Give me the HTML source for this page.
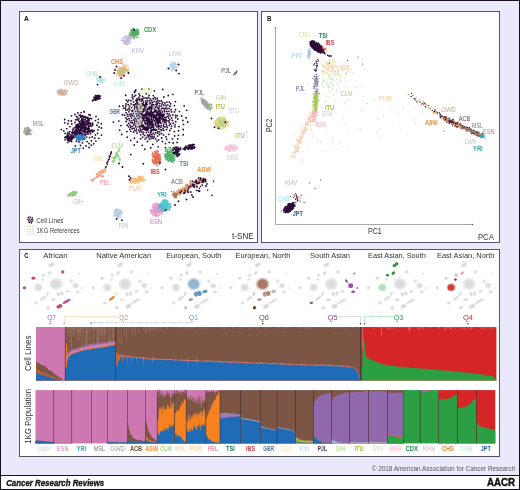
<!DOCTYPE html>
<html lang="en"><head><meta charset="utf-8"><title>Figure</title>
<style>html,body{margin:0;padding:0;background:#fff}body{width:520px;height:490px;overflow:hidden}svg{display:block;font-family:'Liberation Sans', sans-serif}</style></head><body>
<svg width="520" height="490" viewBox="0 0 520 490">
<rect x="0" y="0" width="520" height="490" fill="#17101f"/>
<rect x="1" y="1" width="518" height="474" fill="#e9e9fb"/>
<rect x="1" y="476" width="518" height="13" fill="#fff"/>
<rect x="19.5" y="11.5" width="238" height="231" fill="#fff" stroke="#55555e" stroke-width="1"/>
<rect x="261.5" y="11.5" width="238" height="231" fill="#fff" stroke="#55555e" stroke-width="1"/>
<rect x="19.5" y="249.5" width="480" height="207" fill="#fff" stroke="#55555e" stroke-width="1"/>
<g id="panelA" fill="none" stroke-linecap="round">
<path d="M134.7 32.2h0M135.5 33.3h0M133.9 32h0M132.2 31.2h0M133.4 32.6h0M131.9 30.6h0M134.9 29.9h0M138.5 33.3h0M133.3 35.8h0M133 29.3h0M136.1 33.4h0M135.7 31.7h0M135 30.8h0M132.1 35.7h0M134.6 32h0M136.7 37.4h0M130.9 31.3h0M133.4 34.4h0M129.4 32.8h0M131.1 31.4h0M129.5 35h0M134 33h0M131.1 35h0M135.5 33.3h0M135.1 30.5h0M134.2 33.1h0M133.2 36h0M134.6 31h0M135 33.3h0M133.4 35.1h0M132 30.5h0M132.4 28.6h0M137.7 33.2h0M132.4 36.4h0M134.6 29.3h0M137.2 30.5h0M133.1 31.4h0M134.4 30.4h0M135 34.4h0M134.9 31.2h0M131.3 31.5h0M134.9 35h0M138.5 31.4h0M130.4 34.6h0M137.1 30.8h0M135 30.1h0M132.9 28.5h0M136.8 32.5h0M131.3 34.1h0M134.9 33.3h0M136.3 33.8h0M134.2 33.5h0M134.5 30.6h0M136.6 29.2h0M138.7 30.7h0M132.8 29.8h0M135.3 35.4h0M133.4 35.6h0M135.1 30.8h0M131.4 29.7h0M133.1 32.4h0M134.1 37.1h0M137.9 34.8h0M131 30.5h0M132.5 36.2h0M136.5 30.5h0M133.4 29.4h0M134.4 30.8h0M138.2 37.1h0M136.6 35.6h0M133.8 32.3h0M133.7 31.1h0M134 28.3h0M139 32.3h0M133.5 33.3h0M133.8 33.2h0M135.7 33.1h0M134.4 30.4h0M134.1 33.2h0M131.6 33.3h0M134.7 36.9h0M133.5 38.4h0M138 33h0M136.5 31.3h0M134.6 33.2h0M136.6 31.8h0M133.7 31.4h0M137.7 33.2h0M134.7 30.6h0M136.3 35h0M131.1 33.1h0M135.7 34.1h0M130 32.9h0M133.8 30.9h0M132.2 32.8h0M135.2 31.9h0M132.4 33.4h0M132.9 29.7h0M135.3 33.6h0M136.1 29.8h0M134.2 31.7h0M134.1 32.6h0M136.2 33.6h0M131.8 33.8h0M134.5 33h0M134.8 32.3h0M131.7 32.4h0M135.4 30.8h0M132.3 32.7h0M137.4 31.9h0M135.2 33.6h0M135 30.2h0M133 34h0M134.4 33.8h0M131.5 32.2h0M135.7 34.9h0M137.1 34.6h0M129.8 34.1h0M136.8 34.2h0M132.3 34.4h0M136.9 31.6h0M135.1 32.7h0M130.4 35.1h0M138.2 34.6h0M138.7 34h0M134.5 29.3h0M133.9 34.8h0M134.3 36.5h0M132 36.1h0M137.8 34h0M133.2 29.2h0M134.6 35.9h0M132.5 33h0M131.1 34.4h0M138.2 29.4h0M134.3 29.9h0M137.4 31.7h0M134.7 36.8h0M132.8 32.4h0M133.8 34.1h0M133.1 38.1h0M134.7 37.7h0M133.6 33.1h0" stroke="#2f9e44" stroke-width="1.35" stroke-opacity="0.85"/>
<path d="M129.2 41h0M126.2 38.6h0M128.8 37.8h0M125.2 40.7h0M126.4 43.1h0M127.5 39h0M130 37.4h0M121.7 39.1h0M125.8 37.2h0M126.6 40.8h0M126.9 41.2h0M130.3 38.5h0M127.5 42.1h0M128.9 39h0M123.5 37.9h0M129 40.6h0M128.8 38.7h0M127.3 41h0M127 40h0M124 38.5h0M126.3 43.6h0M127.9 40.1h0M128.7 39.9h0M125.4 42h0M127.5 42.4h0M125.8 43.3h0M126.9 41h0M126.2 38.7h0M123.4 38.9h0M126.5 41.4h0M129.1 41.6h0M123.9 43.6h0M125.9 41.2h0M128.5 42.8h0M123.6 43.9h0M127.1 40.6h0M123.6 36.6h0M129.8 37.3h0M126 38.1h0M128.7 43.2h0M126.9 41.6h0M126.9 44.4h0M130.9 42.6h0M122.9 40h0M129.6 39.7h0M126.5 40.4h0M130.6 40.6h0M127.1 38.9h0M124.7 40.1h0M127.4 44.1h0M128.7 36h0M126.7 40.8h0M128 38h0M125.1 40.7h0M129.1 40.1h0M128.6 42.1h0M127 36.3h0M126.8 42.9h0M129.5 38.7h0M125.3 41.7h0M124.6 40.6h0M129.9 38.4h0M122.7 40.7h0M129.9 44h0M124.8 40.9h0M123.5 40.8h0M130.1 36.8h0M126.3 43.7h0M125.6 40.3h0M129.2 39.7h0M125.4 42.4h0M128.6 41.9h0M124.8 43.3h0M127.6 41.5h0M126.5 37.8h0M125.1 43.5h0M125.2 37.2h0M126.8 39.7h0M126.7 40.9h0M125 42.4h0M125.4 41.2h0M129.7 41.1h0M127.2 38.3h0M129.1 37.1h0M130 40.4h0M128.3 38.5h0M124.3 37.1h0M128.9 39h0M125.7 35.7h0M121.1 40.6h0M123.9 41.2h0M128.8 36.5h0M128.7 38.5h0M126.4 42.4h0M127.9 39.7h0M128.4 39.4h0M126.4 44.4h0M129.5 39.4h0M128.4 37h0M123.7 41h0M129.3 40.9h0M126 36.9h0M124.1 37.8h0M127.6 41.5h0M124 41.6h0M124 38.6h0M122.2 41.7h0M126.5 41.6h0M128 35.8h0M129.5 39.4h0M126.2 41.2h0M129.5 38.8h0M126.3 39.5h0M128.2 42h0M129.6 44.1h0M126.1 37.4h0M126.8 42.5h0M124.1 43.2h0M129.5 42.6h0M125.5 40.6h0M127.9 37.4h0M124.3 41.7h0M127.6 38.5h0M127.6 44.6h0M131.6 38h0M129.3 43.8h0M124.7 44.1h0M125.5 44h0M127.8 40.1h0M126.8 37.3h0" stroke="#c3add6" stroke-width="1.35" stroke-opacity="0.85"/>
<path d="M129.7 36.6h0M130.8 36.7h0M128.9 37.6h0M129.2 35.1h0M129.7 35.6h0M133.8 37.4h0M129.9 37.2h0M129.7 36.4h0M129.7 36.1h0M130.3 35.7h0M131.5 36.9h0M130.8 38.8h0M133.6 35.4h0M130.8 39.3h0M132.7 38.3h0M130.9 36.3h0M131.4 38.2h0M128.3 34.8h0M130.3 34.4h0M130.4 35.1h0M130.1 36.4h0M127.3 36.5h0M131.8 36.2h0M129.9 37.1h0M129.8 33.8h0" stroke="#9fb59f" stroke-width="0.9" stroke-opacity="0.7"/>
<path d="M123.9 69.9h0M117.7 74h0M118.5 70.6h0M121.8 72.8h0M118.6 73.4h0M120.3 76.5h0M119.5 73.5h0M121.7 70.4h0M124.2 69.8h0M123.6 69.2h0M118.3 72.2h0M119.4 72.2h0M121.1 74.8h0M124.7 71.2h0M120.2 71.4h0M119.4 72.2h0M123.6 70.5h0M124.4 67.5h0M122.3 69.1h0M126.7 69.9h0M123 71h0M123.7 65.6h0M128.2 70.5h0M123.8 73.2h0M125.3 66.2h0M124.3 72.2h0M121.2 69.3h0M121.7 75.6h0M121.1 71.3h0M123 67.4h0M117.9 73.6h0M122.8 67.8h0M123.6 70.5h0M123.4 70.6h0M121 70.2h0M120.3 73.1h0M119.1 67h0M126.2 71.6h0M120.9 73.2h0M124 68h0M116.8 75.3h0M124 69h0M120.6 70.5h0M123.5 67.8h0M118 71.5h0M122.7 74.9h0M121.7 75h0M119.9 72.3h0M121.7 71.8h0M119.1 73.2h0M126.5 68.9h0M128.6 68.3h0M120.8 73.3h0M116.2 74h0M124.2 66.5h0M128.4 71.5h0M124.1 68.4h0M125 67.5h0M122.5 76.1h0M123.8 73.6h0M119.4 75.6h0M117.6 73.8h0M121.1 73.5h0M122.2 70.5h0M118 69.8h0M122.1 66.3h0M128.1 67.3h0M124.4 70.6h0M118.4 73.6h0M121.2 67.7h0M123.6 64.6h0M120.3 71.6h0M117.5 70.1h0M126.8 70.2h0M124.8 72.9h0M122.8 73.7h0M119.1 71.7h0M121.6 68.5h0M124.5 66.9h0M124 68.9h0M119.6 76.9h0M124.5 71.2h0M125.9 69.9h0M124 70.3h0M126.4 69.7h0M123.4 75.3h0M117.7 71.3h0M124.1 67.7h0M116.8 70.9h0M127.5 71h0M121.6 74.3h0M119.3 69.4h0M118.7 74.9h0M118.2 73.9h0M119.2 74.1h0M120.9 71.5h0M124.3 71.1h0M125.9 70.8h0M119.4 74.5h0M118.8 73.1h0M124 69.1h0M121.3 70.3h0M119.4 76.5h0M127 65.8h0M120.4 73.8h0M122.3 69.6h0M120.2 67.5h0M127.9 69.2h0M119.1 70h0M126.4 69.8h0M121 73.7h0M118.5 71h0M120.4 70.9h0M121.1 67.8h0M123.9 72.2h0M124 70.9h0M119.2 72.2h0M124.9 69.7h0M117.6 72.5h0M125.4 68.1h0M126.7 69.1h0M120.8 72.5h0M119.7 71.7h0M120.8 68.4h0M122.6 71.3h0M120.2 74.2h0M123.4 69h0M122.1 73.2h0M121 71.1h0M123.8 70.9h0M119.5 74.9h0M122 71.7h0M119.2 71.2h0M120.9 77.2h0M118.5 73.5h0M121.9 68.5h0M119.2 73h0M122.8 71.2h0M124.3 67.2h0M125.1 68.3h0M121.1 71.3h0M120.6 75.3h0M124.4 71.6h0M125.9 68.7h0M124.5 73.3h0M127.5 70h0M127.7 72.2h0M126.3 71.3h0M123.5 69.5h0M123.9 70.5h0M123.3 70.8h0M123.5 71h0M125.4 68.9h0M119.5 70.7h0M120.8 69.9h0M122.2 71.4h0M121.6 71.6h0M122.7 73.2h0M120.3 76h0M120.5 73h0M124.4 75.1h0M120.7 68.1h0M126.8 70.7h0M120.3 74.4h0M124 70.9h0M125.9 71.2h0M126.1 65h0M119.3 71.6h0M122.5 67.8h0M121.8 68.7h0M119.3 73.4h0M119.6 68.2h0M119.7 69.6h0M123.9 69.3h0M124.5 70.4h0M117.7 68.3h0M117.1 72.8h0M125.5 66.1h0M123.1 70.4h0M124.1 67.3h0M127.9 69.3h0M120.7 72.2h0M124.6 69h0M121.6 71.6h0M123.4 72.6h0M121.2 70.3h0M124.3 73.2h0M126.3 69.1h0M122.9 71h0M121.9 71.5h0M122.5 72.7h0M125.1 72.2h0M121.5 75.2h0M121.6 73h0M123.7 72.9h0" stroke="#f2a36b" stroke-width="1.35" stroke-opacity="0.85"/>
<path d="M122.3 72h0M121.1 71.6h0M119.6 70.2h0M122.7 71.5h0M119.5 73.7h0M120.1 72.7h0M124.3 70.8h0M122.4 70.5h0M119.1 72.3h0M118.4 72.1h0M120.6 71.7h0M121.8 71.4h0M122.3 70.7h0M121.6 70.8h0M119.3 71.7h0M121 68.8h0M122.1 72.1h0M121.3 73.5h0M121.8 72.7h0M120.2 70.8h0M122.9 72.9h0M121.4 70.4h0M119.4 71.5h0M119.5 72.5h0M122.7 70.7h0M119.2 75.6h0M121.1 73.7h0M124.2 69.5h0M120.4 73.2h0M123.7 72h0M122.6 68h0M124 69.1h0M123 70.4h0M120.6 71.8h0M121.7 70.9h0M121.4 75.1h0M120.4 74.8h0M123.3 70.4h0M119.5 73.8h0M121.6 73.4h0" stroke="#9fcf7a" stroke-width="1.2" stroke-opacity="0.9"/>
<path d="M100.5 78.7h0M99.4 78.1h0M101.9 80.4h0M100.4 81h0M102.5 83.1h0M101.9 80.1h0M101.7 79.8h0M102.7 82h0M102.9 80.1h0M100.1 78.9h0M96.8 78h0M103.5 79.8h0M101.9 81.6h0M100.4 78h0M99.1 79.8h0M100.3 80.7h0M99.4 78.4h0M98.5 79.9h0M100.8 80.1h0M98.7 77.8h0M97 80.7h0M98.4 80.2h0M102 80.8h0M102.1 82.1h0M99.7 81.9h0M100.3 80.7h0M99.5 80.6h0M97.5 78h0M103.4 79.8h0M101.1 80.4h0M98.4 80.2h0M99.9 78.5h0M102.4 82.8h0M96.8 79.3h0M97.9 80.7h0M100.4 79.6h0M101 82.3h0M100 80.8h0M102.6 80.1h0M102.6 79.6h0M101 80.2h0M100.3 78.2h0M99.6 81.2h0M101.5 78.7h0M102.4 81h0M100.3 80.2h0M101.3 82h0M99.4 80h0M96.8 81.9h0M97.8 78.3h0M102.1 81.1h0M101.3 79.6h0M104.1 80.4h0M100.3 80.1h0M102.3 81.7h0M102.6 80.6h0M98.7 77.3h0M99.7 82.2h0M100.5 76.4h0M97.8 78.2h0M101.4 76.9h0M102.7 83h0M99 77.6h0M105 80.2h0M99.5 79h0M99.7 76.7h0M99.6 79.4h0M98.5 81.2h0M101.2 79.7h0M100.2 81.7h0M104.3 79.3h0M101.7 80h0M101.5 79.3h0M99.7 80.6h0M100 80.7h0M98.1 80.4h0M102.5 78.9h0M100.1 78.6h0" stroke="#a6dfe3" stroke-width="1.35" stroke-opacity="0.85"/>
<path d="M171.8 65.2h0M173.8 65.9h0M174.7 64h0M174.6 67.6h0M173.1 70.9h0M172.7 66.6h0M173.4 69.4h0M174.6 65.3h0M174.1 65.2h0M174.2 64.7h0M173.4 66.1h0M171.4 70.9h0M172.5 63.6h0M171 70.4h0M175.3 63.9h0M172.6 68.4h0M172.3 67.1h0M173.1 67.3h0M175.9 63.9h0M174.4 65.9h0M173.3 66.9h0M172.3 63.6h0M173.3 63.2h0M171.9 68.8h0M172 65.8h0M173.9 67.8h0M174 64.7h0M174.8 65.2h0M173.4 69.5h0M170 64h0M174.3 62h0M172.4 67.4h0M172.5 63.6h0M169.8 65.3h0M171.8 68.6h0M171.5 64.4h0M173 68.5h0M169.9 64.7h0M173.2 70h0M173.4 69.6h0M170.6 65.2h0M171.7 65.9h0M171.2 64.4h0M175.1 66.9h0M172.3 62.9h0M169.5 68.6h0M172.2 63.2h0M175 64.3h0M171.7 62h0M171.2 66.5h0M177.4 67h0M175.1 64.8h0M175.6 69h0M170.7 66.5h0M172.7 65.5h0M172.5 66.4h0M173.8 68h0M170.3 64.4h0M174.8 66.5h0M173.1 68.7h0M174.2 66.9h0M171.6 67.3h0M174.2 65.5h0M171.6 67.2h0M175.2 66.5h0M175.6 70h0M175.1 68.2h0M174.2 65.8h0M174.9 68.2h0M172.5 64.2h0M172.5 63.6h0M170 68.7h0M171.9 63.8h0M174.5 65.3h0M176.2 66.9h0M171.7 69.4h0M171.1 66.4h0M176.3 66.2h0M171.2 65.1h0M173.2 69h0M171.2 66.2h0M175.3 63h0M176.8 64.5h0M169.9 67.8h0M176.5 64.6h0M172.5 68.6h0M176.4 67.3h0M172.3 67.1h0M169.6 68h0M174.2 67.6h0M175.1 64.3h0M174.6 63.5h0M172.6 65.2h0M172 69h0M172.5 66h0M171.3 64.4h0M172.5 63.2h0M173.5 68.9h0M173 69.8h0M174.8 68.9h0M172 63.9h0M174.3 66.8h0M170.4 64.7h0M171.8 66.8h0" stroke="#a9cdea" stroke-width="1.35" stroke-opacity="0.85"/>
<path d="M235.1 73.9h0M235.3 72.8h0M235.6 73h0M236.5 70.8h0M234.5 74.2h0M234.2 73.1h0M233.6 74.8h0M235.7 72.2h0M235.1 73.7h0M235.9 72.5h0M234.2 74.2h0M235.3 73.7h0M236.5 71.8h0M235.4 73.4h0M236.3 72.5h0M235.9 72.3h0M234.9 73.3h0M233.9 75h0M236.2 71.7h0M235.7 72.9h0M236.8 72.1h0M233.6 74.9h0M234.5 74h0M236.4 71.7h0M236.4 72.6h0M235.2 72.9h0M235.4 72.8h0M236.4 72.3h0M234.9 73.2h0M235.7 72.5h0M236.2 73.4h0M235.2 73.7h0M236.9 71.4h0" stroke="#5d5468" stroke-width="1.35" stroke-opacity="0.85"/>
<path d="M209.4 104.6h0M206.4 107.7h0M202.7 99.4h0M203.7 105h0M202.3 100.7h0M204.6 105.4h0M203.4 102.4h0M207.8 108.9h0M206.9 105.4h0M204.6 100.6h0M204.9 104.4h0M201.8 100.9h0M206.6 104.4h0M206.3 101.6h0M207.2 105.1h0M206.9 108.7h0M203.5 99.1h0M205.3 106.8h0M202.7 103h0M205.3 105.1h0M206.3 105.4h0M207.1 106.1h0M205.3 101.2h0M206.8 103.8h0M201.9 101h0M202 99.7h0M204.9 107.3h0M205.9 103.3h0M203.9 100.9h0M205.4 104.1h0M209.1 108.8h0M208.2 107h0M208.7 105.4h0M206.2 102.9h0M206.1 105.9h0M207 104.7h0M208.1 103.9h0M203.4 104.5h0M210.4 107.4h0M204.9 103.9h0M203.6 100.5h0M204.4 102.1h0M209.2 106.9h0M203.6 100.8h0M206.6 104.5h0M206.1 101.7h0M207.8 104.6h0M205.7 105.4h0M209.9 110.2h0M207.2 105.6h0M206.5 103.1h0M207.7 107.8h0M207 101.3h0M205.2 102.4h0M204.6 100.5h0M204.3 102.5h0M206.6 103.3h0M204 99.9h0M207.5 107.7h0M202.3 102.6h0M204.3 102.2h0M203.6 103.6h0M202.3 101.6h0M201.6 101.8h0M207.2 106.3h0M207.6 106h0M207.2 102.4h0M202.7 100.3h0M206.9 106.7h0M205.8 102.6h0M204.4 105h0M203.9 104.8h0M204.7 101.7h0M205.1 107.3h0M201.6 100.1h0M203.8 99.3h0M203.2 104.4h0M204.1 101.5h0M206.8 104.2h0M208.1 107h0M206.9 104h0M204.9 105.5h0M204.8 104.7h0M206.4 107.6h0M200.3 98.9h0M207.5 104.1h0M203.5 100.9h0M201.5 101h0M206.1 103.4h0M207.4 105.3h0M209.1 106.5h0M204.6 104.3h0M210.6 109.7h0M208.1 106.2h0M208.8 108.6h0M204.9 104.9h0M201.2 100.3h0M203.2 100.2h0M206.9 106.4h0M207.1 107.5h0M202.9 102.4h0M207.3 103.7h0M202.2 97.8h0M205 102.6h0M209.5 108.8h0M204.7 104.1h0M210.4 109.2h0M204.3 102.3h0M201.6 103.1h0M207.7 107h0M202.9 104.2h0M205.7 104.8h0M201.6 98h0M209.6 108.2h0M203.5 103.8h0M204.7 103.8h0M206.9 107.5h0M207.6 107.2h0M204 102.1h0M205.5 104.4h0M206.3 105.3h0M208.5 106.4h0M206.5 103.7h0M210 109h0M206.2 102.2h0M205.6 100.8h0M203 103.7h0M203.7 101.4h0M208.3 106.7h0M206.3 104.6h0" stroke="#8a8e96" stroke-width="1.35" stroke-opacity="0.85"/>
<path d="M209.8 104.5h0M208.3 106.6h0M212.6 107.4h0M211.8 104.2h0M211.5 108.3h0M210.6 107.9h0M211.3 105.5h0M211.6 105.4h0M211.3 105.9h0M211.2 107.3h0M209.4 105.5h0M210.7 104.6h0M209.8 106.5h0M209.1 103.3h0" stroke="#7db55a" stroke-width="1.2"/>
<path d="M222.1 123.9h0M226.5 131.2h0M222.8 120.5h0M224.9 124.9h0M223.6 125.9h0M224.6 119.2h0M222.1 123.8h0M217.9 123.7h0M220.5 121.1h0M221.2 125.3h0M226.9 127.1h0M228.5 127.5h0M223.3 122.2h0M218.3 123.8h0M218.4 132.4h0M220.7 118.6h0M227.5 123.9h0M222.9 126.6h0M221.3 123.6h0M218.2 125.6h0M225.3 123.7h0M222.7 126h0M221.3 128.1h0M221.9 122.1h0M228.8 123.8h0M220.8 122.8h0M228.8 121.4h0M226.8 122.9h0M221.7 118.5h0M225.3 126h0M221 129.8h0M217.9 129.8h0M220.3 128.1h0M217.6 119.1h0M223.7 129.1h0M221.6 120.1h0M223.9 122.8h0M225.1 130.4h0M208.1 118.7h0M222.8 126.4h0M213.8 124.1h0M222.2 122.4h0M217.7 119.5h0M221.9 124.7h0M227.4 121.1h0M214.2 127.2h0M222.3 127.9h0M221.2 117.5h0M213.4 121h0M224.3 121.7h0M221.6 118.3h0M219.3 118.5h0M218.4 123.4h0M235.3 122.2h0M219.8 116.4h0M213.8 120.8h0M217.5 125.1h0M219.9 118.2h0M219.8 119.3h0M221.2 129.4h0M217 128.3h0M223.8 116.5h0M219.4 117.6h0M215.6 124.5h0M218 118.2h0M219.8 122h0M225.1 121.2h0M223.6 125.2h0M220 112.9h0M221.6 114.2h0" stroke="#ececa8" stroke-width="1.2" stroke-opacity="0.8"/>
<path d="M217 126.1h0M225.2 121.8h0M220.9 117h0M215.2 122.1h0M223.3 119.3h0M224.1 125.4h0M220.6 120.5h0M220.3 129.1h0M223.1 123.7h0M225.9 120.6h0M222.1 121.6h0M223.5 119.7h0M221.3 124.5h0M220.1 128.2h0M218.1 122.5h0M222.4 126.3h0M220.4 120.1h0M220.6 124.3h0M223.3 118.6h0M224.7 127.3h0M223.5 117.1h0M219.3 118.5h0M218.5 120h0M218.4 126.4h0M225.9 121.8h0M224.5 122.7h0M218.9 125.6h0M217.3 123.6h0M221.6 124h0M219.8 122.2h0M216.2 120.7h0M220.6 122.1h0M221.5 120.6h0M222 125.4h0M224.3 124.7h0M220.2 124h0M219.5 118.8h0M215.1 120.5h0M222.4 125.8h0M224.6 120.4h0M220.5 124.4h0M225.8 122h0M227 122.9h0M222.7 119.4h0M217.6 119.6h0M219.2 120.3h0M215.9 123.7h0M215.1 123.2h0M222.5 126.4h0M224.7 123.8h0M228.7 123.7h0M221.3 124.3h0M220.6 122.8h0M217.4 124.2h0M225.1 125.8h0M222.9 125.8h0M219.3 121.4h0M224 117.4h0M223.6 120.6h0M214.7 124.1h0M222 121.6h0M220.1 124.7h0M220 121.4h0M217.3 122.4h0M219.1 127.6h0M224.8 127.5h0M217.1 119.5h0M228.3 122.3h0M225.4 119.6h0M223.2 123.4h0M222.3 118.9h0M220 123.2h0M220 126.8h0M223.8 123.9h0M218.9 122.3h0M219.7 120.2h0M218.3 126.4h0M226.3 122.2h0M221 123.9h0M223.5 123.3h0M220 123.6h0M223.5 120.6h0M216.6 121.3h0M225.5 124.6h0M215.8 122.8h0M222.6 120.8h0M223.1 120.9h0M221.9 123h0M217.1 123.7h0M224.8 123.4h0M216.1 121h0M219.8 123.2h0M218.6 118.6h0M224.6 123h0M219.2 117.7h0M223.6 120h0M224 119.2h0M215.2 125.2h0M217.2 119.1h0M220.1 124h0M219.3 121.5h0M222.6 119h0M224.1 124.6h0M224.2 124.4h0M220.9 125.6h0M221.5 124h0M219.5 124h0M223.6 122.7h0M221.2 123.4h0M224.2 121.9h0M219.9 120.1h0M217.8 123.9h0M223.3 124.5h0M216 123.5h0M224.2 119.9h0M217 122.4h0M221.8 121.5h0M218.2 119.5h0M219.9 122.9h0M222.1 121.7h0M221.1 121.2h0M220.1 125.3h0M221.5 124.5h0M217.9 121h0M224.9 124.4h0M224.5 123.2h0M226 123.8h0M218.1 120.4h0M225.4 120.2h0M225.7 123.6h0M221.5 125.5h0M222.4 126.5h0M219.4 123.3h0M219.5 120.1h0M222.6 120.8h0M223.6 117.9h0M215 124.7h0M221.7 120.3h0M224.6 117.4h0M221.4 123.5h0M228.4 121.9h0M226.3 125.2h0M223.5 120.5h0M221 117.9h0M222.9 118.6h0M220.4 122.5h0M221.3 120.4h0M220.7 117.7h0M218 120.5h0M222.4 123.7h0M220.3 124.8h0M220.4 126.2h0M221.2 124h0M222.4 121.3h0M217.1 123.5h0M221 125.7h0M223.2 121.9h0M219.8 121.9h0M225.7 121.4h0M224.3 120.8h0M217.9 119.2h0M222.7 121.1h0M227.2 124.1h0M221.3 117.6h0M219 128.5h0M216.2 126.5h0M223.5 122.2h0M222.4 120.9h0M223.4 126.9h0M221.4 123.5h0M222.7 124.7h0M219.6 120.5h0M223.2 126.4h0M224.5 120.2h0M221.3 123.2h0M224.5 117.2h0M215 120.7h0M218.6 124.5h0M226.8 121.4h0M227.9 121.4h0M222.4 125.4h0M221.1 122.6h0M216.9 126.9h0M224.3 124.7h0M216.1 124.5h0M223.5 117.8h0M223.3 118.6h0M223.1 125.7h0M217.4 119.3h0M223.5 120.7h0M216 124.8h0M226.9 121.7h0M222 124.4h0M217.2 120h0M226.4 123.8h0M225.7 126.4h0M219.1 123.9h0M217.8 125h0M222.6 123h0M225.8 119.9h0M221.3 129h0M221.4 120.7h0M217.6 128h0M222.7 122.7h0M217.4 118.5h0M218 123.1h0M219.9 123.9h0M217 124.6h0M227.3 126.3h0M216.6 119.9h0M218.7 124.4h0M220.3 125.2h0M221.5 121.9h0M224.4 119.8h0M224.5 119.7h0M220.4 125.3h0M220.1 125.4h0M221.6 120.1h0M224.5 118.4h0M224.1 126.9h0M219.6 117.7h0M222.5 123.2h0M222.7 122.2h0M219.6 127.5h0M220.3 122.2h0M220.7 126.2h0M219.2 126.2h0M216.2 121.1h0M220.4 120h0M223.6 128.1h0M219.7 121.6h0M221.6 122.7h0M220.7 122.4h0M221.1 120.8h0M217 125.3h0M223 121.6h0M218.5 118.3h0M223.3 123h0M220 117.9h0M223.8 120.7h0M220.3 126.8h0M221.2 124h0M220.3 119.3h0M223.9 125.4h0M220.1 120.5h0M224.6 127.8h0M225.8 125.3h0" stroke="#c9cf68" stroke-width="1.35" stroke-opacity="0.85"/>
<path d="M224.9 119.6h0M222.7 128.2h0M223.2 125.4h0M220.7 123.7h0M221 120.6h0M223.1 121.6h0M220.7 123.5h0M219.2 120.7h0M221.9 126.6h0M224.2 123.2h0M219.4 123.8h0M224.5 120.6h0M223.7 120.9h0M219.8 121.1h0M221.9 123.5h0M221.8 122.3h0M223.5 122.3h0M223.6 123.6h0M218.7 123.4h0M218.6 126.3h0M224.5 122.5h0M222.2 120.6h0M222.9 122.9h0M222.7 126.2h0M225.7 121.7h0M218.9 123h0M224.6 122.1h0M219.9 123.8h0M223.7 123.5h0M225.2 121.1h0M218.5 122.4h0M222.9 125.1h0M221.2 125.4h0M221.2 125h0M222 124.9h0M219.3 122.2h0M219.5 122.1h0M223.5 125h0M224 120.3h0M220.5 122.8h0" stroke="#b6c7a0" stroke-width="1.1" stroke-opacity="0.8"/>
<path d="M224.2 148.9h0M229.5 147.8h0M228.3 148.6h0M226.5 148.4h0M233 150.5h0M228.2 148.2h0M229.6 145h0M230 147.3h0M228.2 150.3h0M236 148.9h0M229.1 147h0M231.6 149h0M226.2 148h0M229.2 149h0M229.7 144.8h0M229.8 146.1h0M228.8 149.1h0M231.4 147.4h0M236.5 148.5h0M230.4 151.5h0M230.4 147.2h0M229.5 148.3h0M236.7 146.6h0M232.9 147.7h0M233.4 145h0M230.3 150.4h0M231.6 147.6h0M231.3 149.9h0M227.8 148h0M228.1 148.1h0M232.7 149.1h0M232 149.2h0M231.2 150.1h0M235.5 146h0M228.6 148.2h0M225.7 148h0M233.9 151h0M226.9 147.1h0M226.4 149h0M229.7 147.9h0M228.7 146.2h0M226.4 146.1h0M232.5 148.4h0M231.7 144.8h0M236.8 146.2h0M226.3 149h0M225.2 146.6h0M229.8 146.1h0M232.2 145.7h0M232.2 148.1h0M234.8 147.1h0M225.5 148.1h0M227.9 147.4h0M230.4 151.3h0M233.9 147h0M229.4 148h0M227.2 147.8h0M234.1 148.1h0M234.3 144.8h0M230.3 147.7h0M236.7 147.7h0M228.9 148.7h0M228.5 147.7h0M229.2 150.4h0M227.7 147h0M228.9 145.5h0M230.7 148.1h0M229.3 146.1h0M233.3 148.6h0M230.6 145.7h0M230.9 147.6h0M236.2 147.4h0M232 147.7h0M231.4 146.8h0M230.8 146.3h0M231.1 147.7h0M232.9 146.7h0M228 148.1h0M235 147.3h0M235 147.7h0M229.1 150.4h0M225.2 148.4h0M229.3 148.9h0M231.4 148.7h0M233.9 146.9h0M230.2 145.3h0M229.8 149.3h0M236.3 149.8h0M228.5 148.9h0M234.7 148.6h0M234.1 148.6h0M226.1 147.8h0M231.9 148.3h0M228.9 147.8h0M227.5 148.4h0M225.3 146.6h0M232.4 148.9h0M229.5 147.2h0M227.1 148h0M229.9 151.4h0M225.4 149.2h0M224.9 149.1h0M232.5 146.6h0M231.4 145.7h0M227.5 147.4h0M230.5 147.9h0M233.3 146.4h0M237.5 148.1h0M227.7 149.1h0M233.1 148.9h0M236.2 147.8h0M236.1 148.7h0M230.9 150.9h0M233.7 148.4h0M234.7 149.9h0M235.2 150.9h0M235.2 147.9h0M230.8 148.3h0M228.2 149.4h0M229.2 147.8h0M230.8 146.9h0M232.3 146.4h0M229.2 147.8h0M231.1 146.7h0M234 149.3h0M232.1 147.2h0M226.8 145.5h0M228.9 149.9h0M226.2 147.1h0M226.7 150.4h0" stroke="#f3b6d0" stroke-width="1.35" stroke-opacity="0.85"/>
<path d="M62.2 95.6h0M63 90.8h0M61.2 92.1h0M62 91.3h0M64.3 91.9h0M62.3 93.8h0M65.8 93.5h0M60.3 91h0M62.8 92.1h0M58.5 92.5h0M62 91.6h0M60.5 92.3h0M65.9 91h0M64.3 91h0M63.6 92.4h0M67.2 90.4h0M66.1 93.2h0M64.2 92h0M60.5 90.6h0M58.5 91.2h0M62.2 91.5h0M61.4 92.1h0M60.6 92.6h0M61.5 92h0M57.9 90.7h0M59.3 94.1h0M60.5 92.6h0M63.8 94.2h0M58 93h0M64.7 91.9h0M64.8 92.5h0M59.4 94.2h0M61 94.3h0M57.4 91.6h0M66 93.5h0M60.4 93.2h0M59.9 94.4h0M63.8 94.7h0M66.3 93.6h0M58.9 95.3h0M60.8 92.8h0M57.6 93.3h0M64.1 91.2h0M62 92.6h0M61.1 95h0M60.4 91.4h0M64.6 92.3h0M58 90.9h0M64.3 92.4h0M63 91.6h0M61 93.4h0M59.9 92.1h0M65.1 91.2h0M67.2 91.8h0M61.1 92.1h0M63.7 91.4h0M66.9 94.1h0M60.7 93.6h0M61.6 92.6h0M59.1 90.1h0M61.9 93.3h0M62.1 89.9h0M61.2 92.7h0M60.3 92.4h0M58.1 91.2h0M58.7 90.8h0M59.7 91h0M60.9 91.9h0M60 92h0M64 94.2h0M63.8 93.1h0M60.3 94.3h0M60.6 90h0M64.1 90.3h0M60.1 92.3h0M62.9 91.8h0M62.2 92.7h0M65.3 94.2h0M60 90.1h0M64.7 92.9h0M63.5 92.3h0M59.6 93.6h0M65.1 92.7h0M64.7 91.4h0M58.8 90.7h0M59.2 94.2h0M59.8 89.6h0M61.4 91.6h0M64.4 95.5h0M63.9 91.6h0M62 93.5h0M66 92h0M63.4 93.7h0M66 92.4h0M62.8 94.9h0M61.1 89.8h0M59.4 91.7h0M62.5 93.4h0M62.6 90.3h0M59 93.8h0M59.2 93.8h0M61.8 91.1h0M64.9 89.2h0M62.4 91.6h0M62.3 92.5h0M63.1 93.1h0M59.5 92.2h0M62.2 92.2h0M65.1 91.2h0M65.2 91.5h0M63.6 92.9h0M61.5 93.4h0M60.1 93.6h0M65.9 94.2h0M63.7 94.6h0M61.2 89h0M59.9 92h0M57.1 91.1h0M65.7 94.3h0M62.8 93.8h0M60.3 92.1h0M61.5 92.6h0M65.6 91.7h0M58.6 91.8h0M61.9 94h0M58.9 93.2h0M62.8 93h0M66.6 91.3h0M62.4 90.6h0M61.3 92.3h0" stroke="#c9a28f" stroke-width="1.35" stroke-opacity="0.85"/>
<path d="M25.7 131.3h0M29.6 131.2h0M30.4 131.8h0M29.7 130.5h0M29.9 131.4h0M28.4 133.7h0M24.7 133.2h0M26.4 132.1h0M27.1 131.9h0M25 129.3h0M28.2 127.6h0M27.6 129.9h0M23.7 131.3h0M29.6 132.3h0M29.7 133.8h0M24.9 130.1h0M28.3 129.6h0M29.6 133.1h0M27.3 134h0M29.9 130.4h0M28.4 132.2h0M30.4 134.4h0M28.4 132.1h0M27.6 131.3h0M29.7 134.3h0M28.5 132.8h0M27 131.7h0M26.2 130.4h0M27.1 128.7h0M26.7 131.2h0M28.4 131.2h0M28.4 133.8h0M27.8 128.7h0M28 134.6h0M28.4 131.5h0M31.5 134h0M30.7 129.3h0M26.7 132.2h0M28.9 134.1h0M27.2 131.7h0M27.8 128.2h0M27.4 130.7h0M26.6 132.6h0M24.9 128.3h0M28.4 131.9h0M30.6 129.3h0M25.9 132.9h0M29.1 128.8h0M27.1 127.4h0M28.6 129.7h0M26.2 134.7h0M27.4 129.5h0M27.7 131.4h0M28.4 129.3h0M27.7 133.8h0M29.4 132.4h0M27.9 127.7h0M28.4 127.6h0M27 131h0M25.5 130.9h0M27 133h0M27 134.7h0M32.1 130.8h0M26.9 132.4h0M27 134.8h0M28.7 129.6h0M29.2 132.8h0M26.4 130.9h0M25.7 130.7h0M30.3 129.7h0M24.5 129.1h0M24 132.9h0M26.1 131.4h0M28.4 130.8h0M29.2 131.1h0M27.2 132.5h0M24.3 130.6h0M28.4 133.1h0M29.3 132.3h0M27.9 134.7h0M26.8 134.2h0M29.2 133.3h0M27.8 131h0M25.4 131.7h0M28.1 130.1h0M30.1 130.9h0M29 132.6h0M25.7 134.4h0M28.4 128.4h0M30.7 129.6h0M27.6 129.2h0M24.4 130.3h0M27.6 134.3h0M24.7 133h0M27.8 131.5h0M26.7 133h0M28.2 132.4h0M28.8 129.1h0M28.9 131.9h0M30.5 131h0M29.5 130.3h0M29.6 129.3h0M25.7 129.9h0M27.6 129.4h0M29.8 132.1h0M29.6 131h0M30.2 130.5h0M27.1 134.1h0M27.7 132.2h0M28.8 131h0M26.4 128.4h0M27.7 131.2h0M27.1 127.8h0M28.3 133.3h0M26.2 133.9h0M25.2 128h0M27 132h0" stroke="#8a8a86" stroke-width="1.35" stroke-opacity="0.85"/>
<path d="M246.8 132.2h0" stroke="#8a9a5a" stroke-width="1.0"/>
<path d="M113.2 162.5h0M114.2 158.1h0M113.5 158.1h0M116.9 155.4h0M116.4 153.9h0M112.5 161.3h0M116.6 154.9h0M118.8 150.3h0M114.5 159.7h0M118.5 151.5h0M116.7 153.9h0M114.9 156.9h0M113.6 160.1h0M119 148.4h0M114.8 157.6h0M119.1 150.7h0M114.4 157h0M114.7 156.7h0M116.2 155.9h0M115.7 154h0M115.5 156h0M112.7 161.9h0M116.1 153h0M117.4 155.7h0M119.2 150.9h0M116.4 153.8h0M119.2 149.3h0M113.6 161.5h0M116.3 153h0M112.7 161.5h0M119.2 150.7h0M115.2 157.9h0M114.9 156.7h0M114 157.3h0M114.9 160.1h0M118.8 149.5h0M114.5 158.9h0M120.1 149.3h0M117.5 152.8h0M114.3 160.7h0M115.8 156.6h0M112.2 161.1h0M113.2 160.4h0M116.1 154.2h0M117.2 152.3h0M117.9 151.3h0M118.7 148.9h0M115 158.8h0M114 159.9h0M118.7 149h0M116.4 155.6h0M113.9 160.2h0M114.4 157.2h0M115.8 154h0M113.1 161.9h0M116.9 154.6h0M117 152.7h0M115.9 155.4h0M117.4 153.5h0M116.5 153.8h0" stroke="#86c973" stroke-width="1.3" stroke-opacity="0.9"/>
<path d="M119.7 161.3h0M119 156h0M119.6 158.4h0M119.1 158.7h0M118.3 155.3h0M119.4 158.4h0M120.5 159.1h0M120.1 160h0M120 160.5h0M117.3 154.3h0M119.9 159.7h0M118.4 156.5h0M119.6 159.8h0M118.2 155h0M118.9 156.7h0M118 157.3h0M119.9 159.1h0M118.9 158.8h0M119.9 160.1h0M117 154.3h0M118.6 156h0M119.5 159.6h0" stroke="#86c973" stroke-width="1.3" stroke-opacity="0.9"/>
<path d="M114.9 157.7h0M114.1 157.1h0M115.2 157.1h0M114.4 157.2h0M115 157.6h0M114.2 157.7h0M115.1 156.9h0M116.1 157.6h0M111.9 158.2h0M112.6 158.1h0M112.6 158.3h0M114.8 157.3h0" stroke="#86c973" stroke-width="1.3" stroke-opacity="0.9"/>
<path d="M96.6 177.2h0M95.6 178.3h0M100.1 174.9h0M102 173h0M105.8 170.3h0M96 177.3h0M97 177.3h0M92.6 179.9h0M104.1 172.5h0M98.7 175.5h0M95 178.6h0M98.6 175.2h0M98.4 175.6h0M103.4 172.1h0M94.9 178.5h0M98.7 175.2h0M97.6 175.7h0M93 179.9h0M93.6 179.6h0M95.2 178.6h0M98.2 176.7h0M99.5 174.8h0M101.7 172h0M104.7 171h0M92.3 179.3h0M105.2 169.8h0M97.8 176.9h0M103 172.7h0M96.1 177.1h0M101.9 172.7h0M101.4 173.4h0M91.3 180.1h0M104.3 171.6h0M92 180.4h0M99.2 176.3h0M94.3 178.2h0M100.4 174.9h0M94 178.7h0M100.7 174.7h0M102.4 172.2h0M100.3 174.8h0M103.5 171.6h0M96.8 176.5h0M101.2 173.6h0M98.1 176.3h0M104.9 171.1h0M93.4 180.6h0M104.4 171.8h0M90.9 179.8h0M103.8 171.5h0M92.2 179.3h0M101.5 173.2h0M93.2 180.2h0M102.4 171.9h0M94.4 178.1h0M92.6 180.3h0M104 171.3h0M100.4 175.3h0M103.9 171.8h0M103.2 172.5h0M93.4 180.7h0M92.8 179.8h0M101.9 173.2h0M103.5 171.3h0M94.2 179.1h0M104.7 171.7h0M92.3 181.3h0M102.7 172.6h0M100.4 173.8h0M96.9 176.5h0" stroke="#f0907e" stroke-width="1.3" stroke-opacity="0.9"/>
<path d="M97.6 173.5h0M96.5 173.6h0M104.6 169.1h0M97.4 173.6h0M102.4 170.3h0M102.7 171.4h0M101.9 169.8h0M98.3 173.2h0M97.9 174h0M101.5 171.5h0M105 169.3h0M98.9 172.2h0M97.3 173.4h0M100.4 172.1h0M97.2 173.7h0M99.1 173.4h0M102.4 170.5h0M97.8 173.6h0M99.8 172.4h0M101.4 170.9h0M97 174.1h0M96.7 173.9h0M104.5 169h0M103.5 169.5h0M103.8 169.6h0M100.5 171h0M99.9 171.4h0M96.6 174.5h0M97.8 173.6h0M96.4 174h0M100.4 171.7h0M99.3 172h0M97.6 174.6h0M96.1 173.9h0M101.2 172h0M96.6 173.9h0" stroke="#f3a45f" stroke-width="1.3" stroke-opacity="0.9"/>
<path d="M103.6 176.1h0M102.2 176.6h0M101.6 175.9h0M101.9 176.2h0M100.8 176.1h0M103.5 176.5h0M101.9 176.9h0M103.3 176.1h0M102.5 176.4h0M102.4 176.7h0M102.3 176.1h0M102.9 175.8h0" stroke="#f0907e" stroke-width="1.3" stroke-opacity="0.9"/>
<path d="M141.3 176.8h0M139.4 179.7h0M136.5 182h0M143.8 181.2h0M138.4 181.2h0M129.7 182.8h0M138.6 178.9h0M136.8 179.3h0M137.3 181.1h0M136.1 178.8h0M139.2 180.9h0M138.5 181.6h0M131.3 182.4h0M137.8 180.3h0M135.6 179.4h0M143.4 180.1h0M132.4 181.2h0M132.8 179.5h0M133.6 181.4h0M134 178.3h0M134.3 181h0M137.4 179.6h0M142.2 181.3h0M131.6 181.2h0M130.8 183.1h0M142 179.1h0M142.8 177.8h0M130.7 182h0M130.1 181h0M137.8 180.4h0M141.8 178.4h0M141.8 180.6h0M138.1 180.2h0M138.6 179.5h0M134.9 181.2h0M137.1 179.1h0M132.2 179.4h0M135.5 182.6h0M130.3 180h0M137.3 180.4h0M142.1 180.4h0M131.9 182.3h0M142.1 179.5h0M139.1 181.9h0M132.1 180.1h0M133.4 179.7h0M131.9 182.6h0M131.5 178.9h0M136 179.4h0M136.4 179.8h0M139.7 178.4h0M142 181h0M141.2 180.1h0M134.3 179.8h0M144.8 179.5h0M135.9 181.6h0M141.8 178.9h0M133.2 179.7h0M135.4 181.8h0M145.4 179.5h0M141.2 177.1h0M136.4 179.1h0M138.6 183.4h0M137.8 178.2h0M133.9 180.9h0M136.2 179.1h0M134.7 182.9h0M135.3 180.3h0M139.1 179.1h0M132.7 178.6h0M140.3 179.3h0M137.9 181.7h0M140.7 181h0M140.7 177.1h0M139.9 179.3h0M140 177.8h0M136.5 180.5h0M139.5 178.7h0M133.1 179.6h0M136 179.1h0M140.5 179.5h0M136.9 179.3h0M138.7 176.7h0M132.8 181.8h0M143 178.4h0M135 182.8h0M139.1 180.9h0M137.3 181.3h0M141.3 179.9h0M135.9 182.8h0M132.8 180.2h0M136 181h0M139.4 179.1h0M143.6 179.7h0M131.9 183.3h0M138.7 181.3h0M142.6 179.6h0M138.4 179.2h0M138.9 182h0M139.2 178.6h0M139.6 179h0M144.6 180.6h0M140 180.9h0M135.1 180h0M137.6 176.5h0M133.8 181.9h0M136.4 182.7h0M134.9 180.2h0M134.6 183.5h0M135.3 179.1h0M132.3 179.9h0M133.8 178.3h0M137.5 181.1h0M138.5 181.1h0M139.2 178.4h0M138.4 176.9h0M133.1 178.2h0M132.5 180.5h0M145.1 179.8h0M130.5 182.3h0M134.5 180.5h0M142.1 178.2h0M140.1 179.7h0M129.9 182.3h0M136.6 179.7h0M135 180.6h0M136.3 179.7h0M140.4 178.7h0M134.7 180.6h0M135.5 178.3h0M143.9 181.2h0M135.7 181.2h0M138.9 177.3h0M132.1 183.7h0M134.7 182.2h0M131.2 179.4h0M137.8 179.2h0M134.2 178.4h0M140.6 179.6h0M141.8 180.3h0M135.2 177.8h0M138.7 182.3h0M137.3 179h0" stroke="#f8b25f" stroke-width="1.35" stroke-opacity="0.85"/>
<path d="M143.5 177.1h0M139.6 177.2h0M140.2 176.2h0M139.9 177.8h0M141.5 177.4h0M141.1 176.4h0M141.3 177.8h0M139.9 178.6h0M141.6 178.1h0M141.4 179h0M142.6 177.8h0M141 177.5h0M143.2 176.9h0M142 177.9h0M138.6 178h0M141.7 178.7h0M139.8 179.2h0M142.8 176.8h0M143.3 176.2h0M142.8 180.4h0" stroke="#f8b25f" stroke-width="1.3" stroke-opacity="0.85"/>
<path d="M157.8 154.5h0M160.2 155.2h0M159.1 161.3h0M156 152.4h0M158.3 160.3h0M154.4 160.2h0M157.7 156h0M152.9 159.8h0M156.9 154.8h0M157.4 156.2h0M152.1 154.4h0M154.4 164h0M158.4 154.9h0M155.8 163.1h0M154.3 154.6h0M160.2 155h0M158.6 160.9h0M156.8 158.4h0M156.1 160.4h0M157.7 157.6h0M156.1 158.8h0M153.6 161.8h0M156.4 163.5h0M158 159.4h0M154.3 151.3h0M157 157h0M156.5 161.7h0M153.5 155h0M154.5 160.6h0M154.3 156.3h0M155.7 158.5h0M156.2 161.2h0M158.6 154.7h0M158.2 159.2h0M154.9 155.1h0M156.1 158.3h0M156.9 151.5h0M158.8 158.9h0M156.6 157.6h0M154.5 157h0M155.2 157.9h0M160.4 160h0M155.3 160.6h0M158.9 156.3h0M155.7 156h0M158.8 157.1h0M156.2 162.1h0M158.9 160h0M156.6 161.7h0M155.3 155.3h0M156.2 156.8h0M156.1 153.2h0M154.7 155.9h0M152.9 156.8h0M160.1 155.5h0M155.9 161h0M152.3 160.3h0M155.6 162.6h0M159.6 158h0M153.1 162.5h0M155.9 160.2h0M152.5 161.6h0M158.9 157.3h0M156.5 152.8h0M156.3 151.9h0M160.5 159h0M159.1 159.5h0M154.9 157.5h0M153 156.5h0M160.6 157.1h0M155.9 157.8h0M156 153.3h0M156.1 152.7h0M154.9 156.8h0M158.9 155.6h0M157.6 161.2h0M155.4 153.2h0M152.1 160.3h0M159.4 163.7h0M155.2 161.9h0M154.7 153.5h0M157.1 161.4h0M159.3 159.7h0M154.5 155.8h0M157.5 163.2h0M156.8 156.2h0M156.5 158.4h0M157.4 153.5h0M156 159.4h0M159 155.8h0M154.4 156.2h0M153.6 162.9h0M156.4 158.9h0M158.3 151.5h0M155.6 161h0M155.4 161.6h0M155.1 154.7h0M156.6 156.3h0M156 158.3h0M157 156.9h0M152.4 159.1h0M160.3 160.2h0M157.5 155.8h0M159.2 154.6h0M157.2 155.6h0M160.3 157.6h0M156.4 157.2h0M158.8 162.4h0M155.8 158.8h0M153.5 154.8h0M156.1 159.7h0M158.2 160.6h0M156.4 162.8h0M160 159.3h0M156.5 157.8h0M155.2 160.5h0M154.9 163.3h0M156.7 161.5h0M159.5 162h0M155.2 159.1h0M154.4 161.5h0M159.3 162.7h0M156.4 157.3h0M155.6 152.7h0M153.9 160.8h0M156.6 156.1h0M152.3 159.5h0M155.5 157.1h0M156.8 150.8h0M159 156.9h0M152.6 152.6h0M158.5 158.5h0M158.2 157.3h0M156.8 162.7h0M156.6 159.5h0M154.1 157.1h0M157.2 156.3h0M160.7 161.5h0M158.8 158.4h0M155.1 155.7h0M158 158.6h0M157.4 156.1h0M155.1 159.2h0M154 163.4h0M154.9 152.2h0M152.3 156h0M157 165.4h0M156.9 154.5h0M156 163h0M154 157.3h0M159.6 160.6h0M155.9 157.6h0M156 151.4h0M158.4 156h0M154.1 157.8h0M155.8 156.7h0M153.9 157.8h0M156 159.4h0M155.3 160.1h0M155.4 158.1h0M156.2 157.3h0M156 155.3h0M156.9 152.4h0M153.2 161.2h0M156.2 163.9h0M159.8 161.1h0M156.9 156.7h0M152.4 153.7h0M157.7 157.9h0M154 158.4h0M157.7 162.5h0M158.9 154.5h0M156.2 157.8h0M157.9 156.6h0M156.7 155.3h0M157.3 150.7h0M155.1 155.4h0M157 157h0M158.1 161.9h0M159.3 164.8h0M159.2 159.3h0M157.6 165.7h0M155.8 157.6h0M155.3 156h0M158.6 153.2h0M159.7 155.8h0M155.1 157.1h0M155 164.3h0M154.2 155.8h0M159.2 160.9h0M156.7 156.3h0M156.4 152.9h0M157.7 158.8h0M157.4 158.6h0M155.4 153.3h0M153.4 154.8h0M154.5 155h0M157.2 161.9h0M157.6 159.8h0M155.7 159.1h0M155.7 160.2h0M159.3 155.6h0M155.6 160.1h0M156.6 155.4h0M154.9 152.6h0M154 155.4h0M152.9 159.4h0M155.2 158.6h0" stroke="#e2502f" stroke-width="1.35" stroke-opacity="0.85"/>
<path d="M172 160.5h0M169.2 154h0M166.7 154.3h0M174.8 154.3h0M170.8 155.9h0M173.5 159.3h0M173.1 153h0M168.2 150.1h0M172.7 160.4h0M168.9 155.1h0M171 151.6h0M168.6 152.5h0M168.4 152.9h0M169.9 148.6h0M172.2 159.9h0M169.3 157h0M173.3 158.7h0M169.4 153.9h0M169.1 156.9h0M170 155.9h0M168.9 160.5h0M173.9 157.9h0M171.9 156.3h0M172 152h0M165.1 151h0M169.9 151.8h0M167.2 153.1h0M169.6 152.9h0M172.3 149.4h0M172 161.9h0M169.6 156.4h0M171.7 150.1h0M165 157.3h0M171.7 159.4h0M167.9 151.4h0M168 158.3h0M170 154h0M167.7 160.6h0M167.7 157h0M169.8 158.3h0M175 154.1h0M167.6 154.1h0M165.7 151.1h0M168.9 155.1h0M168.9 153.8h0M170.2 154.8h0M165.8 155.3h0M166.9 151.4h0M171.3 159.8h0M165.4 155.2h0M172.1 149.8h0M170.1 149.4h0M171 155.5h0M171.5 158.2h0M166.5 153.1h0M173.4 157.2h0M167.8 159.7h0M170.4 154.6h0M164.8 156.1h0M170.8 147.9h0M175.3 154.2h0M169.4 156.5h0M174 160.4h0M168.2 150.1h0M167.4 152.1h0M174.1 158.2h0M170 150.6h0M168 158.5h0M171.8 149.1h0M168.8 155.2h0M169.5 158.9h0M166.9 158.2h0M170.3 154.2h0M171.3 151.5h0M169.4 158.9h0M169.4 155.3h0M167.2 159.3h0M174.1 156h0M167.8 153.7h0M170.7 161.2h0M174.1 152.2h0M169.7 157.1h0M165.1 153.5h0M167.2 154.8h0M168.7 154.4h0M174.2 151.5h0M170.7 156.1h0M170.4 160.7h0M174.7 160.3h0M167.7 155h0M172.6 156.4h0M172.7 162.3h0M171.7 161.2h0M173.2 152h0M170.2 160.1h0M170.9 158.9h0M166.9 154.7h0M169.9 147.2h0M169.9 151.1h0M172 153.7h0M169.3 155.4h0M167.3 150.6h0M169.7 152.1h0M166.3 155.1h0M167.9 156.6h0M169.8 151.7h0M166.8 149.4h0M168.9 156.7h0M169.1 154h0M171.4 158.7h0M171.6 152.6h0M172.6 157.4h0M172 151h0M170.7 156.2h0M168.5 155.9h0M165.9 158h0M168.2 151.6h0M167.6 155.2h0M174.4 153.6h0M165.4 158.8h0M171.5 155h0M169.9 158.3h0M171 159.8h0M168.2 157.6h0M168 157.1h0M168.3 161.4h0M166.7 148.6h0M170.3 156.4h0M170.9 155.3h0M170.2 151.5h0M167.3 152.6h0M169.7 155.8h0M170.3 147.5h0M173.9 157.6h0M168.8 158.8h0M167.6 157.2h0M166.8 154.5h0M173 154.6h0M172 152.8h0M165.4 154.6h0M172.3 160.9h0M170.1 152.8h0M175.3 153.4h0M171.3 150.5h0M170.7 157.3h0M173.2 154.3h0M168 158.3h0M170 155h0M172.9 156.2h0M166.2 159.9h0M172.4 154.5h0M171.9 152.5h0M168.9 157h0M170.9 157.2h0M169.9 158.6h0M170.9 158.6h0M171.6 152h0M168.1 157.5h0M173.9 159.6h0M172 152.8h0M172.8 156.2h0M164.9 157h0M173.4 161.9h0M168.5 156.3h0M167.2 151.7h0M168.1 157.1h0M166.4 156.9h0M170.1 160h0M166.7 150.1h0M167.3 151.9h0M171.2 154.6h0M165.3 149.6h0M174.1 159.2h0M171 152.2h0M173.2 158h0M170.5 157.7h0M172.8 158.6h0M170.2 157.8h0M171.2 156.3h0M168 153.5h0M164.9 154.7h0M167.8 153.4h0M171.3 157.1h0M170.1 151.8h0M172 157.3h0M172.4 159.7h0M170 155h0M168.1 151.2h0M169.9 157.2h0M170.1 155.2h0M174.2 153.4h0M174.5 155.6h0M171 151.8h0M169.5 158.7h0M171.5 155.3h0M169.3 158.5h0M172.7 150.3h0M168.5 147.9h0M172.2 152.3h0M174.6 153.3h0M171.7 159.3h0M169.8 158.9h0M169.2 155.9h0M170 154.4h0M168.7 151.8h0M168.4 152.3h0M174.2 160.4h0M173.5 155.7h0M169.3 155.5h0M171.6 152.5h0M165.7 156h0M166.8 155.7h0M169.8 158.1h0M170.7 159h0M169 156.4h0M173.1 160.4h0M167.8 151.4h0M169.3 154.3h0M167.6 156.5h0M174.8 158.9h0M175.5 156.6h0" stroke="#2fa34f" stroke-width="1.35" stroke-opacity="0.85"/>
<path d="M175.7 193.1h0M174.7 197.7h0M173.2 195h0M174.9 196.7h0M176.2 194.5h0M183.7 191.8h0M175.5 194.6h0M190.6 180.9h0M182.3 189.4h0M178.8 190.1h0M180.6 193.2h0M176.1 195.1h0M183.1 190.1h0M175.9 195.1h0M177.5 193.7h0M181.9 189.9h0M187.9 190.6h0M177.6 193.7h0M189.7 186h0M177.1 191.2h0M198.2 180.3h0M174.4 195.2h0M184.3 189.1h0M177.7 192.5h0M180.6 191.5h0M173.3 194h0M177.7 193.3h0M173.8 193h0M187.4 186.2h0M191.6 184h0M193.2 185.7h0M198.8 181.8h0M178.8 192.8h0M185.8 186.6h0M200.4 179.4h0M182.5 191.8h0M183.5 192h0M186.2 185.9h0M173.2 195.2h0M195.5 183.1h0M179.8 192.6h0M191.3 185.4h0M174.7 196.1h0M180.7 189.2h0M185.3 191.4h0M191.2 183.5h0M185.2 189h0M186.4 189.1h0M199.9 182.3h0M176.9 195.2h0M181.1 192.8h0M197.9 183.6h0M180.6 191.4h0M185.5 190h0M183.2 192.6h0M201.1 178.4h0M187.2 185.5h0M191.3 183.7h0M174.6 197.5h0M179.9 194.1h0M190.7 185.1h0M174.8 195.4h0M192.7 185.4h0M199.7 182.2h0M190.2 182.9h0M189.5 185.5h0M176.2 193.8h0M174.4 195.8h0M199.9 180.5h0M179.5 191.7h0M198.2 181.9h0M185.9 184.3h0M201.7 184.4h0M174.1 196.8h0M193.8 185.4h0M190.1 185h0M184.3 190.2h0M176.1 197.7h0M176.5 197h0M199.4 180.8h0M178 191.1h0M191.3 185.7h0M201.5 178.9h0M176.2 195.6h0M172.8 194.1h0M173.4 195.5h0M180.2 192.3h0M194 183h0M194 185.6h0M184.1 187.7h0M172.6 194.2h0M175.6 194h0M175 196.2h0M174.3 194.8h0M173.8 194.6h0M174.1 196.7h0M182.2 191h0M177.4 192.6h0M178.1 193.3h0M176.2 193.8h0M193.3 185.3h0M176.8 194.1h0M174 194.2h0M176.2 193.4h0M175.6 193.9h0M178.1 193.7h0M178.9 193.2h0M174.9 193.5h0M186.1 188.1h0M174.7 195.6h0M199.1 182.6h0M197.3 182.3h0M183.2 193.4h0M190.3 186h0M175.9 195.6h0M176.5 193.5h0M197.6 180.1h0M181.3 191.4h0M191 186.4h0M194 184.3h0M189.2 186.9h0M180.3 191.2h0M178 191.8h0M173.5 195.3h0M196.5 183.1h0M189.4 188.1h0M171.3 191.6h0M195.2 184.1h0M177.3 195.3h0M196.5 184.5h0M174.7 195.7h0M174 196.6h0M195.6 182.2h0M197.3 181.7h0M182.1 191.6h0M197.7 179.8h0M173.3 194.6h0M174.6 195.5h0M200.5 177.8h0M199.9 180.5h0M187.7 185h0M177.7 193.6h0M189.6 186.4h0M173.1 195.1h0M177.4 191.9h0M195.2 182.3h0M173.9 191.8h0M173.9 194.9h0M181.8 191.1h0M188.9 188.8h0" stroke="#a5683e" stroke-width="1.6" stroke-opacity="0.9"/>
<path d="M182.5 188.6h0M177.6 192.2h0M189.4 184.5h0M179.3 191.8h0M182.4 190.8h0M178.7 191h0M192.1 185.7h0M195.6 185.1h0M202.8 180.4h0M185.5 192.2h0M199.7 182.3h0M192.7 184.7h0M179.5 195.3h0M187.6 188.9h0M203.8 181.1h0M196.1 182.4h0M193.3 181.1h0M194.7 181.7h0M202.1 179.4h0M191.8 186.1h0M181.3 191.2h0M179.9 193.9h0M191.4 183.7h0M181.9 190h0M202.1 180.7h0M202.4 179h0M192.2 185.2h0M194.2 186h0M182 192.8h0M197.7 180.5h0M188.8 187.4h0M195.7 180.3h0M188.7 187.1h0M198.3 182h0M179.8 189.7h0M203.4 180.8h0M196.5 185.6h0M187 188.9h0M188.9 188.4h0M184.4 192h0M190.6 185.7h0M201.1 181.4h0M190.2 186.8h0M185.2 186.8h0M188.9 185.6h0M188 186.6h0M189.3 188.4h0M191 185.9h0M196.7 183.9h0M195.6 182.3h0M177.8 191.6h0M202.9 181.9h0M188.7 191.4h0M189.3 187.4h0M190.8 185.6h0M201.5 181.4h0M178.3 191.6h0M198.9 180.7h0M194 181.7h0M191.7 186.1h0M188.3 187.8h0M191.1 185.1h0M195.1 182.3h0M188.2 185h0M200.6 178.7h0M193.1 186.5h0M189.2 186.3h0M201.6 181.4h0M178.1 192.1h0M200.5 180h0M189.9 185.7h0M181.3 191.1h0M195.9 184h0M182.9 187.4h0M190.5 187.2h0M191.9 186.3h0M202.2 179.1h0M195.1 183.4h0M189.2 186.5h0M194.7 184.6h0M194.4 183.8h0M181.1 190.3h0M187.7 188h0M183.1 192h0M181.2 192.2h0M186.4 188.6h0M179.1 193.2h0M182.3 190.2h0M182.3 190.2h0M190.3 183.2h0M188.5 186.9h0M181.4 193h0M202.6 178.2h0M196.2 181.3h0M195.7 184.3h0M194.3 184.1h0M196.3 182.8h0M183.2 191.1h0M196.7 183.4h0M187.2 188h0" stroke="#f2a15c" stroke-width="1.6" stroke-opacity="0.9"/>
<path d="M154 207.2h0M162.7 213.6h0M157 213.1h0M154.2 208.9h0M157.4 208.1h0M160.9 209h0M152 209.7h0M161.3 209.7h0M156.3 204.2h0M163.6 208.3h0M159.1 203.3h0M156.5 209.9h0M161.1 212.2h0M161.1 206.1h0M155.6 210.4h0M157.6 207.7h0M155.1 207.4h0M152.1 212.9h0M156.2 211.5h0M158.8 211.2h0M153.2 211.4h0M157.7 206.7h0M155.6 209.6h0M155.3 208.5h0M153.5 204.9h0M155.2 215.7h0M150.9 212.6h0M157.9 207.1h0M159.5 204.7h0M159.4 207.3h0M156.7 206.9h0M160.9 207.7h0M158.4 204.6h0M160 206.9h0M158.1 210h0M156.9 211.2h0M159 206.4h0M156.4 206.2h0M163.5 208.7h0M159.7 212.2h0M153.6 212.2h0M156.8 208.8h0M153.8 207.6h0M158 216h0M156.7 216.3h0M159.8 211.2h0M157.3 209.3h0M158.4 213.3h0M161.1 214.8h0M158.6 208h0M156.4 216.1h0M161 209.3h0M156.4 213.6h0M158.2 208h0M155.7 210h0M154.6 208.2h0M159.2 213.4h0M152.9 206.7h0M159.3 208.8h0M162.9 211.7h0M152.4 208.2h0M156.5 204.7h0M152.8 207.5h0M156.9 213.2h0M157.4 215.4h0M161.6 211.7h0M157.9 208.6h0M155.6 210h0M156.5 213.2h0M156.6 213.7h0M157.2 215h0M158.4 206.5h0M159.2 213.3h0M154.9 203.7h0M156.5 210.3h0M158.3 213h0M157.8 209.7h0M156.1 213.3h0M160.3 204.3h0M155.1 205.5h0M157.3 209.5h0M155.3 207.5h0M154.7 210.1h0M157 207.6h0M156.9 208.6h0M154.9 205.8h0M156.6 214.3h0M157.1 208.7h0M155.3 205.7h0M154.7 212.2h0M156.4 211.5h0M159.2 210.6h0M160.6 210.6h0M157.5 208.4h0M155.9 209.3h0M159.9 205.5h0M153.7 210.8h0M156.7 214.1h0M155.1 209.2h0M155.6 208.9h0M151.2 213.8h0M157 208.5h0M152.3 212.1h0M154.9 211.3h0M162 205.1h0M160.2 210.9h0M153.9 210.5h0M153.4 205.8h0M153.8 206.2h0M153.6 214.6h0M153.3 212.3h0M159.4 215.3h0M156.7 205.1h0M155.1 214.8h0M159.2 215.5h0M157.1 206.5h0M161.3 209.4h0M154.5 213.6h0M158 207.5h0M155.4 209.9h0M152 207.8h0M163.3 211.5h0M161.9 209.5h0M152.6 213.7h0M158.5 212.7h0M151.3 211.3h0M160.5 209.7h0M156.7 208.7h0M155.9 209.8h0M161.1 212.5h0M156.9 210.3h0M156 210.8h0M159.9 209.7h0M155.8 209.5h0M159.8 207.5h0M156.9 203.2h0M159.7 211.8h0M159 211.8h0M159.5 206.4h0M156.3 213.3h0M162.8 210.7h0M154.8 210.9h0M155.9 213.8h0M156 213.1h0M160.8 209.9h0M155.4 206.1h0M158.3 205.5h0M151.6 210.5h0M155.2 215.4h0M157.6 212.9h0M156.5 209.7h0M150.5 211h0M158.6 212.2h0M153.6 215.9h0M156.2 212.4h0M159.1 207.1h0M158.4 206.2h0M155.2 214.3h0M156.5 211h0M158.4 209.1h0M150.2 210.2h0M160.3 213.3h0M152.9 210.1h0M156 215.5h0M158.4 207h0M159.4 209.4h0M157.8 206.5h0M158 208.6h0M155.6 214.1h0M157.4 215.8h0M161 212h0M155.4 210.5h0M158.6 206.6h0M159.3 206.3h0M156.1 211.1h0M157.7 210.4h0M157.6 207.8h0M155.2 208.2h0M155.4 213.3h0M162.7 210h0M160.5 210.6h0M157.7 211.1h0M160.4 210.7h0M159.7 204.3h0M153.8 203.9h0M157.8 203.1h0M153.3 209.8h0M156 211h0M157.5 206.7h0M162.4 211.4h0M158.1 211.4h0M160.5 209.5h0M152.8 204.6h0M152.9 214.9h0M155.2 214.7h0M162.9 207.8h0M151.4 210h0M156.6 207h0M160.9 208.4h0M156 208.6h0M161.8 213.8h0M159.2 210.9h0M157.8 204.9h0M156.7 211.8h0M156 203.7h0M157.3 210.4h0M154.6 211.5h0M153.8 210.1h0M153 205.8h0M156.9 209.4h0M154.1 209.2h0M159.9 210h0M158.8 215.8h0M158.7 215.4h0M161 207.6h0M156 207.2h0M151.7 209.9h0M153.7 211.4h0M155.8 207.6h0M155.4 216.1h0M154.8 205.4h0" stroke="#e085c2" stroke-width="1.35" stroke-opacity="0.85"/>
<path d="M165.5 207.6h0M163.7 204.2h0M163.5 201.6h0M163.6 204.5h0M159.3 207.6h0M170.3 207.5h0M168.5 209.2h0M169.5 203.4h0M163.9 204.6h0M164.8 205.9h0M166.3 207.7h0M167.2 205.2h0M165.6 200.5h0M161 209.5h0M164.2 209.2h0M162.1 203.4h0M166.2 205.4h0M164.3 207.1h0M169.1 209.8h0M164.2 204.1h0M161.9 203.1h0M163.8 199.9h0M163.2 206.7h0M164.6 207.1h0M167.2 208.5h0M164 207.6h0M164.2 206h0M167.8 209.4h0M165.4 202.3h0M167.6 206.9h0M164.9 207.3h0M160 205.3h0M158.8 207.1h0M168.3 210.1h0M165.8 208.6h0M162.8 205.1h0M165.6 209.3h0M163.9 205.7h0M165.5 205.3h0M161.5 202.2h0M160.6 205.2h0M169.7 204.9h0M161.2 206.3h0M164.3 204.3h0M168.9 207.5h0M158.2 205.4h0M166.8 200.4h0M164.6 204h0M163.9 202.7h0M165.3 201.4h0M160.4 204.8h0M167.4 205.1h0M165.4 203.7h0M165.9 206.6h0M166.8 204.3h0M169.7 208.5h0M166.1 210.4h0M168.7 205.1h0M163.4 209.6h0M163 202.1h0M164.7 206.4h0M165.8 201.5h0M166.2 206.3h0M167.2 206.5h0M164.6 202h0M171.1 206.4h0M165.5 206h0M165.6 203.8h0M166.1 203h0M163.3 201.7h0M160.7 204.4h0M164.9 207h0M163.4 205.2h0M161.5 206.2h0M164.8 209.9h0M163.7 204.6h0M162.4 206.6h0M158.4 208.4h0M163.8 207.4h0M170.3 207h0M167.4 205.9h0M164.3 205.4h0M168 204.4h0M162.1 207.6h0M162.9 211.1h0M166.2 210.4h0M159.6 205.8h0M164.6 208.4h0M165.4 207.3h0M170.1 205.9h0M162 207.8h0M165.8 207.7h0M162.2 206.1h0M162.6 211.4h0M161.2 210.3h0M164.9 206.6h0M166.2 200.4h0M160.2 205.5h0M164.2 200.5h0M161.4 208.5h0M165.8 207.7h0M161.7 205.5h0M164.7 206.8h0M164.8 208.9h0M163.1 209.4h0M170.2 206.4h0M165.8 203.4h0M164.6 200.4h0M164.9 204.6h0M166.3 205.3h0M167.9 203.7h0M162.9 205h0M163 208.6h0M160.9 202.7h0M163.8 205h0M162.1 207.2h0M167.7 205.6h0M166.6 208.5h0M164 210.8h0M162.6 204.5h0M165.4 204.5h0M166.6 207.9h0M165 199.4h0M160.9 210.1h0M163.7 204h0M162.8 202.3h0M166.4 204.1h0M158.1 204.8h0M162.5 202.3h0M167.6 201.1h0M165.1 203.9h0M161.6 208.8h0M165.9 207h0M165.4 210.1h0M161.4 203.6h0M166.7 204.5h0M166.7 204.6h0M164 206.1h0M167.6 207.2h0M167 208h0M163.8 206.2h0M161.3 210.1h0M162.4 203.1h0M168.4 201.3h0M162.5 207.9h0M163.2 206.2h0M162.2 206h0M161.7 208.7h0M167.7 204.5h0M168.9 206.9h0M166.1 207.8h0M167 208.9h0M163.3 206h0M162.7 206.5h0M169.3 209.7h0M163.3 200.5h0M162 205.5h0M165.1 204.6h0M162.6 200.4h0M164.5 211h0M165 203.8h0M168.9 205.1h0M160.2 205.1h0M165.4 208.1h0M162.1 208.2h0M163 205.2h0M169.9 209.3h0M166.5 202.7h0M163.1 207.9h0M166.1 203.6h0M164.4 207.9h0M168.2 203.4h0M162.8 204.2h0M166.1 210.5h0M163.7 201.9h0M164.5 201.8h0M163.9 207.5h0M162.3 204.7h0M164.8 204.2h0M167.7 205.2h0M163.1 202.2h0M165.7 204.7h0M161.9 206.2h0M167.4 202.5h0M166.8 205.5h0M162.2 202.6h0M160.8 209.3h0M167.2 201.8h0M167.6 205.1h0M160.4 206.7h0M164.2 199.8h0M163.2 206.5h0M167.7 203.6h0M166.4 209.2h0M168.1 206.3h0M167.6 200.9h0M164.2 206.9h0M163 202.7h0M161.9 205.9h0M167.2 200.7h0M167.4 208h0M163.3 205.1h0M163.1 209.9h0M165.3 207.3h0M168.7 204.5h0M165.6 204.8h0M165.2 204.2h0M165.9 205.4h0M166.3 205.6h0M161.2 203.2h0M170.4 204h0M161.3 207.6h0M167.6 203.6h0M163.8 202.9h0M165 203.8h0M161.8 204.4h0M162.5 206.2h0M166.8 204h0M163.8 205h0M163.3 203.1h0M167.4 209.7h0" stroke="#2fb9c4" stroke-width="1.35" stroke-opacity="0.85"/>
<path d="M71.3 193.9h0M74.8 194.5h0M70.5 193.2h0M69.5 195.5h0M74.6 195.2h0M73.2 192.8h0M74.4 193.1h0M72.8 194.8h0M75.6 194h0M74 194.1h0M67.6 195.1h0M72.4 191.7h0M74.6 193.4h0M72.1 192.2h0M76.5 193.1h0M74.9 195.5h0M72.7 194.6h0M70.7 193.2h0M69.7 194.3h0M69.3 196.2h0M73.4 194.8h0M73.4 192.7h0M71.2 196.1h0M69.4 195.9h0M70.3 195.4h0M74.4 192.9h0M69.2 194.9h0M75.3 192.2h0M68 195.5h0M73 192.9h0M74.7 195.1h0M75.8 193.2h0M71.4 194.6h0M70.6 195h0M68.8 195.5h0M74.4 191.3h0M72.6 195.9h0M71.3 194.5h0M71.2 193.5h0M72.8 192.4h0M72.3 193h0M75.5 192.3h0M74.5 192.2h0M71.1 194.5h0M72.4 194.2h0M71.4 193.2h0M74.5 193.3h0M73.2 194.3h0M68.6 195.2h0M72.3 193.8h0M72.5 195h0M74 195.6h0M72.6 193.8h0M72 192.8h0M75.5 194h0M70.9 194.1h0M69.8 195.2h0M74.1 191.3h0M75.3 192.6h0M75.5 191.6h0M76.3 192.1h0M74 194.4h0M72.6 193.6h0M73.3 192.8h0M73 195.6h0M71.1 194.3h0M72.7 194.5h0M72.1 194.7h0M71.3 194.6h0M68.1 195.5h0M70.3 193.1h0M71.1 194.1h0M72 192.3h0M69.5 193.5h0M74 192.2h0M77.1 192.2h0M71.8 192.9h0M75.2 194.8h0" stroke="#72c25f" stroke-width="1.35" stroke-opacity="0.85"/>
<path d="M121.6 213.5h0M118 209.9h0M117.4 214.9h0M117.7 217.7h0M116.1 214.7h0M118.2 214.4h0M117.6 212.9h0M114.1 215.4h0M116.6 211.1h0M117.6 210.6h0M119.3 212.5h0M115.6 210.3h0M118 217.1h0M119.8 213.3h0M114.2 210.7h0M116.1 210.7h0M116.9 216.8h0M117.2 215.7h0M116.6 216h0M118.4 213.8h0M120.1 216.2h0M118.6 217.3h0M120.1 215.6h0M120.2 209.8h0M116.5 208.8h0M118.4 210.1h0M117 214.6h0M119.3 210.1h0M117 211.1h0M117.4 214h0M121.7 211.6h0M117.4 210.6h0M114.3 216.4h0M118.1 215.1h0M118.5 215.9h0M116.7 216.2h0M118 217.6h0M120.1 213.8h0M116.6 213.4h0M117.4 209.3h0M116.2 213.2h0M118.6 212.3h0M117.5 216.5h0M115.7 215.6h0M117.5 217.6h0M114.7 215.2h0M118.6 214.2h0M114.7 212.8h0M122.3 213.8h0M114.4 211.4h0M114.9 214.8h0M116.7 213.6h0M119.1 211.9h0M118.5 212.6h0M120.8 213h0M118.5 212.2h0M121.1 210.5h0M115.4 214.8h0M118.6 216.4h0M120.6 218h0M120.7 211.2h0M117.5 213.1h0M122 212.7h0M119 217.7h0M120.3 215.6h0M115.4 213.9h0M116.1 215.7h0M116.1 212.9h0M121.8 213.3h0M113.7 212.5h0M119.6 213.1h0M118.2 214.7h0M116.9 217.6h0M117.1 216h0M120.6 213.6h0M116.6 210h0M120.2 212.5h0M119.6 212.8h0M115.8 210.4h0M117.2 212.8h0M114.5 214.1h0M120.9 212.1h0M116.9 213.4h0M120.7 213.5h0M119.6 211.9h0M115.8 211.5h0M117.5 213.4h0M119.3 214.4h0M118.8 211.1h0M120.4 211.3h0M118.6 215h0M119.4 209.6h0M116.2 216.1h0M116.5 212.2h0M119.2 214.1h0M118.6 211.7h0M115.4 215.2h0M117.7 213.9h0M116.1 214.7h0M116.6 208.7h0M120.8 215.6h0M115.7 209.4h0M116.4 212.9h0M119.1 215h0" stroke="#a9c1d9" stroke-width="1.35" stroke-opacity="0.85"/>
<path d="M151.6 105.2h0M153.7 127.1h0M144.4 128.2h0M143.5 125.6h0M154 101.5h0M153.5 117.9h0M164.3 110.5h0M148.2 115h0M143.2 105.1h0M151.7 130h0M146.7 111.8h0M143.8 119.1h0M158.8 123h0M162.6 121.6h0M152.2 120.1h0M145.4 114.1h0M151.4 118.6h0M149.4 115.3h0M140.5 99.9h0M155.3 124.5h0M152 112.3h0M158.1 113.1h0M146.1 113.9h0M149.6 106.6h0M149 107.9h0M138.3 103.5h0M166.5 120.5h0M135.8 125.8h0M142.1 117.5h0M147.4 108.4h0M139.3 126.8h0M152.6 114.6h0M146.7 105h0M150.3 102.9h0M151.3 118.3h0M150.3 127.8h0M150.4 114.1h0M148.8 112.2h0M152.7 114.9h0M155.2 110.6h0M148.1 112.9h0M146.8 118.9h0M147.1 111.5h0M151.9 124h0M147.4 109.6h0M147.3 122.3h0M139.8 119.6h0M162.7 114.1h0M141.6 114.7h0M161.1 114.5h0M155.2 129.5h0M156.7 110.9h0M151.6 125.9h0M153.2 124.5h0M151.8 114.4h0M153.9 129.1h0M155.5 99.1h0M160.1 118.8h0M143.3 117.9h0M153.2 117.1h0M160.8 123.2h0M159.3 114h0M143.1 115.6h0M152 125.6h0M151.8 116.1h0M151.6 109.2h0M134.8 121.2h0M155.8 116.3h0M139.2 112.7h0M164.7 121.1h0M154.4 111.2h0M149.3 109.6h0M154.3 115h0M151 115.5h0M146.4 117.3h0M149.4 107.9h0M152.4 129.8h0M144.6 122h0M154.9 118h0M157.6 118.7h0M157.3 98.2h0M158 123.9h0M158.8 109.3h0M154.8 120.7h0M158.9 108h0M150.5 124.3h0M152.9 112.9h0M159.7 115.4h0M163.2 128.4h0M147.7 124.4h0M140.3 106.6h0M164.6 111.7h0M157.9 118.4h0M162.5 115.2h0M156.2 123h0M151.8 111.8h0M145.8 102.9h0M143.6 110.1h0M160 115.6h0M156.8 121.1h0M152.3 122.5h0M142.6 126.3h0M146.6 118.7h0M145.9 115.4h0M148.1 122.4h0M130.6 116.2h0M151.7 113.4h0M160.8 113.4h0M146.4 123.9h0M150.3 128.1h0M152 126.8h0M143.4 105h0M153.1 125.1h0M144.6 108.5h0M147.2 114.4h0M151.9 121.3h0M149.8 106.9h0M150.8 107.7h0M143.9 111.3h0M155.1 129.6h0M142.8 125h0M155.9 110.2h0M146.9 118h0M142.1 118h0M149.5 119.3h0M142.9 111.6h0M146.5 127.8h0M149.1 114.1h0M155.5 123.1h0M155.6 104.3h0M153.4 119.9h0M148.2 118h0M139.8 127.1h0M148.6 97.5h0M148 121.1h0M149.3 123.1h0M146.5 115h0M146.6 126.8h0M155.6 132.7h0M141 123.6h0M150.2 123h0M158.7 127.1h0M144.9 120.3h0M143.4 126.2h0M148.6 121.5h0M147.8 111.8h0M151.9 109.1h0M159.4 125.8h0M149.3 121.5h0M154 111.9h0M146.2 117.2h0M146.8 128h0M152.1 104.1h0M145.6 110.2h0M158.3 122.2h0M147.4 123.2h0M149 108.2h0M143 109.5h0M147.2 118.2h0M143.3 127.5h0M146.8 117.1h0M138 99.5h0M150.1 124.7h0M162.1 116.8h0M137.3 113.5h0M162 108.3h0M149.3 125.9h0M156.2 119h0M143.2 120h0M164 119.6h0M142.7 120.2h0M149.6 123.3h0M160.8 129.8h0M141.4 109h0M134.1 116.4h0M149.6 113.6h0M144.8 129.6h0M143.4 114.8h0M143.8 104.9h0M140 116.8h0M159.7 111.5h0M158.5 111.4h0M140.7 113.6h0M149.4 107.2h0M146.9 102.5h0M157.7 131.6h0M144.3 116h0M161.3 109.9h0M150.1 121.6h0M144.7 127h0M149.5 103.8h0M146.1 113.6h0M165.7 119.1h0M151.1 110.6h0M146.8 120.3h0M150.7 107.7h0M160.3 112h0M143.4 116.1h0M138.4 120.2h0M159.2 117.3h0M154.3 111.8h0M147 114.2h0M149.5 101.1h0M157.7 133h0M131.2 113.9h0M158.9 114.7h0M148.8 118.9h0M154.8 121.2h0M149.7 119.5h0M171.5 111.9h0M145.8 104.5h0M157.7 115.6h0M132 111h0M150.3 112.8h0M155.5 116.9h0M139.3 118.8h0M135.9 126.7h0M150.7 115.8h0M157.1 104h0M158.3 121.3h0M145.3 123.9h0M152.5 104.6h0M140.2 121.5h0M162.2 118.3h0M146.1 112.9h0M158.9 118.2h0M148.2 119.9h0M147.7 121.4h0M161.3 125.6h0M144 116.8h0M159.1 116.9h0M147.5 135.1h0M143.9 108.9h0M144.2 114.9h0M157.9 114.3h0M149.5 122.7h0M147.6 125.3h0M139.5 107h0M158.2 126.2h0M157.3 108h0M152.3 136.5h0M155.5 111.9h0M127.3 125.2h0M146.3 114.9h0M151.1 122.3h0M150.7 111.3h0M146 117.9h0M151.7 117.1h0M144.9 117.6h0M145.4 122.9h0M141.3 113.6h0M151 114.5h0M145 107.1h0M146.5 115.9h0M159.7 113.3h0M149.7 123.6h0M149.8 122h0M139.3 111.5h0M146.3 120.3h0M156.9 126.8h0M153.9 115.4h0M150.4 108.1h0M148.8 135.4h0M150.5 121.1h0M152.8 122.2h0M147.7 135.8h0M132.6 111h0M163.8 119.2h0M158 102.7h0M148.9 120.7h0M159.9 119.9h0M140.9 111.1h0M159 110.6h0M151.3 115.6h0M156.2 115.2h0M147.6 128.8h0M151.1 115.1h0M154.1 115.8h0M157.3 115.6h0M153.6 104.9h0M153.1 113.3h0M145.9 106.8h0M162 117.9h0M151.5 100.5h0M148.4 108.5h0M147.7 118.9h0M141.6 101.2h0M144.8 105.2h0M139.3 124.4h0M151.4 106.9h0M149.4 116.9h0M151.5 119.2h0M141.2 109h0M147 104.3h0M145.5 128.4h0M156.9 112.7h0M139.6 120.8h0M139.4 111.2h0M159 119.7h0M152.5 107.1h0M134.6 107h0M135.6 103.9h0M137 105.6h0M137 98.8h0M137.9 99.1h0M140.4 104.9h0M137.3 103.7h0M142 99.7h0M136.8 101.6h0M141.1 107.3h0M143.2 102.9h0M144.5 106.5h0M132.6 110.4h0M144.5 105.7h0M133.3 104.9h0M143.5 102.3h0M138.9 108.9h0M140.1 99.3h0M135.9 100.5h0M142 104.4h0M141.2 99.2h0M137.2 108h0M137 102.2h0M141.7 106.4h0M142.3 103.4h0M141.4 103.6h0M137.8 104.5h0M139 97.4h0M142 100.6h0M141.7 102.8h0M142.6 112.5h0M139.4 107.4h0M136.7 107.1h0M139.9 100.7h0M140.4 107.7h0M137.3 109h0M140.4 107.2h0M136.3 113.9h0M139.8 99.6h0M137 100.6h0M145.8 103.5h0M142.8 101h0M139.8 104.7h0M134.8 106.3h0M135 104.4h0M161.4 117h0M162.6 116.6h0M164.1 120.2h0M158.3 119.9h0M158.3 124.6h0M159.6 121.8h0M157.6 126.5h0M162.1 119h0M159.6 121.4h0M161.4 117.6h0M160.7 118h0M163.5 126h0M164.6 122h0M157.6 121.9h0M156.1 116.3h0M167.3 127.6h0M158.2 119.1h0M154.8 117h0M153.4 119.8h0M160.8 123h0M158.4 123.3h0M153.6 126.5h0M157.2 115.2h0M156.7 118h0M164.9 126.9h0M161.9 130.1h0M160.9 117.1h0M155.9 119.5h0M160.2 113h0M163.6 116.2h0M161.6 116h0M165.2 119.5h0M161.3 114.6h0M163.7 124.1h0M162.8 119.7h0M158.7 118.8h0M166.3 124.1h0M162.4 118.7h0M164.2 114.4h0M156.7 120.1h0M156.6 129.7h0M160.2 120.4h0M157.7 122.3h0M163.4 119.1h0M162.6 119h0M165.8 122.2h0M163.3 108.1h0M156.4 114.4h0M164.7 117.3h0M144.6 127.2h0M153.2 127.7h0M158.2 126.3h0M149.1 125h0M147.9 129.7h0M149.3 125.6h0M153.5 130h0M141 126.9h0M143.5 132.3h0M146.7 120.8h0M147.4 130.3h0M136.5 129.1h0M148.1 128.9h0M138 126.9h0M149.8 134.5h0M150.2 127.6h0M134.7 130.3h0M148.4 128.1h0M146.9 127.8h0M142.9 129.2h0M150.7 131.1h0M155.9 125.4h0M148.4 127.4h0M140.5 124.4h0M138.7 130.2h0M140.1 126.2h0M140.9 126.6h0M151.5 131h0M147.4 128.9h0M145.8 130.2h0M150.3 128.5h0M146 130.2h0M146.1 129.2h0M141.7 125.4h0M142.8 129.6h0M146.1 127.8h0M140.1 128.2h0M154.2 129.8h0M146.5 127.2h0M143.2 125.6h0M150.8 132.7h0M140.6 134.8h0M151.2 127.8h0M146.3 132.6h0M155.3 130.2h0M129.5 120.3h0M132.5 123h0M169.1 114.2h0M135.5 111.5h0M134.5 108.9h0M133.8 125h0M171.6 118h0M135.2 118.3h0M170.6 124h0M122.4 114.7h0M136.9 116h0M143.4 98.4h0M136.8 121.7h0M136.2 123.8h0M160.9 127.4h0M146.9 98.2h0M161.2 106.1h0M127.3 114.4h0M127 131.6h0M174.5 111.9h0M127.7 101.8h0M138.8 115.2h0M153.3 95.6h0M155.6 138.9h0M131.5 118.1h0M166.4 129.6h0M133.4 113.5h0M129 108.1h0M132.2 126.4h0M155.3 107h0M159.8 103.6h0M146.3 137.6h0M168.7 111.4h0M133.7 119.7h0M132.2 128.7h0M133.5 101.9h0M128.9 118.6h0M132.8 99h0M173.3 123.2h0M127.9 116.3h0M169.8 119.8h0M131.5 107.6h0M142 122h0M132.4 94.9h0M168.8 118.1h0M126.2 121.5h0M167.1 113.7h0M142.6 96.5h0M163.7 105.2h0M129.8 109.8h0M154.4 134.6h0M129.6 106.1h0M148.6 137.5h0M125.9 117.9h0M125.8 110h0M172.7 114.9h0M158.9 128.9h0M162.6 102.4h0M149.5 139.4h0M168.1 116.2h0M162.4 111.9h0M159.6 131.8h0M130.7 122.4h0M126.1 112.6h0M149.1 95.3h0M154.3 136.9h0M128.9 111.8h0M156.8 105.9h0M169.3 122.5h0M166.8 111.4h0M175.1 124.8h0M142.6 137.1h0M172.4 120.5h0M156.2 101.9h0M171.1 128.3h0M161.4 133.5h0M159.4 134.5h0M137.5 110.8h0M144.5 135.5h0M166.3 107.1h0M148.5 132.1h0M125.4 108h0M169.3 102.1h0M130.8 100.7h0M145.7 100.8h0M128.2 104.6h0M153.2 138.3h0M123.6 108.3h0M154.4 108.9h0M169.1 108.4h0M175.5 109.7h0M165.7 105.1h0M150.5 136.4h0M130.1 125.4h0M167.1 108.8h0M157.5 100.5h0M128.5 126.8h0M171.6 126.1h0M134.1 96.6h0M141.7 131.9h0M153.2 133.1h0M159.3 106h0M177.2 115.7h0M164.9 103h0M128.8 123.5h0M136.3 131.1h0M139.8 131.7h0M129.8 129.3h0M170.1 106.2h0M162 104.1h0M166.5 117.1h0M136.5 119.6h0M163.5 134.9h0M124.6 115.2h0M140.6 138.7h0M147.6 100.6h0M169.2 125.3h0M138.9 93.9h0M175.7 117.6h0M170.6 103.7h0M126.1 103.9h0M167 102.1h0M134.4 92.3h0M143.1 134.1h0M141 130h0M137.1 133.2h0M163.9 130.3h0M169.8 130.5h0M125.7 95.2h0M127.8 109.7h0M157.6 136.1h0M135.6 95.4h0M129.4 114.6h0M145.1 139.1h0M177.8 119h0M131.1 103.9h0M150.2 98.9h0M161.3 101h0M128.6 100.1h0M157 141.1h0M137.7 117.9h0M132.2 97.1h0M152.3 102.3h0M151.4 138.3h0M138 123.1h0M166 136.9h0M130.7 131.3h0M170.3 115.8h0M146.3 93.8h0M158.6 139.8h0M153.2 98.7h0M134.1 128.2h0M127.1 119.4h0M133.6 132h0M147.4 141.5h0M125.8 105.9h0M166.7 125.9h0M154.7 97.3h0M131.8 120.8h0M167.8 105.1h0M175.4 115.5h0M171.1 109.7h0M119.4 106.2h0M151.9 134.6h0M132.4 115.5h0M166.7 139.3h0M175.7 121.7h0M168.3 120.9h0M139.9 95.6h0M130.6 127.3h0M145.1 97.8h0M126.4 100.2h0M165.1 108.7h0M174.9 126.8h0M159.3 100.9h0M134.5 123.1h0M123 106h0M154.4 90.8h0M163.8 97h0M137.3 142h0M183.5 124.4h0M121 125.6h0M127.3 137.2h0M175.4 101.6h0M152.8 144.4h0M186.1 117.7h0M168.3 95.5h0M179.4 111.6h0M172.8 94.3h0M158.3 146.8h0M177.6 138.8h0M184.2 105.9h0M178.5 130.7h0M183.2 129.5h0M186.7 110.3h0M134.4 138.2h0M162.7 89.4h0M144.7 149.2h0M183.2 134.7h0M174.4 105.6h0M179 126.6h0M174.4 131.6h0M118.8 121.1h0M174.6 135.9h0M173.2 143h0M113.4 122.1h0M187.7 122h0M142.2 145.3h0M130.7 140.4h0M181.6 116h0M119.7 130.1h0M148.8 89.1h0M141.8 89h0M121.7 134.5h0M165.4 147.6h0M182.8 120.5h0M162.5 141.5h0M134.3 145h0M177.1 142.4h0M168.7 134.3h0M150.7 147.7h0M172.4 138.9h0M169.3 142.4h0M165.5 143.6h0M161.6 138h0M178.4 135.3h0" stroke="#2b0c38" stroke-width="1.85"/>
<path d="M80.6 126.3h0M88.7 123h0M87.9 118.8h0M83.7 128.3h0M80.4 123.1h0M82.3 127.1h0M88.4 127.6h0M77.8 128.5h0M90.4 124.6h0M77 116.7h0M90 132h0M88.9 129.7h0M84.1 134.4h0M91.5 118.6h0M81.6 133.9h0M88 128.2h0M94 130.7h0M87.8 121.6h0M83.9 132.1h0M88.7 127h0M84.6 127.7h0M78.9 118.8h0M81.5 126.4h0M80.5 115.1h0M87.1 121.7h0M84.5 128.6h0M84.5 116.7h0M84.2 112.1h0M92.6 132h0M78.4 123.8h0M81.9 121.8h0M82.3 133.4h0M83.8 124.2h0M81.1 128.9h0M83.7 123h0M89.1 119.8h0M86.4 127.8h0M90.5 133.7h0M78.2 128.3h0M86.1 124.4h0M92.6 123.1h0M83.5 131.6h0M85.1 126.9h0M83.7 127.7h0M83.1 120.5h0M77.3 126.6h0M76.8 129.3h0M87 131.9h0M81.6 127.1h0M76.3 127.3h0M88 134h0M88.9 131.9h0M89.1 122.7h0M75 133.6h0M87.4 133h0M86.4 124.6h0M82.8 125.2h0M83.2 119.3h0M82.3 127.4h0M86.8 124.9h0M84.5 127.5h0M83.6 126h0M88.2 123.1h0M92.3 125.5h0M84.6 138.7h0M82.5 127.6h0M80.5 131h0M86.9 123.6h0M88.6 121.8h0M79.1 134.5h0M82.7 125.8h0M83.2 123.1h0M83.9 130.2h0M86.1 129.4h0M77.7 132.2h0M79.7 121.7h0M84.2 125.7h0M79.8 123.2h0M81.7 121.3h0M89.8 131.8h0M88.6 127.3h0M86.3 123.7h0M82.9 125.1h0M88.5 130.3h0M82 122.3h0M82.8 121h0M77.5 124.7h0M84.7 127.3h0M85.5 128.7h0M77.6 125h0M82.3 124h0M86.7 117.9h0M85.2 131.3h0M84.9 132.1h0M82.3 123.8h0M83.4 117.3h0M85.5 132.2h0M80.8 115.6h0M81.2 120.4h0M85.1 129h0M80.6 128.8h0M87.9 130.6h0M88.9 114.6h0M78.6 118.4h0M87.2 120.5h0M84.7 127.8h0M82.8 131.1h0M83.9 124h0M85.5 121.2h0M83.8 125.3h0M77.3 119.4h0M87.7 123.4h0M82 135.4h0M85.1 128h0M91 126.1h0M82 120.3h0M90.6 123.3h0M80.5 116.9h0M81.9 123h0M85.4 116.8h0M85.7 132h0M88.6 118.3h0M89.6 126.3h0M84.9 126.3h0M85 135.2h0M80.7 125.7h0M83.3 121.6h0M79.5 134.4h0M85.9 117.4h0M80.7 127.5h0M91 131h0M81.8 127.8h0M89.7 123.6h0M88.3 125h0M76.6 116.7h0M83.8 123.5h0M84.5 128.5h0M80.2 125.3h0M87.8 117.4h0M81.7 118.9h0M83.3 126.5h0M83.4 120.2h0M83.4 123.4h0M85.9 134.4h0M81.9 129.2h0M84.3 130.2h0M79.2 125.9h0M77.2 126.6h0M76.7 133.4h0M83.2 125.5h0M93.6 131.1h0M89.3 120.2h0M84 111.4h0M81.9 118.5h0M87.2 141.6h0M85.2 124.3h0M78.6 125.3h0M82 128.6h0M81 129.9h0M79.3 115.1h0M80.3 123.8h0M88.2 123.2h0M89.6 122.9h0M75.7 132.7h0M80 129.2h0M86.1 128.8h0M85.2 129.7h0M81.4 116.3h0M88.4 122.7h0M85.1 119.2h0M82.3 126h0M88.9 130.2h0M78.4 120.9h0M82.5 126.4h0M81.1 123.1h0M92.2 129.9h0M80.6 127.5h0M83.9 116.7h0M81 133h0M82.2 122.4h0M87 118.1h0M83.5 139.3h0M84.1 116.4h0M84.9 127.5h0M83.5 125.8h0M81.4 124.6h0M88.6 130.8h0M84.7 127.9h0M87.6 128.9h0M82.4 135.4h0M84.8 122.9h0M82 133.8h0M82.5 131h0M84 122.4h0M80.5 125.6h0M88.3 129.6h0M90.1 115.2h0M81.4 124.7h0M84 123.1h0M84.1 128.6h0M92.5 123.8h0M81.5 130.1h0M82.1 128.1h0M84.8 134.5h0M81.2 123.9h0M86.8 128.3h0M86.6 137.1h0M89.2 128.6h0M92.7 124.7h0M88.8 119.7h0M81.2 129.7h0M90.4 130.4h0M86.8 129.1h0M82.5 116h0M78.9 132.4h0M82.5 121.9h0M84.8 121.7h0M84 124.7h0M83.1 126.4h0M78.3 127.9h0M80.2 123.5h0M84.8 128.8h0M90.4 118.3h0M85.2 129.4h0M80.9 135.8h0M79.8 132.4h0M85.5 127.1h0M78.5 125.9h0M84.4 127.4h0M85.1 130.5h0M77.5 128.1h0M88.1 133.7h0M75.7 119.8h0M81.4 128.2h0M89 122.8h0M80.5 126.4h0M84.8 126.2h0M86.4 124.7h0M82.1 128.8h0M82.5 124.8h0M88.5 126.7h0M83.8 127.6h0M85.2 128.3h0M82.7 137.9h0M84.2 124.3h0M79.8 127h0M80.5 117.1h0M85.9 126.8h0M76.2 126.4h0M84.6 124.9h0M71.7 135.3h0M68.5 138.4h0M69.1 139.9h0M73.2 136.7h0M71.1 137.4h0M71 140.9h0M72.5 136.5h0M73.5 136h0M67.3 134.9h0M67.5 138.7h0M72.2 136.2h0M65.1 133.4h0M69.3 141h0M70.6 137.2h0M72.6 137.1h0M66.1 136.7h0M67.5 136.6h0M70.2 137.3h0M76.6 137.8h0M73.8 137.4h0M70.8 139.8h0M69 137.9h0M68.4 136.7h0M70.9 134.7h0M65.1 139.8h0M67.9 136.2h0M71.6 132.6h0M67.8 138.1h0M67.8 136.4h0M71.6 137.9h0M75.6 136.3h0M70.1 137.9h0M64.9 137.5h0M66.9 138.3h0M72.3 138.8h0M66.6 137.3h0M67.5 139.9h0M72.5 138.7h0M70.8 136.8h0M70.9 137.9h0M67.7 142.3h0M69.1 133.8h0M69 136.6h0M69.5 131.7h0M68.5 140.4h0M69.4 139.1h0M71.7 141.6h0M71.2 137.8h0M68.9 135.7h0M71.3 140h0M67.7 133h0M66.8 138.1h0M76.4 136.3h0M74.2 137.4h0M67.3 135h0M71.4 137.8h0M71 137.4h0M69.4 139.7h0M70.6 138.9h0M66.2 137.1h0M80.8 129.5h0M80.9 123.8h0M76.7 132.2h0M79.1 134.2h0M72.9 133.7h0M76.1 131.8h0M78.3 127.9h0M76.2 124.8h0M77.3 126.9h0M78.3 127.2h0M73.2 132.4h0M74.3 132.5h0M80.4 133h0M79.8 139.6h0M75 130.9h0M75.3 127.1h0M79 127.4h0M76.4 126h0M77.1 129.1h0M75.3 133.2h0M78 137.2h0M73 129.5h0M76.5 135.2h0M73.5 128.2h0M79.1 130h0M78.7 130.9h0M75.5 129.1h0M72.7 131.1h0M76 133.8h0M74.7 134.6h0M77 130.4h0M76.3 133h0M77 125h0M75.8 130.6h0M77.6 133.7h0M76.1 134.2h0M79.6 131.6h0M78.2 127.2h0M71.7 137.8h0M73.1 132.2h0M97.6 133.3h0M95.4 120.6h0M75 114.5h0M75 122.5h0M76.4 141.2h0M98.3 119.3h0M81.2 112.6h0M70 126.6h0M89.1 147.5h0M78.9 142h0M71.8 124h0M89.6 137.6h0M92.2 136.9h0M98.1 122.5h0M64.7 122.7h0M93.7 143.7h0M97.9 129.8h0M68.5 120.7h0M96.9 125.2h0M77.9 112.9h0M83.2 148.1h0M82.4 142.8h0M94.8 138.2h0M71.5 115.8h0M66.8 128.6h0M91.3 145.2h0M61.3 129.6h0M101.5 128h0M95.9 141.1h0M101.2 123.7h0M95.4 134.9h0M89 143.5h0M98.9 138.3h0M63.8 131.1h0M75.3 145.9h0M91.4 140.9h0M85.9 145.9h0M67.9 123.7h0M64.7 119.5h0M80.5 145.5h0M101.5 135.1h0M96 116.4h0M99.1 127h0M71.4 121h0" stroke="#2b0c38" stroke-width="1.85"/>
<path d="M81.4 139.5h0M79 135.4h0M81.2 139.4h0M78.3 140.5h0M82 136.8h0M82.9 137.2h0M79.2 135.5h0M80.8 139.7h0M76.1 137.2h0M84 136.4h0M80.6 138.4h0M77.5 137.4h0M81.8 136.1h0M79.1 138.6h0M81.4 136.9h0M80.4 137.9h0M78.6 136.9h0M84.1 138.6h0M76.8 138.4h0M82.9 137.5h0M78.6 134.3h0M82.4 137.6h0M80.2 139.2h0M82.8 138.4h0M77 138.7h0M78.5 141.3h0M76.5 139h0M79 138.2h0M77 135.4h0M79 140.9h0M84.3 137.3h0M82.4 140.9h0M80.5 137.9h0M79.9 135.7h0M84.3 138.8h0M75.9 136.3h0M80.1 136.9h0M81 137.9h0M78.9 136.1h0M84.4 137.4h0M80.9 136.1h0M77 139.1h0M77.6 137.4h0M77.6 138.6h0M81.8 137.5h0M79.6 138.8h0M79 138.4h0M80.6 136.7h0M76.9 135.1h0M77 136.6h0M78 137.1h0M82.1 136h0M82.8 136.6h0M82.5 138.3h0M79.6 135.8h0M80.1 141.1h0M79.2 138h0M81.6 136.2h0M80.6 137.7h0M79.6 138.1h0M78.1 136.8h0M79.6 137.6h0M79.5 136.5h0M78.7 139.8h0M80.1 135.7h0M80.5 138.4h0M83.5 139.2h0M78.7 138.8h0M78 135.6h0M77.4 137.9h0M83.2 139.6h0M79.6 141h0M75.6 136.9h0M81 138.7h0M76.5 139.4h0M80.9 137.2h0M80.3 135h0M78.2 137.9h0M81 134.7h0M77.4 137.8h0M83.1 139.4h0M79.8 137.1h0M80.4 139.4h0M81.9 138.3h0M80.7 136.3h0M77.4 137.6h0M78.5 139.2h0M77.2 137.2h0M79.6 137.8h0M80.7 137.1h0M79.7 139h0M82.3 137.2h0M79.6 137h0M78.7 138.8h0M80.6 136.9h0M80.7 136.2h0M77.2 137.8h0M81.1 137.7h0M80.6 137.3h0M79.7 137.7h0M80.7 136.1h0M79.3 137.9h0M78.2 137.2h0M77.1 139h0M79.1 137.8h0M83.3 136.3h0M82.2 135.5h0M78.1 139.5h0M79.2 136.8h0M81.9 138.3h0M81.1 138.3h0M77.6 139.2h0M78.7 138.8h0M76.8 136.4h0M77 139.5h0M77.3 136.9h0M82.4 137h0M78.2 139.6h0M83.1 138.5h0M77.2 139h0M82.3 137.7h0M80.3 137.2h0M78 139h0M78.5 137.3h0M81.3 137h0M84.1 136.3h0M82.1 138.5h0M84.9 137.1h0M77.7 136h0M80.9 138.7h0" stroke="#2f7fc2" stroke-width="1.4" stroke-opacity="0.95"/>
<path d="M97.7 96.1h0M96.7 97.2h0M95.9 99.3h0M98.5 98.2h0M99.4 96.9h0M97 95.9h0M96.9 98.8h0M97.6 96.9h0M95.9 98.7h0M97.1 98.8h0M95.5 100.2h0M97.1 96.1h0M94.4 98.1h0M96.8 98.1h0M96.6 96.7h0M97.5 96.1h0M96.3 98.1h0M100.5 96h0M96.8 99.1h0M98.8 97.3h0M94 97.3h0M99 95.5h0M96.6 99.9h0M96.4 96.8h0M95.8 98.5h0M95.4 97.7h0M94.5 97.5h0M97.4 98.2h0M97.9 96.8h0M96.1 98.2h0M98.7 95.3h0M95.8 99.5h0M98.2 96.2h0M96.7 99h0M96.5 99.3h0M98.7 95.2h0M98.6 99.2h0M95.7 97.1h0M98.7 98h0M97.2 99.1h0M97.6 97.3h0M95.8 95.4h0M95.3 100.1h0M98 97.2h0M95 98h0M98.4 97.9h0M98.9 95.9h0M99.2 96.2h0M99.4 98.7h0M97.8 97h0M99.9 96.4h0M95.2 96.1h0M93.9 97.8h0M97.8 96.1h0M96.2 97.2h0M98.5 98.6h0M100.2 98.4h0M97.7 96.6h0M97.6 97.4h0M98.2 98h0" stroke="#2b0c38" stroke-width="1.65"/>
<path d="M95 99.7h0M93.7 99.7h0M94.9 99.7h0M95.3 98.9h0M93.6 99.9h0M95.7 99h0M94.7 99.5h0M92.8 100.2h0M92.4 100.9h0M92.9 100.8h0" stroke="#2b0c38" stroke-width="1.6"/>
<path d="M194 148.5h0M190.3 146.2h0M191.9 146.2h0M191.1 147.7h0M190.6 146.6h0M190 148.3h0M190.6 146.1h0M192.8 145.6h0M192.6 144.5h0M185.9 147.1h0M190.7 147.5h0M191.9 149.1h0M191 148.7h0M188.9 146h0M187.9 148.6h0M189.8 146.3h0M188 145.5h0M191.8 148.1h0M191.6 146.3h0M187.2 148h0M190.4 146h0M190.6 145h0M191.3 147.7h0M190 148h0M192.4 148.8h0M187.9 148.6h0M192.7 148.2h0M186.4 147.8h0M191.7 147.1h0M189 147.4h0M192.6 147.4h0M190.8 149h0M192.4 146h0M187.4 148.1h0M188.6 145.3h0M190.1 147.6h0M189.8 145.8h0M188.2 145.7h0M186.4 147h0M192.7 144.4h0M191 146.5h0M191.4 145.1h0M190.1 146.6h0M189.4 147.8h0M192.8 146.4h0M194.3 146.9h0M190.2 146.2h0M192.7 146.7h0M190.7 146.8h0M189.8 147.4h0M194.8 147.6h0M191 145.1h0M191.1 146.2h0M188.7 149.4h0M192.6 145.7h0M190.8 146.2h0M192.5 146.9h0M192.4 146.4h0M190.6 148.4h0M193.2 144.9h0M189.7 147.1h0M190 144.9h0M190.5 147.6h0M191.7 147.2h0M188.1 148.9h0M191.4 148.5h0M190.1 148.5h0M188.6 146.5h0M191.1 147h0M194.9 147.3h0M187.4 147.7h0M191.2 147.1h0M194.3 144.6h0M193 145.1h0M192.8 148.2h0" stroke="#2b0c38" stroke-width="1.65"/>
<path d="M180.6 149.6h0M187.2 147.3h0M184.8 147.4h0M178.5 150.7h0M178.8 151.2h0M184.8 149.7h0M183.2 148.6h0M178.4 149.3h0M187.7 148.9h0M187.9 148h0M178 151.2h0M188 148.6h0M184.7 148.4h0M185.4 148.3h0M180.9 149.5h0M179.7 149.3h0M185.3 149.8h0M185.9 147.7h0M180.5 147.6h0M186.8 147.7h0M183.9 149.2h0M179.9 148.5h0M185.9 146h0M184.9 147.6h0" stroke="#2b0c38" stroke-width="1.65"/>
<path d="M173.2 152.5h0M177.7 156.2h0M173.4 153.4h0M175.7 150.1h0M174.5 149.1h0M174.9 153.7h0M177.5 155.9h0M175.6 151.4h0M178.4 154.8h0M178 152.7h0M177.8 153.4h0M177.9 154h0M173.1 150.2h0M179.2 149.7h0M175.1 149.5h0M177.9 147.2h0M175.9 152.1h0M174.6 147.8h0M178.2 150.9h0M178.1 149.3h0M176.9 148.6h0M176.6 151.9h0M176.1 152.8h0M174.4 152.6h0M176.4 148h0M178.2 147.7h0M175.6 147.7h0M178.1 150.4h0M176.4 152.5h0M176.3 147h0M176 152.7h0M176 147.8h0M177.8 156.6h0M177.4 152.6h0M175.6 147.4h0M177.9 152.9h0M177.9 152.2h0M179.3 155h0M176.3 148.1h0M178.4 149.3h0M175.6 153.9h0M176.9 150.9h0M173.1 147.8h0M175.5 152.9h0M176.6 155.8h0M177.2 153.7h0M176.8 149.9h0M173.2 149.6h0M175.8 149.8h0M176.9 154.4h0M179.7 153.9h0M176.3 151h0M177.2 149.9h0M175.6 151.3h0M174.3 152.8h0" stroke="#2b0c38" stroke-width="1.65"/>
<path d="M108.8 159.4h0M107.9 161.3h0M111 152.2h0M106.9 163.3h0M110.5 154h0M108.4 160h0M106 166.5h0M109.4 159.1h0M110.8 153.7h0M107.3 164.5h0M110.6 154.5h0M110.8 153.6h0M111.4 151.7h0M109.3 156h0M107.7 162.1h0M109.4 157.3h0M107.2 162.5h0M110.2 156.3h0M111.4 152.4h0M110.7 154.5h0M106.1 167h0M105.6 167.8h0" stroke="#2b0c38" stroke-width="1.6"/>
<path d="M135.6 91.2h0M135.9 90.3h0M135.3 91.1h0M134.7 92h0M135.5 90h0M135.3 91h0M135.9 89.9h0M135.1 90.9h0" stroke="#2b0c38" stroke-width="1.6"/>
<path d="M203.8 178.7h0M193.3 184.6h0M203.7 179.1h0M194.3 185.1h0M205.3 180.4h0M202.3 182.2h0M202.3 181.4h0M205.6 179.3h0M187.5 191.7h0M191.8 194.9h0M180.1 192.7h0M194.4 187.3h0M193.1 185.6h0M204.2 180.1h0M187.5 190.9h0M185.1 190.8h0M202.4 180.5h0M193.2 186.3h0M192.7 184.2h0M203.4 182h0M192.5 181.4h0M205.6 179.7h0M200.8 178.5h0M181.2 191.1h0M196.1 180.3h0M203.9 180.3h0M198.3 183.2h0M188.1 192.3h0M198.6 183.4h0M190.6 186.5h0M205.9 181.6h0M202.6 181.3h0M190.8 192h0M204.8 180.1h0M205 180h0M193.5 185.7h0M195.1 182h0M200.1 179.8h0M184.8 192.8h0M196.7 186.3h0M199.5 182.7h0M198.8 178h0M199.1 182.7h0M194.3 187h0M188.9 187.1h0M204.3 180.6h0M184.1 193.2h0M203.2 181.4h0M197.1 187h0M192.4 184.9h0M196.7 183.2h0M207 183.9h0M188.2 188.9h0M196.3 181.7h0M203.6 182.1h0" stroke="#2b0c38" stroke-width="1.8"/>
<path d="M199.2 191.4h0M196.6 190.4h0M202.4 185.2h0M198.2 190.8h0M207.6 190.2h0M199.5 188.3h0M200.6 186.5h0M213.5 181.2h0M211.9 195.3h0M202.5 180.7h0" stroke="#2b0c38" stroke-width="1.65"/>
<path d="M116.5 66.5h0M115 70h0M114.2 73h0M121.2 78.3h0M124 75.7h0M128.5 73h0M97.5 84.6h0M100.2 77h0M179 73.6h0M176.2 70.5h0M168.4 68.5h0M178.6 64.5h0M129 176.3h0M130.5 178h0M129.5 180h0M116.6 219h0M122 220.3h0M165.6 210.2h0M218.5 128.3h0M214.5 127.3h0M225.4 122.2h0M211.5 118.5h0M134 30h0M122.5 167h0M119 163.5h0M130.8 154.6h0M143.3 163.8h0M165.5 169.5h0M160 163h0M186.5 199.5h0M178.5 201.3h0M175 205h0M193 197h0M199.5 191h0M206 186h0" stroke="#2b0c38" stroke-width="1.9"/>
<path d="M140.7 109.4h0M140.5 104.9h0M141.7 109.3h0M141.3 104.4h0M139 108.7h0M140.9 107.1h0M139 107.6h0M142 107.4h0M139 108h0M139.2 107.9h0M140.8 101.1h0M140.6 103.9h0M137.8 109.7h0M141.2 102.9h0M140.7 120.1h0M137.9 105.4h0M141.6 102.5h0M142.3 102.3h0M140.2 109.1h0M139.5 103.4h0M141 105.3h0M140 111.9h0M139.7 109.5h0M139.6 107.1h0M138.4 106.3h0M141.8 108.9h0M139.6 110.5h0M139.2 106h0M142.3 107.1h0M138.5 108.1h0M139 102h0M140.3 110.8h0M142.4 102h0M140.6 109.2h0M140.5 104.7h0M140.2 110.9h0M139.9 109.3h0M141.5 105.5h0M139.8 104.9h0M141.1 103.5h0M138.4 101.6h0M140.5 104.9h0M141.7 108.3h0M142.5 108.2h0M141.5 110.3h0M138.6 108.3h0M140.7 100.1h0M138.5 107.7h0M139.7 102.5h0M139.1 101.4h0M138.2 103.8h0M140.8 110.6h0M140.7 110.5h0M140.6 110.3h0M141 106.4h0M141 104.2h0M141.1 105.8h0M141.5 105.2h0M142.1 110h0M138 107.5h0" stroke="#cfd8b0" stroke-width="1.3" stroke-opacity="0.9"/>
<path d="M139.8 120.4h0M140 124.8h0M137.4 125.7h0M139.4 121.8h0M140.9 121.6h0M138 126.8h0M138.8 119.3h0M138.7 120.1h0M139.5 120h0M139.2 119.3h0M137 122.3h0M136.5 125.7h0M138.1 120.7h0M141.3 120.5h0M138 123.8h0M139.4 119.4h0M138.1 127.1h0M137.4 124.4h0M138.7 125.4h0M138.2 127.7h0M137.5 119.4h0M138 121.8h0M137.4 125.1h0M141 121.1h0M137.6 120.8h0M137.7 119.7h0M140.8 122.1h0M140.4 127.3h0M139.6 124h0M139.1 119.8h0M136.1 123.9h0M136.9 122.9h0M140.5 123.5h0M138.9 120.5h0M136.7 124.1h0M136.9 124.2h0M139.8 119.5h0M138.1 121.6h0M140.7 124.5h0M139.5 120.6h0" stroke="#cfd8b0" stroke-width="1.3" stroke-opacity="0.9"/>
<path d="M137 113.8h0M136.7 113.9h0M135.9 115.4h0M137.8 113.2h0M135.6 114.7h0M138.1 113.9h0M132.9 112.1h0M137.3 114.6h0M137.3 117.6h0M137.2 117.3h0M136.2 116.7h0M136.9 119.7h0M134.6 116.9h0M135.7 111h0" stroke="#9fb4c8" stroke-width="1.0" stroke-opacity="0.9"/>
</g>
<g id="labelsA">
<text x="24" y="21.1" font-size="7.4" fill="#111" font-weight="700" textLength="4.8" lengthAdjust="spacingAndGlyphs">A</text>
<text x="143.9" y="31.5" font-size="6.5" fill="#3a9a40" font-weight="700" textLength="12.3" lengthAdjust="spacingAndGlyphs">CDX</text>
<text x="131.5" y="53" font-size="6.5" fill="#b9b0d0" textLength="12.5" lengthAdjust="spacingAndGlyphs">KHV</text>
<text x="111" y="64" font-size="6.5" fill="#e58a3a" font-weight="700" textLength="12" lengthAdjust="spacingAndGlyphs">CHS</text>
<text x="86" y="76.3" font-size="6.5" fill="#a6dfe3" textLength="11.6" lengthAdjust="spacingAndGlyphs">CHB</text>
<text x="113.5" y="85.7" font-size="6.5" fill="#b5e5e8" textLength="11.5" lengthAdjust="spacingAndGlyphs">CHB</text>
<text x="168.5" y="55.6" font-size="6.5" fill="#c5ccdc" textLength="13.2" lengthAdjust="spacingAndGlyphs">LWK</text>
<text x="221.3" y="72.6" font-size="6.5" fill="#4a4058" textLength="9.5" lengthAdjust="spacingAndGlyphs">PJL</text>
<text x="194.5" y="94.7" font-size="6.5" fill="#4a4058" textLength="9.5" lengthAdjust="spacingAndGlyphs">PJL</text>
<text x="215.7" y="99.8" font-size="6.5" fill="#a9d48a" textLength="10.3" lengthAdjust="spacingAndGlyphs">GIH</text>
<text x="215.7" y="109.2" font-size="6.5" fill="#b5b838" font-weight="700" textLength="9.3" lengthAdjust="spacingAndGlyphs">ITU</text>
<text x="228.3" y="113.3" font-size="6.5" fill="#c4ccc0" textLength="10.9" lengthAdjust="spacingAndGlyphs">STU</text>
<text x="235.2" y="138.3" font-size="6.5" fill="#c3c56a" font-weight="700" textLength="9.8" lengthAdjust="spacingAndGlyphs">ITU</text>
<text x="227" y="160" font-size="6.5" fill="#f3bdd6" textLength="11" lengthAdjust="spacingAndGlyphs">BEB</text>
<text x="63.8" y="85" font-size="6.5" fill="#c9a593" textLength="14.7" lengthAdjust="spacingAndGlyphs">GWD</text>
<text x="32.6" y="125.8" font-size="6.5" fill="#8a8a8a" textLength="11.7" lengthAdjust="spacingAndGlyphs">MSL</text>
<text x="109.6" y="113.6" font-size="6.5" fill="#4f7fa8" font-weight="700" textLength="10.4" lengthAdjust="spacingAndGlyphs">GBR</text>
<text x="140" y="93.3" font-size="6.5" fill="#dfe09a" textLength="12" lengthAdjust="spacingAndGlyphs">CEU</text>
<text x="70.8" y="153" font-size="6.5" fill="#2f78b3" font-weight="700" textLength="10" lengthAdjust="spacingAndGlyphs">JPT</text>
<text x="111.5" y="147.7" font-size="6.5" fill="#a3d48f" textLength="11.5" lengthAdjust="spacingAndGlyphs">CLM</text>
<text x="93.5" y="160.8" font-size="6.5" fill="#f2d2a0" textLength="10.3" lengthAdjust="spacingAndGlyphs">MXL</text>
<text x="100" y="185.2" font-size="6.5" fill="#ea8c9c" textLength="10.4" lengthAdjust="spacingAndGlyphs">PEL</text>
<text x="129" y="191.2" font-size="6.5" fill="#f8c48a" textLength="12" lengthAdjust="spacingAndGlyphs">PUR</text>
<text x="150.4" y="173.8" font-size="6.5" fill="#d2484a" font-weight="700" textLength="9.2" lengthAdjust="spacingAndGlyphs">IBS</text>
<text x="179.6" y="165.8" font-size="6.5" fill="#2a9a50" font-weight="700" textLength="8.4" lengthAdjust="spacingAndGlyphs">TSI</text>
<text x="197.3" y="172.2" font-size="6.5" fill="#f0913a" font-weight="700" textLength="13.7" lengthAdjust="spacingAndGlyphs">ASW</text>
<text x="171" y="183.8" font-size="6.5" fill="#75635a" textLength="12" lengthAdjust="spacingAndGlyphs">ACB</text>
<text x="157.3" y="197.1" font-size="6.5" fill="#2fb0b8" font-weight="700" textLength="9.2" lengthAdjust="spacingAndGlyphs">YRI</text>
<text x="150" y="223.8" font-size="6.5" fill="#cc7ab3" textLength="12" lengthAdjust="spacingAndGlyphs">ESN</text>
<text x="73" y="203.5" font-size="6.5" fill="#a3d4a3" textLength="9.8" lengthAdjust="spacingAndGlyphs">GIH</text>
<text x="118.4" y="228" font-size="6.5" fill="#a9c9e2" textLength="9.6" lengthAdjust="spacingAndGlyphs">FIN</text>
<text x="36.2" y="223.4" font-size="6.8" fill="#3c3c46" textLength="27.3" lengthAdjust="spacingAndGlyphs">Cell Lines</text>
<text x="36.6" y="233.2" font-size="6.8" fill="#3c3c46" textLength="43.1" lengthAdjust="spacingAndGlyphs">1KG References</text>
<text x="232" y="239.2" font-size="8.8" fill="#333" textLength="21.7" lengthAdjust="spacingAndGlyphs">t-SNE</text>
</g>
<g fill="none" stroke-linecap="round">
<path d="M28.4 217.4h0M30.2 217.1h0M32.3 217.9h0M27.9 219.2h0M29.6 219h0M31.4 219.6h0M32.9 219.9h0M28.6 220.9h0M30.3 221h0M32 221.6h0M29.3 222.5h0M31.2 222.9h0" stroke="#2b0c38" stroke-width="1.6"/>
<path d="M28 226.6h0" stroke="#dccf98" stroke-width="1.5"/>
<path d="M30.4 226.6h0" stroke="#c0dba5" stroke-width="1.5"/>
<path d="M32.8 226.6h0" stroke="#efc0cb" stroke-width="1.5"/>
<path d="M28 229.2h0" stroke="#c8d1e0" stroke-width="1.5"/>
<path d="M30.4 229.2h0" stroke="#e2d8a5" stroke-width="1.5"/>
<path d="M32.8 229.2h0" stroke="#cfe0b5" stroke-width="1.5"/>
<path d="M28 231.8h0" stroke="#dccf98" stroke-width="1.5"/>
<path d="M30.4 231.8h0" stroke="#c0dba5" stroke-width="1.5"/>
<path d="M32.8 231.8h0" stroke="#efc0cb" stroke-width="1.5"/>
<path d="M28 234.2h0" stroke="#c8d1e0" stroke-width="1.5"/>
<path d="M30.4 234.2h0" stroke="#e2d8a5" stroke-width="1.5"/>
<path d="M32.8 234.2h0" stroke="#cfe0b5" stroke-width="1.5"/>
</g>
<g id="panelB" fill="none" stroke-linecap="round">
<path d="M275.5 28V224.5H472.5" stroke="#a9a9ad" stroke-width="1" stroke-linecap="butt"/>
<path d="M275.5 28h0M472.5 224.5h0" stroke="#55555a" stroke-width="1.6"/>
<path d="M317.9 115.9h0M338.2 71.3h0M399.8 123.4h0M337.6 99.8h0M348.2 146.6h0M331.5 150.1h0M364 96.3h0M338.7 73.6h0M342.6 93h0M327 130.9h0M301.4 161.3h0M310.4 127.8h0M402.9 109.6h0M325.7 151.4h0M361.4 86.5h0M350.4 101.4h0M400.3 129.1h0M396.6 98.7h0M306.6 130.6h0M339 123.4h0M312.7 121.7h0M361.1 108.7h0M359.2 128.9h0M317.1 121.3h0M362.6 102.1h0M343.5 146.5h0M349.4 108.9h0M380.5 136.3h0M339.2 149.1h0M319.4 78.3h0" stroke="#f3dcc0" stroke-width="1.5" stroke-opacity="0.9"/>
<path d="M374 100h0M336.7 79.4h0M329.3 96.7h0M412.8 119.1h0M347.7 99.7h0M414.9 108.4h0M347.7 133.7h0M398.2 112.3h0M319 77.8h0M301.4 159.3h0M409.9 111.7h0M324.8 101.9h0M340.5 142.9h0M389.3 110.1h0M312.6 136h0M308 146.4h0M345.9 74.6h0M378 119.2h0M360.8 128.5h0M328.9 114.7h0M358.1 86.4h0M332.4 138.1h0M403.5 106.9h0M333.4 67.1h0M380.2 128.9h0" stroke="#dcdce0" stroke-width="1.5" stroke-opacity="0.9"/>
<path d="M346.2 92.4h0M383.5 116.2h0M302.3 151.6h0M367.3 103.5h0M346.5 123.3h0M320.9 142h0M376.6 132.3h0M317.5 140.3h0M421.3 113.2h0M317 92h0M362.4 110.8h0M302.2 161.3h0M316.7 71.9h0M311.7 129.4h0M332.7 141.3h0M415 123.5h0M345 103.1h0M343.5 117.8h0M323.7 80.4h0M321.5 107.5h0" stroke="#e5cdb0" stroke-width="1.5" stroke-opacity="0.9"/>
<path d="M329.9 67.1h0M329.2 65h0M331.1 70.5h0M331 79.6h0M326.3 63.8h0M327.7 68.8h0M332.5 65.5h0M331.3 79.2h0M338.9 72.1h0M335.4 73.6h0M322.4 58.4h0M335.5 71.7h0M329.9 65.8h0M324.3 54.4h0M327.5 66.6h0M325.1 68.1h0M325.8 73.1h0M322.8 70.4h0M332.3 67.7h0M318.2 75.2h0M319.8 61.5h0M333.7 59.4h0M328.5 75.7h0M325.1 72.3h0M333.8 62.4h0M332.6 64.1h0M315.4 71h0M332.1 69.5h0M328.1 75.5h0M331.5 66.9h0M325.2 71.4h0M324.6 60.1h0M329.3 59.8h0M345.4 63.9h0M337 66.5h0M335.4 66.4h0M322.7 64.6h0M331.2 70.1h0M324.1 62.9h0M331.3 74.2h0M328.3 68.2h0M324.2 71.6h0M318.1 71.1h0M326.3 67.8h0M331.4 67.8h0M326.8 65.1h0M327.2 72.7h0M326.8 69.5h0M332.1 61.9h0M334.6 61.6h0M324 67.7h0M332.5 61h0M328.5 70.4h0M330.3 63h0M327.1 73.2h0M330 61.3h0M328.4 70.1h0M333.2 66.9h0M328.9 69.1h0M328 67.8h0M334.8 62.2h0M324.2 66.7h0M339.9 68.9h0M335.1 65.8h0M332.9 69.4h0M328.5 69.3h0M329.4 62.5h0M322.8 66.1h0M334.4 67.2h0M330.3 64.4h0M328.1 64.8h0M326.2 64.1h0M331.1 71.7h0M327.4 62.5h0M329.2 67h0M332.7 73.4h0M339.1 70.1h0M323.1 65.5h0M317.1 66.1h0M328.2 64.9h0M338.3 73.9h0M322.4 74.3h0M334.3 71.3h0M327.5 72.9h0M322.4 71.9h0M328.4 74.7h0M327.4 63.8h0M323.1 70.9h0M329.2 60.4h0M339.7 76.5h0M325.5 67.4h0M324.1 66h0M337.7 67.4h0M327.1 70.5h0M336.5 66.1h0" stroke="#f8cf90" stroke-width="1.4" stroke-opacity="0.8"/>
<path d="M336.9 75.2h0M348.3 71.3h0M342 67.9h0M327.3 63.7h0M340.9 76.6h0M337.4 72.8h0M337.3 70.8h0M345.8 74.8h0M344.6 78.5h0M338 66.4h0M339.2 77.1h0M337.7 68.9h0M332.6 69.7h0M342.1 69.8h0M346.2 81.9h0M342.7 70.9h0M333.4 77h0M341 74.9h0M332.8 64.4h0M351.7 68.9h0M338.9 62.6h0M347.8 72.5h0M352.4 73h0M345.4 74.5h0M337.3 69h0M334.8 60.1h0M337.3 73.9h0M338 71.2h0M329.6 60.9h0M345.6 72.7h0M330.2 66.3h0M321.5 61.8h0M341.8 69.3h0M328.5 66h0M333.5 69.4h0" stroke="#f3cf9f" stroke-width="1.4" stroke-opacity="0.8"/>
<path d="M329.3 86.4h0M333.6 84.4h0M337.3 82.2h0M324.3 79.3h0M317.5 75.7h0M355.4 87.2h0M333.2 85.9h0M345.9 87.3h0M337.7 84.2h0M326.6 83.4h0M330.1 78.5h0M338.5 86.2h0M333.3 71h0M333.3 79.9h0M327.2 85h0M323.5 74.3h0M335.3 100.6h0M323.8 86.9h0M341.5 82.7h0M322.3 83.8h0M339.9 74h0M334.7 75.2h0M331.2 91.3h0M328.9 85.2h0M331.6 83.3h0M323.4 87.5h0M322.5 71.8h0M335 72.9h0M328.4 78.3h0M329.2 75.6h0M331.6 78.4h0M326.3 96.6h0M334.2 81.1h0M340.3 81.1h0M314 88.3h0M324.3 80.3h0M314.7 86.9h0M333.6 95.2h0M327.2 81.3h0M330.3 82.3h0M323 94.7h0M331.2 71.8h0M323 81.7h0M330.3 76.1h0M328.9 62.1h0M336.2 92.3h0M332.5 88.2h0M308 84h0M323.7 81.4h0M328.3 87.7h0M329 90h0M332.8 79h0M346.7 73.9h0M338.5 78.6h0M328.6 62.2h0M328.3 87h0M336.8 79.1h0M336.1 66.1h0M336.6 89.9h0M326 100.9h0" stroke="#b9deaa" stroke-width="1.4" stroke-opacity="0.8"/>
<path d="M300.1 143.6h0M297 140.7h0M297.5 148.4h0M305.8 125.6h0M301.2 140.5h0M302 136h0M308.3 118.6h0M295.4 150.6h0M298.3 151.5h0M309.3 116.2h0M299.7 142.1h0M293.6 145.7h0M302.8 137.4h0M303.1 134.8h0M314.1 112.7h0M315.3 113.1h0M295.8 146.9h0M297.6 144.1h0M297.9 139.9h0M297.4 150h0M294.2 152.3h0M293.4 156.8h0M305.8 127.5h0M299 146.8h0M308.6 121.3h0M301 137.6h0M295.8 152.3h0M301.9 131.1h0M297.3 147.9h0M304.3 129.7h0M311 121.7h0M306.7 129h0M305.7 124.6h0M299.8 141h0M299.8 143.9h0M310.6 120.8h0M301.6 138.1h0M299.3 136.5h0M308.9 117.3h0M295.6 152.7h0M292.9 155.7h0M302.5 138h0M295.7 153.2h0M292.8 153.4h0M301.3 133.2h0M312.5 116.7h0M314.3 111.4h0M309.8 116.3h0M300.9 142.5h0M290.8 156h0M298.7 146.2h0M298.3 141.6h0M313.5 115h0M307.3 121.2h0M309.9 121.7h0M313.1 111.8h0M310.4 120.3h0M304.7 130h0M313.8 114.2h0M308.5 125h0M307.8 118.8h0M302.1 130.9h0M304.9 126.9h0M305.4 128.7h0M300.4 142.8h0M305.4 124.4h0M309.4 122.2h0M293.4 152.1h0M307.5 124.7h0M301.2 142.6h0M312.5 111.8h0M312.3 110.6h0M298.7 148.2h0M298.9 141.7h0M298.3 147.5h0M295.1 146.2h0M305.8 123.5h0M305.7 128.9h0M306.9 124.5h0M310.5 117.2h0M311.5 115.4h0M295.5 157.4h0M298.4 140.5h0M305.2 131.3h0M305.5 130h0M314.9 113h0M310.4 117.9h0M300.7 137.4h0M301.3 136.3h0M295.3 147.7h0M309.6 120h0M310.9 119.8h0M307.8 123.6h0M311.3 117.3h0M302 129h0M310.8 113.6h0M296.8 151h0M315.8 112.9h0M302 131.5h0M307.5 122.9h0M303.3 131.4h0M310.9 113.6h0M296.2 149.7h0M294.5 155.3h0M313.8 113.8h0M296 146.8h0M311.2 116.4h0M294.3 155.9h0M301.5 135.9h0M309.5 118.6h0M312.4 115.3h0M307.6 123.8h0M295.2 151.6h0M297.6 142.5h0M305.4 129.9h0M297.5 144.5h0M302.7 133.9h0M304 132.1h0M302.7 131.4h0M306.5 123.2h0M304.9 130.6h0M302.8 133.1h0M298.3 142.1h0M309.5 121h0M296.2 149h0M313.9 112.6h0M307.5 121.4h0M300.3 139.8h0M293.3 156.6h0M304.6 133.3h0M310.3 111.9h0M305.6 129.3h0M300.7 138.4h0M297 151.4h0M300.6 140.4h0M296.1 145.5h0M303.9 127.8h0M292.2 157.7h0M297.5 151.3h0M308.5 119h0" stroke="#f8bd9c" stroke-width="1.4" stroke-opacity="0.85"/>
<path d="M302.5 125h0M304.9 114.7h0M294.1 133.3h0M301.3 131h0M306.7 124.7h0M308.2 115.9h0M300.8 133.2h0M306.9 140.2h0M303.9 127.1h0M300.8 127.3h0M309.5 112.9h0M309.4 124.4h0M297.7 131.9h0M311.4 124.3h0M301 137.9h0M297.2 138.1h0M313.7 111.1h0M308.8 125.8h0M298.4 125.8h0M307 123.8h0M312.5 112.1h0M295.5 127.1h0M309 129.5h0M301.6 130.7h0M309.2 120.8h0M306 127.3h0M317.1 112.8h0M310.7 108h0M313.5 125h0M305.3 122.2h0M306.6 122.2h0M305.9 120.2h0M298.3 138.7h0M301.2 124.9h0M308.4 125.4h0M308.7 120.5h0M309.2 115.9h0M305.1 115h0M307.9 118.9h0M295.2 134.5h0" stroke="#f6d9c4" stroke-width="1.3" stroke-opacity="0.8"/>
<path d="M317.5 83.4h0M318 79.5h0M315.2 86.3h0M315.5 81.3h0M315.1 81.2h0M316.7 78.6h0M315.5 83.6h0M317 79.8h0M315.6 79.7h0M317.1 83.6h0M316.4 82.3h0M314.8 80.9h0M316.4 78.7h0M314.9 91.7h0M315.6 84.3h0M312.8 78.4h0M316.2 89.6h0M315.7 91.2h0M314.3 83.5h0M316.2 91.1h0M317.7 89.8h0M315.6 82.8h0M316 92.9h0M318.5 93.5h0M316.5 84.1h0M318 90.7h0M316.6 91.5h0M315.2 84.7h0M316.9 89.3h0M317 84.4h0M314.9 85.8h0M315.7 93h0M315.4 81.3h0M315.3 78.2h0M315.9 79.6h0M313.7 87.9h0M317.1 86.3h0M316.1 82.8h0M315.8 94h0M316.5 89.5h0M314.8 80.1h0M316.4 81.3h0M313.7 87h0M314.5 80.2h0M317.1 89h0M316.9 82.5h0M315.2 92.1h0M315 88.2h0M316.2 82.1h0M317.1 78.7h0M314.6 86.5h0M314.7 83h0M316 80h0M316.4 80h0M317.7 84.8h0M316.1 91.1h0M317.3 92.7h0M316.7 79.4h0M318.3 81.7h0M315.1 81.8h0M316.8 78.7h0M313.9 85.6h0M319.4 93.5h0M314 88.5h0M316.2 86.4h0M317.5 83.8h0M314.5 80.1h0M317.3 92h0M313.1 93.9h0M317 84.1h0M314.4 79h0M317.2 81h0M317.2 80.9h0M317.9 82.3h0M317 79.9h0M315.2 78h0M317.1 85.2h0M316.1 91.4h0M316.3 81.8h0M316.1 93.9h0" stroke="#8a7a9a" stroke-width="1.4" stroke-opacity="0.85"/>
<path d="M315.8 110.8h0M313.2 109.9h0M316.4 104.5h0M315.6 99.2h0M315.5 96.7h0M317.9 100.4h0M315 97.4h0M317.4 102.4h0M313.4 97.9h0M314 104.5h0M316.9 110.8h0M314.8 97.1h0M316.5 95.7h0M315.2 106.3h0M316.8 99.5h0M316.1 111.9h0M314.6 100h0M315.5 109.5h0M315.6 99.1h0M315.2 110.8h0M314.3 105.2h0M315.7 105.5h0M315.1 101h0M317.3 105.5h0M316.7 96.2h0M316.6 97.7h0M315.2 94.5h0M316 109.1h0M315.8 96.3h0M314.4 106.9h0M316.8 97.9h0M315 108.1h0M315.1 103.3h0M316.6 94.1h0M315.3 106.7h0M314.7 102.8h0M314.4 109.5h0M315.5 95.4h0M316.5 111.4h0M315.8 108.4h0M315.9 107.7h0M315.3 96.9h0M315.1 100.7h0M313.9 98.8h0M314.9 105.2h0M315.9 111h0M317.2 103.2h0M316.2 111.8h0M317.4 94.1h0M316.1 108.9h0M314.9 105.9h0M316.9 98.6h0M316.7 100.5h0M316.4 109.3h0M317.5 96.9h0M318.9 99.9h0M315.2 106.9h0M317.2 100.2h0M316.1 103.8h0M315.9 108.6h0M314.6 102.3h0M316.6 105.5h0M317 105.8h0M315.7 107h0M315.5 106h0M314.6 99.7h0M316.4 100.4h0M317.3 99h0M315.9 109.6h0M317 104.2h0M315.4 111.9h0M316 110.9h0M315 101.7h0M317.5 101.3h0M313.5 97.3h0M316.1 102.3h0M316.8 108.6h0M316.6 105.6h0M316.5 110h0M316.6 104.7h0M316.1 94h0M315.9 105.8h0M316 101.7h0M317 106h0M316.8 94.8h0M315.2 108.8h0M315.3 102.6h0M315 106.8h0M314.8 103.7h0M316.7 105.6h0M314.9 103.2h0M315.5 98.6h0M317.9 94.1h0M312.6 106.6h0M316.5 96.5h0M316 100.6h0M315.6 104.7h0M316.5 102.4h0M314.2 97.3h0M315.1 96.7h0M316.3 108.6h0M316.6 94.6h0M313.8 101.5h0M316.7 101.1h0M316.8 108.7h0M316 98h0M314.9 101.5h0M314.5 102.8h0M312.8 101.4h0M316.7 100.8h0M316.4 94.1h0M315 109.9h0M315.2 103.2h0M313.1 104h0M316.9 95.4h0M315.3 110.2h0M315.8 108.1h0M317.1 101.2h0M316 104.9h0M315.1 96.2h0M317.1 108.6h0M314.6 102.5h0M316.5 103.6h0M317.9 96.2h0M314.2 99h0M314.6 100.7h0M315.7 103h0M316.2 105.3h0M315.3 107.6h0M317.2 97.5h0M315.2 104.4h0M316.6 104.3h0M317.9 101.3h0M315.3 110h0M314.6 98.5h0M316.1 94.2h0M316.6 107.6h0M316.1 105.8h0M314.5 103.1h0M315.7 98.6h0M314.2 96.1h0M314.2 111.6h0M315.4 104h0M316.1 98h0M315.1 100.6h0M316.2 108.3h0M316.2 103.3h0M316.5 97.4h0M314.8 98.8h0M316.9 107.5h0M314.2 108.1h0M315.5 104.8h0M315.8 98.6h0M314 105.7h0M314.5 94.3h0M316.4 94.5h0M314.5 94.5h0M315 109.8h0M316 94.2h0M316.7 101.7h0M314.4 102.3h0M315.9 107.1h0M317.6 95.5h0M315.8 101.5h0M315.8 98.1h0M315 95.6h0M314.9 108.3h0M313.1 104.8h0M314.3 100.5h0M316.3 108.5h0" stroke="#9bc53d" stroke-width="1.4" stroke-opacity="0.9"/>
<path d="M314.3 115.6h0M312.6 120.3h0M314.4 112.5h0M316.5 117.9h0M314.6 112.6h0M317.5 112.5h0M312.2 121.1h0M313.4 112.4h0M315.1 113h0M314.6 111.4h0M315.4 112.1h0M312.4 118.9h0M315.6 118.8h0M313.8 116.7h0M312.2 113h0M311 114.3h0M316 115.2h0M312.4 119.1h0M314.5 119.8h0M315.3 114.5h0M312.7 121.1h0M315 112.4h0M313.4 115.7h0M314.5 116.5h0M313.7 116.3h0M313.1 113.6h0M314.5 113.8h0M315.6 111.4h0M312.6 114.6h0M311.8 120.9h0M314.8 116.7h0M315.8 113.1h0M315.2 118.8h0M312.4 118.7h0M313.5 120.9h0M314.2 119.2h0M313 112.4h0M313.5 112.7h0M313.7 115.8h0M315.3 112.2h0M314.3 117.7h0M312.4 116.5h0M315.5 114h0M314.9 114h0M315 116.1h0M314.9 112.8h0M314.1 121.6h0M315.2 117.1h0M313.2 119.2h0M317.8 114.9h0M314.4 119.5h0M314.4 113.4h0M314.2 116.1h0M312.3 116h0M315.1 121.3h0M314.2 113.8h0M314.6 113.7h0M315.2 115.1h0M313.9 116.5h0M313.2 117.3h0M314.8 120h0M316.6 111.5h0M314.1 111.7h0M315.6 116.9h0M317 113h0M312.9 115.8h0M314.6 113.9h0M315.7 111.3h0M313.3 119.4h0M314.1 116.6h0" stroke="#f2b5b5" stroke-width="1.4" stroke-opacity="0.9"/>
<path d="M309.1 55h0M308.8 56.2h0M309.5 50.7h0M309.4 51.4h0M309.9 54h0M308.6 52.8h0M309.6 51h0M310.1 52.7h0M309.9 57.4h0M310.4 52.5h0M310 54.5h0M308.7 52.4h0M308.3 54.5h0M309.4 49.6h0M307.4 55.9h0M309.3 51.4h0M308.4 53.2h0M308.7 49.9h0M307.8 52.3h0M308.5 51.2h0M308.8 55.8h0M309.5 53.2h0M308.3 55.6h0M309.2 52.8h0M308.9 58.5h0M309.3 51.9h0M310.2 52.3h0M309 54.6h0M309.2 55.6h0M308.9 53.3h0M310 53.1h0M309.6 54h0M308.3 58h0M308.5 54.7h0M308 54.5h0M309.9 53.3h0M308.5 51.8h0M309.3 51.4h0M309.2 55.9h0M309.3 48.3h0M310.1 51.1h0M308.9 51.4h0M309.1 53.6h0M309.5 52.3h0M309.1 53.9h0M309.2 53.8h0M309.7 52.2h0M308.6 58.1h0M309.3 54.3h0M308.9 54.5h0M310.4 50.9h0M308.7 51.7h0M308.9 52.5h0M309.7 54.9h0M307.9 57.2h0M308.6 54.4h0M308.3 51.7h0M310.8 53.6h0M308.3 54.7h0M310.6 51.4h0" stroke="#a3bbe3" stroke-width="1.4" stroke-opacity="0.9"/>
<path d="M433.8 113h0M437.3 112.7h0M423.5 103.7h0M411.5 96.5h0M442.1 118.8h0M422 103.4h0M408.3 94.5h0M436.8 111.9h0M419.1 101.3h0M422.8 103.6h0M423.2 101.5h0M415.3 100.1h0M439.8 115h0M421.2 104.7h0M425.8 104h0M433.7 111.6h0M428.8 107.6h0M435.9 111.9h0M420.6 102.4h0M423.7 104.7h0M412.9 95.4h0M413.1 95.3h0M415.7 100h0M434.6 110.8h0M430.2 108.5h0M440.1 113.3h0" stroke="#a5683e" stroke-width="1.4" stroke-opacity="0.9"/>
<path d="M437.1 114.2h0M439.8 116.1h0M424.3 103.9h0M430.1 109.4h0M444.5 118.3h0M431.6 106.5h0M426 106.7h0M433.5 108.6h0M419.5 99.8h0M416.9 101.1h0M425.8 105.6h0M435.3 112.2h0M426 104.8h0M441.6 116.1h0M416.1 97.2h0M432.9 112.1h0M434.7 112.5h0M436.1 112.8h0" stroke="#eaa858" stroke-width="1.4" stroke-opacity="0.9"/>
<path d="M411.5 93.6h0M414.1 98.6h0M444.8 117.7h0M411.1 96.6h0M435.1 110h0M440.4 114.6h0M439.5 113h0M424.6 103.2h0M444.4 120h0M428.2 105.4h0M437.4 113h0M434.5 111.4h0M425.7 106.9h0M417 101.9h0M415 98.9h0M432.2 110.4h0" stroke="#2b0c38" stroke-width="1.3"/>
<path d="M478 133.3h0M443.9 117.8h0M472.1 131h0M447.1 118.8h0M454.8 123.5h0M471.4 129.5h0M453.2 122.9h0M458.1 124.8h0M448.2 120.8h0M458.3 121.9h0M457.6 126.4h0M478.8 131.9h0M452.2 120.4h0M473.8 131.1h0M449 117.9h0M454.1 121.3h0M445.6 118.4h0M461 125.3h0M483.4 134h0M480.2 135.1h0M462.1 125.6h0M472.6 132.8h0M453.7 121.4h0M471 132.1h0M478.5 135.6h0M444.7 119.7h0M478.4 136.4h0M481.1 137.6h0M445.4 118.4h0M467 131.4h0M457.4 124.4h0M479.4 133h0M470.2 131.4h0M482.3 136.2h0M482.5 135.3h0M458.5 126.4h0M470.4 131.3h0M459.8 123.5h0M475 133.2h0M474 133.7h0M467.1 128.8h0M453 123.5h0M475.6 132.3h0M482.2 135.7h0M473.9 133.5h0M451.8 122.5h0M470.2 130.1h0M481.7 136.6h0M475.3 132.6h0M475.9 133.6h0M477.9 133.6h0M478.4 134.6h0M469.3 130.3h0M444.7 119.1h0M476.3 132.9h0M476.7 131.5h0M466.1 128.8h0M481.8 136h0M481.2 137h0M454.2 123.1h0M452.7 123.8h0M471 132.3h0M452.3 119.7h0M447.7 118.8h0M468 129.3h0M475.7 132.9h0M456.3 126.4h0M482.7 135.6h0M453.9 123.2h0M474.5 130.7h0M483 134.6h0M464.7 128.3h0M447.7 121h0M466.4 130.5h0M479.5 133.1h0M462.6 126.8h0M481.4 135.2h0M469.7 129h0M482.2 136.3h0M473.2 131.8h0M449.2 121.7h0M472.4 132.1h0M450.6 121.3h0M470.7 131.7h0M481 135.7h0M480.3 134.7h0M480.1 134.8h0M464.5 126.7h0M483.1 134.5h0M472.6 131.7h0M452.4 122.1h0M482.4 135.5h0M483 134.8h0M482 137.1h0M468.1 129.8h0M446 118.9h0M472.9 132.1h0M482.7 135h0M482.1 136.6h0M446.4 120.1h0M470.4 130.4h0M476.8 135.2h0M479.9 135.6h0M467.4 128.9h0M474.2 130.2h0M460.2 127h0M446.8 122.1h0M471.7 131.7h0M472.3 130.8h0M482.2 135.3h0M449.5 118.9h0M458 125.2h0M449.5 120.6h0M474.1 132.7h0M465.4 129.3h0M479.6 134.5h0M479.2 134.8h0M451.7 122.4h0M475.6 133.6h0M474.6 132.8h0M475.7 131.8h0M464.2 128.6h0M473.4 130.1h0M480.7 135.9h0M458.2 125.4h0M479.1 133.8h0M473.1 131.8h0M461.8 127.7h0M470.7 131.9h0M447.4 120.7h0M466.3 127.2h0M473.2 132.8h0M443.6 118.9h0M482.1 135.9h0M476.3 132.3h0M476.1 133h0M482.3 136.4h0M482.8 134.8h0M482 136.6h0M482.8 133h0M472.4 132.4h0M479.7 134.9h0M468.6 128.9h0M468.3 130.5h0M482.1 135h0M451.5 122.1h0M445.6 118.9h0M478.4 133.2h0M461.3 127h0M470.6 129.9h0M479.6 135.4h0M463.5 126.8h0M478.2 132.4h0M477.6 135.9h0M452.4 122.7h0M479.1 133.4h0M477.8 134.2h0M445.6 120.4h0M460.4 124h0M482.7 134.8h0M482.6 135.3h0M482 134.2h0M480.8 137.1h0M451.9 124h0M480.4 134.7h0M478.2 134.8h0M451.7 121.4h0M445.1 118.2h0M462.5 127.3h0M462.6 128.7h0M483 134.9h0M482.4 134.9h0M482.4 136.2h0M477.8 133h0M444.5 117.1h0M443.6 117.3h0M478.4 132.9h0M482.7 134.2h0M471 130.6h0M482.8 134.7h0M478.2 133.3h0M445.6 118.9h0M453.4 124h0M470 129.8h0M478.3 136.1h0M482.9 135.1h0M482.4 136.1h0M478.7 134h0M481.7 137.1h0M462.5 127.7h0M443.9 118.1h0M463.3 126h0M469.9 130.9h0M452.1 123.1h0M461.4 124.6h0M476.6 133.6h0M450.8 120.6h0M459.9 126.9h0M481.8 135.7h0M478.9 134.1h0M480.8 135.1h0M473.6 133.4h0M454.4 122h0M481.3 135.5h0M456.2 127.1h0M477.5 135.1h0M476 132.4h0M482.7 135.5h0M476.2 133.1h0M445.4 120.5h0M453.9 123.5h0M464.3 126.6h0M477.4 132.7h0M449.4 121h0M481.9 137.2h0M472.7 133.1h0M478 134.8h0M465.3 128.1h0M467 129.5h0M448 121.4h0M480.7 134.9h0M481.6 137.4h0M479.3 135.2h0M445.8 118.3h0M480 135.9h0M479.5 135.3h0M473 132.2h0M482.7 135.4h0M481.8 135.6h0M480.3 134.4h0M460 125.5h0M463.1 127.5h0M470.7 128.6h0M476.6 132.7h0M447.2 119.5h0M461 128.6h0M450.7 122.1h0M481.9 137h0M480.7 135h0M469.1 130.6h0M446.1 119.9h0M482.6 135.7h0M462.2 127.5h0M483.3 133.9h0M477.7 133.3h0M474.1 134.8h0M447.3 119.6h0M456 123.4h0M461.2 125.8h0M467.4 129.5h0M481.5 136.5h0M481.4 137.5h0M458.5 125.3h0M450.7 122.1h0M475 134.4h0M465.7 127.3h0M474.4 132h0M457.5 123.2h0M479.7 136.6h0M476.7 131.6h0" stroke="#9a5a3c" stroke-width="1.4" stroke-opacity="0.95"/>
<path d="M445.4 120.5h0M444.3 116.7h0M455.4 122.6h0M449.7 120.1h0M453.1 121.1h0M458.1 125.3h0M456.1 122.3h0M459.1 126.7h0M464 128.1h0M461 126.6h0M463 125.7h0M455.4 123.5h0M450.9 119.5h0M451 123.6h0M451.6 119.5h0M461.7 125.1h0M445.7 118.7h0M447.2 119.9h0M444.7 119h0M444.5 118.2h0M451.3 121.5h0M457.6 122.1h0M452.4 124h0M464.4 129h0M445.5 118.9h0M454.2 122.1h0M462.8 126.7h0M469.3 130.1h0M454.9 122h0M454.1 122.4h0M446.6 120h0M460.8 129.4h0M451.2 121.5h0M454.5 126.3h0M464.8 128.5h0M445.6 117.9h0M468.4 127.7h0M458.6 123.3h0M451.3 124h0M456.3 123h0M458.5 125.1h0M464 127.2h0M447.7 120h0M446 117.8h0M446.2 119h0" stroke="#eaa858" stroke-width="1.4" stroke-opacity="0.9"/>
<path d="M469.4 129.4h0M446.7 122.1h0M469.3 129.5h0M455.7 125.3h0M444.3 116.3h0M452 122.3h0M440.6 117.5h0M475.3 132.1h0M468.4 129.3h0M467.4 127.9h0M449 119.1h0M451.3 120.8h0M451.2 122.5h0M467.7 129.1h0M449.2 120.8h0M477.2 132.1h0M449 122.6h0M457.2 127h0M445.1 119.8h0M466.7 128.8h0M457.4 127h0M466.5 130.6h0M457.3 122.6h0M456.8 123.2h0M440.1 117.1h0M449.3 118.8h0M466.7 127.1h0M446.2 116.8h0M476.9 132.7h0M472.3 131.8h0M454.8 126.1h0M449.2 120.7h0M441.9 116.1h0M471.4 133.7h0M452.2 121.5h0M476.3 133.2h0M470.1 130.1h0M453.7 122.5h0M456.2 124.5h0M455.3 123.7h0M474.9 132.2h0M445.6 119.5h0M449.4 123.7h0M442.7 116.8h0M455.3 123.2h0M455.7 123.6h0M473.7 130.6h0M471.7 129.8h0M462.3 126h0M463.9 127.9h0M445.8 116.8h0M459.9 124.2h0M449.8 121.1h0M445.1 118h0M449.8 122.1h0M469 128.9h0M440.1 116.8h0M441.3 115.6h0M464.2 126.5h0M453 120h0M467.8 127.5h0M440.9 115.9h0M453 119.5h0M446.3 117.4h0M473 133.4h0M469.5 127.3h0M452.5 125.2h0M450.6 121.2h0M453.2 119.7h0M476.9 135.4h0" stroke="#2b0c38" stroke-width="1.3"/>
<path d="M475.9 132.5h0M466.9 127.9h0M471.4 131.2h0M469.3 130.8h0M478.3 134.2h0M473.9 132.2h0M476.1 133.4h0M476 134.4h0M477.8 134.7h0M468.2 129.8h0M468.6 130.9h0M472.4 130.7h0M469.7 129.6h0M478.9 133.8h0M474.4 131.4h0M481.2 133.7h0M478.9 134.6h0M480.8 135.3h0M470.9 129.4h0M473.3 131.5h0M469.1 130.2h0M466.1 130.3h0M474.8 132.3h0M473.1 131.8h0M466.1 128.4h0M476 133.1h0M467.9 129h0M470.5 130h0M470.4 130.3h0M472.8 131.2h0M467.3 129.2h0M467.7 128.5h0M468.4 128.7h0M472.4 131.7h0M476.1 132.9h0M467.9 130.4h0M480.7 135.6h0M466.7 130.2h0M480.5 134.8h0M472.5 130.9h0M477.1 134.5h0M474.3 131.2h0M480.2 134.3h0M477.2 134.2h0M470.2 130.6h0" stroke="#8e8e90" stroke-width="1.4" stroke-opacity="0.9"/>
<path d="M484 136.4h0M483.4 135.7h0M480.5 136.4h0M482 136.3h0M481.7 135.7h0M482.3 135.9h0M484.1 136.3h0M483.3 134.5h0M482.2 135.9h0M483.1 135.3h0M481 136.9h0M481 135.4h0M484.3 136.3h0M480.3 134.9h0M482.4 137.4h0M483.5 135.4h0M485.1 135.9h0M482 136.7h0M484.4 137.9h0M481.3 135.9h0M483 136.6h0M482.3 136.9h0" stroke="#2fb0b4" stroke-width="1.2"/>
<path d="M314.3 43.6h0M313.9 46.1h0M312.9 45.7h0M312.2 43.7h0M318.2 49.3h0M314.1 46.2h0M320.4 46.9h0M317 45.5h0M319.7 50.3h0M315.6 44h0M313.9 45.2h0M317.5 47h0M310.1 44h0M321.8 49.2h0M311.9 43.7h0M314.1 43.3h0M318.2 44.3h0M312.9 47.1h0M310.8 41.8h0M320.8 48.1h0M314.2 48.5h0M315 44.3h0M318.2 51.7h0M312.3 47.6h0M317.3 44.8h0M320.7 47.5h0M313.8 43.5h0M311.7 41.8h0M319.1 47.3h0M320.1 50.4h0M318.8 48.7h0M315.1 46.9h0M321.4 52.4h0M320.2 49.2h0M321.5 47.3h0M317.4 50.1h0M319.2 50.2h0M321.8 48.4h0M316.2 43.2h0M317.2 48h0M313.6 44h0M315.9 47.5h0M316.7 49.2h0M320 49h0M320.4 51.6h0M319.4 48.4h0M316.4 46.4h0M319 51.9h0M314.3 47.7h0M318.6 45.5h0M316.1 46.8h0M315.5 46.1h0M316 45.6h0M320.5 49.1h0M319.6 48.1h0M318 47.2h0M317.6 46.8h0M319.9 47h0M314.2 49.9h0M316 46.9h0M318.5 46.7h0M310.4 43.2h0M321 52.6h0M316.7 47.2h0M313.3 42.6h0M313.7 47h0M315.2 45.4h0M318.3 47.5h0M317.5 46.4h0M318 50.1h0M317.8 50.6h0M320.7 50.9h0M319.6 47.9h0M316.4 47.9h0M319.2 46.3h0M312.6 43.4h0M316.4 47.1h0M322.2 49h0M317.8 47.2h0M318 48.1h0M320.8 51.1h0M317.2 48.9h0M315.6 45.6h0M313.7 48.8h0M317.4 47.3h0M318.9 49.5h0M313.7 44.4h0M314.3 47.8h0M321.5 49.2h0M315.7 45.3h0M314 44.2h0M317.3 50.7h0M321 50.2h0M311.5 46h0M314.8 41.3h0M317.2 50.8h0M315.4 46.2h0M319.9 45.8h0M317.2 47.4h0M316.6 46.9h0M312.4 42.7h0M315.3 45.2h0M316.8 49.5h0M314.3 49h0M319.3 51.8h0M314.1 43.2h0M318.2 44.9h0M321.1 48.1h0M316.2 48.7h0M317.2 45.4h0M316.5 48.4h0M316.8 48h0M319.7 46.4h0M310.4 42.6h0M316.3 45.1h0M320.2 51.9h0M318.6 48.6h0M320.2 47.7h0M318.3 49.7h0M321.7 48h0M314.7 42.5h0M318.5 48.8h0M313.2 44.8h0M315.5 47.2h0M313.2 45h0M311.4 43.3h0M319.3 48.4h0M320.9 45.8h0M316.3 44.4h0M316.4 47.4h0M319.3 48.9h0M314 44.7h0M318.4 52.3h0M314.2 45.9h0M312.4 46.1h0M319.7 51h0M312.7 45.5h0M317.9 48.5h0M314.5 46.9h0M317 49h0M316.9 46.9h0M320.7 52.9h0M315 45.5h0M319.3 48.6h0M315.3 48.2h0M311.7 41.7h0M314.4 46.9h0M319.8 48.5h0M320.8 48.1h0M318.2 47.5h0M321.4 48.6h0M317.1 43.8h0M314.1 46.8h0M312.8 45.9h0M323.6 50h0M320.8 51.5h0M318.7 47h0M311.7 43h0M319.2 47.5h0M321.8 50.7h0M320.9 52.5h0M320.1 47.5h0M322.3 48.3h0M315.4 50.2h0M315.5 48.9h0M313.1 45.2h0M319.5 48.4h0M320.5 49.8h0M315.1 46.1h0M316.4 45.8h0M317.9 44.3h0M313.9 42.6h0M319.4 45.9h0M313.3 45h0M314.7 49.5h0M319.2 46.2h0M315.2 44.5h0M313 48h0M310 43.7h0M315.5 47.1h0M320.3 48.3h0M321.4 51.4h0M318.2 43.3h0M315.7 47.9h0M317.9 48.7h0M317.5 47.7h0M316.2 45h0M314.2 45h0M319.3 49.3h0M319.6 44.5h0M321.3 50.7h0M322.5 47.3h0M317.5 49.5h0M320.5 49h0M314.1 43.8h0M318.4 48.7h0M323.3 49.6h0M314 49.4h0M314.4 47.4h0M318.9 50.5h0M314.4 48h0M320.3 48.9h0M315.1 47.5h0M322.1 47.8h0M317.3 48.2h0M315.2 48h0M314.8 44h0M312.8 45.3h0M321.6 46.6h0M322.5 49h0M318.4 51.7h0M318.5 47.1h0M314 43h0M312.4 44.5h0M312.7 43.2h0M317.5 48.7h0M320.5 50.2h0M321 47.7h0M323.1 49.3h0M320.3 46.2h0M320.1 48.4h0M317.4 46h0M319.2 48.6h0M322.9 49.3h0M313 41.6h0M318.7 49.3h0M314.7 48.7h0M314.4 49.1h0M314.2 46.6h0M313.8 46.3h0M312 44.1h0M322.3 49.3h0M316.7 48.7h0M314.9 42.7h0M322.2 49.2h0M318.7 50h0M320.6 49.4h0M317.2 44.6h0M315 47.6h0M315.6 44.6h0M316.6 42.8h0M313 45.1h0M317.7 48.4h0M316.3 48.9h0M314.1 48h0M320.6 48.5h0M320.2 52.7h0M315.3 47h0M315.2 46.2h0M319.5 49.6h0M315.7 48.2h0M320.8 49.4h0M316.3 45.3h0M315.6 46.6h0M319.5 48.7h0M316.3 47.1h0M318.3 47.5h0M317.4 47.5h0M316.3 49.9h0M320.3 50.7h0M314.2 45.9h0M315.1 46.7h0M316.4 47.6h0M322.4 51.1h0M321.5 51.5h0M316.9 47.5h0M315.9 49h0M312.5 46.8h0M311.1 46.4h0M311.4 44.1h0M319.7 46.8h0M317.6 44.7h0M315.4 47.5h0M317.3 50h0M314.9 45.9h0M320.8 46.9h0M317.2 46.5h0M314.1 42.3h0M318.8 47.6h0M319.9 49.6h0M322.2 52.5h0M317 45.6h0M316 46.3h0M323.8 51.2h0M322 50.4h0M315.6 44.5h0M310.7 41.7h0M315.2 48.2h0M318.7 45h0M313 40.7h0M316 50.2h0M314.8 43h0M323.8 51.6h0M314.2 47h0M314.8 45.8h0M316.7 47.8h0M316.9 45.5h0M318.6 48.2h0M315.2 48.8h0M316.7 44.6h0M317 47.5h0M317.2 46.8h0M314.4 49.1h0M313.5 44.5h0M315.5 49h0M318 47.1h0M319.4 49.8h0M314.9 43.4h0M321.4 49.6h0M317.7 48.1h0M316.8 48.8h0M313.4 48.1h0M316.1 43.6h0M320.7 51.9h0M312.9 46.4h0M317.2 46.9h0M316.8 46.6h0M310.4 45.3h0M312.1 47.9h0M318.5 45.8h0M318.2 43h0M317.5 49.9h0M316.5 47.2h0M317.1 49.8h0M317.9 48.1h0M314.3 43.2h0M315.7 46.8h0M323.7 49.4h0M317.2 51.4h0M319.9 47.8h0M319.8 47.4h0M318.5 50.7h0M314.4 48.1h0M317.6 47.9h0M319.4 50.1h0M316.6 47.2h0M316.9 49.3h0M315.1 44.7h0M311.9 40.8h0M310.7 43.9h0M316.2 44.9h0M318.9 43.8h0M323 50h0M320.5 47.6h0M314.6 45h0M316.3 46.5h0M315.1 43.6h0M317.9 49.6h0M313.2 43.5h0M310.4 44.6h0M315 44.5h0M316.8 46.7h0M316.3 47.5h0M317.5 47.8h0M317.4 49.6h0M316.9 49.2h0M318.1 51.9h0M311.6 44.7h0M312 44.7h0M323.8 52.1h0M317.6 44.9h0M319.2 47.7h0M318.2 48.3h0M315.2 42.9h0M320.9 48.9h0M320.9 45.5h0M317.1 49.8h0M318 48.9h0M312.6 43.9h0M314.3 46.5h0M319.3 48.2h0M311.4 44.7h0M314.5 44.6h0M321 49.3h0M314.6 45.3h0M316.9 47.2h0M319.5 47.4h0M315 44.4h0M315.9 44.2h0M319.6 47h0M314.9 45.7h0M315.7 46.7h0M310.9 42.6h0M318.6 51.4h0M316.4 44h0M315.5 46.8h0M318.1 45.9h0M310 42.1h0M315.4 46h0M323.2 49.2h0M320.1 49.9h0M311.1 44.5h0M316.1 46.4h0M317.9 47.1h0M314 43.5h0M319.7 48.4h0M321.7 48.6h0M312.9 45.4h0M316.2 49.3h0M315.9 43.4h0M320.7 50.7h0M316.9 46.1h0M320.1 48.3h0M318.3 49.2h0M316.4 48.7h0M311.9 46.9h0M319.1 48.5h0M317.5 44.7h0M315 45.3h0M315.5 47.4h0M312 43.5h0M313.3 43h0M316.3 48.6h0M313.6 41.3h0M320.2 51.4h0M317.5 48.6h0M312.3 47.8h0M319.2 44.9h0M322.1 47.4h0M319.6 45.7h0" stroke="#2b0c38" stroke-width="1.5"/>
<path d="M325.4 49.7h0M322.3 47.4h0M325 49.7h0M323 48.6h0M325.2 48.6h0M322.5 48.1h0M325.3 48.6h0M324.2 49.5h0M322.3 46.7h0M326.1 47.9h0M323.7 47.8h0M322.2 47.9h0M326.8 50.5h0M322.6 47.3h0M324.5 48.9h0M324.1 49.3h0" stroke="#e0503a" stroke-width="1.0"/>
<path d="M323.4 52.6h0M324.5 53.7h0M329.8 56h0M323.4 52.8h0M329 56.3h0M322.4 52.7h0M328.8 55.8h0M324.8 53.5h0M324.4 52.5h0M331.4 56.1h0M325.1 53.9h0M330.6 56h0M324.7 52.8h0M327.6 55.2h0M327.4 55.3h0M330.5 55.7h0M329.8 55.9h0M327.9 55.4h0" stroke="#2b0c38" stroke-width="1.3"/>
<path d="M316.5 67.8h0M317 66.5h0M315.7 69.1h0M315.8 71h0M316.6 70.1h0M314 64.6h0M316 61.1h0M316.6 63.1h0M313.8 65.1h0M316.2 65.6h0M317.1 65.5h0M316.9 77h0M316.2 74.7h0M316.8 61.5h0M314.9 70.3h0M317.1 64h0M314.7 63.3h0M316.8 77h0M314.6 70h0M318.3 60.9h0M317.7 59.4h0M314.4 76.4h0" stroke="#2b0c38" stroke-width="1.3"/>
<path d="M285.6 208h0M290.4 206.7h0M293.7 205.4h0M288.4 210.9h0M289.3 207.4h0M290.5 208.8h0M289.6 206.1h0M289.5 207.3h0M285.9 209.8h0M288.4 209.1h0M287.8 208.1h0M292.3 205.6h0M293.4 205.3h0M289.4 205.7h0M293.1 207.6h0M290.8 209.9h0M289.3 206.4h0M288.2 209.1h0M288.7 206.4h0M285.7 212.1h0M288.7 209.3h0M294.8 206.2h0M286.1 211.3h0M285.3 210h0M288.4 205.3h0M287.9 208.4h0M287.4 209.5h0M288.1 208.1h0M290.9 208.3h0M288.7 206.9h0M290.3 203.9h0M289.1 206.4h0M291.1 208.5h0M283.5 210.3h0M287.4 206.9h0M286.1 209.4h0M291.7 208.6h0M291.3 208.3h0M287.6 208h0M287 207.9h0M289.2 206.8h0M291.2 210h0M290.7 209.6h0M290.4 206.4h0M289.1 207.2h0M290.7 204.3h0M289.8 207.6h0M289.5 207.5h0M291.7 205.3h0M286 206.7h0M291.2 205.9h0M290.6 206.9h0M287.1 208.5h0M293.8 205.9h0M291.4 209h0M288.3 206.5h0M289.3 207.3h0M293.2 207.3h0M289.1 209h0M288.3 212.3h0M290.9 205.6h0M291.4 206.5h0M285.5 212.2h0M286.2 208.2h0M286.9 210.6h0M290.7 206.7h0M287.6 208.6h0M289 203.7h0M291.4 206.4h0M290.7 207.9h0M293.8 206.6h0M287.4 209.3h0M289.6 207.9h0M283.9 209.3h0M292.1 204.8h0M287.8 209.2h0M287.5 206.9h0M288.7 208.3h0M290.7 204.6h0M292 204.5h0M293.2 205.2h0M289.1 204.1h0M285.5 212.7h0M291.1 205.8h0M290.6 205.4h0M289.1 207.3h0M290.8 206.6h0M291.5 203.8h0M293.7 208.1h0M285.2 211.1h0M292.7 203.6h0M292.4 203.1h0M288.4 210.7h0M291.6 205.8h0M290 208.7h0M288.5 208.9h0M288.2 203.7h0M289 205.2h0M288.5 206.3h0M289.3 206h0M288.2 210.1h0M285.1 211h0M295 204.9h0M289.1 207.2h0M287.6 211h0M289.4 205.8h0M294.1 203.1h0M293.2 204.2h0M288.6 205.2h0M288.4 205.4h0M285 208.9h0M284.7 210.4h0M291.5 208.2h0M292.2 203.4h0M287.6 208.3h0M289.9 206.8h0M290.1 203.6h0M285.4 208.1h0M285.7 209.8h0M289.8 209.4h0M291.4 206.8h0M288.6 210.2h0M293.6 205.7h0M288.2 203.9h0M285.3 207.2h0M288.6 210.3h0M290.9 206.8h0M287.5 207.5h0M289 207.5h0M292.3 207.1h0M287.1 208.5h0M291.5 206.5h0M290.1 207.2h0M289.2 206.6h0M288.3 208h0M287 209.1h0M286.2 208h0M288 209.1h0M292.6 204.7h0M287.7 204.9h0M290.6 206.5h0M285.2 207.1h0M289.9 204.7h0M284.7 207.5h0M288.2 210.3h0M289.3 208.8h0M287.2 209.2h0M293.1 204.9h0M288.2 207.3h0M290.1 204.6h0M288.3 209.3h0M284 210.7h0M284.3 208.4h0M294.2 205h0M287 212.3h0M293.8 202.8h0M288.7 210.8h0M284.9 207.2h0M291.3 207h0M292.6 209.4h0M285.9 210.8h0M291.6 207h0M293 206.6h0M286.5 208.8h0M284 212.2h0M293.6 202.7h0M289.9 205.4h0M288.6 209.1h0M286.5 210.1h0M294.5 206.3h0M288.3 204.4h0M286.7 212.1h0M287.2 208.9h0M287.2 211h0M287.4 207.6h0M287.3 211.2h0M286.6 206.4h0M290.8 208.8h0M291.7 206.5h0M284.7 210.4h0M290.2 208.1h0M292.7 205h0M293.1 202.4h0M292.6 205.1h0M287.2 208.9h0M291.4 205.8h0M288.9 204.5h0M288.4 209.2h0M291.2 204.6h0M288.4 210.2h0M290.3 211.2h0M292.9 204.5h0M291 206.8h0M287.3 209.5h0M288.8 205.6h0M286.3 210.2h0M292.6 203.6h0M293.7 206.3h0M287.9 206.2h0M289.6 208.7h0M287.3 212.5h0M287.8 209.6h0M293.8 205.2h0M292 206.1h0M288.2 208.1h0M290.8 209.5h0M285.7 207.9h0M291 210.3h0M289 212h0M289.9 211h0M289.6 207h0M292.8 208.4h0M287.3 210.4h0M292.6 204.4h0M288.7 208.4h0M288.6 208.9h0M289.1 204.6h0M289.2 208.5h0M285 210.6h0M286.2 206.4h0" stroke="#2b0c38" stroke-width="1.5"/>
<path d="M293.3 197.6h0M296.4 195.6h0M294 194.8h0M290.5 196.3h0M295.3 198.9h0M304.1 202.6h0M299.9 201.2h0M297.1 197.6h0M297.4 199.4h0M296.3 195.1h0M296.4 196.7h0M297.6 198.1h0M300 198h0M296.1 194.5h0M297.4 200.5h0M295.7 193.5h0M301.1 195.6h0M295.6 199.5h0M296.6 198.1h0M297.2 201.1h0M298.1 200.2h0M294.3 196.1h0M297.9 196.6h0M295.7 202.2h0" stroke="#5a1a2c" stroke-width="1.2"/>
<path d="M309.7 183h0M315 188.5h0M320.5 180h0M358 57h0M347.5 60.5h0M362.5 64h0M329.5 63.5h0M444 131h0M432 122h0M281.5 211h0" stroke="#4a3a55" stroke-width="1.2"/>
</g>
<g id="labelsB">
<text x="267" y="21.1" font-size="7.4" fill="#111" font-weight="700" textLength="4.5" lengthAdjust="spacingAndGlyphs">B</text>
<text x="299" y="36.6" font-size="6.5" fill="#d9e0a3" textLength="10.7" lengthAdjust="spacingAndGlyphs">CEU</text>
<text x="319" y="37.6" font-size="6.5" fill="#217a52" font-weight="700" textLength="8.4" lengthAdjust="spacingAndGlyphs">TSI</text>
<text x="325.4" y="45.1" font-size="6.5" fill="#d2444c" font-weight="700" textLength="8.9" lengthAdjust="spacingAndGlyphs">IBS</text>
<text x="292" y="57.8" font-size="6.5" fill="#a9c9e2" textLength="9.7" lengthAdjust="spacingAndGlyphs">FIN</text>
<text x="340.4" y="69.7" font-size="6.5" fill="#f2c585" textLength="10.6" lengthAdjust="spacingAndGlyphs">MXL</text>
<text x="340.4" y="95.8" font-size="6.5" fill="#a3d485" textLength="12.3" lengthAdjust="spacingAndGlyphs">CLM</text>
<text x="295.8" y="90.8" font-size="6.5" fill="#6f5090" textLength="9.2" lengthAdjust="spacingAndGlyphs">PJL</text>
<text x="325" y="110.2" font-size="6.5" fill="#b3b440" font-weight="700" textLength="9" lengthAdjust="spacingAndGlyphs">ITU</text>
<text x="322" y="116.1" font-size="6.5" fill="#c9c9c2" textLength="10.7" lengthAdjust="spacingAndGlyphs">STU</text>
<text x="315.5" y="126.6" font-size="6.5" fill="#f3b5cc" textLength="11" lengthAdjust="spacingAndGlyphs">BEB</text>
<text x="378.8" y="101.3" font-size="6.5" fill="#f8c890" textLength="12.7" lengthAdjust="spacingAndGlyphs">PUR</text>
<text x="441.3" y="111.9" font-size="6.5" fill="#bba594" textLength="14.5" lengthAdjust="spacingAndGlyphs">GWD</text>
<text x="458.7" y="120.5" font-size="6.5" fill="#63493a" textLength="11.5" lengthAdjust="spacingAndGlyphs">ACB</text>
<text x="472" y="127.6" font-size="6.5" fill="#7a7a7a" textLength="11" lengthAdjust="spacingAndGlyphs">MSL</text>
<text x="483" y="133.6" font-size="6.5" fill="#da72a3" textLength="11.6" lengthAdjust="spacingAndGlyphs">ESN</text>
<text x="425" y="125.4" font-size="6.5" fill="#e0923f" font-weight="700" textLength="12.5" lengthAdjust="spacingAndGlyphs">ASW</text>
<text x="464.4" y="144.2" font-size="6.5" fill="#b9c9d2" textLength="12.6" lengthAdjust="spacingAndGlyphs">LWK</text>
<text x="473" y="151.2" font-size="6.5" fill="#2fa9a9" font-weight="700" textLength="9.7" lengthAdjust="spacingAndGlyphs">YRI</text>
<text x="285" y="185.4" font-size="6.5" fill="#b9b9c9" textLength="12.4" lengthAdjust="spacingAndGlyphs">KHV</text>
<text x="277.4" y="200.8" font-size="6.5" fill="#a9e0e0" textLength="12.3" lengthAdjust="spacingAndGlyphs">CHB</text>
<text x="292.8" y="216" font-size="6.5" fill="#205a8a" font-weight="700" textLength="10" lengthAdjust="spacingAndGlyphs">JPT</text>
<text x="368" y="234.4" font-size="8.6" fill="#333" textLength="13.8" lengthAdjust="spacingAndGlyphs">PC1</text>
<text x="478" y="240" font-size="8.6" fill="#333" textLength="15.8" lengthAdjust="spacingAndGlyphs">PCA</text>
<text x="272" y="132" font-size="8.6" fill="#333" textLength="13.2" lengthAdjust="spacingAndGlyphs" transform="rotate(-90 272 132)">PC2</text>
</g>
<defs><filter id="bl" x="-20%" y="-20%" width="140%" height="140%"><feGaussianBlur stdDeviation="0.6"/></filter></defs>
<g filter="url(#bl)">
<ellipse cx="52.6" cy="263.9" rx="2.2" ry="2" fill="#d2d2d2" fill-opacity="0.5"/>
<ellipse cx="52.1" cy="263.9" rx="1.3" ry="1.2" fill="#c9c9c9" fill-opacity="0.4"/>
<ellipse cx="50.4" cy="265.6" rx="2.2" ry="2" fill="#d2d2d2" fill-opacity="0.5"/>
<ellipse cx="50.4" cy="265.2" rx="1.3" ry="1.2" fill="#c9c9c9" fill-opacity="0.4"/>
<ellipse cx="49.3" cy="273.1" rx="2.3" ry="1.7" fill="#d2d2d2" fill-opacity="0.5" transform="rotate(-42 49.3 273.1)"/>
<ellipse cx="49.5" cy="272.7" rx="1.4" ry="1" fill="#c9c9c9" fill-opacity="0.4" transform="rotate(-42 49.5 272.7)"/>
<ellipse cx="43.5" cy="275.2" rx="1.8" ry="1.6" fill="#d2d2d2" fill-opacity="0.5"/>
<ellipse cx="43.3" cy="275.3" rx="1.1" ry="1" fill="#c9c9c9" fill-opacity="0.4"/>
<ellipse cx="79.1" cy="273.5" rx="1.1" ry="0.9" fill="#d2d2d2" fill-opacity="0.5" transform="rotate(-50 79.1 273.5)"/>
<ellipse cx="79.4" cy="274" rx="0.7" ry="0.6" fill="#c9c9c9" fill-opacity="0.4" transform="rotate(-50 79.4 274)"/>
<ellipse cx="71.3" cy="281.1" rx="2.3" ry="1.3" fill="#d2d2d2" fill-opacity="0.5" transform="rotate(50 71.3 281.1)"/>
<ellipse cx="71.1" cy="281.2" rx="1.4" ry="0.8" fill="#c9c9c9" fill-opacity="0.4" transform="rotate(50 71.1 281.2)"/>
<ellipse cx="75.5" cy="285.7" rx="3" ry="2.8" fill="#d2d2d2" fill-opacity="0.5"/>
<ellipse cx="75.7" cy="285.5" rx="1.8" ry="1.7" fill="#c9c9c9" fill-opacity="0.4"/>
<ellipse cx="78" cy="291.8" rx="2.3" ry="1.6" fill="#d2d2d2" fill-opacity="0.5"/>
<ellipse cx="77.4" cy="292.2" rx="1.4" ry="1" fill="#c9c9c9" fill-opacity="0.4"/>
<ellipse cx="82.1" cy="287.9" rx="1" ry="1" fill="#d2d2d2" fill-opacity="0.5"/>
<ellipse cx="82" cy="288.1" rx="0.6" ry="0.6" fill="#c9c9c9" fill-opacity="0.4"/>
<ellipse cx="47.6" cy="293.7" rx="1.1" ry="2.8" fill="#d2d2d2" fill-opacity="0.5" transform="rotate(27 47.6 293.7)"/>
<ellipse cx="47.1" cy="293.9" rx="0.7" ry="1.7" fill="#c9c9c9" fill-opacity="0.4" transform="rotate(27 47.1 293.9)"/>
<ellipse cx="43.1" cy="298.4" rx="4" ry="1.4" fill="#d2d2d2" fill-opacity="0.5" transform="rotate(-37 43.1 298.4)"/>
<ellipse cx="43" cy="298" rx="2.4" ry="0.9" fill="#c9c9c9" fill-opacity="0.4" transform="rotate(-37 43 298)"/>
<ellipse cx="53.1" cy="299.6" rx="2.8" ry="1.5" fill="#d2d2d2" fill-opacity="0.5" transform="rotate(-8 53.1 299.6)"/>
<ellipse cx="53.3" cy="300" rx="1.7" ry="0.9" fill="#c9c9c9" fill-opacity="0.4" transform="rotate(-8 53.3 300)"/>
<ellipse cx="58.3" cy="294.2" rx="1.6" ry="2.4" fill="#d2d2d2" fill-opacity="0.5" transform="rotate(-8 58.3 294.2)"/>
<ellipse cx="57.9" cy="294.3" rx="1" ry="1.5" fill="#c9c9c9" fill-opacity="0.4" transform="rotate(-8 57.9 294.3)"/>
<ellipse cx="61.9" cy="293.5" rx="1.8" ry="2.4" fill="#d2d2d2" fill-opacity="0.5" transform="rotate(-12 61.9 293.5)"/>
<ellipse cx="61.7" cy="293.7" rx="1.1" ry="1.5" fill="#c9c9c9" fill-opacity="0.4" transform="rotate(-12 61.7 293.7)"/>
<ellipse cx="36.1" cy="302.9" rx="2.1" ry="1.4" fill="#d2d2d2" fill-opacity="0.5" transform="rotate(-15 36.1 302.9)"/>
<ellipse cx="36.1" cy="303.1" rx="1.3" ry="0.8" fill="#c9c9c9" fill-opacity="0.4" transform="rotate(-15 36.1 303.1)"/>
<ellipse cx="48.1" cy="307.8" rx="2" ry="2" fill="#d2d2d2" fill-opacity="0.5"/>
<ellipse cx="48.5" cy="307.4" rx="1.2" ry="1.2" fill="#c9c9c9" fill-opacity="0.4"/>
<ellipse cx="56.2" cy="284.1" rx="6.4" ry="6" fill="#d2d2d2" fill-opacity="0.5"/>
<ellipse cx="55.8" cy="283.9" rx="3.9" ry="3.6" fill="#c9c9c9" fill-opacity="0.4"/>
<ellipse cx="38.3" cy="287.4" rx="4.1" ry="3.9" fill="#d2d2d2" fill-opacity="0.5"/>
<ellipse cx="38.6" cy="287.5" rx="2.5" ry="2.4" fill="#c9c9c9" fill-opacity="0.4"/>
<ellipse cx="42.6" cy="279.6" rx="1.6" ry="1.4" fill="#d2d2d2" fill-opacity="0.5"/>
<ellipse cx="43" cy="279.5" rx="1" ry="0.8" fill="#c9c9c9" fill-opacity="0.4"/>
<ellipse cx="67.3" cy="291.5" rx="2.2" ry="1.4" fill="#d2d2d2" fill-opacity="0.5" transform="rotate(-12 67.3 291.5)"/>
<ellipse cx="67.3" cy="291.1" rx="1.3" ry="0.8" fill="#c9c9c9" fill-opacity="0.4" transform="rotate(-12 67.3 291.1)"/>
<ellipse cx="62.7" cy="271.9" rx="1.7" ry="1.6" fill="#c2407a" fill-opacity="0.9"/>
<ellipse cx="62.7" cy="271.9" rx="1.2" ry="1.1" fill="#c2407a" fill-opacity="0.6"/>
<ellipse cx="33.4" cy="278.2" rx="2" ry="1.6" fill="#c2407a" fill-opacity="0.9"/>
<ellipse cx="33.4" cy="278.2" rx="1.4" ry="1.1" fill="#c2407a" fill-opacity="0.6"/>
<ellipse cx="24.4" cy="287.8" rx="1.7" ry="1.6" fill="#c2407a" fill-opacity="0.9"/>
<ellipse cx="24.4" cy="287.8" rx="1.2" ry="1.1" fill="#c2407a" fill-opacity="0.6"/>
<ellipse cx="66.6" cy="301.3" rx="4.6" ry="1.3" fill="#c2407a" fill-opacity="0.9" transform="rotate(-30 66.6 301.3)"/>
<ellipse cx="66.6" cy="301.3" rx="3.2" ry="0.9" fill="#c2407a" fill-opacity="0.6" transform="rotate(-30 66.6 301.3)"/>
<ellipse cx="58.4" cy="306.8" rx="2" ry="1.9" fill="#c2407a" fill-opacity="0.9"/>
<ellipse cx="58.4" cy="306.8" rx="1.4" ry="1.3" fill="#c2407a" fill-opacity="0.6"/>
<ellipse cx="60.4" cy="305.8" rx="2" ry="1.9" fill="#c2407a" fill-opacity="0.9"/>
<ellipse cx="60.4" cy="305.8" rx="1.4" ry="1.3" fill="#c2407a" fill-opacity="0.6"/>
</g>
<g filter="url(#bl)">
<ellipse cx="121.4" cy="263.9" rx="2.2" ry="2" fill="#d2d2d2" fill-opacity="0.5"/>
<ellipse cx="120.9" cy="263.9" rx="1.3" ry="1.2" fill="#c9c9c9" fill-opacity="0.4"/>
<ellipse cx="119.2" cy="265.6" rx="2.2" ry="2" fill="#d2d2d2" fill-opacity="0.5"/>
<ellipse cx="119.2" cy="265.2" rx="1.3" ry="1.2" fill="#c9c9c9" fill-opacity="0.4"/>
<ellipse cx="118.1" cy="273.1" rx="2.3" ry="1.7" fill="#d2d2d2" fill-opacity="0.5" transform="rotate(-42 118.1 273.1)"/>
<ellipse cx="118.3" cy="272.7" rx="1.4" ry="1" fill="#c9c9c9" fill-opacity="0.4" transform="rotate(-42 118.3 272.7)"/>
<ellipse cx="112.3" cy="275.2" rx="1.8" ry="1.6" fill="#d2d2d2" fill-opacity="0.5"/>
<ellipse cx="112.1" cy="275.3" rx="1.1" ry="1" fill="#c9c9c9" fill-opacity="0.4"/>
<ellipse cx="131.5" cy="271.9" rx="2" ry="1.8" fill="#d2d2d2" fill-opacity="0.5"/>
<ellipse cx="131.4" cy="272" rx="1.2" ry="1.1" fill="#c9c9c9" fill-opacity="0.4"/>
<ellipse cx="147.9" cy="273.5" rx="1.1" ry="0.9" fill="#d2d2d2" fill-opacity="0.5" transform="rotate(-50 147.9 273.5)"/>
<ellipse cx="148.2" cy="274" rx="0.7" ry="0.6" fill="#c9c9c9" fill-opacity="0.4" transform="rotate(-50 148.2 274)"/>
<ellipse cx="140.1" cy="281.1" rx="2.3" ry="1.3" fill="#d2d2d2" fill-opacity="0.5" transform="rotate(50 140.1 281.1)"/>
<ellipse cx="139.9" cy="281.2" rx="1.4" ry="0.8" fill="#c9c9c9" fill-opacity="0.4" transform="rotate(50 139.9 281.2)"/>
<ellipse cx="144.3" cy="285.7" rx="3" ry="2.8" fill="#d2d2d2" fill-opacity="0.5"/>
<ellipse cx="144.5" cy="285.5" rx="1.8" ry="1.7" fill="#c9c9c9" fill-opacity="0.4"/>
<ellipse cx="146.8" cy="291.8" rx="2.3" ry="1.6" fill="#d2d2d2" fill-opacity="0.5"/>
<ellipse cx="146.2" cy="292.2" rx="1.4" ry="1" fill="#c9c9c9" fill-opacity="0.4"/>
<ellipse cx="102.2" cy="278.2" rx="2.3" ry="1.8" fill="#d2d2d2" fill-opacity="0.5"/>
<ellipse cx="102" cy="278.1" rx="1.4" ry="1.1" fill="#c9c9c9" fill-opacity="0.4"/>
<ellipse cx="93.2" cy="287.8" rx="2" ry="1.8" fill="#d2d2d2" fill-opacity="0.5"/>
<ellipse cx="93.6" cy="287.8" rx="1.2" ry="1.1" fill="#c9c9c9" fill-opacity="0.4"/>
<ellipse cx="150.9" cy="287.9" rx="1" ry="1" fill="#d2d2d2" fill-opacity="0.5"/>
<ellipse cx="150.8" cy="288.1" rx="0.6" ry="0.6" fill="#c9c9c9" fill-opacity="0.4"/>
<ellipse cx="127.1" cy="294.2" rx="1.6" ry="2.4" fill="#d2d2d2" fill-opacity="0.5" transform="rotate(-8 127.1 294.2)"/>
<ellipse cx="126.7" cy="294.3" rx="1" ry="1.5" fill="#c9c9c9" fill-opacity="0.4" transform="rotate(-8 126.7 294.3)"/>
<ellipse cx="130.7" cy="293.5" rx="1.8" ry="2.4" fill="#d2d2d2" fill-opacity="0.5" transform="rotate(-12 130.7 293.5)"/>
<ellipse cx="130.5" cy="293.7" rx="1.1" ry="1.5" fill="#c9c9c9" fill-opacity="0.4" transform="rotate(-12 130.5 293.7)"/>
<ellipse cx="135.4" cy="301.3" rx="5.3" ry="1.5" fill="#d2d2d2" fill-opacity="0.5" transform="rotate(-30 135.4 301.3)"/>
<ellipse cx="135.7" cy="301" rx="3.2" ry="0.9" fill="#c9c9c9" fill-opacity="0.4" transform="rotate(-30 135.7 301)"/>
<ellipse cx="127.2" cy="306.8" rx="2.3" ry="2.2" fill="#d2d2d2" fill-opacity="0.5"/>
<ellipse cx="127.6" cy="306.9" rx="1.4" ry="1.3" fill="#c9c9c9" fill-opacity="0.4"/>
<ellipse cx="129.2" cy="305.8" rx="2.3" ry="2.2" fill="#d2d2d2" fill-opacity="0.5"/>
<ellipse cx="129.4" cy="306.1" rx="1.4" ry="1.3" fill="#c9c9c9" fill-opacity="0.4"/>
<ellipse cx="104.9" cy="302.9" rx="2.1" ry="1.4" fill="#d2d2d2" fill-opacity="0.5" transform="rotate(-15 104.9 302.9)"/>
<ellipse cx="104.9" cy="303.1" rx="1.3" ry="0.8" fill="#c9c9c9" fill-opacity="0.4" transform="rotate(-15 104.9 303.1)"/>
<ellipse cx="116.9" cy="307.8" rx="2" ry="2" fill="#d2d2d2" fill-opacity="0.5"/>
<ellipse cx="117.3" cy="307.4" rx="1.2" ry="1.2" fill="#c9c9c9" fill-opacity="0.4"/>
<ellipse cx="125" cy="284.1" rx="6.4" ry="6" fill="#d2d2d2" fill-opacity="0.5"/>
<ellipse cx="124.6" cy="283.9" rx="3.9" ry="3.6" fill="#c9c9c9" fill-opacity="0.4"/>
<ellipse cx="107.1" cy="287.4" rx="4.1" ry="3.9" fill="#d2d2d2" fill-opacity="0.5"/>
<ellipse cx="107.4" cy="287.5" rx="2.5" ry="2.4" fill="#c9c9c9" fill-opacity="0.4"/>
<ellipse cx="111.4" cy="279.6" rx="1.6" ry="1.4" fill="#d2d2d2" fill-opacity="0.5"/>
<ellipse cx="111.8" cy="279.5" rx="1" ry="0.8" fill="#c9c9c9" fill-opacity="0.4"/>
<ellipse cx="136.1" cy="291.5" rx="2.2" ry="1.4" fill="#d2d2d2" fill-opacity="0.5" transform="rotate(-12 136.1 291.5)"/>
<ellipse cx="136.1" cy="291.1" rx="1.3" ry="0.8" fill="#c9c9c9" fill-opacity="0.4" transform="rotate(-12 136.1 291.1)"/>
<ellipse cx="116.4" cy="293.7" rx="1" ry="2.4" fill="#f8d8b0" fill-opacity="0.7" transform="rotate(27 116.4 293.7)"/>
<ellipse cx="116.4" cy="293.7" rx="0.7" ry="1.7" fill="#f8d8b0" fill-opacity="0.6" transform="rotate(27 116.4 293.7)"/>
<ellipse cx="111.9" cy="298.4" rx="3.5" ry="1.2" fill="#e07a28" fill-opacity="0.95" transform="rotate(-37 111.9 298.4)"/>
<ellipse cx="111.9" cy="298.4" rx="2.4" ry="0.9" fill="#e07a28" fill-opacity="0.6" transform="rotate(-37 111.9 298.4)"/>
<ellipse cx="121.9" cy="299.6" rx="2.4" ry="1.3" fill="#f3d9bd" fill-opacity="0.7" transform="rotate(-8 121.9 299.6)"/>
<ellipse cx="121.9" cy="299.6" rx="1.7" ry="0.9" fill="#f3d9bd" fill-opacity="0.6" transform="rotate(-8 121.9 299.6)"/>
</g>
<g filter="url(#bl)">
<ellipse cx="190.2" cy="263.9" rx="2.2" ry="2" fill="#d2d2d2" fill-opacity="0.5"/>
<ellipse cx="189.7" cy="263.9" rx="1.3" ry="1.2" fill="#c9c9c9" fill-opacity="0.4"/>
<ellipse cx="188" cy="265.6" rx="2.2" ry="2" fill="#d2d2d2" fill-opacity="0.5"/>
<ellipse cx="188" cy="265.2" rx="1.3" ry="1.2" fill="#c9c9c9" fill-opacity="0.4"/>
<ellipse cx="186.9" cy="273.1" rx="2.3" ry="1.7" fill="#d2d2d2" fill-opacity="0.5" transform="rotate(-42 186.9 273.1)"/>
<ellipse cx="187.1" cy="272.7" rx="1.4" ry="1" fill="#c9c9c9" fill-opacity="0.4" transform="rotate(-42 187.1 272.7)"/>
<ellipse cx="181.1" cy="275.2" rx="1.8" ry="1.6" fill="#d2d2d2" fill-opacity="0.5"/>
<ellipse cx="180.9" cy="275.3" rx="1.1" ry="1" fill="#c9c9c9" fill-opacity="0.4"/>
<ellipse cx="200.3" cy="271.9" rx="2" ry="1.8" fill="#d2d2d2" fill-opacity="0.5"/>
<ellipse cx="200.2" cy="272" rx="1.2" ry="1.1" fill="#c9c9c9" fill-opacity="0.4"/>
<ellipse cx="216.7" cy="273.5" rx="1.1" ry="0.9" fill="#d2d2d2" fill-opacity="0.5" transform="rotate(-50 216.7 273.5)"/>
<ellipse cx="217" cy="274" rx="0.7" ry="0.6" fill="#c9c9c9" fill-opacity="0.4" transform="rotate(-50 217 274)"/>
<ellipse cx="208.9" cy="281.1" rx="2.3" ry="1.3" fill="#d2d2d2" fill-opacity="0.5" transform="rotate(50 208.9 281.1)"/>
<ellipse cx="208.7" cy="281.2" rx="1.4" ry="0.8" fill="#c9c9c9" fill-opacity="0.4" transform="rotate(50 208.7 281.2)"/>
<ellipse cx="213.1" cy="285.7" rx="3" ry="2.8" fill="#d2d2d2" fill-opacity="0.5"/>
<ellipse cx="213.3" cy="285.5" rx="1.8" ry="1.7" fill="#c9c9c9" fill-opacity="0.4"/>
<ellipse cx="215.6" cy="291.8" rx="2.3" ry="1.6" fill="#d2d2d2" fill-opacity="0.5"/>
<ellipse cx="215" cy="292.2" rx="1.4" ry="1" fill="#c9c9c9" fill-opacity="0.4"/>
<ellipse cx="171" cy="278.2" rx="2.3" ry="1.8" fill="#d2d2d2" fill-opacity="0.5"/>
<ellipse cx="170.8" cy="278.1" rx="1.4" ry="1.1" fill="#c9c9c9" fill-opacity="0.4"/>
<ellipse cx="162" cy="287.8" rx="2" ry="1.8" fill="#d2d2d2" fill-opacity="0.5"/>
<ellipse cx="162.4" cy="287.8" rx="1.2" ry="1.1" fill="#c9c9c9" fill-opacity="0.4"/>
<ellipse cx="219.7" cy="287.9" rx="1" ry="1" fill="#d2d2d2" fill-opacity="0.5"/>
<ellipse cx="219.6" cy="288.1" rx="0.6" ry="0.6" fill="#c9c9c9" fill-opacity="0.4"/>
<ellipse cx="180.7" cy="298.4" rx="4" ry="1.4" fill="#d2d2d2" fill-opacity="0.5" transform="rotate(-37 180.7 298.4)"/>
<ellipse cx="180.6" cy="298" rx="2.4" ry="0.9" fill="#c9c9c9" fill-opacity="0.4" transform="rotate(-37 180.6 298)"/>
<ellipse cx="204.2" cy="301.3" rx="5.3" ry="1.5" fill="#d2d2d2" fill-opacity="0.5" transform="rotate(-30 204.2 301.3)"/>
<ellipse cx="204.5" cy="301" rx="3.2" ry="0.9" fill="#c9c9c9" fill-opacity="0.4" transform="rotate(-30 204.5 301)"/>
<ellipse cx="196" cy="306.8" rx="2.3" ry="2.2" fill="#d2d2d2" fill-opacity="0.5"/>
<ellipse cx="196.4" cy="306.9" rx="1.4" ry="1.3" fill="#c9c9c9" fill-opacity="0.4"/>
<ellipse cx="198" cy="305.8" rx="2.3" ry="2.2" fill="#d2d2d2" fill-opacity="0.5"/>
<ellipse cx="198.2" cy="306.1" rx="1.4" ry="1.3" fill="#c9c9c9" fill-opacity="0.4"/>
<ellipse cx="173.7" cy="302.9" rx="2.1" ry="1.4" fill="#d2d2d2" fill-opacity="0.5" transform="rotate(-15 173.7 302.9)"/>
<ellipse cx="173.7" cy="303.1" rx="1.3" ry="0.8" fill="#c9c9c9" fill-opacity="0.4" transform="rotate(-15 173.7 303.1)"/>
<ellipse cx="175.9" cy="287.4" rx="4.1" ry="3.9" fill="#d2d2d2" fill-opacity="0.5"/>
<ellipse cx="176.2" cy="287.5" rx="2.5" ry="2.4" fill="#c9c9c9" fill-opacity="0.4"/>
<ellipse cx="180.2" cy="279.6" rx="1.6" ry="1.4" fill="#d2d2d2" fill-opacity="0.5"/>
<ellipse cx="180.6" cy="279.5" rx="1" ry="0.8" fill="#c9c9c9" fill-opacity="0.4"/>
<ellipse cx="185.2" cy="293.7" rx="1" ry="2.4" fill="#b5d0e0" fill-opacity="0.7" transform="rotate(27 185.2 293.7)"/>
<ellipse cx="185.2" cy="293.7" rx="0.7" ry="1.7" fill="#b5d0e0" fill-opacity="0.6" transform="rotate(27 185.2 293.7)"/>
<ellipse cx="190.7" cy="299.6" rx="2.4" ry="1.3" fill="#7a9ab5" fill-opacity="0.8" transform="rotate(-8 190.7 299.6)"/>
<ellipse cx="190.7" cy="299.6" rx="1.7" ry="0.9" fill="#7a9ab5" fill-opacity="0.6" transform="rotate(-8 190.7 299.6)"/>
<ellipse cx="195.9" cy="294.2" rx="2" ry="2.6" fill="#5f90b5" fill-opacity="0.9" transform="rotate(-8 195.9 294.2)"/>
<ellipse cx="199.5" cy="293.5" rx="2.2" ry="2.6" fill="#4f86b0" fill-opacity="0.9" transform="rotate(-12 199.5 293.5)"/>
<ellipse cx="185.7" cy="307.8" rx="1.7" ry="1.7" fill="#a9bfd0" fill-opacity="0.7"/>
<ellipse cx="185.7" cy="307.8" rx="1.2" ry="1.2" fill="#a9bfd0" fill-opacity="0.6"/>
<ellipse cx="193.8" cy="284.1" rx="7" ry="6.5" fill="#86aecb" fill-opacity="0.35"/>
<ellipse cx="193.8" cy="284.1" rx="5.3" ry="4.9" fill="#86aecb" fill-opacity="0.85"/>
<ellipse cx="204.9" cy="291.5" rx="2.7" ry="1.5" fill="#4f86b0" fill-opacity="0.9" transform="rotate(-12 204.9 291.5)"/>
</g>
<g filter="url(#bl)">
<ellipse cx="259" cy="263.9" rx="2.2" ry="2" fill="#d2d2d2" fill-opacity="0.5"/>
<ellipse cx="258.5" cy="263.9" rx="1.3" ry="1.2" fill="#c9c9c9" fill-opacity="0.4"/>
<ellipse cx="256.8" cy="265.6" rx="2.2" ry="2" fill="#d2d2d2" fill-opacity="0.5"/>
<ellipse cx="256.8" cy="265.2" rx="1.3" ry="1.2" fill="#c9c9c9" fill-opacity="0.4"/>
<ellipse cx="255.7" cy="273.1" rx="2.3" ry="1.7" fill="#d2d2d2" fill-opacity="0.5" transform="rotate(-42 255.7 273.1)"/>
<ellipse cx="255.9" cy="272.7" rx="1.4" ry="1" fill="#c9c9c9" fill-opacity="0.4" transform="rotate(-42 255.9 272.7)"/>
<ellipse cx="249.9" cy="275.2" rx="1.8" ry="1.6" fill="#d2d2d2" fill-opacity="0.5"/>
<ellipse cx="249.7" cy="275.3" rx="1.1" ry="1" fill="#c9c9c9" fill-opacity="0.4"/>
<ellipse cx="269.1" cy="271.9" rx="2" ry="1.8" fill="#d2d2d2" fill-opacity="0.5"/>
<ellipse cx="269" cy="272" rx="1.2" ry="1.1" fill="#c9c9c9" fill-opacity="0.4"/>
<ellipse cx="285.5" cy="273.5" rx="1.1" ry="0.9" fill="#d2d2d2" fill-opacity="0.5" transform="rotate(-50 285.5 273.5)"/>
<ellipse cx="285.8" cy="274" rx="0.7" ry="0.6" fill="#c9c9c9" fill-opacity="0.4" transform="rotate(-50 285.8 274)"/>
<ellipse cx="277.7" cy="281.1" rx="2.3" ry="1.3" fill="#d2d2d2" fill-opacity="0.5" transform="rotate(50 277.7 281.1)"/>
<ellipse cx="277.5" cy="281.2" rx="1.4" ry="0.8" fill="#c9c9c9" fill-opacity="0.4" transform="rotate(50 277.5 281.2)"/>
<ellipse cx="281.9" cy="285.7" rx="3" ry="2.8" fill="#d2d2d2" fill-opacity="0.5"/>
<ellipse cx="282.1" cy="285.5" rx="1.8" ry="1.7" fill="#c9c9c9" fill-opacity="0.4"/>
<ellipse cx="284.4" cy="291.8" rx="2.3" ry="1.6" fill="#d2d2d2" fill-opacity="0.5"/>
<ellipse cx="283.8" cy="292.2" rx="1.4" ry="1" fill="#c9c9c9" fill-opacity="0.4"/>
<ellipse cx="239.8" cy="278.2" rx="2.3" ry="1.8" fill="#d2d2d2" fill-opacity="0.5"/>
<ellipse cx="239.6" cy="278.1" rx="1.4" ry="1.1" fill="#c9c9c9" fill-opacity="0.4"/>
<ellipse cx="230.8" cy="287.8" rx="2" ry="1.8" fill="#d2d2d2" fill-opacity="0.5"/>
<ellipse cx="231.2" cy="287.8" rx="1.2" ry="1.1" fill="#c9c9c9" fill-opacity="0.4"/>
<ellipse cx="288.5" cy="287.9" rx="1" ry="1" fill="#d2d2d2" fill-opacity="0.5"/>
<ellipse cx="288.4" cy="288.1" rx="0.6" ry="0.6" fill="#c9c9c9" fill-opacity="0.4"/>
<ellipse cx="249.5" cy="298.4" rx="4" ry="1.4" fill="#d2d2d2" fill-opacity="0.5" transform="rotate(-37 249.5 298.4)"/>
<ellipse cx="249.4" cy="298" rx="2.4" ry="0.9" fill="#c9c9c9" fill-opacity="0.4" transform="rotate(-37 249.4 298)"/>
<ellipse cx="273" cy="301.3" rx="5.3" ry="1.5" fill="#d2d2d2" fill-opacity="0.5" transform="rotate(-30 273 301.3)"/>
<ellipse cx="273.3" cy="301" rx="3.2" ry="0.9" fill="#c9c9c9" fill-opacity="0.4" transform="rotate(-30 273.3 301)"/>
<ellipse cx="264.8" cy="306.8" rx="2.3" ry="2.2" fill="#d2d2d2" fill-opacity="0.5"/>
<ellipse cx="265.2" cy="306.9" rx="1.4" ry="1.3" fill="#c9c9c9" fill-opacity="0.4"/>
<ellipse cx="266.8" cy="305.8" rx="2.3" ry="2.2" fill="#d2d2d2" fill-opacity="0.5"/>
<ellipse cx="267" cy="306.1" rx="1.4" ry="1.3" fill="#c9c9c9" fill-opacity="0.4"/>
<ellipse cx="242.5" cy="302.9" rx="2.1" ry="1.4" fill="#d2d2d2" fill-opacity="0.5" transform="rotate(-15 242.5 302.9)"/>
<ellipse cx="242.5" cy="303.1" rx="1.3" ry="0.8" fill="#c9c9c9" fill-opacity="0.4" transform="rotate(-15 242.5 303.1)"/>
<ellipse cx="244.7" cy="287.4" rx="4.1" ry="3.9" fill="#d2d2d2" fill-opacity="0.5"/>
<ellipse cx="245" cy="287.5" rx="2.5" ry="2.4" fill="#c9c9c9" fill-opacity="0.4"/>
<ellipse cx="249" cy="279.6" rx="1.6" ry="1.4" fill="#d2d2d2" fill-opacity="0.5"/>
<ellipse cx="249.4" cy="279.5" rx="1" ry="0.8" fill="#c9c9c9" fill-opacity="0.4"/>
<ellipse cx="254" cy="293.7" rx="1" ry="2.4" fill="#cbb5a5" fill-opacity="0.6" transform="rotate(27 254 293.7)"/>
<ellipse cx="254" cy="293.7" rx="0.7" ry="1.7" fill="#cbb5a5" fill-opacity="0.6" transform="rotate(27 254 293.7)"/>
<ellipse cx="259.5" cy="299.6" rx="2.4" ry="1.3" fill="#a58a78" fill-opacity="0.75" transform="rotate(-8 259.5 299.6)"/>
<ellipse cx="259.5" cy="299.6" rx="1.7" ry="0.9" fill="#a58a78" fill-opacity="0.6" transform="rotate(-8 259.5 299.6)"/>
<ellipse cx="264.7" cy="294.2" rx="2" ry="2.6" fill="#a5806a" fill-opacity="0.8" transform="rotate(-8 264.7 294.2)"/>
<ellipse cx="268.3" cy="293.5" rx="2.2" ry="2.6" fill="#a5705a" fill-opacity="0.85" transform="rotate(-12 268.3 293.5)"/>
<ellipse cx="254.5" cy="307.8" rx="1.7" ry="1.7" fill="#7a3a28" fill-opacity="0.95"/>
<ellipse cx="254.5" cy="307.8" rx="1.2" ry="1.2" fill="#7a3a28" fill-opacity="0.6"/>
<ellipse cx="262.6" cy="284.1" rx="7" ry="6.5" fill="#a5705a" fill-opacity="0.35"/>
<ellipse cx="262.6" cy="284.1" rx="5.3" ry="4.9" fill="#a5705a" fill-opacity="0.9"/>
<ellipse cx="273.7" cy="291.5" rx="2.7" ry="1.5" fill="#b59080" fill-opacity="0.7" transform="rotate(-12 273.7 291.5)"/>
</g>
<g filter="url(#bl)">
<ellipse cx="327.8" cy="263.9" rx="2.2" ry="2" fill="#d2d2d2" fill-opacity="0.5"/>
<ellipse cx="327.3" cy="263.9" rx="1.3" ry="1.2" fill="#c9c9c9" fill-opacity="0.4"/>
<ellipse cx="325.6" cy="265.6" rx="2.2" ry="2" fill="#d2d2d2" fill-opacity="0.5"/>
<ellipse cx="325.6" cy="265.2" rx="1.3" ry="1.2" fill="#c9c9c9" fill-opacity="0.4"/>
<ellipse cx="324.5" cy="273.1" rx="2.3" ry="1.7" fill="#d2d2d2" fill-opacity="0.5" transform="rotate(-42 324.5 273.1)"/>
<ellipse cx="324.7" cy="272.7" rx="1.4" ry="1" fill="#c9c9c9" fill-opacity="0.4" transform="rotate(-42 324.7 272.7)"/>
<ellipse cx="318.7" cy="275.2" rx="1.8" ry="1.6" fill="#d2d2d2" fill-opacity="0.5"/>
<ellipse cx="318.5" cy="275.3" rx="1.1" ry="1" fill="#c9c9c9" fill-opacity="0.4"/>
<ellipse cx="337.9" cy="271.9" rx="2" ry="1.8" fill="#d2d2d2" fill-opacity="0.5"/>
<ellipse cx="337.8" cy="272" rx="1.2" ry="1.1" fill="#c9c9c9" fill-opacity="0.4"/>
<ellipse cx="308.6" cy="278.2" rx="2.3" ry="1.8" fill="#d2d2d2" fill-opacity="0.5"/>
<ellipse cx="308.4" cy="278.1" rx="1.4" ry="1.1" fill="#c9c9c9" fill-opacity="0.4"/>
<ellipse cx="299.6" cy="287.8" rx="2" ry="1.8" fill="#d2d2d2" fill-opacity="0.5"/>
<ellipse cx="300" cy="287.8" rx="1.2" ry="1.1" fill="#c9c9c9" fill-opacity="0.4"/>
<ellipse cx="322.8" cy="293.7" rx="1.1" ry="2.8" fill="#d2d2d2" fill-opacity="0.5" transform="rotate(27 322.8 293.7)"/>
<ellipse cx="322.3" cy="293.9" rx="0.7" ry="1.7" fill="#c9c9c9" fill-opacity="0.4" transform="rotate(27 322.3 293.9)"/>
<ellipse cx="318.3" cy="298.4" rx="4" ry="1.4" fill="#d2d2d2" fill-opacity="0.5" transform="rotate(-37 318.3 298.4)"/>
<ellipse cx="318.2" cy="298" rx="2.4" ry="0.9" fill="#c9c9c9" fill-opacity="0.4" transform="rotate(-37 318.2 298)"/>
<ellipse cx="328.3" cy="299.6" rx="2.8" ry="1.5" fill="#d2d2d2" fill-opacity="0.5" transform="rotate(-8 328.3 299.6)"/>
<ellipse cx="328.5" cy="300" rx="1.7" ry="0.9" fill="#c9c9c9" fill-opacity="0.4" transform="rotate(-8 328.5 300)"/>
<ellipse cx="333.5" cy="294.2" rx="1.6" ry="2.4" fill="#d2d2d2" fill-opacity="0.5" transform="rotate(-8 333.5 294.2)"/>
<ellipse cx="333.1" cy="294.3" rx="1" ry="1.5" fill="#c9c9c9" fill-opacity="0.4" transform="rotate(-8 333.1 294.3)"/>
<ellipse cx="337.1" cy="293.5" rx="1.8" ry="2.4" fill="#d2d2d2" fill-opacity="0.5" transform="rotate(-12 337.1 293.5)"/>
<ellipse cx="336.9" cy="293.7" rx="1.1" ry="1.5" fill="#c9c9c9" fill-opacity="0.4" transform="rotate(-12 336.9 293.7)"/>
<ellipse cx="341.8" cy="301.3" rx="5.3" ry="1.5" fill="#d2d2d2" fill-opacity="0.5" transform="rotate(-30 341.8 301.3)"/>
<ellipse cx="342.1" cy="301" rx="3.2" ry="0.9" fill="#c9c9c9" fill-opacity="0.4" transform="rotate(-30 342.1 301)"/>
<ellipse cx="333.6" cy="306.8" rx="2.3" ry="2.2" fill="#d2d2d2" fill-opacity="0.5"/>
<ellipse cx="334" cy="306.9" rx="1.4" ry="1.3" fill="#c9c9c9" fill-opacity="0.4"/>
<ellipse cx="335.6" cy="305.8" rx="2.3" ry="2.2" fill="#d2d2d2" fill-opacity="0.5"/>
<ellipse cx="335.8" cy="306.1" rx="1.4" ry="1.3" fill="#c9c9c9" fill-opacity="0.4"/>
<ellipse cx="323.3" cy="307.8" rx="2" ry="2" fill="#d2d2d2" fill-opacity="0.5"/>
<ellipse cx="323.7" cy="307.4" rx="1.2" ry="1.2" fill="#c9c9c9" fill-opacity="0.4"/>
<ellipse cx="331.4" cy="284.1" rx="6.4" ry="6" fill="#d2d2d2" fill-opacity="0.5"/>
<ellipse cx="331" cy="283.9" rx="3.9" ry="3.6" fill="#c9c9c9" fill-opacity="0.4"/>
<ellipse cx="313.5" cy="287.4" rx="4.1" ry="3.9" fill="#d2d2d2" fill-opacity="0.5"/>
<ellipse cx="313.8" cy="287.5" rx="2.5" ry="2.4" fill="#c9c9c9" fill-opacity="0.4"/>
<ellipse cx="317.8" cy="279.6" rx="1.6" ry="1.4" fill="#d2d2d2" fill-opacity="0.5"/>
<ellipse cx="318.2" cy="279.5" rx="1" ry="0.8" fill="#c9c9c9" fill-opacity="0.4"/>
<ellipse cx="342.5" cy="291.5" rx="2.2" ry="1.4" fill="#d2d2d2" fill-opacity="0.5" transform="rotate(-12 342.5 291.5)"/>
<ellipse cx="342.5" cy="291.1" rx="1.3" ry="0.8" fill="#c9c9c9" fill-opacity="0.4" transform="rotate(-12 342.5 291.1)"/>
<ellipse cx="354.3" cy="273.5" rx="1" ry="0.8" fill="#8f4fa0" fill-opacity="0.9" transform="rotate(-50 354.3 273.5)"/>
<ellipse cx="354.3" cy="273.5" rx="0.7" ry="0.6" fill="#8f4fa0" fill-opacity="0.6" transform="rotate(-50 354.3 273.5)"/>
<ellipse cx="346.5" cy="281.1" rx="2" ry="1.1" fill="#8f4fa0" fill-opacity="0.9" transform="rotate(50 346.5 281.1)"/>
<ellipse cx="346.5" cy="281.1" rx="1.4" ry="0.8" fill="#8f4fa0" fill-opacity="0.6" transform="rotate(50 346.5 281.1)"/>
<ellipse cx="350.7" cy="285.7" rx="2.6" ry="2.4" fill="#8f4fa0" fill-opacity="0.9"/>
<ellipse cx="350.7" cy="285.7" rx="1.8" ry="1.7" fill="#8f4fa0" fill-opacity="0.6"/>
<ellipse cx="353.2" cy="291.8" rx="2" ry="1.4" fill="#8f4fa0" fill-opacity="0.9"/>
<ellipse cx="353.2" cy="291.8" rx="1.4" ry="1" fill="#8f4fa0" fill-opacity="0.6"/>
<ellipse cx="357.3" cy="287.9" rx="0.9" ry="0.9" fill="#8f4fa0" fill-opacity="0.9"/>
<ellipse cx="357.3" cy="287.9" rx="0.6" ry="0.6" fill="#8f4fa0" fill-opacity="0.6"/>
<ellipse cx="311.3" cy="302.9" rx="1.8" ry="1.2" fill="#8f4fa0" fill-opacity="0.9" transform="rotate(-15 311.3 302.9)"/>
<ellipse cx="311.3" cy="302.9" rx="1.3" ry="0.8" fill="#8f4fa0" fill-opacity="0.6" transform="rotate(-15 311.3 302.9)"/>
</g>
<g filter="url(#bl)">
<ellipse cx="406.7" cy="271.9" rx="2" ry="1.8" fill="#d2d2d2" fill-opacity="0.5"/>
<ellipse cx="406.6" cy="272" rx="1.2" ry="1.1" fill="#c9c9c9" fill-opacity="0.4"/>
<ellipse cx="423.1" cy="273.5" rx="1.1" ry="0.9" fill="#d2d2d2" fill-opacity="0.5" transform="rotate(-50 423.1 273.5)"/>
<ellipse cx="423.4" cy="274" rx="0.7" ry="0.6" fill="#c9c9c9" fill-opacity="0.4" transform="rotate(-50 423.4 274)"/>
<ellipse cx="415.3" cy="281.1" rx="2.3" ry="1.3" fill="#d2d2d2" fill-opacity="0.5" transform="rotate(50 415.3 281.1)"/>
<ellipse cx="415.1" cy="281.2" rx="1.4" ry="0.8" fill="#c9c9c9" fill-opacity="0.4" transform="rotate(50 415.1 281.2)"/>
<ellipse cx="419.5" cy="285.7" rx="3" ry="2.8" fill="#d2d2d2" fill-opacity="0.5"/>
<ellipse cx="419.7" cy="285.5" rx="1.8" ry="1.7" fill="#c9c9c9" fill-opacity="0.4"/>
<ellipse cx="422" cy="291.8" rx="2.3" ry="1.6" fill="#d2d2d2" fill-opacity="0.5"/>
<ellipse cx="421.4" cy="292.2" rx="1.4" ry="1" fill="#c9c9c9" fill-opacity="0.4"/>
<ellipse cx="377.4" cy="278.2" rx="2.3" ry="1.8" fill="#d2d2d2" fill-opacity="0.5"/>
<ellipse cx="377.2" cy="278.1" rx="1.4" ry="1.1" fill="#c9c9c9" fill-opacity="0.4"/>
<ellipse cx="368.4" cy="287.8" rx="2" ry="1.8" fill="#d2d2d2" fill-opacity="0.5"/>
<ellipse cx="368.8" cy="287.8" rx="1.2" ry="1.1" fill="#c9c9c9" fill-opacity="0.4"/>
<ellipse cx="426.1" cy="287.9" rx="1" ry="1" fill="#d2d2d2" fill-opacity="0.5"/>
<ellipse cx="426" cy="288.1" rx="0.6" ry="0.6" fill="#c9c9c9" fill-opacity="0.4"/>
<ellipse cx="391.6" cy="293.7" rx="1.1" ry="2.8" fill="#d2d2d2" fill-opacity="0.5" transform="rotate(27 391.6 293.7)"/>
<ellipse cx="391.1" cy="293.9" rx="0.7" ry="1.7" fill="#c9c9c9" fill-opacity="0.4" transform="rotate(27 391.1 293.9)"/>
<ellipse cx="387.1" cy="298.4" rx="4" ry="1.4" fill="#d2d2d2" fill-opacity="0.5" transform="rotate(-37 387.1 298.4)"/>
<ellipse cx="387" cy="298" rx="2.4" ry="0.9" fill="#c9c9c9" fill-opacity="0.4" transform="rotate(-37 387 298)"/>
<ellipse cx="397.1" cy="299.6" rx="2.8" ry="1.5" fill="#d2d2d2" fill-opacity="0.5" transform="rotate(-8 397.1 299.6)"/>
<ellipse cx="397.3" cy="300" rx="1.7" ry="0.9" fill="#c9c9c9" fill-opacity="0.4" transform="rotate(-8 397.3 300)"/>
<ellipse cx="402.3" cy="294.2" rx="1.6" ry="2.4" fill="#d2d2d2" fill-opacity="0.5" transform="rotate(-8 402.3 294.2)"/>
<ellipse cx="401.9" cy="294.3" rx="1" ry="1.5" fill="#c9c9c9" fill-opacity="0.4" transform="rotate(-8 401.9 294.3)"/>
<ellipse cx="405.9" cy="293.5" rx="1.8" ry="2.4" fill="#d2d2d2" fill-opacity="0.5" transform="rotate(-12 405.9 293.5)"/>
<ellipse cx="405.7" cy="293.7" rx="1.1" ry="1.5" fill="#c9c9c9" fill-opacity="0.4" transform="rotate(-12 405.7 293.7)"/>
<ellipse cx="410.6" cy="301.3" rx="5.3" ry="1.5" fill="#d2d2d2" fill-opacity="0.5" transform="rotate(-30 410.6 301.3)"/>
<ellipse cx="410.9" cy="301" rx="3.2" ry="0.9" fill="#c9c9c9" fill-opacity="0.4" transform="rotate(-30 410.9 301)"/>
<ellipse cx="402.4" cy="306.8" rx="2.3" ry="2.2" fill="#d2d2d2" fill-opacity="0.5"/>
<ellipse cx="402.8" cy="306.9" rx="1.4" ry="1.3" fill="#c9c9c9" fill-opacity="0.4"/>
<ellipse cx="404.4" cy="305.8" rx="2.3" ry="2.2" fill="#d2d2d2" fill-opacity="0.5"/>
<ellipse cx="404.6" cy="306.1" rx="1.4" ry="1.3" fill="#c9c9c9" fill-opacity="0.4"/>
<ellipse cx="380.1" cy="302.9" rx="2.1" ry="1.4" fill="#d2d2d2" fill-opacity="0.5" transform="rotate(-15 380.1 302.9)"/>
<ellipse cx="380.1" cy="303.1" rx="1.3" ry="0.8" fill="#c9c9c9" fill-opacity="0.4" transform="rotate(-15 380.1 303.1)"/>
<ellipse cx="392.1" cy="307.8" rx="2" ry="2" fill="#d2d2d2" fill-opacity="0.5"/>
<ellipse cx="392.5" cy="307.4" rx="1.2" ry="1.2" fill="#c9c9c9" fill-opacity="0.4"/>
<ellipse cx="400.2" cy="284.1" rx="6.4" ry="6" fill="#d2d2d2" fill-opacity="0.5"/>
<ellipse cx="399.8" cy="283.9" rx="3.9" ry="3.6" fill="#c9c9c9" fill-opacity="0.4"/>
<ellipse cx="386.6" cy="279.6" rx="1.6" ry="1.4" fill="#d2d2d2" fill-opacity="0.5"/>
<ellipse cx="387" cy="279.5" rx="1" ry="0.8" fill="#c9c9c9" fill-opacity="0.4"/>
<ellipse cx="411.3" cy="291.5" rx="2.2" ry="1.4" fill="#d2d2d2" fill-opacity="0.5" transform="rotate(-12 411.3 291.5)"/>
<ellipse cx="411.3" cy="291.1" rx="1.3" ry="0.8" fill="#c9c9c9" fill-opacity="0.4" transform="rotate(-12 411.3 291.1)"/>
<ellipse cx="396.6" cy="263.9" rx="1.9" ry="1.7" fill="#2f8f3f" fill-opacity="0.95"/>
<ellipse cx="396.6" cy="263.9" rx="1.3" ry="1.2" fill="#2f8f3f" fill-opacity="0.6"/>
<ellipse cx="394.4" cy="265.6" rx="1.9" ry="1.7" fill="#2f8f3f" fill-opacity="0.9"/>
<ellipse cx="394.4" cy="265.6" rx="1.3" ry="1.2" fill="#2f8f3f" fill-opacity="0.6"/>
<ellipse cx="393.3" cy="273.1" rx="2" ry="1.5" fill="#2f8f3f" fill-opacity="0.9" transform="rotate(-42 393.3 273.1)"/>
<ellipse cx="393.3" cy="273.1" rx="1.4" ry="1" fill="#2f8f3f" fill-opacity="0.6" transform="rotate(-42 393.3 273.1)"/>
<ellipse cx="387.5" cy="275.2" rx="1.6" ry="1.4" fill="#2f8f3f" fill-opacity="0.9"/>
<ellipse cx="387.5" cy="275.2" rx="1.1" ry="1" fill="#2f8f3f" fill-opacity="0.6"/>
<ellipse cx="382.3" cy="287.4" rx="4.5" ry="4.2" fill="#a8d8a8" fill-opacity="0.35"/>
<ellipse cx="382.3" cy="287.4" rx="3.4" ry="3.2" fill="#a8d8a8" fill-opacity="0.75"/>
</g>
<g filter="url(#bl)">
<ellipse cx="465.4" cy="263.9" rx="2.2" ry="2" fill="#d2d2d2" fill-opacity="0.5"/>
<ellipse cx="464.9" cy="263.9" rx="1.3" ry="1.2" fill="#c9c9c9" fill-opacity="0.4"/>
<ellipse cx="463.2" cy="265.6" rx="2.2" ry="2" fill="#d2d2d2" fill-opacity="0.5"/>
<ellipse cx="463.2" cy="265.2" rx="1.3" ry="1.2" fill="#c9c9c9" fill-opacity="0.4"/>
<ellipse cx="475.5" cy="271.9" rx="2" ry="1.8" fill="#d2d2d2" fill-opacity="0.5"/>
<ellipse cx="475.4" cy="272" rx="1.2" ry="1.1" fill="#c9c9c9" fill-opacity="0.4"/>
<ellipse cx="491.9" cy="273.5" rx="1.1" ry="0.9" fill="#d2d2d2" fill-opacity="0.5" transform="rotate(-50 491.9 273.5)"/>
<ellipse cx="492.2" cy="274" rx="0.7" ry="0.6" fill="#c9c9c9" fill-opacity="0.4" transform="rotate(-50 492.2 274)"/>
<ellipse cx="484.1" cy="281.1" rx="2.3" ry="1.3" fill="#d2d2d2" fill-opacity="0.5" transform="rotate(50 484.1 281.1)"/>
<ellipse cx="483.9" cy="281.2" rx="1.4" ry="0.8" fill="#c9c9c9" fill-opacity="0.4" transform="rotate(50 483.9 281.2)"/>
<ellipse cx="488.3" cy="285.7" rx="3" ry="2.8" fill="#d2d2d2" fill-opacity="0.5"/>
<ellipse cx="488.5" cy="285.5" rx="1.8" ry="1.7" fill="#c9c9c9" fill-opacity="0.4"/>
<ellipse cx="490.8" cy="291.8" rx="2.3" ry="1.6" fill="#d2d2d2" fill-opacity="0.5"/>
<ellipse cx="490.2" cy="292.2" rx="1.4" ry="1" fill="#c9c9c9" fill-opacity="0.4"/>
<ellipse cx="446.2" cy="278.2" rx="2.3" ry="1.8" fill="#d2d2d2" fill-opacity="0.5"/>
<ellipse cx="446" cy="278.1" rx="1.4" ry="1.1" fill="#c9c9c9" fill-opacity="0.4"/>
<ellipse cx="437.2" cy="287.8" rx="2" ry="1.8" fill="#d2d2d2" fill-opacity="0.5"/>
<ellipse cx="437.6" cy="287.8" rx="1.2" ry="1.1" fill="#c9c9c9" fill-opacity="0.4"/>
<ellipse cx="494.9" cy="287.9" rx="1" ry="1" fill="#d2d2d2" fill-opacity="0.5"/>
<ellipse cx="494.8" cy="288.1" rx="0.6" ry="0.6" fill="#c9c9c9" fill-opacity="0.4"/>
<ellipse cx="460.4" cy="293.7" rx="1.1" ry="2.8" fill="#d2d2d2" fill-opacity="0.5" transform="rotate(27 460.4 293.7)"/>
<ellipse cx="459.9" cy="293.9" rx="0.7" ry="1.7" fill="#c9c9c9" fill-opacity="0.4" transform="rotate(27 459.9 293.9)"/>
<ellipse cx="455.9" cy="298.4" rx="4" ry="1.4" fill="#d2d2d2" fill-opacity="0.5" transform="rotate(-37 455.9 298.4)"/>
<ellipse cx="455.8" cy="298" rx="2.4" ry="0.9" fill="#c9c9c9" fill-opacity="0.4" transform="rotate(-37 455.8 298)"/>
<ellipse cx="465.9" cy="299.6" rx="2.8" ry="1.5" fill="#d2d2d2" fill-opacity="0.5" transform="rotate(-8 465.9 299.6)"/>
<ellipse cx="466.1" cy="300" rx="1.7" ry="0.9" fill="#c9c9c9" fill-opacity="0.4" transform="rotate(-8 466.1 300)"/>
<ellipse cx="471.1" cy="294.2" rx="1.6" ry="2.4" fill="#d2d2d2" fill-opacity="0.5" transform="rotate(-8 471.1 294.2)"/>
<ellipse cx="470.7" cy="294.3" rx="1" ry="1.5" fill="#c9c9c9" fill-opacity="0.4" transform="rotate(-8 470.7 294.3)"/>
<ellipse cx="474.7" cy="293.5" rx="1.8" ry="2.4" fill="#d2d2d2" fill-opacity="0.5" transform="rotate(-12 474.7 293.5)"/>
<ellipse cx="474.5" cy="293.7" rx="1.1" ry="1.5" fill="#c9c9c9" fill-opacity="0.4" transform="rotate(-12 474.5 293.7)"/>
<ellipse cx="479.4" cy="301.3" rx="5.3" ry="1.5" fill="#d2d2d2" fill-opacity="0.5" transform="rotate(-30 479.4 301.3)"/>
<ellipse cx="479.7" cy="301" rx="3.2" ry="0.9" fill="#c9c9c9" fill-opacity="0.4" transform="rotate(-30 479.7 301)"/>
<ellipse cx="471.2" cy="306.8" rx="2.3" ry="2.2" fill="#d2d2d2" fill-opacity="0.5"/>
<ellipse cx="471.6" cy="306.9" rx="1.4" ry="1.3" fill="#c9c9c9" fill-opacity="0.4"/>
<ellipse cx="473.2" cy="305.8" rx="2.3" ry="2.2" fill="#d2d2d2" fill-opacity="0.5"/>
<ellipse cx="473.4" cy="306.1" rx="1.4" ry="1.3" fill="#c9c9c9" fill-opacity="0.4"/>
<ellipse cx="448.9" cy="302.9" rx="2.1" ry="1.4" fill="#d2d2d2" fill-opacity="0.5" transform="rotate(-15 448.9 302.9)"/>
<ellipse cx="448.9" cy="303.1" rx="1.3" ry="0.8" fill="#c9c9c9" fill-opacity="0.4" transform="rotate(-15 448.9 303.1)"/>
<ellipse cx="460.9" cy="307.8" rx="2" ry="2" fill="#d2d2d2" fill-opacity="0.5"/>
<ellipse cx="461.3" cy="307.4" rx="1.2" ry="1.2" fill="#c9c9c9" fill-opacity="0.4"/>
<ellipse cx="469" cy="284.1" rx="6.4" ry="6" fill="#d2d2d2" fill-opacity="0.5"/>
<ellipse cx="468.6" cy="283.9" rx="3.9" ry="3.6" fill="#c9c9c9" fill-opacity="0.4"/>
<ellipse cx="480.1" cy="291.5" rx="2.2" ry="1.4" fill="#d2d2d2" fill-opacity="0.5" transform="rotate(-12 480.1 291.5)"/>
<ellipse cx="480.1" cy="291.1" rx="1.3" ry="0.8" fill="#c9c9c9" fill-opacity="0.4" transform="rotate(-12 480.1 291.1)"/>
<ellipse cx="462.1" cy="273.1" rx="2" ry="1.5" fill="#e8a0a0" fill-opacity="0.7" transform="rotate(-42 462.1 273.1)"/>
<ellipse cx="462.1" cy="273.1" rx="1.4" ry="1" fill="#e8a0a0" fill-opacity="0.6" transform="rotate(-42 462.1 273.1)"/>
<ellipse cx="456.3" cy="275.2" rx="1.6" ry="1.4" fill="#e8a0a0" fill-opacity="0.7"/>
<ellipse cx="456.3" cy="275.2" rx="1.1" ry="1" fill="#e8a0a0" fill-opacity="0.6"/>
<ellipse cx="451.1" cy="287.4" rx="4.5" ry="4.2" fill="#d63030" fill-opacity="0.35"/>
<ellipse cx="451.1" cy="287.4" rx="3.4" ry="3.2" fill="#d63030" fill-opacity="0.9"/>
<ellipse cx="455.4" cy="279.6" rx="1.4" ry="1.2" fill="#a02828" fill-opacity="0.9"/>
<ellipse cx="455.4" cy="279.6" rx="1" ry="0.8" fill="#a02828" fill-opacity="0.6"/>
</g>
<g id="labelsC">
<text x="24.3" y="258.1" font-size="7.4" fill="#111" font-weight="700" textLength="4.3" lengthAdjust="spacingAndGlyphs">C</text>
<text x="43.2" y="258.2" font-size="7.7" fill="#33333a" textLength="24.3" lengthAdjust="spacingAndGlyphs">African</text>
<text x="96.2" y="258.2" font-size="7.7" fill="#33333a" textLength="55.1" lengthAdjust="spacingAndGlyphs">Native American</text>
<text x="166.2" y="258.2" font-size="7.7" fill="#33333a" textLength="55.1" lengthAdjust="spacingAndGlyphs">European, South</text>
<text x="235.5" y="258.2" font-size="7.7" fill="#33333a" textLength="55" lengthAdjust="spacingAndGlyphs">European, North</text>
<text x="310" y="258.2" font-size="7.7" fill="#33333a" textLength="40" lengthAdjust="spacingAndGlyphs">South Asian</text>
<text x="368" y="258.2" font-size="7.7" fill="#33333a" textLength="57.8" lengthAdjust="spacingAndGlyphs">East Asian, South</text>
<text x="437" y="258.2" font-size="7.7" fill="#33333a" textLength="57.5" lengthAdjust="spacingAndGlyphs">East Asian, North</text>
<text x="47.2" y="320" font-size="8.0" fill="#c060a0" textLength="8.8" lengthAdjust="spacingAndGlyphs">Q7</text>
<text x="119.3" y="320" font-size="8.0" fill="#e08a30" textLength="8.8" lengthAdjust="spacingAndGlyphs">Q2</text>
<text x="189.1" y="320" font-size="8.0" fill="#4aa0c0" textLength="8.8" lengthAdjust="spacingAndGlyphs">Q1</text>
<text x="258.9" y="320" font-size="8.0" fill="#7a4a28" textLength="10" lengthAdjust="spacingAndGlyphs">Q6</text>
<text x="327.4" y="320" font-size="8.0" fill="#8a4a90" textLength="10" lengthAdjust="spacingAndGlyphs">Q5</text>
<text x="393.7" y="320" font-size="8.0" fill="#2a9a50" textLength="9.6" lengthAdjust="spacingAndGlyphs">Q3</text>
<text x="462.9" y="320" font-size="8.0" fill="#d03030" textLength="10.1" lengthAdjust="spacingAndGlyphs">Q4</text>
<text x="31.2" y="353.3" font-size="9.0" fill="#333" text-anchor="middle" textLength="35.5" lengthAdjust="spacingAndGlyphs" transform="rotate(-90 31.2 353.3)">Cell Lines</text>
<text x="31.2" y="416.3" font-size="9.0" fill="#333" text-anchor="middle" textLength="55" lengthAdjust="spacingAndGlyphs" transform="rotate(-90 31.2 416.3)">1KG Population</text>
</g>
<g fill="none" stroke-width="0.7">
<path d="M117 316.8H64.2V322.6" stroke="#f3bf90" stroke-width="0.6"/>
<path d="M91.2 322.6H192" stroke="#6fb6cf" stroke-dasharray="0.9 1.1"/>
<path d="M339.5 316.6H360.4V322" stroke="#9a80a0" stroke-dasharray="0.9 1.1"/>
<path d="M393 316.6H364.7V322" stroke="#5fb080" stroke-dasharray="0.9 1.1"/>
</g>
<path d="M50 324.8l-0.95 -2h1.9z" fill="#b05090"/>
<path d="M64.2 324.8l-0.95 -2h1.9z" fill="#e07828"/>
<path d="M91.2 324.8l-0.95 -2h1.9z" fill="#4a90b8"/>
<path d="M262.7 325l-0.95 -2h1.9z" fill="#5a3a20"/>
<path d="M360.4 325l-0.95 -2h1.9z" fill="#5a3a70"/>
<path d="M364.7 325l-0.95 -2h1.9z" fill="#2a9a50"/>
<path d="M468 325l-0.95 -2h1.9z" fill="#d03030"/>
<g id="cellLines" shape-rendering="geometricPrecision">
<rect x="36.0" y="327.0" width="29.4" height="53.60000000000002" fill="#cd78b1"/>
<rect x="65.4" y="327.0" width="296.0" height="53.60000000000002" fill="#7c5545"/>
<rect x="361.4" y="327.0" width="135.0" height="53.60000000000002" fill="#d62526"/>
<path d="M36 380.6L36 361.00L36.5 361.00L36.5 361.87L37 361.87L37 362.41L37.5 362.41L37.5 363.48L38 363.48L38 362.41L38.5 362.41L38.5 362.74L39 362.74L39 362.71L39.5 362.71L39.5 363.47L40 363.47L40 363.54L40.5 363.54L40.5 364.73L41 364.73L41 364.66L41.5 364.66L41.5 365.06L42 365.06L42 365.08L42.5 365.08L42.5 365.85L43 365.85L43 365.71L43.5 365.71L43.5 364.82L44 364.82L44 366.72L44.5 366.72L44.5 366.31L45 366.31L45 365.77L45.5 365.77L45.5 366.11L46 366.11L46 367.27L46.5 367.27L46.5 367.64L47 367.64L47 367.99L47.5 367.99L47.5 369.01L48 369.01L48 370.18L48.5 370.18L48.5 369.48L49 369.48L49 370.11L49.5 370.11L49.5 370.28L50 370.28L50 371.25L50.5 371.25L50.5 370.64L51 370.64L51 370.76L51.5 370.76L51.5 371.52L52 371.52L52 371.51L52.5 371.51L52.5 371.30L53 371.30L53 372.95L53.5 372.95L53.5 373.27L54 373.27L54 374.38L54.5 374.38L54.5 374.31L55 374.31L55 374.30L55.5 374.30L55.5 374.42L56 374.42L56 374.38L56.5 374.38L56.5 374.97L57 374.97L57 375.90L57.5 375.90L57.5 376.25L58 376.25L58 376.39L58.5 376.39L58.5 376.86L59 376.86L59 377.21L59.5 377.21L59.5 378.18L60 378.18L60 377.75L60.5 377.75L60.5 378.72L61 378.72L61 378.07L61.5 378.07L61.5 378.14L62 378.14L62 379.69L62.5 379.69L62.5 380.51L63 380.51L63 380.12L63.5 380.12L63.5 380.38L64 380.38L64 380.24L64.5 380.24L64.5 379.80L65 379.80L65 380.6Z" fill="#7c5545"/>
<path d="M36 380.6L36 369.37L36.5 369.37L36.5 369.21L37 369.21L37 369.80L37.5 369.80L37.5 370.12L38 370.12L38 370.42L38.5 370.42L38.5 369.93L39 369.93L39 369.78L39.5 369.78L39.5 371.44L40 371.44L40 371.32L40.5 371.32L40.5 371.36L41 371.36L41 372.82L41.5 372.82L41.5 372.24L42 372.24L42 371.90L42.5 371.90L42.5 372.62L43 372.62L43 372.74L43.5 372.74L43.5 372.86L44 372.86L44 371.93L44.5 371.93L44.5 372.80L45 372.80L45 373.88L45.5 373.88L45.5 373.56L46 373.56L46 373.39L46.5 373.39L46.5 373.36L47 373.36L47 374.83L47.5 374.83L47.5 373.85L48 373.85L48 374.12L48.5 374.12L48.5 375.30L49 375.30L49 375.24L49.5 375.24L49.5 375.23L50 375.23L50 375.62L50.5 375.62L50.5 376.11L51 376.11L51 376.74L51.5 376.74L51.5 375.57L52 375.57L52 376.63L52.5 376.63L52.5 375.71L53 375.71L53 376.55L53.5 376.55L53.5 376.60L54 376.60L54 377.24L54.5 377.24L54.5 377.27L55 377.27L55 377.56L55.5 377.56L55.5 378.47L56 378.47L56 377.72L56.5 377.72L56.5 378.69L57 378.69L57 378.30L57.5 378.30L57.5 379.67L58 379.67L58 380.17L58.5 380.17L58.5 378.29L59 378.29L59 379.87L59.5 379.87L59.5 379.97L60 379.97L60 379.32L60.5 379.32L60.5 380.60L61 380.60L61 380.00L61.5 380.00L61.5 380.25L62 380.25L62 380.55L62.5 380.55L62.5 380.57L63 380.57L63 379.92L63.5 379.92L63.5 379.94L64 379.94L64 378.62L64.5 378.62L64.5 380.60L65 380.60L65 380.6Z" fill="#c0603a"/>
<path d="M36 380.6L36 372.81L36.5 372.81L36.5 373.22L37 373.22L37 373.40L37.5 373.40L37.5 373.01L38 373.01L38 373.79L38.5 373.79L38.5 374.08L39 374.08L39 373.62L39.5 373.62L39.5 373.84L40 373.84L40 374.48L40.5 374.48L40.5 374.67L41 374.67L41 375.51L41.5 375.51L41.5 374.47L42 374.47L42 375.56L42.5 375.56L42.5 375.05L43 375.05L43 375.34L43.5 375.34L43.5 375.04L44 375.04L44 374.80L44.5 374.80L44.5 374.81L45 374.81L45 375.45L45.5 375.45L45.5 376.03L46 376.03L46 376.25L46.5 376.25L46.5 376.77L47 376.77L47 376.29L47.5 376.29L47.5 376.40L48 376.40L48 376.41L48.5 376.41L48.5 376.68L49 376.68L49 376.13L49.5 376.13L49.5 377.16L50 377.16L50 377.31L50.5 377.31L50.5 377.63L51 377.63L51 378.02L51.5 378.02L51.5 378.17L52 378.17L52 378.70L52.5 378.70L52.5 378.21L53 378.21L53 378.36L53.5 378.36L53.5 377.88L54 377.88L54 379.07L54.5 379.07L54.5 378.39L55 378.39L55 378.99L55.5 378.99L55.5 378.58L56 378.58L56 378.88L56.5 378.88L56.5 379.48L57 379.48L57 379.89L57.5 379.89L57.5 379.70L58 379.70L58 379.50L58.5 379.50L58.5 380.60L59 380.60L59 379.17L59.5 379.17L59.5 379.87L60 379.87L60 380.60L60.5 380.60L60.5 379.94L61 379.94L61 379.33L61.5 379.33L61.5 380.60L62 380.60L62 380.60L62.5 380.60L62.5 380.60L63 380.60L63 379.89L63.5 379.89L63.5 379.96L64 379.96L64 380.60L64.5 380.60L64.5 380.60L65 380.60L65 380.6Z" fill="#1f6bb6"/>
<rect x="66.2" y="327.0" width="0.45" height="2.8" fill="#c39d8b" fill-opacity="0.62"/>
<rect x="67.1" y="327.0" width="0.45" height="9.2" fill="#c39d8b" fill-opacity="0.62"/>
<rect x="68" y="327.0" width="0.45" height="2.2" fill="#c39d8b" fill-opacity="0.62"/>
<rect x="68.9" y="327.0" width="0.45" height="5.7" fill="#c39d8b" fill-opacity="0.62"/>
<rect x="69.8" y="327.0" width="0.45" height="19.9" fill="#c39d8b" fill-opacity="0.62"/>
<rect x="70.7" y="327.0" width="0.45" height="2.6" fill="#c39d8b" fill-opacity="0.62"/>
<rect x="71.6" y="327.0" width="0.45" height="23.7" fill="#c39d8b" fill-opacity="0.62"/>
<rect x="72.5" y="327.0" width="0.45" height="2.4" fill="#c39d8b" fill-opacity="0.62"/>
<rect x="73.4" y="327.0" width="0.45" height="7.7" fill="#c39d8b" fill-opacity="0.62"/>
<rect x="74.3" y="327.0" width="0.45" height="10.4" fill="#c39d8b" fill-opacity="0.62"/>
<rect x="76.1" y="327.0" width="0.45" height="3.7" fill="#c39d8b" fill-opacity="0.62"/>
<rect x="77" y="327.0" width="0.45" height="13.5" fill="#c39d8b" fill-opacity="0.62"/>
<rect x="77.9" y="327.0" width="0.45" height="5.5" fill="#c39d8b" fill-opacity="0.62"/>
<rect x="78.8" y="327.0" width="0.45" height="8.2" fill="#c39d8b" fill-opacity="0.62"/>
<rect x="79.7" y="327.0" width="0.45" height="13.9" fill="#c39d8b" fill-opacity="0.62"/>
<rect x="80.6" y="327.0" width="0.45" height="9.5" fill="#c39d8b" fill-opacity="0.62"/>
<rect x="81.5" y="327.0" width="0.45" height="2.5" fill="#c39d8b" fill-opacity="0.62"/>
<rect x="82.4" y="327.0" width="0.45" height="24.8" fill="#c39d8b" fill-opacity="0.62"/>
<rect x="83.3" y="327.0" width="0.45" height="5.9" fill="#c39d8b" fill-opacity="0.62"/>
<rect x="85.1" y="327.0" width="0.45" height="25.9" fill="#c39d8b" fill-opacity="0.62"/>
<rect x="86" y="327.0" width="0.45" height="19.6" fill="#c39d8b" fill-opacity="0.62"/>
<rect x="86.9" y="327.0" width="0.45" height="17" fill="#c39d8b" fill-opacity="0.62"/>
<rect x="87.8" y="327.0" width="0.45" height="2.3" fill="#c39d8b" fill-opacity="0.62"/>
<rect x="88.7" y="327.0" width="0.45" height="2" fill="#c39d8b" fill-opacity="0.62"/>
<rect x="89.6" y="327.0" width="0.45" height="13.5" fill="#c39d8b" fill-opacity="0.62"/>
<rect x="91.4" y="327.0" width="0.45" height="4.6" fill="#c39d8b" fill-opacity="0.62"/>
<rect x="92.3" y="327.0" width="0.45" height="2.5" fill="#c39d8b" fill-opacity="0.62"/>
<rect x="93.2" y="327.0" width="0.45" height="19.1" fill="#c39d8b" fill-opacity="0.62"/>
<rect x="94.1" y="327.0" width="0.45" height="2" fill="#c39d8b" fill-opacity="0.62"/>
<rect x="95" y="327.0" width="0.45" height="3.4" fill="#c39d8b" fill-opacity="0.62"/>
<rect x="95.9" y="327.0" width="0.45" height="2" fill="#c39d8b" fill-opacity="0.62"/>
<rect x="96.8" y="327.0" width="0.45" height="25.1" fill="#c39d8b" fill-opacity="0.62"/>
<rect x="97.7" y="327.0" width="0.45" height="19" fill="#c39d8b" fill-opacity="0.62"/>
<rect x="98.6" y="327.0" width="0.45" height="23.3" fill="#c39d8b" fill-opacity="0.62"/>
<rect x="99.5" y="327.0" width="0.45" height="3.4" fill="#c39d8b" fill-opacity="0.62"/>
<rect x="100.4" y="327.0" width="0.45" height="8.7" fill="#c39d8b" fill-opacity="0.62"/>
<rect x="101.3" y="327.0" width="0.45" height="8.6" fill="#c39d8b" fill-opacity="0.62"/>
<rect x="102.2" y="327.0" width="0.45" height="25.6" fill="#c39d8b" fill-opacity="0.62"/>
<rect x="103.1" y="327.0" width="0.45" height="5.3" fill="#c39d8b" fill-opacity="0.62"/>
<rect x="104" y="327.0" width="0.45" height="13.8" fill="#c39d8b" fill-opacity="0.62"/>
<rect x="104.9" y="327.0" width="0.45" height="8.1" fill="#c39d8b" fill-opacity="0.62"/>
<rect x="105.8" y="327.0" width="0.45" height="5.6" fill="#c39d8b" fill-opacity="0.62"/>
<rect x="108.5" y="327.0" width="0.45" height="19.4" fill="#c39d8b" fill-opacity="0.62"/>
<rect x="109.4" y="327.0" width="0.45" height="2.4" fill="#c39d8b" fill-opacity="0.62"/>
<rect x="110.3" y="327.0" width="0.45" height="17.8" fill="#c39d8b" fill-opacity="0.62"/>
<rect x="112.1" y="327.0" width="0.45" height="11.7" fill="#c39d8b" fill-opacity="0.62"/>
<rect x="113" y="327.0" width="0.45" height="17.1" fill="#c39d8b" fill-opacity="0.62"/>
<rect x="113.9" y="327.0" width="0.45" height="2.4" fill="#c39d8b" fill-opacity="0.62"/>
<rect x="114.8" y="327.0" width="0.45" height="10.5" fill="#c39d8b" fill-opacity="0.62"/>
<rect x="118.7" y="327.0" width="0.45" height="16" fill="#c39d8b" fill-opacity="0.55"/>
<rect x="120.9" y="327.0" width="0.45" height="16.6" fill="#c39d8b" fill-opacity="0.55"/>
<rect x="124.2" y="327.0" width="0.45" height="7.7" fill="#c39d8b" fill-opacity="0.55"/>
<rect x="126.4" y="327.0" width="0.45" height="14.5" fill="#c39d8b" fill-opacity="0.55"/>
<rect x="130.8" y="327.0" width="0.45" height="3" fill="#c39d8b" fill-opacity="0.55"/>
<rect x="131.9" y="327.0" width="0.45" height="9.1" fill="#c39d8b" fill-opacity="0.55"/>
<rect x="134.1" y="327.0" width="0.45" height="2.2" fill="#c39d8b" fill-opacity="0.55"/>
<rect x="135.2" y="327.0" width="0.45" height="7.5" fill="#c39d8b" fill-opacity="0.55"/>
<rect x="138.5" y="327.0" width="0.45" height="4.5" fill="#c39d8b" fill-opacity="0.55"/>
<rect x="142.9" y="327.0" width="0.45" height="3.2" fill="#c39d8b" fill-opacity="0.55"/>
<rect x="145.1" y="327.0" width="0.45" height="5.6" fill="#c39d8b" fill-opacity="0.55"/>
<rect x="146.2" y="327.0" width="0.45" height="5.9" fill="#c39d8b" fill-opacity="0.55"/>
<rect x="148.4" y="327.0" width="0.45" height="2.8" fill="#c39d8b" fill-opacity="0.55"/>
<rect x="149.5" y="327.0" width="0.45" height="3.5" fill="#c39d8b" fill-opacity="0.55"/>
<rect x="150.6" y="327.0" width="0.45" height="3.5" fill="#c39d8b" fill-opacity="0.55"/>
<rect x="151.7" y="327.0" width="0.45" height="3.1" fill="#c39d8b" fill-opacity="0.55"/>
<rect x="152.8" y="327.0" width="0.45" height="4.2" fill="#c39d8b" fill-opacity="0.55"/>
<rect x="153.9" y="327.0" width="0.45" height="3.4" fill="#c39d8b" fill-opacity="0.55"/>
<rect x="155" y="327.0" width="0.45" height="2.5" fill="#c39d8b" fill-opacity="0.55"/>
<rect x="156.1" y="327.0" width="0.45" height="3.2" fill="#c39d8b" fill-opacity="0.55"/>
<rect x="158.3" y="327.0" width="0.45" height="3.8" fill="#c39d8b" fill-opacity="0.55"/>
<rect x="160.5" y="327.0" width="0.45" height="2.2" fill="#c39d8b" fill-opacity="0.55"/>
<rect x="162.7" y="327.0" width="0.45" height="3.8" fill="#c39d8b" fill-opacity="0.55"/>
<rect x="166" y="327.0" width="0.45" height="2.4" fill="#c39d8b" fill-opacity="0.55"/>
<rect x="167.1" y="327.0" width="0.45" height="2" fill="#c39d8b" fill-opacity="0.55"/>
<rect x="172.6" y="327.0" width="0.45" height="2.6" fill="#c39d8b" fill-opacity="0.55"/>
<rect x="174.8" y="327.0" width="0.45" height="2.3" fill="#c39d8b" fill-opacity="0.55"/>
<rect x="178.1" y="327.0" width="0.45" height="2.3" fill="#c39d8b" fill-opacity="0.55"/>
<rect x="179.2" y="327.0" width="0.45" height="1.9" fill="#c39d8b" fill-opacity="0.55"/>
<rect x="180.3" y="327.0" width="0.45" height="1.4" fill="#c39d8b" fill-opacity="0.55"/>
<rect x="182.5" y="327.0" width="0.45" height="1.8" fill="#c39d8b" fill-opacity="0.55"/>
<rect x="184.7" y="327.0" width="0.45" height="1.8" fill="#c39d8b" fill-opacity="0.55"/>
<rect x="185.8" y="327.0" width="0.45" height="2.6" fill="#c39d8b" fill-opacity="0.55"/>
<rect x="186.9" y="327.0" width="0.45" height="1.9" fill="#c39d8b" fill-opacity="0.55"/>
<rect x="189.1" y="327.0" width="0.45" height="1.5" fill="#c39d8b" fill-opacity="0.55"/>
<rect x="190.2" y="327.0" width="0.45" height="1" fill="#c39d8b" fill-opacity="0.55"/>
<rect x="191.3" y="327.0" width="0.45" height="1.9" fill="#c39d8b" fill-opacity="0.55"/>
<rect x="192.4" y="327.0" width="0.45" height="2.2" fill="#c39d8b" fill-opacity="0.55"/>
<rect x="193.5" y="327.0" width="0.45" height="0.9" fill="#c39d8b" fill-opacity="0.55"/>
<rect x="194.6" y="327.0" width="0.45" height="1.3" fill="#c39d8b" fill-opacity="0.55"/>
<rect x="196.8" y="327.0" width="0.45" height="1.4" fill="#c39d8b" fill-opacity="0.55"/>
<rect x="199" y="327.0" width="0.45" height="1.9" fill="#c39d8b" fill-opacity="0.55"/>
<rect x="200.1" y="327.0" width="0.45" height="2.2" fill="#c39d8b" fill-opacity="0.55"/>
<rect x="203.4" y="327.0" width="0.45" height="1.7" fill="#c39d8b" fill-opacity="0.55"/>
<rect x="205.6" y="327.0" width="0.45" height="2.2" fill="#c39d8b" fill-opacity="0.55"/>
<rect x="206.7" y="327.0" width="0.45" height="1.8" fill="#c39d8b" fill-opacity="0.55"/>
<rect x="208.9" y="327.0" width="0.45" height="2.2" fill="#c39d8b" fill-opacity="0.55"/>
<rect x="213.3" y="327.0" width="0.45" height="1.8" fill="#c39d8b" fill-opacity="0.55"/>
<rect x="217.7" y="327.0" width="0.45" height="0.7" fill="#c39d8b" fill-opacity="0.55"/>
<rect x="218.8" y="327.0" width="0.45" height="1" fill="#c39d8b" fill-opacity="0.55"/>
<rect x="219.9" y="327.0" width="0.45" height="1.3" fill="#c39d8b" fill-opacity="0.55"/>
<rect x="222.1" y="327.0" width="0.45" height="1.3" fill="#c39d8b" fill-opacity="0.55"/>
<rect x="223.2" y="327.0" width="0.45" height="1.6" fill="#c39d8b" fill-opacity="0.55"/>
<rect x="224.3" y="327.0" width="0.45" height="2.2" fill="#c39d8b" fill-opacity="0.55"/>
<rect x="225.4" y="327.0" width="0.45" height="2.3" fill="#c39d8b" fill-opacity="0.55"/>
<rect x="229.8" y="327.0" width="0.45" height="1.6" fill="#c39d8b" fill-opacity="0.55"/>
<rect x="232" y="327.0" width="0.45" height="1.2" fill="#c39d8b" fill-opacity="0.55"/>
<rect x="233.1" y="327.0" width="0.45" height="2" fill="#c39d8b" fill-opacity="0.55"/>
<rect x="239.7" y="327.0" width="0.45" height="1.9" fill="#c39d8b" fill-opacity="0.55"/>
<rect x="240.8" y="327.0" width="0.45" height="1.6" fill="#c39d8b" fill-opacity="0.55"/>
<rect x="241.9" y="327.0" width="0.45" height="1.4" fill="#c39d8b" fill-opacity="0.55"/>
<rect x="243" y="327.0" width="0.45" height="1.6" fill="#c39d8b" fill-opacity="0.55"/>
<rect x="245.2" y="327.0" width="0.45" height="1" fill="#c39d8b" fill-opacity="0.55"/>
<rect x="248.5" y="327.0" width="0.45" height="2.2" fill="#c39d8b" fill-opacity="0.55"/>
<rect x="249.6" y="327.0" width="0.45" height="1.8" fill="#c39d8b" fill-opacity="0.55"/>
<rect x="250.7" y="327.0" width="0.45" height="1.3" fill="#c39d8b" fill-opacity="0.55"/>
<rect x="252.9" y="327.0" width="0.45" height="1.7" fill="#c39d8b" fill-opacity="0.55"/>
<rect x="254" y="327.0" width="0.45" height="1.1" fill="#c39d8b" fill-opacity="0.55"/>
<rect x="256.2" y="327.0" width="0.45" height="2" fill="#c39d8b" fill-opacity="0.55"/>
<rect x="257.3" y="327.0" width="0.45" height="1.2" fill="#c39d8b" fill-opacity="0.55"/>
<rect x="258.4" y="327.0" width="0.45" height="1.4" fill="#c39d8b" fill-opacity="0.55"/>
<rect x="262.8" y="327.0" width="0.45" height="1.5" fill="#c39d8b" fill-opacity="0.55"/>
<rect x="265" y="327.0" width="0.45" height="2" fill="#c39d8b" fill-opacity="0.55"/>
<rect x="266.1" y="327.0" width="0.45" height="1.5" fill="#c39d8b" fill-opacity="0.55"/>
<rect x="268.3" y="327.0" width="0.45" height="1.3" fill="#c39d8b" fill-opacity="0.55"/>
<rect x="269.4" y="327.0" width="0.45" height="1.4" fill="#c39d8b" fill-opacity="0.55"/>
<rect x="270.5" y="327.0" width="0.45" height="1.3" fill="#c39d8b" fill-opacity="0.55"/>
<rect x="276" y="327.0" width="0.45" height="1.2" fill="#c39d8b" fill-opacity="0.55"/>
<rect x="279.3" y="327.0" width="0.45" height="1.9" fill="#c39d8b" fill-opacity="0.55"/>
<rect x="282.6" y="327.0" width="0.45" height="1.7" fill="#c39d8b" fill-opacity="0.55"/>
<rect x="283.7" y="327.0" width="0.45" height="1.4" fill="#c39d8b" fill-opacity="0.55"/>
<rect x="284.8" y="327.0" width="0.45" height="1.9" fill="#c39d8b" fill-opacity="0.55"/>
<rect x="285.9" y="327.0" width="0.45" height="1.1" fill="#c39d8b" fill-opacity="0.55"/>
<rect x="287" y="327.0" width="0.45" height="1" fill="#c39d8b" fill-opacity="0.55"/>
<rect x="288.1" y="327.0" width="0.45" height="1.3" fill="#c39d8b" fill-opacity="0.55"/>
<rect x="290.3" y="327.0" width="0.45" height="2" fill="#c39d8b" fill-opacity="0.55"/>
<rect x="296.9" y="327.0" width="0.45" height="0.9" fill="#c39d8b" fill-opacity="0.55"/>
<rect x="298" y="327.0" width="0.45" height="1.8" fill="#c39d8b" fill-opacity="0.55"/>
<rect x="299.1" y="327.0" width="0.45" height="1.6" fill="#c39d8b" fill-opacity="0.55"/>
<rect x="300.2" y="327.0" width="0.45" height="1.7" fill="#c39d8b" fill-opacity="0.55"/>
<rect x="301.3" y="327.0" width="0.45" height="0.9" fill="#c39d8b" fill-opacity="0.55"/>
<rect x="302.4" y="327.0" width="0.45" height="0.9" fill="#c39d8b" fill-opacity="0.55"/>
<rect x="304.6" y="327.0" width="0.45" height="1.7" fill="#c39d8b" fill-opacity="0.55"/>
<rect x="305.7" y="327.0" width="0.45" height="1.4" fill="#c39d8b" fill-opacity="0.55"/>
<rect x="306.8" y="327.0" width="0.45" height="2.1" fill="#c39d8b" fill-opacity="0.55"/>
<rect x="307.9" y="327.0" width="0.45" height="1.8" fill="#c39d8b" fill-opacity="0.55"/>
<rect x="309" y="327.0" width="0.45" height="1.4" fill="#c39d8b" fill-opacity="0.55"/>
<rect x="310.1" y="327.0" width="0.45" height="0.8" fill="#c39d8b" fill-opacity="0.55"/>
<rect x="311.2" y="327.0" width="0.45" height="1.6" fill="#c39d8b" fill-opacity="0.55"/>
<rect x="312.3" y="327.0" width="0.45" height="1.2" fill="#c39d8b" fill-opacity="0.55"/>
<rect x="314.5" y="327.0" width="0.45" height="0.7" fill="#c39d8b" fill-opacity="0.55"/>
<rect x="316.7" y="327.0" width="0.45" height="1.3" fill="#c39d8b" fill-opacity="0.55"/>
<rect x="318.9" y="327.0" width="0.45" height="1.1" fill="#c39d8b" fill-opacity="0.55"/>
<rect x="322.2" y="327.0" width="0.45" height="1.8" fill="#c39d8b" fill-opacity="0.55"/>
<rect x="325.5" y="327.0" width="0.45" height="1.6" fill="#c39d8b" fill-opacity="0.55"/>
<rect x="326.6" y="327.0" width="0.45" height="1.5" fill="#c39d8b" fill-opacity="0.55"/>
<rect x="327.7" y="327.0" width="0.45" height="0.7" fill="#c39d8b" fill-opacity="0.55"/>
<rect x="328.8" y="327.0" width="0.45" height="1.1" fill="#c39d8b" fill-opacity="0.55"/>
<rect x="331" y="327.0" width="0.45" height="2.2" fill="#c39d8b" fill-opacity="0.55"/>
<rect x="333.2" y="327.0" width="0.45" height="1.6" fill="#c39d8b" fill-opacity="0.55"/>
<rect x="335.4" y="327.0" width="0.45" height="1.9" fill="#c39d8b" fill-opacity="0.55"/>
<rect x="336.5" y="327.0" width="0.45" height="2" fill="#c39d8b" fill-opacity="0.55"/>
<rect x="337.6" y="327.0" width="0.45" height="1.1" fill="#c39d8b" fill-opacity="0.55"/>
<rect x="338.7" y="327.0" width="0.45" height="1.1" fill="#c39d8b" fill-opacity="0.55"/>
<rect x="339.8" y="327.0" width="0.45" height="1.1" fill="#c39d8b" fill-opacity="0.55"/>
<rect x="342" y="327.0" width="0.45" height="0.9" fill="#c39d8b" fill-opacity="0.55"/>
<rect x="343.1" y="327.0" width="0.45" height="2" fill="#c39d8b" fill-opacity="0.55"/>
<rect x="344.2" y="327.0" width="0.45" height="1.8" fill="#c39d8b" fill-opacity="0.55"/>
<rect x="348.6" y="327.0" width="0.45" height="1.5" fill="#c39d8b" fill-opacity="0.55"/>
<rect x="350.8" y="327.0" width="0.45" height="1.2" fill="#c39d8b" fill-opacity="0.55"/>
<rect x="351.9" y="327.0" width="0.45" height="0.9" fill="#c39d8b" fill-opacity="0.55"/>
<rect x="353" y="327.0" width="0.45" height="1.4" fill="#c39d8b" fill-opacity="0.55"/>
<rect x="354.1" y="327.0" width="0.45" height="0.8" fill="#c39d8b" fill-opacity="0.55"/>
<rect x="359.6" y="327.0" width="0.45" height="1.5" fill="#c39d8b" fill-opacity="0.55"/>
<rect x="373.2" y="327.0" width="0.45" height="2.7" fill="#f2a3a0" fill-opacity="0.8"/>
<rect x="376.8" y="327.0" width="0.45" height="1.1" fill="#f2a3a0" fill-opacity="0.8"/>
<rect x="379.2" y="327.0" width="0.45" height="0.7" fill="#f2a3a0" fill-opacity="0.8"/>
<rect x="381.6" y="327.0" width="0.45" height="1.2" fill="#f2a3a0" fill-opacity="0.8"/>
<rect x="384" y="327.0" width="0.45" height="1.1" fill="#f2a3a0" fill-opacity="0.8"/>
<rect x="386.4" y="327.0" width="0.45" height="2" fill="#f2a3a0" fill-opacity="0.8"/>
<rect x="387.6" y="327.0" width="0.45" height="2.1" fill="#f2a3a0" fill-opacity="0.8"/>
<rect x="388.8" y="327.0" width="0.45" height="2.5" fill="#f2a3a0" fill-opacity="0.8"/>
<rect x="390" y="327.0" width="0.45" height="1.9" fill="#f2a3a0" fill-opacity="0.8"/>
<rect x="393.6" y="327.0" width="0.45" height="2" fill="#f2a3a0" fill-opacity="0.8"/>
<rect x="396" y="327.0" width="0.45" height="1" fill="#f2a3a0" fill-opacity="0.8"/>
<rect x="398.4" y="327.0" width="0.45" height="0.7" fill="#f2a3a0" fill-opacity="0.8"/>
<rect x="399.6" y="327.0" width="0.45" height="1" fill="#f2a3a0" fill-opacity="0.8"/>
<rect x="400.8" y="327.0" width="0.45" height="1.8" fill="#f2a3a0" fill-opacity="0.8"/>
<rect x="403.2" y="327.0" width="0.45" height="1.2" fill="#f2a3a0" fill-opacity="0.8"/>
<rect x="404.4" y="327.0" width="0.45" height="0.6" fill="#f2a3a0" fill-opacity="0.8"/>
<rect x="406.8" y="327.0" width="0.45" height="1.6" fill="#f2a3a0" fill-opacity="0.8"/>
<rect x="408" y="327.0" width="0.45" height="2.3" fill="#f2a3a0" fill-opacity="0.8"/>
<rect x="409.2" y="327.0" width="0.45" height="2.2" fill="#f2a3a0" fill-opacity="0.8"/>
<rect x="410.4" y="327.0" width="0.45" height="2.1" fill="#f2a3a0" fill-opacity="0.8"/>
<rect x="412.8" y="327.0" width="0.45" height="0.9" fill="#f2a3a0" fill-opacity="0.8"/>
<rect x="417.6" y="327.0" width="0.45" height="2.1" fill="#f2a3a0" fill-opacity="0.8"/>
<rect x="418.8" y="327.0" width="0.45" height="3" fill="#f2a3a0" fill-opacity="0.8"/>
<rect x="420" y="327.0" width="0.45" height="1.7" fill="#f2a3a0" fill-opacity="0.8"/>
<rect x="422.4" y="327.0" width="0.45" height="1.3" fill="#f2a3a0" fill-opacity="0.8"/>
<rect x="423.6" y="327.0" width="0.45" height="2.2" fill="#f2a3a0" fill-opacity="0.8"/>
<rect x="429.6" y="327.0" width="0.45" height="0.9" fill="#f2a3a0" fill-opacity="0.8"/>
<rect x="430.8" y="327.0" width="0.45" height="1" fill="#f2a3a0" fill-opacity="0.8"/>
<rect x="438" y="327.0" width="0.45" height="2.4" fill="#f2a3a0" fill-opacity="0.8"/>
<rect x="439.2" y="327.0" width="0.45" height="0.9" fill="#f2a3a0" fill-opacity="0.8"/>
<rect x="444" y="327.0" width="0.45" height="2.9" fill="#f2a3a0" fill-opacity="0.8"/>
<rect x="445.2" y="327.0" width="0.45" height="2.5" fill="#f2a3a0" fill-opacity="0.8"/>
<rect x="447.6" y="327.0" width="0.45" height="1.6" fill="#f2a3a0" fill-opacity="0.8"/>
<rect x="448.8" y="327.0" width="0.45" height="1.6" fill="#f2a3a0" fill-opacity="0.8"/>
<rect x="450" y="327.0" width="0.45" height="2.4" fill="#f2a3a0" fill-opacity="0.8"/>
<rect x="451.2" y="327.0" width="0.45" height="2.7" fill="#f2a3a0" fill-opacity="0.8"/>
<rect x="452.4" y="327.0" width="0.45" height="1.1" fill="#f2a3a0" fill-opacity="0.8"/>
<rect x="454.8" y="327.0" width="0.45" height="1.6" fill="#f2a3a0" fill-opacity="0.8"/>
<rect x="456" y="327.0" width="0.45" height="0.8" fill="#f2a3a0" fill-opacity="0.8"/>
<rect x="457.2" y="327.0" width="0.45" height="1" fill="#f2a3a0" fill-opacity="0.8"/>
<rect x="460.8" y="327.0" width="0.45" height="2.8" fill="#f2a3a0" fill-opacity="0.8"/>
<rect x="462" y="327.0" width="0.45" height="2.4" fill="#f2a3a0" fill-opacity="0.8"/>
<rect x="464.4" y="327.0" width="0.45" height="3" fill="#f2a3a0" fill-opacity="0.8"/>
<rect x="468" y="327.0" width="0.45" height="2.4" fill="#f2a3a0" fill-opacity="0.8"/>
<rect x="470.4" y="327.0" width="0.45" height="2.4" fill="#f2a3a0" fill-opacity="0.8"/>
<rect x="471.6" y="327.0" width="0.45" height="2.9" fill="#f2a3a0" fill-opacity="0.8"/>
<rect x="472.8" y="327.0" width="0.45" height="1.9" fill="#f2a3a0" fill-opacity="0.8"/>
<rect x="478.8" y="327.0" width="0.45" height="0.9" fill="#f2a3a0" fill-opacity="0.8"/>
<rect x="480" y="327.0" width="0.45" height="1.9" fill="#f2a3a0" fill-opacity="0.8"/>
<rect x="482.4" y="327.0" width="0.45" height="1.9" fill="#f2a3a0" fill-opacity="0.8"/>
<rect x="483.6" y="327.0" width="0.45" height="2.9" fill="#f2a3a0" fill-opacity="0.8"/>
<rect x="484.8" y="327.0" width="0.45" height="1.3" fill="#f2a3a0" fill-opacity="0.8"/>
<rect x="487.2" y="327.0" width="0.45" height="1.4" fill="#f2a3a0" fill-opacity="0.8"/>
<rect x="489.6" y="327.0" width="0.45" height="1.8" fill="#f2a3a0" fill-opacity="0.8"/>
<rect x="490.8" y="327.0" width="0.45" height="2.4" fill="#f2a3a0" fill-opacity="0.8"/>
<rect x="492" y="327.0" width="0.45" height="2.2" fill="#f2a3a0" fill-opacity="0.8"/>
<rect x="495.6" y="327.0" width="0.45" height="1.2" fill="#f2a3a0" fill-opacity="0.8"/>
<path d="M65.4 380.6L65.4 358.85L65.9 358.85L65.9 356.70L66.4 356.70L66.4 354.84L66.9 354.84L66.9 354.74L67.4 354.74L67.4 354.04L67.9 354.04L67.9 352.96L68.4 352.96L68.4 352.89L68.9 352.89L68.9 351.50L69.4 351.50L69.4 350.93L69.9 350.93L69.9 350.48L70.4 350.48L70.4 351.20L70.9 351.20L70.9 349.61L71.4 349.61L71.4 350.41L71.9 350.41L71.9 348.67L72.4 348.67L72.4 349.95L72.9 349.95L72.9 349.09L73.4 349.09L73.4 349.31L73.9 349.31L73.9 348.49L74.4 348.49L74.4 348.31L74.9 348.31L74.9 347.89L75.4 347.89L75.4 348.46L75.9 348.46L75.9 348.02L76.4 348.02L76.4 348.68L76.9 348.68L76.9 346.99L77.4 346.99L77.4 348.49L78 348.49L78 348.02L78.5 348.02L78.5 346.97L79 346.97L79 346.37L79.5 346.37L79.5 346.61L80 346.61L80 347.29L80.5 347.29L80.5 347.47L81 347.47L81 346.19L81.5 346.19L81.5 345.82L82 345.82L82 346.67L82.5 346.67L82.5 347.05L83 347.05L83 346.00L83.5 346.00L83.5 346.14L84 346.14L84 345.31L84.5 345.31L84.5 345.45L85 345.45L85 345.31L85.5 345.31L85.5 343.97L86 343.97L86 345.27L86.5 345.27L86.5 343.52L87 343.52L87 345.06L87.5 345.06L87.5 345.55L88 345.55L88 344.47L88.5 344.47L88.5 344.67L89 344.67L89 343.80L89.5 343.80L89.5 344.76L90 344.76L90 344.27L90.5 344.27L90.5 343.06L91 343.06L91 343.82L91.5 343.82L91.5 343.05L92 343.05L92 343.17L92.5 343.17L92.5 343.44L93 343.44L93 344.28L93.5 344.28L93.5 343.01L94 343.01L94 344.03L94.5 344.03L94.5 343.66L95 343.66L95 344.23L95.5 344.23L95.5 343.37L96 343.37L96 344.06L96.5 344.06L96.5 341.83L97 341.83L97 343.34L97.5 343.34L97.5 343.05L98 343.05L98 342.28L98.5 342.28L98.5 342.86L99 342.86L99 342.49L99.5 342.49L99.5 343.44L100 343.44L100 343.10L100.5 343.10L100.5 342.09L101 342.09L101 342.81L101.5 342.81L101.5 343.83L102 343.83L102 343.68L102.5 343.68L102.5 341.99L103 341.99L103 341.90L103.6 341.90L103.6 342.96L104.1 342.96L104.1 342.72L104.6 342.72L104.6 341.99L105.1 341.99L105.1 341.87L105.6 341.87L105.6 341.97L106.1 341.97L106.1 343.06L106.6 343.06L106.6 342.18L107.1 342.18L107.1 341.74L107.6 341.74L107.6 341.51L108.1 341.51L108.1 342.90L108.6 342.90L108.6 341.33L109.1 341.33L109.1 339.97L109.6 339.97L109.6 340.66L110.1 340.66L110.1 340.94L110.6 340.94L110.6 340.62L111.1 340.62L111.1 341.78L111.6 341.78L111.6 340.53L112.1 340.53L112.1 341.18L112.6 341.18L112.6 340.38L113.1 340.38L113.1 340.03L113.6 340.03L113.6 341.32L114.1 341.32L114.1 341.14L114.6 341.14L114.6 340.49L115.1 340.49L115.1 340.46L115.6 340.46L115.6 380.6Z" fill="#9a6fae"/>
<path d="M65.4 380.6L65.4 359.35L65.9 359.35L65.9 358.35L66.4 358.35L66.4 357.07L66.9 357.07L66.9 356.28L67.4 356.28L67.4 356.33L67.9 356.33L67.9 355.31L68.4 355.31L68.4 354.69L68.9 354.69L68.9 353.63L69.4 353.63L69.4 352.63L69.9 352.63L69.9 351.93L70.4 351.93L70.4 353.19L70.9 353.19L70.9 351.66L71.4 351.66L71.4 351.06L71.9 351.06L71.9 350.79L72.4 350.79L72.4 351.36L72.9 351.36L72.9 350.32L73.4 350.32L73.4 350.14L73.9 350.14L73.9 351.32L74.4 351.32L74.4 349.76L74.9 349.76L74.9 349.41L75.4 349.41L75.4 349.83L75.9 349.83L75.9 349.79L76.4 349.79L76.4 349.79L76.9 349.79L76.9 350.15L77.4 350.15L77.4 349.69L78 349.69L78 349.68L78.5 349.68L78.5 349.35L79 349.35L79 349.33L79.5 349.33L79.5 349.01L80 349.01L80 347.68L80.5 347.68L80.5 347.60L81 347.60L81 348.05L81.5 348.05L81.5 348.39L82 348.39L82 348.06L82.5 348.06L82.5 347.58L83 347.58L83 347.82L83.5 347.82L83.5 347.42L84 347.42L84 347.76L84.5 347.76L84.5 347.95L85 347.95L85 346.75L85.5 346.75L85.5 346.58L86 346.58L86 346.67L86.5 346.67L86.5 346.30L87 346.30L87 346.65L87.5 346.65L87.5 346.78L88 346.78L88 346.84L88.5 346.84L88.5 346.45L89 346.45L89 346.89L89.5 346.89L89.5 346.05L90 346.05L90 346.16L90.5 346.16L90.5 344.81L91 344.81L91 345.38L91.5 345.38L91.5 345.23L92 345.23L92 346.68L92.5 346.68L92.5 345.84L93 345.84L93 346.00L93.5 346.00L93.5 345.61L94 345.61L94 345.15L94.5 345.15L94.5 345.25L95 345.25L95 345.73L95.5 345.73L95.5 344.73L96 344.73L96 344.77L96.5 344.77L96.5 344.56L97 344.56L97 344.16L97.5 344.16L97.5 345.25L98 345.25L98 345.19L98.5 345.19L98.5 344.90L99 344.90L99 343.76L99.5 343.76L99.5 344.46L100 344.46L100 345.05L100.5 345.05L100.5 343.82L101 343.82L101 344.53L101.5 344.53L101.5 343.64L102 343.64L102 344.32L102.5 344.32L102.5 343.67L103 343.67L103 344.56L103.6 344.56L103.6 344.10L104.1 344.10L104.1 343.73L104.6 343.73L104.6 343.01L105.1 343.01L105.1 343.31L105.6 343.31L105.6 344.30L106.1 344.30L106.1 342.88L106.6 342.88L106.6 344.02L107.1 344.02L107.1 343.61L107.6 343.61L107.6 343.05L108.1 343.05L108.1 343.37L108.6 343.37L108.6 341.83L109.1 341.83L109.1 343.23L109.6 343.23L109.6 343.53L110.1 343.53L110.1 343.33L110.6 343.33L110.6 342.90L111.1 342.90L111.1 343.18L111.6 343.18L111.6 342.52L112.1 342.52L112.1 343.36L112.6 343.36L112.6 342.32L113.1 342.32L113.1 343.04L113.6 343.04L113.6 343.10L114.1 343.10L114.1 342.08L114.6 342.08L114.6 342.33L115.1 342.33L115.1 342.44L115.6 342.44L115.6 380.6Z" fill="#d37fb0"/>
<path d="M65.4 380.6L65.4 366.67L65.9 366.67L65.9 364.09L66.4 364.09L66.4 360.74L66.9 360.74L66.9 360.09L67.4 360.09L67.4 358.41L67.9 358.41L67.9 357.11L68.4 357.11L68.4 356.18L68.9 356.18L68.9 355.89L69.4 355.89L69.4 354.96L69.9 354.96L69.9 353.85L70.4 353.85L70.4 353.61L70.9 353.61L70.9 353.62L71.4 353.62L71.4 353.58L71.9 353.58L71.9 353.97L72.4 353.97L72.4 352.92L72.9 352.92L72.9 352.70L73.4 352.70L73.4 351.74L73.9 351.74L73.9 352.63L74.4 352.63L74.4 351.46L74.9 351.46L74.9 351.64L75.4 351.64L75.4 351.89L75.9 351.89L75.9 351.63L76.4 351.63L76.4 351.50L76.9 351.50L76.9 351.47L77.4 351.47L77.4 351.40L78 351.40L78 350.81L78.5 350.81L78.5 350.84L79 350.84L79 350.58L79.5 350.58L79.5 350.56L80 350.56L80 350.68L80.5 350.68L80.5 350.40L81 350.40L81 350.35L81.5 350.35L81.5 350.49L82 350.49L82 350.30L82.5 350.30L82.5 349.26L83 349.26L83 349.81L83.5 349.81L83.5 349.28L84 349.28L84 349.19L84.5 349.19L84.5 349.17L85 349.17L85 349.04L85.5 349.04L85.5 349.20L86 349.20L86 349.03L86.5 349.03L86.5 349.17L87 349.17L87 348.82L87.5 348.82L87.5 348.50L88 348.50L88 348.75L88.5 348.75L88.5 348.04L89 348.04L89 348.52L89.5 348.52L89.5 348.61L90 348.61L90 348.35L90.5 348.35L90.5 347.77L91 347.77L91 348.30L91.5 348.30L91.5 347.99L92 347.99L92 348.14L92.5 348.14L92.5 348.16L93 348.16L93 347.60L93.5 347.60L93.5 347.66L94 347.66L94 347.98L94.5 347.98L94.5 347.37L95 347.37L95 347.20L95.5 347.20L95.5 346.91L96 346.91L96 347.24L96.5 347.24L96.5 347.02L97 347.02L97 347.35L97.5 347.35L97.5 347.05L98 347.05L98 347.34L98.5 347.34L98.5 346.77L99 346.77L99 347.27L99.5 347.27L99.5 346.51L100 346.51L100 346.75L100.5 346.75L100.5 346.56L101 346.56L101 346.29L101.5 346.29L101.5 346.38L102 346.38L102 346.56L102.5 346.56L102.5 346.16L103 346.16L103 346.22L103.6 346.22L103.6 346.12L104.1 346.12L104.1 346.09L104.6 346.09L104.6 345.96L105.1 345.96L105.1 345.62L105.6 345.62L105.6 345.79L106.1 345.79L106.1 345.69L106.6 345.69L106.6 345.77L107.1 345.77L107.1 345.60L107.6 345.60L107.6 345.25L108.1 345.25L108.1 345.18L108.6 345.18L108.6 344.93L109.1 344.93L109.1 345.10L109.6 345.10L109.6 344.86L110.1 344.86L110.1 344.68L110.6 344.68L110.6 344.81L111.1 344.81L111.1 345.54L111.6 345.54L111.6 344.81L112.1 344.81L112.1 344.51L112.6 344.51L112.6 344.35L113.1 344.35L113.1 344.45L113.6 344.45L113.6 344.57L114.1 344.57L114.1 343.94L114.6 343.94L114.6 343.86L115.1 343.86L115.1 344.52L115.6 344.52L115.6 380.6Z" fill="#ee7a3a"/>
<path d="M65.4 380.6L65.4 368.01L65.9 368.01L65.9 365.41L66.4 365.41L66.4 361.61L66.9 361.61L66.9 360.81L67.4 360.81L67.4 359.64L67.9 359.64L67.9 358.06L68.4 358.06L68.4 356.36L68.9 356.36L68.9 356.73L69.4 356.73L69.4 356.04L69.9 356.04L69.9 355.27L70.4 355.27L70.4 354.86L70.9 354.86L70.9 354.86L71.4 354.86L71.4 354.50L71.9 354.50L71.9 354.38L72.4 354.38L72.4 353.76L72.9 353.76L72.9 354.01L73.4 354.01L73.4 353.70L73.9 353.70L73.9 353.23L74.4 353.23L74.4 353.14L74.9 353.14L74.9 353.26L75.4 353.26L75.4 352.74L75.9 352.74L75.9 352.90L76.4 352.90L76.4 352.23L76.9 352.23L76.9 352.53L77.4 352.53L77.4 352.01L78 352.01L78 352.34L78.5 352.34L78.5 352.22L79 352.22L79 351.47L79.5 351.47L79.5 351.61L80 351.61L80 351.07L80.5 351.07L80.5 350.48L81 350.48L81 351.35L81.5 351.35L81.5 350.89L82 350.89L82 351.11L82.5 351.11L82.5 351.06L83 351.06L83 350.95L83.5 350.95L83.5 350.47L84 350.47L84 350.20L84.5 350.20L84.5 349.97L85 349.97L85 350.23L85.5 350.23L85.5 349.84L86 349.84L86 349.95L86.5 349.95L86.5 350.11L87 350.11L87 349.91L87.5 349.91L87.5 349.14L88 349.14L88 349.75L88.5 349.75L88.5 349.44L89 349.44L89 349.77L89.5 349.77L89.5 349.32L90 349.32L90 349.45L90.5 349.45L90.5 349.04L91 349.04L91 348.95L91.5 348.95L91.5 349.15L92 349.15L92 348.76L92.5 348.76L92.5 348.74L93 348.74L93 348.56L93.5 348.56L93.5 348.50L94 348.50L94 348.63L94.5 348.63L94.5 348.48L95 348.48L95 348.36L95.5 348.36L95.5 348.76L96 348.76L96 348.27L96.5 348.27L96.5 348.21L97 348.21L97 347.62L97.5 347.62L97.5 348.08L98 348.08L98 348.01L98.5 348.01L98.5 348.16L99 348.16L99 348.03L99.5 348.03L99.5 348.32L100 348.32L100 347.76L100.5 347.76L100.5 347.17L101 347.17L101 347.51L101.5 347.51L101.5 347.33L102 347.33L102 347.39L102.5 347.39L102.5 347.47L103 347.47L103 347.62L103.6 347.62L103.6 347.05L104.1 347.05L104.1 347.12L104.6 347.12L104.6 347.23L105.1 347.23L105.1 346.88L105.6 346.88L105.6 346.57L106.1 346.57L106.1 347.24L106.6 347.24L106.6 346.84L107.1 346.84L107.1 346.80L107.6 346.80L107.6 346.61L108.1 346.61L108.1 346.38L108.6 346.38L108.6 346.26L109.1 346.26L109.1 346.44L109.6 346.44L109.6 346.26L110.1 346.26L110.1 346.11L110.6 346.11L110.6 345.61L111.1 345.61L111.1 345.81L111.6 345.81L111.6 345.91L112.1 345.91L112.1 345.39L112.6 345.39L112.6 345.24L113.1 345.24L113.1 345.75L113.6 345.75L113.6 345.51L114.1 345.51L114.1 345.12L114.6 345.12L114.6 345.35L115.1 345.35L115.1 345.22L115.6 345.22L115.6 380.6Z" fill="#1f6bb6"/>
<rect x="65.6" y="343" width="1.3" height="24" fill="#f6821f"/>
<rect x="67.6" y="347" width="0.5" height="10" fill="#f6821f" fill-opacity="0.8"/>
<path d="M115.6 380.6L115.6 367.05L116.1 367.05L116.1 365.10L116.6 365.10L116.6 363.93L117.1 363.93L117.1 361.91L117.6 361.91L117.6 360.08L118.1 360.08L118.1 358.66L118.6 358.66L118.6 357.55L119.1 357.55L119.1 356.84L119.6 356.84L119.6 355.79L120.1 355.79L120.1 355.90L120.6 355.90L120.6 355.20L121.1 355.20L121.1 355.63L121.6 355.63L121.6 354.61L122.1 354.61L122.1 354.79L122.6 354.79L122.6 355.44L123.1 355.44L123.1 355.27L123.6 355.27L123.6 356.08L124.1 356.08L124.1 355.45L124.6 355.45L124.6 355.89L125.1 355.89L125.1 355.34L125.6 355.34L125.6 355.71L126.1 355.71L126.1 356.08L126.6 356.08L126.6 356.03L127.1 356.03L127.1 355.73L127.6 355.73L127.6 355.92L128.1 355.92L128.1 355.54L128.6 355.54L128.6 355.77L129.1 355.77L129.1 356.41L129.6 356.41L129.6 355.87L130.1 355.87L130.1 356.53L130.6 356.53L130.6 355.67L131.1 355.67L131.1 356.45L131.6 356.45L131.6 356.19L132.1 356.19L132.1 356.98L132.6 356.98L132.6 356.96L133.1 356.96L133.1 356.76L133.6 356.76L133.6 356.80L134.1 356.80L134.1 356.68L134.6 356.68L134.6 357.09L135.1 357.09L135.1 356.57L135.6 356.57L135.6 357.19L136.1 357.19L136.1 356.80L136.6 356.80L136.6 357.09L137.1 357.09L137.1 357.08L137.6 357.08L137.6 357.48L138.1 357.48L138.1 357.54L138.6 357.54L138.6 357.45L139.1 357.45L139.1 357.30L139.6 357.30L139.6 357.37L140.1 357.37L140.1 356.95L140.6 356.95L140.6 357.62L141.1 357.62L141.1 357.17L141.6 357.17L141.6 357.48L142.1 357.48L142.1 357.59L142.6 357.59L142.6 357.59L143.1 357.59L143.1 357.53L143.6 357.53L143.6 357.22L144.1 357.22L144.1 357.81L144.6 357.81L144.6 357.68L145.1 357.68L145.1 357.62L145.6 357.62L145.6 358.22L146.1 358.22L146.1 358.10L146.6 358.10L146.6 358.17L147.1 358.17L147.1 358.35L147.6 358.35L147.6 358.26L148.1 358.26L148.1 358.59L148.6 358.59L148.6 358.16L149.1 358.16L149.1 358.14L149.6 358.14L149.6 358.18L150.1 358.18L150.1 358.44L150.6 358.44L150.6 358.47L151.1 358.47L151.1 358.19L151.6 358.19L151.6 358.74L152.1 358.74L152.1 358.92L152.6 358.92L152.6 358.01L153.1 358.01L153.1 358.29L153.6 358.29L153.6 357.91L154.1 357.91L154.1 358.74L154.6 358.74L154.6 358.26L155.1 358.26L155.1 359.01L155.6 359.01L155.6 358.83L156.1 358.83L156.1 358.82L156.6 358.82L156.6 358.80L157.1 358.80L157.1 358.72L157.6 358.72L157.6 358.76L158.1 358.76L158.1 358.69L158.6 358.69L158.6 358.73L159.1 358.73L159.1 358.55L159.6 358.55L159.6 358.96L160.1 358.96L160.1 359.03L160.6 359.03L160.6 359.24L161.1 359.24L161.1 358.75L161.6 358.75L161.6 358.39L162.1 358.39L162.1 359.11L162.6 359.11L162.6 358.80L163.1 358.80L163.1 358.74L163.6 358.74L163.6 358.92L164.1 358.92L164.1 358.62L164.6 358.62L164.6 358.98L165.1 358.98L165.1 359.29L165.6 359.29L165.6 359.54L166.1 359.54L166.1 358.89L166.6 358.89L166.6 359.31L167.1 359.31L167.1 359.42L167.6 359.42L167.6 359.29L168.1 359.29L168.1 358.80L168.6 358.80L168.6 358.97L169.1 358.97L169.1 359.03L169.6 359.03L169.6 359.63L170.1 359.63L170.1 358.77L170.6 358.77L170.6 359.02L171.1 359.02L171.1 359.01L171.6 359.01L171.6 359.23L172.1 359.23L172.1 359.34L172.6 359.34L172.6 359.71L173.1 359.71L173.1 359.78L173.6 359.78L173.6 359.54L174.1 359.54L174.1 359.82L174.6 359.82L174.6 359.06L175.1 359.06L175.1 358.96L175.6 358.96L175.6 359.48L176.1 359.48L176.1 359.35L176.6 359.35L176.6 359.66L177.2 359.66L177.2 359.38L177.7 359.38L177.7 359.54L178.2 359.54L178.2 359.74L178.7 359.74L178.7 359.63L179.2 359.63L179.2 360.02L179.7 360.02L179.7 359.74L180.2 359.74L180.2 360.08L180.7 360.08L180.7 359.47L181.2 359.47L181.2 359.56L181.7 359.56L181.7 359.95L182.2 359.95L182.2 359.33L182.7 359.33L182.7 359.86L183.2 359.86L183.2 359.88L183.7 359.88L183.7 359.55L184.2 359.55L184.2 359.59L184.7 359.59L184.7 359.84L185.2 359.84L185.2 359.95L185.7 359.95L185.7 359.98L186.2 359.98L186.2 359.80L186.7 359.80L186.7 360.07L187.2 360.07L187.2 359.97L187.7 359.97L187.7 359.40L188.2 359.40L188.2 359.95L188.7 359.95L188.7 359.69L189.2 359.69L189.2 359.55L189.7 359.55L189.7 360.06L190.2 360.06L190.2 359.92L190.7 359.92L190.7 360.11L191.2 360.11L191.2 359.97L191.7 359.97L191.7 360.55L192.2 360.55L192.2 359.94L192.7 359.94L192.7 360.17L193.2 360.17L193.2 360.23L193.7 360.23L193.7 360.21L194.2 360.21L194.2 360.29L194.7 360.29L194.7 359.82L195.2 359.82L195.2 360.45L195.7 360.45L195.7 360.37L196.2 360.37L196.2 360.42L196.7 360.42L196.7 360.09L197.2 360.09L197.2 360.17L197.7 360.17L197.7 360.24L198.2 360.24L198.2 360.01L198.7 360.01L198.7 360.30L199.2 360.30L199.2 359.58L199.7 359.58L199.7 360.64L200.2 360.64L200.2 360.03L200.7 360.03L200.7 360.57L201.2 360.57L201.2 360.19L201.7 360.19L201.7 361.05L202.2 361.05L202.2 360.75L202.7 360.75L202.7 360.94L203.2 360.94L203.2 361.05L203.7 361.05L203.7 360.47L204.2 360.47L204.2 360.78L204.7 360.78L204.7 360.69L205.2 360.69L205.2 360.35L205.7 360.35L205.7 360.78L206.2 360.78L206.2 360.85L206.7 360.85L206.7 360.32L207.2 360.32L207.2 360.73L207.7 360.73L207.7 360.84L208.2 360.84L208.2 360.71L208.7 360.71L208.7 360.77L209.2 360.77L209.2 360.72L209.7 360.72L209.7 360.34L210.2 360.34L210.2 360.26L210.7 360.26L210.7 361.23L211.2 361.23L211.2 360.36L211.7 360.36L211.7 360.50L212.2 360.50L212.2 360.71L212.7 360.71L212.7 361.09L213.2 361.09L213.2 361.09L213.7 361.09L213.7 361.47L214.2 361.47L214.2 361.22L214.7 361.22L214.7 360.59L215.2 360.59L215.2 360.98L215.7 360.98L215.7 360.96L216.2 360.96L216.2 361.14L216.7 361.14L216.7 361.05L217.2 361.05L217.2 360.92L217.7 360.92L217.7 361.29L218.2 361.29L218.2 360.83L218.7 360.83L218.7 361.12L219.2 361.12L219.2 361.44L219.7 361.44L219.7 361.04L220.2 361.04L220.2 361.13L220.7 361.13L220.7 361.05L221.2 361.05L221.2 361.07L221.7 361.07L221.7 361.33L222.2 361.33L222.2 361.39L222.7 361.39L222.7 361.21L223.2 361.21L223.2 361.39L223.7 361.39L223.7 361.53L224.2 361.53L224.2 361.08L224.7 361.08L224.7 361.59L225.2 361.59L225.2 362.14L225.7 362.14L225.7 361.79L226.2 361.79L226.2 361.64L226.7 361.64L226.7 361.34L227.2 361.34L227.2 361.48L227.7 361.48L227.7 361.54L228.2 361.54L228.2 361.04L228.7 361.04L228.7 361.49L229.2 361.49L229.2 362.00L229.7 362.00L229.7 361.73L230.2 361.73L230.2 361.01L230.7 361.01L230.7 361.81L231.2 361.81L231.2 361.87L231.7 361.87L231.7 361.54L232.2 361.54L232.2 361.28L232.7 361.28L232.7 362.18L233.2 362.18L233.2 361.43L233.7 361.43L233.7 361.88L234.2 361.88L234.2 361.38L234.7 361.38L234.7 361.83L235.2 361.83L235.2 362.15L235.7 362.15L235.7 361.81L236.2 361.81L236.2 361.66L236.7 361.66L236.7 361.87L237.2 361.87L237.2 362.22L237.7 362.22L237.7 361.96L238.2 361.96L238.2 361.30L238.7 361.30L238.7 361.74L239.2 361.74L239.2 361.82L239.7 361.82L239.7 362.47L240.2 362.47L240.2 361.69L240.7 361.69L240.7 362.24L241.2 362.24L241.2 362.31L241.7 362.31L241.7 361.89L242.2 361.89L242.2 361.84L242.7 361.84L242.7 362.22L243.2 362.22L243.2 362.17L243.7 362.17L243.7 362.54L244.2 362.54L244.2 361.77L244.7 361.77L244.7 361.24L245.2 361.24L245.2 362.27L245.7 362.27L245.7 362.31L246.2 362.31L246.2 361.91L246.7 361.91L246.7 361.98L247.2 361.98L247.2 362.25L247.7 362.25L247.7 363.06L248.2 363.06L248.2 362.25L248.7 362.25L248.7 362.61L249.2 362.61L249.2 362.48L249.7 362.48L249.7 362.56L250.2 362.56L250.2 362.20L250.7 362.20L250.7 361.94L251.2 361.94L251.2 362.41L251.7 362.41L251.7 362.42L252.2 362.42L252.2 362.16L252.7 362.16L252.7 361.91L253.2 361.91L253.2 362.97L253.7 362.97L253.7 362.80L254.2 362.80L254.2 362.38L254.7 362.38L254.7 362.44L255.2 362.44L255.2 363.14L255.7 363.14L255.7 362.58L256.2 362.58L256.2 363.12L256.7 363.12L256.7 362.38L257.2 362.38L257.2 361.98L257.7 361.98L257.7 362.47L258.2 362.47L258.2 362.40L258.7 362.40L258.7 363.01L259.2 363.01L259.2 362.88L259.7 362.88L259.7 362.81L260.2 362.81L260.2 362.05L260.7 362.05L260.7 362.35L261.2 362.35L261.2 362.62L261.7 362.62L261.7 362.76L262.2 362.76L262.2 362.64L262.7 362.64L262.7 362.71L263.2 362.71L263.2 363.01L263.7 363.01L263.7 363.42L264.2 363.42L264.2 363.43L264.7 363.43L264.7 362.80L265.2 362.80L265.2 362.33L265.7 362.33L265.7 363.57L266.2 363.57L266.2 363.23L266.7 363.23L266.7 363.42L267.2 363.42L267.2 362.86L267.7 362.86L267.7 362.99L268.2 362.99L268.2 363.35L268.7 363.35L268.7 363.05L269.2 363.05L269.2 363.55L269.7 363.55L269.7 363.26L270.2 363.26L270.2 362.92L270.7 362.92L270.7 363.15L271.2 363.15L271.2 363.03L271.7 363.03L271.7 363.02L272.2 363.02L272.2 363.21L272.7 363.21L272.7 363.33L273.2 363.33L273.2 363.11L273.7 363.11L273.7 363.47L274.2 363.47L274.2 363.20L274.7 363.20L274.7 363.08L275.2 363.08L275.2 363.25L275.7 363.25L275.7 363.80L276.2 363.80L276.2 363.20L276.7 363.20L276.7 363.52L277.2 363.52L277.2 363.53L277.7 363.53L277.7 363.28L278.2 363.28L278.2 363.21L278.7 363.21L278.7 363.82L279.2 363.82L279.2 363.50L279.7 363.50L279.7 363.74L280.2 363.74L280.2 363.37L280.7 363.37L280.7 363.43L281.2 363.43L281.2 363.40L281.7 363.40L281.7 363.27L282.2 363.27L282.2 363.56L282.7 363.56L282.7 363.61L283.2 363.61L283.2 363.97L283.7 363.97L283.7 363.42L284.2 363.42L284.2 363.58L284.7 363.58L284.7 363.92L285.2 363.92L285.2 363.58L285.7 363.58L285.7 363.82L286.2 363.82L286.2 363.37L286.7 363.37L286.7 364.17L287.2 364.17L287.2 363.76L287.7 363.76L287.7 363.35L288.2 363.35L288.2 363.61L288.7 363.61L288.7 363.96L289.2 363.96L289.2 363.94L289.7 363.94L289.7 363.96L290.2 363.96L290.2 364.33L290.7 364.33L290.7 364.35L291.2 364.35L291.2 364.00L291.7 364.00L291.7 364.50L292.2 364.50L292.2 363.80L292.7 363.80L292.7 363.66L293.2 363.66L293.2 364.37L293.7 364.37L293.7 363.35L294.2 363.35L294.2 364.34L294.7 364.34L294.7 364.46L295.2 364.46L295.2 364.31L295.7 364.31L295.7 364.49L296.2 364.49L296.2 364.44L296.7 364.44L296.7 363.81L297.2 363.81L297.2 363.94L297.7 363.94L297.7 364.07L298.2 364.07L298.2 363.86L298.7 363.86L298.7 364.86L299.2 364.86L299.2 364.46L299.7 364.46L299.7 364.14L300.3 364.14L300.3 364.03L300.8 364.03L300.8 363.82L301.3 363.82L301.3 363.97L301.8 363.97L301.8 364.29L302.3 364.29L302.3 364.27L302.8 364.27L302.8 363.92L303.3 363.92L303.3 363.89L303.8 363.89L303.8 364.09L304.3 364.09L304.3 364.33L304.8 364.33L304.8 364.36L305.3 364.36L305.3 364.61L305.8 364.61L305.8 364.26L306.3 364.26L306.3 364.36L306.8 364.36L306.8 364.63L307.3 364.63L307.3 364.39L307.8 364.39L307.8 364.76L308.3 364.76L308.3 364.48L308.8 364.48L308.8 364.73L309.3 364.73L309.3 364.95L309.8 364.95L309.8 364.59L310.3 364.59L310.3 364.46L310.8 364.46L310.8 364.51L311.3 364.51L311.3 363.92L311.8 363.92L311.8 364.37L312.3 364.37L312.3 364.16L312.8 364.16L312.8 365.42L313.3 365.42L313.3 365.22L313.8 365.22L313.8 364.46L314.3 364.46L314.3 364.33L314.8 364.33L314.8 364.50L315.3 364.50L315.3 364.53L315.8 364.53L315.8 364.44L316.3 364.44L316.3 364.86L316.8 364.86L316.8 364.56L317.3 364.56L317.3 364.93L317.8 364.93L317.8 364.92L318.3 364.92L318.3 365.04L318.8 365.04L318.8 364.95L319.3 364.95L319.3 364.70L319.8 364.70L319.8 364.63L320.3 364.63L320.3 364.53L320.8 364.53L320.8 365.16L321.3 365.16L321.3 364.36L321.8 364.36L321.8 364.75L322.3 364.75L322.3 364.70L322.8 364.70L322.8 365.15L323.3 365.15L323.3 365.12L323.8 365.12L323.8 364.56L324.3 364.56L324.3 364.46L324.8 364.46L324.8 365.25L325.3 365.25L325.3 364.87L325.8 364.87L325.8 364.67L326.3 364.67L326.3 364.95L326.8 364.95L326.8 365.19L327.3 365.19L327.3 364.46L327.8 364.46L327.8 364.53L328.3 364.53L328.3 364.21L328.8 364.21L328.8 364.69L329.3 364.69L329.3 365.20L329.8 365.20L329.8 365.29L330.3 365.29L330.3 365.10L330.8 365.10L330.8 364.82L331.3 364.82L331.3 365.09L331.8 365.09L331.8 365.37L332.3 365.37L332.3 365.33L332.8 365.33L332.8 365.34L333.3 365.34L333.3 364.91L333.8 364.91L333.8 364.94L334.3 364.94L334.3 365.26L334.8 365.26L334.8 365.48L335.3 365.48L335.3 365.73L335.8 365.73L335.8 365.12L336.3 365.12L336.3 365.18L336.8 365.18L336.8 365.82L337.3 365.82L337.3 365.73L337.8 365.73L337.8 365.20L338.3 365.20L338.3 365.44L338.8 365.44L338.8 365.17L339.3 365.17L339.3 365.47L339.8 365.47L339.8 365.08L340.3 365.08L340.3 365.13L340.8 365.13L340.8 365.13L341.3 365.13L341.3 366.05L341.8 366.05L341.8 365.59L342.3 365.59L342.3 365.61L342.8 365.61L342.8 365.61L343.3 365.61L343.3 365.55L343.8 365.55L343.8 365.54L344.3 365.54L344.3 366.38L344.8 366.38L344.8 366.04L345.3 366.04L345.3 365.48L345.8 365.48L345.8 366.12L346.3 366.12L346.3 366.17L346.8 366.17L346.8 366.00L347.3 366.00L347.3 365.85L347.8 365.85L347.8 366.56L348.3 366.56L348.3 366.25L348.8 366.25L348.8 366.24L349.3 366.24L349.3 366.14L349.8 366.14L349.8 366.37L350.3 366.37L350.3 366.74L350.8 366.74L350.8 366.17L351.3 366.17L351.3 367.23L351.8 367.23L351.8 367.19L352.3 367.19L352.3 367.06L352.8 367.06L352.8 367.60L353.3 367.60L353.3 367.31L353.8 367.31L353.8 367.45L354.3 367.45L354.3 368.40L354.8 368.40L354.8 368.48L355.3 368.48L355.3 369.04L355.8 369.04L355.8 368.92L356.3 368.92L356.3 369.80L356.8 369.80L356.8 370.55L357.3 370.55L357.3 371.71L357.8 371.71L357.8 372.23L358.3 372.23L358.3 374.15L358.8 374.15L358.8 375.18L359.3 375.18L359.3 377.03L359.8 377.03L359.8 378.55L360.3 378.55L360.3 379.56L360.8 379.56L360.8 379.85L361.3 379.85L361.3 380.6Z" fill="#e2766e"/>
<path d="M115.6 380.6L115.6 367.60L116.1 367.60L116.1 365.96L116.6 365.96L116.6 364.57L117.1 364.57L117.1 362.55L117.6 362.55L117.6 361.84L118.1 361.84L118.1 359.45L118.6 359.45L118.6 358.42L119.1 358.42L119.1 357.72L119.6 357.72L119.6 357.23L120.1 357.23L120.1 356.63L120.6 356.63L120.6 356.23L121.1 356.23L121.1 356.18L121.6 356.18L121.6 356.19L122.1 356.19L122.1 356.30L122.6 356.30L122.6 356.12L123.1 356.12L123.1 356.65L123.6 356.65L123.6 356.82L124.1 356.82L124.1 356.19L124.6 356.19L124.6 356.74L125.1 356.74L125.1 356.27L125.6 356.27L125.6 356.82L126.1 356.82L126.1 357.15L126.6 357.15L126.6 356.45L127.1 356.45L127.1 356.77L127.6 356.77L127.6 357.14L128.1 357.14L128.1 357.05L128.6 357.05L128.6 357.00L129.1 357.00L129.1 357.06L129.6 357.06L129.6 357.00L130.1 357.00L130.1 357.37L130.6 357.37L130.6 357.13L131.1 357.13L131.1 357.80L131.6 357.80L131.6 357.39L132.1 357.39L132.1 357.37L132.6 357.37L132.6 357.67L133.1 357.67L133.1 357.53L133.6 357.53L133.6 357.91L134.1 357.91L134.1 357.56L134.6 357.56L134.6 357.36L135.1 357.36L135.1 357.65L135.6 357.65L135.6 357.55L136.1 357.55L136.1 357.81L136.6 357.81L136.6 358.19L137.1 358.19L137.1 357.91L137.6 357.91L137.6 358.05L138.1 358.05L138.1 358.08L138.6 358.08L138.6 358.28L139.1 358.28L139.1 357.72L139.6 357.72L139.6 358.34L140.1 358.34L140.1 358.44L140.6 358.44L140.6 358.43L141.1 358.43L141.1 358.30L141.6 358.30L141.6 358.48L142.1 358.48L142.1 358.43L142.6 358.43L142.6 358.66L143.1 358.66L143.1 358.60L143.6 358.60L143.6 359.15L144.1 359.15L144.1 358.76L144.6 358.76L144.6 358.67L145.1 358.67L145.1 359.00L145.6 359.00L145.6 358.84L146.1 358.84L146.1 359.04L146.6 359.04L146.6 358.78L147.1 358.78L147.1 359.22L147.6 359.22L147.6 359.22L148.1 359.22L148.1 359.41L148.6 359.41L148.6 359.14L149.1 359.14L149.1 358.97L149.6 358.97L149.6 359.64L150.1 359.64L150.1 359.40L150.6 359.40L150.6 359.21L151.1 359.21L151.1 359.44L151.6 359.44L151.6 359.81L152.1 359.81L152.1 359.70L152.6 359.70L152.6 359.44L153.1 359.44L153.1 359.39L153.6 359.39L153.6 359.70L154.1 359.70L154.1 359.91L154.6 359.91L154.6 359.46L155.1 359.46L155.1 359.40L155.6 359.40L155.6 359.90L156.1 359.90L156.1 359.85L156.6 359.85L156.6 359.82L157.1 359.82L157.1 359.68L157.6 359.68L157.6 359.54L158.1 359.54L158.1 359.54L158.6 359.54L158.6 360.16L159.1 360.16L159.1 359.25L159.6 359.25L159.6 359.95L160.1 359.95L160.1 359.57L160.6 359.57L160.6 360.07L161.1 360.07L161.1 359.51L161.6 359.51L161.6 360.12L162.1 360.12L162.1 359.82L162.6 359.82L162.6 360.23L163.1 360.23L163.1 359.71L163.6 359.71L163.6 360.35L164.1 360.35L164.1 359.80L164.6 359.80L164.6 359.91L165.1 359.91L165.1 360.24L165.6 360.24L165.6 359.60L166.1 359.60L166.1 360.61L166.6 360.61L166.6 359.80L167.1 359.80L167.1 360.13L167.6 360.13L167.6 359.97L168.1 359.97L168.1 359.92L168.6 359.92L168.6 359.92L169.1 359.92L169.1 360.35L169.6 360.35L169.6 360.02L170.1 360.02L170.1 360.19L170.6 360.19L170.6 360.31L171.1 360.31L171.1 360.09L171.6 360.09L171.6 359.98L172.1 359.98L172.1 360.39L172.6 360.39L172.6 360.09L173.1 360.09L173.1 360.39L173.6 360.39L173.6 360.01L174.1 360.01L174.1 360.52L174.6 360.52L174.6 360.52L175.1 360.52L175.1 360.42L175.6 360.42L175.6 360.54L176.1 360.54L176.1 360.30L176.6 360.30L176.6 360.17L177.2 360.17L177.2 360.67L177.7 360.67L177.7 360.54L178.2 360.54L178.2 360.67L178.7 360.67L178.7 360.49L179.2 360.49L179.2 360.47L179.7 360.47L179.7 360.22L180.2 360.22L180.2 360.49L180.7 360.49L180.7 360.71L181.2 360.71L181.2 360.51L181.7 360.51L181.7 360.82L182.2 360.82L182.2 360.78L182.7 360.78L182.7 360.52L183.2 360.52L183.2 361.25L183.7 361.25L183.7 360.77L184.2 360.77L184.2 360.98L184.7 360.98L184.7 360.70L185.2 360.70L185.2 360.52L185.7 360.52L185.7 360.84L186.2 360.84L186.2 360.61L186.7 360.61L186.7 360.87L187.2 360.87L187.2 361.07L187.7 361.07L187.7 360.92L188.2 360.92L188.2 361.03L188.7 361.03L188.7 360.98L189.2 360.98L189.2 360.91L189.7 360.91L189.7 361.16L190.2 361.16L190.2 360.78L190.7 360.78L190.7 361.57L191.2 361.57L191.2 360.60L191.7 360.60L191.7 361.72L192.2 361.72L192.2 361.29L192.7 361.29L192.7 361.19L193.2 361.19L193.2 361.34L193.7 361.34L193.7 361.36L194.2 361.36L194.2 361.08L194.7 361.08L194.7 361.15L195.2 361.15L195.2 361.24L195.7 361.24L195.7 361.24L196.2 361.24L196.2 360.62L196.7 360.62L196.7 361.76L197.2 361.76L197.2 361.22L197.7 361.22L197.7 361.18L198.2 361.18L198.2 361.72L198.7 361.72L198.7 361.55L199.2 361.55L199.2 361.04L199.7 361.04L199.7 360.86L200.2 360.86L200.2 361.21L200.7 361.21L200.7 360.65L201.2 360.65L201.2 361.40L201.7 361.40L201.7 361.04L202.2 361.04L202.2 361.65L202.7 361.65L202.7 361.33L203.2 361.33L203.2 361.70L203.7 361.70L203.7 361.30L204.2 361.30L204.2 361.07L204.7 361.07L204.7 361.65L205.2 361.65L205.2 361.65L205.7 361.65L205.7 361.68L206.2 361.68L206.2 361.20L206.7 361.20L206.7 361.45L207.2 361.45L207.2 361.96L207.7 361.96L207.7 361.66L208.2 361.66L208.2 361.34L208.7 361.34L208.7 361.65L209.2 361.65L209.2 361.83L209.7 361.83L209.7 361.82L210.2 361.82L210.2 361.21L210.7 361.21L210.7 362.35L211.2 362.35L211.2 361.42L211.7 361.42L211.7 361.67L212.2 361.67L212.2 361.47L212.7 361.47L212.7 362.08L213.2 362.08L213.2 361.59L213.7 361.59L213.7 361.60L214.2 361.60L214.2 361.96L214.7 361.96L214.7 361.58L215.2 361.58L215.2 361.79L215.7 361.79L215.7 362.17L216.2 362.17L216.2 361.77L216.7 361.77L216.7 361.63L217.2 361.63L217.2 362.32L217.7 362.32L217.7 361.97L218.2 361.97L218.2 362.30L218.7 362.30L218.7 361.91L219.2 361.91L219.2 362.37L219.7 362.37L219.7 362.21L220.2 362.21L220.2 362.43L220.7 362.43L220.7 361.84L221.2 361.84L221.2 362.49L221.7 362.49L221.7 362.44L222.2 362.44L222.2 362.25L222.7 362.25L222.7 361.96L223.2 361.96L223.2 362.46L223.7 362.46L223.7 361.78L224.2 361.78L224.2 362.16L224.7 362.16L224.7 361.90L225.2 361.90L225.2 362.43L225.7 362.43L225.7 362.38L226.2 362.38L226.2 362.38L226.7 362.38L226.7 362.67L227.2 362.67L227.2 362.39L227.7 362.39L227.7 362.03L228.2 362.03L228.2 362.88L228.7 362.88L228.7 362.67L229.2 362.67L229.2 362.49L229.7 362.49L229.7 362.74L230.2 362.74L230.2 362.45L230.7 362.45L230.7 362.39L231.2 362.39L231.2 362.61L231.7 362.61L231.7 362.83L232.2 362.83L232.2 362.17L232.7 362.17L232.7 362.79L233.2 362.79L233.2 362.66L233.7 362.66L233.7 362.98L234.2 362.98L234.2 362.77L234.7 362.77L234.7 362.60L235.2 362.60L235.2 362.31L235.7 362.31L235.7 362.84L236.2 362.84L236.2 362.64L236.7 362.64L236.7 362.58L237.2 362.58L237.2 362.86L237.7 362.86L237.7 363.00L238.2 363.00L238.2 362.48L238.7 362.48L238.7 362.52L239.2 362.52L239.2 362.99L239.7 362.99L239.7 363.01L240.2 363.01L240.2 362.69L240.7 362.69L240.7 362.99L241.2 362.99L241.2 362.79L241.7 362.79L241.7 362.77L242.2 362.77L242.2 362.88L242.7 362.88L242.7 363.06L243.2 363.06L243.2 363.33L243.7 363.33L243.7 362.89L244.2 362.89L244.2 363.04L244.7 363.04L244.7 362.99L245.2 362.99L245.2 363.02L245.7 363.02L245.7 363.39L246.2 363.39L246.2 363.68L246.7 363.68L246.7 363.31L247.2 363.31L247.2 363.13L247.7 363.13L247.7 363.54L248.2 363.54L248.2 363.27L248.7 363.27L248.7 363.21L249.2 363.21L249.2 363.05L249.7 363.05L249.7 363.70L250.2 363.70L250.2 362.92L250.7 362.92L250.7 363.83L251.2 363.83L251.2 363.19L251.7 363.19L251.7 363.16L252.2 363.16L252.2 363.81L252.7 363.81L252.7 362.93L253.2 362.93L253.2 362.75L253.7 362.75L253.7 363.57L254.2 363.57L254.2 363.57L254.7 363.57L254.7 364.08L255.2 364.08L255.2 363.06L255.7 363.06L255.7 363.10L256.2 363.10L256.2 363.47L256.7 363.47L256.7 363.94L257.2 363.94L257.2 363.41L257.7 363.41L257.7 363.67L258.2 363.67L258.2 363.99L258.7 363.99L258.7 363.79L259.2 363.79L259.2 363.70L259.7 363.70L259.7 363.55L260.2 363.55L260.2 363.27L260.7 363.27L260.7 363.74L261.2 363.74L261.2 363.75L261.7 363.75L261.7 363.50L262.2 363.50L262.2 363.65L262.7 363.65L262.7 363.76L263.2 363.76L263.2 363.74L263.7 363.74L263.7 363.48L264.2 363.48L264.2 363.51L264.7 363.51L264.7 363.69L265.2 363.69L265.2 363.87L265.7 363.87L265.7 363.81L266.2 363.81L266.2 363.80L266.7 363.80L266.7 363.60L267.2 363.60L267.2 363.79L267.7 363.79L267.7 363.80L268.2 363.80L268.2 363.98L268.7 363.98L268.7 363.87L269.2 363.87L269.2 363.84L269.7 363.84L269.7 363.98L270.2 363.98L270.2 363.97L270.7 363.97L270.7 364.48L271.2 364.48L271.2 364.47L271.7 364.47L271.7 364.13L272.2 364.13L272.2 363.98L272.7 363.98L272.7 364.02L273.2 364.02L273.2 364.22L273.7 364.22L273.7 363.96L274.2 363.96L274.2 364.08L274.7 364.08L274.7 364.18L275.2 364.18L275.2 363.92L275.7 363.92L275.7 364.61L276.2 364.61L276.2 364.17L276.7 364.17L276.7 364.51L277.2 364.51L277.2 364.07L277.7 364.07L277.7 363.99L278.2 363.99L278.2 363.94L278.7 363.94L278.7 364.04L279.2 364.04L279.2 364.31L279.7 364.31L279.7 364.22L280.2 364.22L280.2 364.77L280.7 364.77L280.7 364.36L281.2 364.36L281.2 365.12L281.7 365.12L281.7 364.14L282.2 364.14L282.2 364.54L282.7 364.54L282.7 364.74L283.2 364.74L283.2 364.88L283.7 364.88L283.7 364.35L284.2 364.35L284.2 365.26L284.7 365.26L284.7 364.36L285.2 364.36L285.2 364.78L285.7 364.78L285.7 364.06L286.2 364.06L286.2 364.64L286.7 364.64L286.7 364.57L287.2 364.57L287.2 364.50L287.7 364.50L287.7 365.08L288.2 365.08L288.2 365.01L288.7 365.01L288.7 365.13L289.2 365.13L289.2 364.76L289.7 364.76L289.7 364.78L290.2 364.78L290.2 364.55L290.7 364.55L290.7 365.15L291.2 365.15L291.2 364.72L291.7 364.72L291.7 364.91L292.2 364.91L292.2 364.72L292.7 364.72L292.7 365.39L293.2 365.39L293.2 364.58L293.7 364.58L293.7 364.79L294.2 364.79L294.2 365.16L294.7 365.16L294.7 365.22L295.2 365.22L295.2 364.98L295.7 364.98L295.7 364.88L296.2 364.88L296.2 365.18L296.7 365.18L296.7 364.91L297.2 364.91L297.2 364.99L297.7 364.99L297.7 364.60L298.2 364.60L298.2 364.96L298.7 364.96L298.7 364.34L299.2 364.34L299.2 365.56L299.7 365.56L299.7 364.86L300.3 364.86L300.3 365.13L300.8 365.13L300.8 365.20L301.3 365.20L301.3 365.20L301.8 365.20L301.8 365.13L302.3 365.13L302.3 365.35L302.8 365.35L302.8 364.81L303.3 364.81L303.3 365.53L303.8 365.53L303.8 365.59L304.3 365.59L304.3 365.47L304.8 365.47L304.8 365.53L305.3 365.53L305.3 365.29L305.8 365.29L305.8 364.64L306.3 364.64L306.3 365.32L306.8 365.32L306.8 366.18L307.3 366.18L307.3 365.32L307.8 365.32L307.8 365.32L308.3 365.32L308.3 365.13L308.8 365.13L308.8 365.88L309.3 365.88L309.3 364.99L309.8 364.99L309.8 365.36L310.3 365.36L310.3 365.44L310.8 365.44L310.8 365.62L311.3 365.62L311.3 365.49L311.8 365.49L311.8 365.09L312.3 365.09L312.3 365.65L312.8 365.65L312.8 365.29L313.3 365.29L313.3 365.46L313.8 365.46L313.8 365.37L314.3 365.37L314.3 365.31L314.8 365.31L314.8 365.77L315.3 365.77L315.3 365.99L315.8 365.99L315.8 365.84L316.3 365.84L316.3 365.89L316.8 365.89L316.8 365.72L317.3 365.72L317.3 365.36L317.8 365.36L317.8 365.45L318.3 365.45L318.3 365.74L318.8 365.74L318.8 365.66L319.3 365.66L319.3 365.77L319.8 365.77L319.8 365.79L320.3 365.79L320.3 365.65L320.8 365.65L320.8 365.47L321.3 365.47L321.3 365.81L321.8 365.81L321.8 365.57L322.3 365.57L322.3 365.74L322.8 365.74L322.8 366.14L323.3 366.14L323.3 365.97L323.8 365.97L323.8 365.96L324.3 365.96L324.3 365.33L324.8 365.33L324.8 365.65L325.3 365.65L325.3 365.56L325.8 365.56L325.8 365.85L326.3 365.85L326.3 366.20L326.8 366.20L326.8 365.58L327.3 365.58L327.3 365.85L327.8 365.85L327.8 366.04L328.3 366.04L328.3 366.12L328.8 366.12L328.8 366.04L329.3 366.04L329.3 365.58L329.8 365.58L329.8 365.81L330.3 365.81L330.3 365.69L330.8 365.69L330.8 366.21L331.3 366.21L331.3 366.06L331.8 366.06L331.8 365.57L332.3 365.57L332.3 366.16L332.8 366.16L332.8 365.70L333.3 365.70L333.3 366.33L333.8 366.33L333.8 366.67L334.3 366.67L334.3 366.60L334.8 366.60L334.8 366.03L335.3 366.03L335.3 365.96L335.8 365.96L335.8 365.97L336.3 365.97L336.3 366.09L336.8 366.09L336.8 366.69L337.3 366.69L337.3 366.59L337.8 366.59L337.8 365.98L338.3 365.98L338.3 366.22L338.8 366.22L338.8 366.14L339.3 366.14L339.3 366.67L339.8 366.67L339.8 366.47L340.3 366.47L340.3 366.85L340.8 366.85L340.8 366.37L341.3 366.37L341.3 366.58L341.8 366.58L341.8 366.52L342.3 366.52L342.3 366.83L342.8 366.83L342.8 366.70L343.3 366.70L343.3 366.33L343.8 366.33L343.8 366.50L344.3 366.50L344.3 366.39L344.8 366.39L344.8 366.30L345.3 366.30L345.3 366.95L345.8 366.95L345.8 366.64L346.3 366.64L346.3 366.90L346.8 366.90L346.8 366.99L347.3 366.99L347.3 367.23L347.8 367.23L347.8 367.44L348.3 367.44L348.3 367.15L348.8 367.15L348.8 366.99L349.3 366.99L349.3 367.37L349.8 367.37L349.8 367.61L350.3 367.61L350.3 367.46L350.8 367.46L350.8 367.15L351.3 367.15L351.3 367.32L351.8 367.32L351.8 367.87L352.3 367.87L352.3 367.79L352.8 367.79L352.8 368.11L353.3 368.11L353.3 368.00L353.8 368.00L353.8 368.69L354.3 368.69L354.3 369.28L354.8 369.28L354.8 369.58L355.3 369.58L355.3 369.27L355.8 369.27L355.8 370.32L356.3 370.32L356.3 371.01L356.8 371.01L356.8 371.65L357.3 371.65L357.3 372.36L357.8 372.36L357.8 373.68L358.3 373.68L358.3 375.30L358.8 375.30L358.8 376.44L359.3 376.44L359.3 377.95L359.8 377.95L359.8 379.06L360.3 379.06L360.3 380.60L360.8 380.60L360.8 380.60L361.3 380.60L361.3 380.6Z" fill="#1f6bb6"/>
<rect x="116.2" y="352" width="0.6" height="14" fill="#ef7a2c" fill-opacity="0.9"/>
<rect x="117.1" y="354" width="0.6" height="10" fill="#ef7a2c" fill-opacity="0.9"/>
<rect x="118.2" y="353" width="0.6" height="8" fill="#ef7a2c" fill-opacity="0.9"/>
<rect x="119.4" y="355" width="0.6" height="5" fill="#ef7a2c" fill-opacity="0.9"/>
<rect x="120.8" y="354" width="0.6" height="4" fill="#ef7a2c" fill-opacity="0.9"/>
<rect x="122.4" y="355.5" width="0.6" height="6.5" fill="#ef7a2c" fill-opacity="0.9"/>
<rect x="124.5" y="356" width="0.6" height="4" fill="#ef7a2c" fill-opacity="0.9"/>
<rect x="127.5" y="357" width="0.4" height="5.8" fill="#c9a8c0" fill-opacity="0.8"/>
<rect x="131" y="357" width="0.4" height="5.5" fill="#c9a8c0" fill-opacity="0.8"/>
<rect x="136.5" y="357" width="0.4" height="4" fill="#c9a8c0" fill-opacity="0.8"/>
<rect x="143" y="357" width="0.4" height="5.8" fill="#c9a8c0" fill-opacity="0.8"/>
<rect x="152" y="357" width="0.4" height="6.5" fill="#c9a8c0" fill-opacity="0.8"/>
<rect x="187.5" y="357" width="0.4" height="8.7" fill="#c9a8c0" fill-opacity="0.8"/>
<rect x="196" y="357" width="0.4" height="7" fill="#c9a8c0" fill-opacity="0.8"/>
<path d="M361.4 380.6L361.4 380.40L361.9 380.40L361.9 365.88L362.4 365.88L362.4 351.63L362.9 351.63L362.9 338.19L363.4 338.19L363.4 338.54L363.9 338.54L363.9 339.19L364.4 339.19L364.4 343.06L364.9 343.06L364.9 350.47L365.4 350.47L365.4 354.04L365.9 354.04L365.9 356.11L366.4 356.11L366.4 357.10L366.9 357.10L366.9 357.28L367.4 357.28L367.4 357.61L367.9 357.61L367.9 358.00L368.4 358.00L368.4 357.96L368.9 357.96L368.9 358.89L369.4 358.89L369.4 359.02L369.9 359.02L369.9 359.15L370.4 359.15L370.4 359.55L370.9 359.55L370.9 360.31L371.4 360.31L371.4 359.87L371.9 359.87L371.9 360.06L372.4 360.06L372.4 360.11L372.9 360.11L372.9 360.70L373.4 360.70L373.4 360.95L373.9 360.95L373.9 361.30L374.4 361.30L374.4 360.70L374.9 360.70L374.9 361.43L375.4 361.43L375.4 361.80L375.9 361.80L375.9 362.52L376.4 362.52L376.4 362.01L376.9 362.01L376.9 362.34L377.4 362.34L377.4 362.25L377.9 362.25L377.9 362.81L378.4 362.81L378.4 362.83L378.9 362.83L378.9 362.74L379.4 362.74L379.4 363.40L379.9 363.40L379.9 363.25L380.4 363.25L380.4 363.29L380.9 363.29L380.9 363.17L381.4 363.17L381.4 364.12L381.9 364.12L381.9 363.81L382.4 363.81L382.4 364.03L382.9 364.03L382.9 364.40L383.4 364.40L383.4 364.46L383.9 364.46L383.9 364.42L384.4 364.42L384.4 364.73L384.9 364.73L384.9 364.86L385.4 364.86L385.4 364.51L385.9 364.51L385.9 364.70L386.4 364.70L386.4 364.86L386.9 364.86L386.9 365.12L387.4 365.12L387.4 365.30L387.9 365.30L387.9 365.54L388.4 365.54L388.4 365.13L388.9 365.13L388.9 365.63L389.4 365.63L389.4 365.87L389.9 365.87L389.9 365.69L390.4 365.69L390.4 365.48L390.9 365.48L390.9 366.39L391.4 366.39L391.4 365.63L391.9 365.63L391.9 366.09L392.4 366.09L392.4 365.73L392.9 365.73L392.9 365.77L393.4 365.77L393.4 366.03L393.9 366.03L393.9 365.99L394.4 365.99L394.4 366.17L394.9 366.17L394.9 366.18L395.4 366.18L395.4 366.96L395.9 366.96L395.9 366.69L396.4 366.69L396.4 366.33L396.9 366.33L396.9 366.39L397.4 366.39L397.4 366.90L397.9 366.90L397.9 366.74L398.4 366.74L398.4 366.70L398.9 366.70L398.9 367.14L399.4 367.14L399.4 366.50L399.9 366.50L399.9 366.77L400.4 366.77L400.4 366.90L400.9 366.90L400.9 366.78L401.4 366.78L401.4 366.46L401.9 366.46L401.9 366.38L402.4 366.38L402.4 367.30L402.9 367.30L402.9 367.46L403.4 367.46L403.4 367.20L403.9 367.20L403.9 366.87L404.4 366.87L404.4 366.62L404.9 366.62L404.9 366.84L405.4 366.84L405.4 367.29L405.9 367.29L405.9 367.88L406.4 367.88L406.4 367.21L406.9 367.21L406.9 367.44L407.4 367.44L407.4 367.53L407.9 367.53L407.9 367.51L408.4 367.51L408.4 367.37L408.9 367.37L408.9 367.46L409.4 367.46L409.4 367.42L409.9 367.42L409.9 367.56L410.4 367.56L410.4 368.00L410.9 368.00L410.9 367.89L411.4 367.89L411.4 367.67L411.9 367.67L411.9 368.17L412.4 368.17L412.4 367.92L412.9 367.92L412.9 367.71L413.4 367.71L413.4 367.97L413.9 367.97L413.9 367.79L414.4 367.79L414.4 367.82L414.9 367.82L414.9 368.29L415.4 368.29L415.4 367.39L415.9 367.39L415.9 368.31L416.4 368.31L416.4 368.27L416.9 368.27L416.9 368.18L417.4 368.18L417.4 368.70L417.9 368.70L417.9 367.93L418.4 367.93L418.4 368.22L418.9 368.22L418.9 368.43L419.4 368.43L419.4 368.44L419.9 368.44L419.9 368.27L420.4 368.27L420.4 368.52L420.9 368.52L420.9 369.05L421.4 369.05L421.4 368.71L421.9 368.71L421.9 368.82L422.4 368.82L422.4 368.96L422.9 368.96L422.9 368.38L423.4 368.38L423.4 369.00L423.9 369.00L423.9 368.35L424.4 368.35L424.4 369.13L424.9 369.13L424.9 368.48L425.4 368.48L425.4 368.54L425.9 368.54L425.9 369.22L426.4 369.22L426.4 368.56L426.9 368.56L426.9 369.36L427.4 369.36L427.4 369.04L427.9 369.04L427.9 369.44L428.4 369.44L428.4 369.07L428.9 369.07L428.9 369.21L429.4 369.21L429.4 369.02L429.9 369.02L429.9 369.83L430.4 369.83L430.4 369.00L430.9 369.00L430.9 369.57L431.4 369.57L431.4 369.45L431.9 369.45L431.9 369.94L432.4 369.94L432.4 369.25L432.9 369.25L432.9 369.60L433.4 369.60L433.4 369.69L433.9 369.69L433.9 369.64L434.4 369.64L434.4 369.92L434.9 369.92L434.9 369.48L435.4 369.48L435.4 369.72L435.9 369.72L435.9 369.84L436.4 369.84L436.4 369.74L436.9 369.74L436.9 369.68L437.4 369.68L437.4 369.82L437.9 369.82L437.9 370.22L438.4 370.22L438.4 369.87L438.9 369.87L438.9 369.92L439.4 369.92L439.4 370.56L439.9 370.56L439.9 370.39L440.4 370.39L440.4 370.32L440.9 370.32L440.9 370.26L441.4 370.26L441.4 369.62L441.9 369.62L441.9 370.46L442.4 370.46L442.4 370.19L442.9 370.19L442.9 370.18L443.4 370.18L443.4 370.49L443.9 370.49L443.9 370.45L444.4 370.45L444.4 370.58L444.9 370.58L444.9 370.70L445.4 370.70L445.4 370.63L445.9 370.63L445.9 370.57L446.4 370.57L446.4 371.02L446.9 371.02L446.9 370.33L447.4 370.33L447.4 370.53L447.9 370.53L447.9 370.02L448.4 370.02L448.4 370.93L448.9 370.93L448.9 371.05L449.4 371.05L449.4 370.81L449.9 370.81L449.9 371.14L450.4 371.14L450.4 370.99L450.9 370.99L450.9 371.65L451.4 371.65L451.4 371.08L451.9 371.08L451.9 371.20L452.4 371.20L452.4 371.46L452.9 371.46L452.9 371.22L453.4 371.22L453.4 371.09L453.9 371.09L453.9 372.25L454.4 372.25L454.4 371.27L454.9 371.27L454.9 371.30L455.4 371.30L455.4 371.68L455.9 371.68L455.9 371.22L456.4 371.22L456.4 371.28L456.9 371.28L456.9 371.41L457.4 371.41L457.4 372.57L457.9 372.57L457.9 372.14L458.4 372.14L458.4 371.95L458.9 371.95L458.9 371.70L459.4 371.70L459.4 371.84L459.9 371.84L459.9 371.76L460.4 371.76L460.4 372.01L460.9 372.01L460.9 372.13L461.4 372.13L461.4 371.96L461.9 371.96L461.9 372.38L462.4 372.38L462.4 372.53L462.9 372.53L462.9 371.92L463.4 371.92L463.4 372.27L463.9 372.27L463.9 372.75L464.4 372.75L464.4 372.61L464.9 372.61L464.9 372.61L465.4 372.61L465.4 372.90L465.9 372.90L465.9 372.80L466.4 372.80L466.4 371.88L466.9 371.88L466.9 373.08L467.4 373.08L467.4 373.02L467.9 373.02L467.9 373.62L468.4 373.62L468.4 373.60L468.9 373.60L468.9 372.82L469.4 372.82L469.4 373.04L469.9 373.04L469.9 373.15L470.4 373.15L470.4 372.81L470.9 372.81L470.9 373.28L471.4 373.28L471.4 373.71L471.9 373.71L471.9 373.62L472.4 373.62L472.4 372.88L472.9 372.88L472.9 373.61L473.4 373.61L473.4 373.47L473.9 373.47L473.9 373.66L474.4 373.66L474.4 373.62L474.9 373.62L474.9 373.56L475.4 373.56L475.4 373.82L475.9 373.82L475.9 373.93L476.4 373.93L476.4 374.12L476.9 374.12L476.9 373.95L477.4 373.95L477.4 374.32L477.9 374.32L477.9 374.19L478.4 374.19L478.4 373.92L478.9 373.92L478.9 374.49L479.4 374.49L479.4 373.62L479.9 373.62L479.9 374.39L480.4 374.39L480.4 374.49L480.9 374.49L480.9 374.64L481.4 374.64L481.4 374.11L481.9 374.11L481.9 374.45L482.4 374.45L482.4 374.18L482.9 374.18L482.9 374.38L483.4 374.38L483.4 374.64L483.9 374.64L483.9 374.41L484.4 374.41L484.4 375.44L484.9 375.44L484.9 375.01L485.4 375.01L485.4 375.14L485.9 375.14L485.9 375.03L486.4 375.03L486.4 375.42L486.9 375.42L486.9 375.49L487.4 375.49L487.4 375.65L487.9 375.65L487.9 375.44L488.4 375.44L488.4 374.76L488.9 374.76L488.9 375.63L489.4 375.63L489.4 375.71L489.9 375.71L489.9 375.24L490.4 375.24L490.4 375.70L490.9 375.70L490.9 375.72L491.4 375.72L491.4 376.43L491.9 376.43L491.9 376.74L492.4 376.74L492.4 376.02L492.9 376.02L492.9 376.72L493.4 376.72L493.4 377.06L493.9 377.06L493.9 377.18L494.4 377.18L494.4 377.81L494.9 377.81L494.9 378.56L495.4 378.56L495.4 378.82L495.9 378.82L495.9 378.98L496.4 378.98L496.4 380.6Z" fill="#2c9f45"/>
<rect x="361.8" y="327.0" width="0.8" height="22" fill="#e58a84"/>
<rect x="381" y="327.0" width="0.5" height="8" fill="#f2a3a0" fill-opacity="0.8"/>
<rect x="409.5" y="327.0" width="0.5" height="5" fill="#f2a3a0" fill-opacity="0.8"/>
<rect x="64.9" y="327.0" width="0.7" height="53.60000000000002" fill="#2f262c" fill-opacity="0.88"/>
<rect x="115.2" y="327.0" width="0.7" height="53.60000000000002" fill="#2f262c" fill-opacity="0.88"/>
<rect x="360.4" y="327.0" width="1.2" height="53.60000000000002" fill="#2f262c" fill-opacity="0.88"/>
</g>
<g id="kg">
<rect x="35.5" y="390.1" width="184.5" height="53.3" fill="#cd78b1"/>
<rect x="220" y="390.1" width="183.3" height="53.3" fill="#7c5545"/>
<rect x="403.3" y="390.1" width="35.1" height="53.3" fill="#2c9f45"/>
<rect x="438.4" y="390.1" width="56.9" height="53.3" fill="#d62526"/>
<path d="M35.5 443.4L35.5 440.40L36 440.40L36 440.44L36.5 440.44L36.5 440.49L37 440.49L37 440.53L37.5 440.53L37.5 440.58L38 440.58L38 440.62L38.5 440.62L38.5 440.67L39 440.67L39 440.71L39.6 440.71L39.6 440.76L40.1 440.76L40.1 440.80L40.6 440.80L40.6 440.84L41.1 440.84L41.1 440.89L41.6 440.89L41.6 440.93L42.1 440.93L42.1 440.98L42.6 440.98L42.6 441.02L43.1 441.02L43.1 441.07L43.6 441.07L43.6 441.11L44.1 441.11L44.1 441.16L44.6 441.16L44.6 441.20L45.1 441.20L45.1 441.24L45.6 441.24L45.6 441.29L46.1 441.29L46.1 441.33L46.7 441.33L46.7 441.38L47.2 441.38L47.2 441.42L47.7 441.42L47.7 441.47L48.2 441.47L48.2 441.51L48.7 441.51L48.7 441.56L49.2 441.56L49.2 441.60L49.7 441.60L49.7 441.64L50.2 441.64L50.2 441.69L50.7 441.69L50.7 441.73L51.2 441.73L51.2 441.78L51.7 441.78L51.7 441.82L52.2 441.82L52.2 441.87L52.7 441.87L52.7 441.91L53.2 441.91L53.2 441.96L53.8 441.96L53.8 443.4Z" fill="#3a5a78"/>
<path d="M35.5 443.4L35.5 441.40L36 441.40L36 441.43L36.5 441.43L36.5 441.47L37 441.47L37 441.50L37.5 441.50L37.5 441.53L38 441.53L38 441.57L38.5 441.57L38.5 441.60L39 441.60L39 441.63L39.6 441.63L39.6 441.67L40.1 441.67L40.1 441.70L40.6 441.70L40.6 441.73L41.1 441.73L41.1 441.77L41.6 441.77L41.6 441.80L42.1 441.80L42.1 441.83L42.6 441.83L42.6 441.87L43.1 441.87L43.1 441.90L43.6 441.90L43.6 441.93L44.1 441.93L44.1 441.97L44.6 441.97L44.6 442.00L45.1 442.00L45.1 442.03L45.6 442.03L45.6 442.07L46.1 442.07L46.1 442.10L46.7 442.10L46.7 442.13L47.2 442.13L47.2 442.17L47.7 442.17L47.7 442.20L48.2 442.20L48.2 442.23L48.7 442.23L48.7 442.27L49.2 442.27L49.2 442.30L49.7 442.30L49.7 442.33L50.2 442.33L50.2 442.37L50.7 442.37L50.7 442.40L51.2 442.40L51.2 442.43L51.7 442.43L51.7 442.47L52.2 442.47L52.2 442.50L52.7 442.50L52.7 442.53L53.2 442.53L53.2 442.57L53.8 442.57L53.8 443.4Z" fill="#1f6bb6"/>
<path d="M53.8 443.4L53.8 442.60L54.2 442.60L54.2 442.61L54.8 442.61L54.8 442.62L55.2 442.62L55.2 442.62L55.8 442.62L55.8 442.63L56.2 442.63L56.2 442.64L56.8 442.64L56.8 442.65L57.2 442.65L57.2 442.66L57.8 442.66L57.8 442.67L58.2 442.67L58.2 442.68L58.8 442.68L58.8 442.68L59.2 442.68L59.2 442.69L59.8 442.69L59.8 442.70L60.2 442.70L60.2 442.71L60.8 442.71L60.8 442.72L61.2 442.72L61.2 442.73L61.8 442.73L61.8 442.73L62.2 442.73L62.2 442.74L62.8 442.74L62.8 442.75L63.2 442.75L63.2 442.76L63.8 442.76L63.8 442.77L64.2 442.77L64.2 442.77L64.8 442.77L64.8 442.78L65.2 442.78L65.2 442.79L65.8 442.79L65.8 442.80L66.2 442.80L66.2 442.81L66.8 442.81L66.8 442.82L67.2 442.82L67.2 442.82L67.8 442.82L67.8 442.83L68.2 442.83L68.2 442.84L68.8 442.84L68.8 442.85L69.2 442.85L69.2 442.86L69.8 442.86L69.8 442.87L70.2 442.87L70.2 442.88L70.8 442.88L70.8 442.88L71.2 442.88L71.2 442.89L71.8 442.89L71.8 443.4Z" fill="#9a6a8a"/>
<path d="M107.5 443.4L107.5 441.60L108 441.60L108 441.62L108.5 441.62L108.5 441.63L109 441.63L109 441.65L109.5 441.65L109.5 441.66L110 441.66L110 441.68L110.5 441.68L110.5 441.69L111 441.69L111 441.71L111.5 441.71L111.5 441.72L112 441.72L112 441.74L112.5 441.74L112.5 441.75L113.1 441.75L113.1 441.76L113.6 441.76L113.6 441.78L114.1 441.78L114.1 441.80L114.6 441.80L114.6 441.81L115.1 441.81L115.1 441.82L115.6 441.82L115.6 441.84L116.1 441.84L116.1 441.86L116.6 441.86L116.6 441.87L117.1 441.87L117.1 441.88L117.6 441.88L117.6 441.90L118.1 441.90L118.1 441.92L118.6 441.92L118.6 441.93L119.1 441.93L119.1 441.94L119.6 441.94L119.6 441.96L120.1 441.96L120.1 441.98L120.6 441.98L120.6 441.99L121.1 441.99L121.1 442.00L121.6 442.00L121.6 442.02L122.1 442.02L122.1 442.04L122.7 442.04L122.7 442.05L123.2 442.05L123.2 442.06L123.7 442.06L123.7 442.08L124.2 442.08L124.2 442.09L124.7 442.09L124.7 442.11L125.2 442.11L125.2 442.12L125.7 442.12L125.7 442.14L126.2 442.14L126.2 442.15L126.7 442.15L126.7 442.17L127.2 442.17L127.2 442.19L127.7 442.19L127.7 443.4Z" fill="#8a6a7a"/>
<path d="M107.5 443.4L107.5 442.20L108 442.20L108 442.21L108.5 442.21L108.5 442.22L109 442.22L109 442.24L109.5 442.24L109.5 442.25L110 442.25L110 442.26L110.5 442.26L110.5 442.27L111 442.27L111 442.29L111.5 442.29L111.5 442.30L112 442.30L112 442.31L112.5 442.31L112.5 442.32L113.1 442.32L113.1 442.34L113.6 442.34L113.6 442.35L114.1 442.35L114.1 442.36L114.6 442.36L114.6 442.38L115.1 442.38L115.1 442.39L115.6 442.39L115.6 442.40L116.1 442.40L116.1 442.41L116.6 442.41L116.6 442.43L117.1 442.43L117.1 442.44L117.6 442.44L117.6 442.45L118.1 442.45L118.1 442.46L118.6 442.46L118.6 442.47L119.1 442.47L119.1 442.49L119.6 442.49L119.6 442.50L120.1 442.50L120.1 442.51L120.6 442.51L120.6 442.52L121.1 442.52L121.1 442.54L121.6 442.54L121.6 442.55L122.1 442.55L122.1 442.56L122.7 442.56L122.7 442.57L123.2 442.57L123.2 442.59L123.7 442.59L123.7 442.60L124.2 442.60L124.2 442.61L124.7 442.61L124.7 442.62L125.2 442.62L125.2 442.64L125.7 442.64L125.7 442.65L126.2 442.65L126.2 442.66L126.7 442.66L126.7 442.68L127.2 442.68L127.2 442.69L127.7 442.69L127.7 443.4Z" fill="#1f6bb6"/>
<path d="M127.7 443.4L127.7 422.95L128.2 422.95L128.2 426.05L128.7 426.05L128.7 428.55L129.2 428.55L129.2 430.16L129.8 430.16L129.8 432.45L130.3 432.45L130.3 433.94L130.8 433.94L130.8 434.83L131.3 434.83L131.3 435.31L131.8 435.31L131.8 435.82L132.3 435.82L132.3 437.19L132.8 437.19L132.8 438.22L133.4 438.22L133.4 438.53L133.9 438.53L133.9 438.01L134.4 438.01L134.4 439.12L134.9 439.12L134.9 438.94L135.4 438.94L135.4 439.01L135.9 439.01L135.9 439.32L136.4 439.32L136.4 439.75L137 439.75L137 439.76L137.5 439.76L137.5 439.76L138 439.76L138 439.93L138.5 439.93L138.5 440.57L139 440.57L139 440.20L139.5 440.20L139.5 439.71L140 439.71L140 439.95L140.6 439.95L140.6 440.75L141.1 440.75L141.1 440.30L141.6 440.30L141.6 440.35L142.1 440.35L142.1 440.89L142.6 440.89L142.6 441.00L143.1 441.00L143.1 441.02L143.6 441.02L143.6 440.72L144.2 440.72L144.2 440.72L144.7 440.72L144.7 441.24L145.2 441.24L145.2 441.08L145.7 441.08L145.7 443.4Z" fill="#7c5545"/>
<path d="M127.7 443.4L127.7 440.73L128.2 440.73L128.2 440.51L128.7 440.51L128.7 440.55L129.2 440.55L129.2 440.80L129.8 440.80L129.8 441.22L130.3 441.22L130.3 441.01L130.8 441.01L130.8 441.43L131.3 441.43L131.3 441.35L131.8 441.35L131.8 441.67L132.3 441.67L132.3 441.78L132.8 441.78L132.8 441.71L133.4 441.71L133.4 441.71L133.9 441.71L133.9 441.77L134.4 441.77L134.4 442.22L134.9 442.22L134.9 442.26L135.4 442.26L135.4 442.02L135.9 442.02L135.9 442.22L136.4 442.22L136.4 441.79L137 441.79L137 441.85L137.5 441.85L137.5 442.03L138 442.03L138 442.00L138.5 442.00L138.5 441.81L139 441.81L139 441.91L139.5 441.91L139.5 442.12L140 442.12L140 442.19L140.6 442.19L140.6 442.24L141.1 442.24L141.1 442.36L141.6 442.36L141.6 442.13L142.1 442.13L142.1 442.07L142.6 442.07L142.6 442.31L143.1 442.31L143.1 442.31L143.6 442.31L143.6 442.39L144.2 442.39L144.2 442.49L144.7 442.49L144.7 442.35L145.2 442.35L145.2 442.62L145.7 442.62L145.7 443.4Z" fill="#1f6bb6"/>
<path d="M145.7 443.4L145.7 419.64L146.2 419.64L146.2 422.74L146.7 422.74L146.7 424.80L147.2 424.80L147.2 427.58L147.7 427.58L147.7 429.57L148.2 429.57L148.2 430.85L148.7 430.85L148.7 431.91L149.2 431.91L149.2 433.30L149.7 433.30L149.7 434.11L150.2 434.11L150.2 434.40L150.7 434.40L150.7 435.63L151.2 435.63L151.2 436.57L151.7 436.57L151.7 437.27L152.2 437.27L152.2 436.94L152.7 436.94L152.7 438.58L153.2 438.58L153.2 438.55L153.7 438.55L153.7 438.97L154.2 438.97L154.2 438.98L154.7 438.98L154.7 439.28L155.2 439.28L155.2 440.30L155.7 440.30L155.7 440.49L156.2 440.49L156.2 440.15L156.7 440.15L156.7 441.45L157.2 441.45L157.2 443.4Z" fill="#7c5545"/>
<path d="M145.7 443.4L145.7 435.89L146.2 435.89L146.2 436.75L146.7 436.75L146.7 436.87L147.2 436.87L147.2 437.69L147.7 437.69L147.7 438.18L148.2 438.18L148.2 439.13L148.7 439.13L148.7 439.17L149.2 439.17L149.2 440.08L149.7 440.08L149.7 440.02L150.2 440.02L150.2 440.09L150.7 440.09L150.7 440.58L151.2 440.58L151.2 440.84L151.7 440.84L151.7 440.60L152.2 440.60L152.2 441.43L152.7 441.43L152.7 440.90L153.2 440.90L153.2 441.15L153.7 441.15L153.7 441.30L154.2 441.30L154.2 441.45L154.7 441.45L154.7 441.98L155.2 441.98L155.2 441.35L155.7 441.35L155.7 442.20L156.2 442.20L156.2 441.68L156.7 441.68L156.7 442.55L157.2 442.55L157.2 443.4Z" fill="#d9703a"/>
<path d="M145.7 443.4L145.7 439.89L146.2 439.89L146.2 440.35L146.7 440.35L146.7 440.23L147.2 440.23L147.2 440.76L147.7 440.76L147.7 440.45L148.2 440.45L148.2 440.92L148.7 440.92L148.7 441.29L149.2 441.29L149.2 441.59L149.7 441.59L149.7 442.02L150.2 442.02L150.2 442.02L150.7 442.02L150.7 442.26L151.2 442.26L151.2 441.85L151.7 441.85L151.7 441.81L152.2 441.81L152.2 442.46L152.7 442.46L152.7 441.98L153.2 441.98L153.2 442.19L153.7 442.19L153.7 442.55L154.2 442.55L154.2 442.21L154.7 442.21L154.7 442.44L155.2 442.44L155.2 442.60L155.7 442.60L155.7 442.95L156.2 442.95L156.2 442.46L156.7 442.46L156.7 442.50L157.2 442.50L157.2 443.4Z" fill="#1f6bb6"/>
<path d="M157.2 443.4L157.2 396.81L157.7 396.81L157.7 391.50L158.2 391.50L158.2 392.61L158.7 392.61L158.7 397.39L159.2 397.39L159.2 389.33L159.8 389.33L159.8 391.35L160.3 391.35L160.3 393.92L160.8 393.92L160.8 395.58L161.3 395.58L161.3 391.37L161.8 391.37L161.8 395.90L162.3 395.90L162.3 394.51L162.8 394.51L162.8 391.95L163.3 391.95L163.3 396.53L163.9 396.53L163.9 396.73L164.4 396.73L164.4 393.57L164.9 393.57L164.9 395.75L165.4 395.75L165.4 396.36L165.9 396.36L165.9 395.47L166.4 395.47L166.4 392.97L166.9 392.97L166.9 392.19L167.4 392.19L167.4 391.01L167.9 391.01L167.9 395.81L168.5 395.81L168.5 392.88L169 392.88L169 394.73L169.5 394.73L169.5 392.20L170 392.20L170 397.87L170.5 397.87L170.5 397.58L171 397.58L171 394.71L171.5 394.71L171.5 397.09L172 397.09L172 393.34L172.6 393.34L172.6 393.68L173.1 393.68L173.1 392.90L173.6 392.90L173.6 396.65L174.1 396.65L174.1 394.00L174.6 394.00L174.6 443.4Z" fill="#7c5545"/>
<path d="M157.2 443.4L157.2 421.58L157.7 421.58L157.7 419.34L158.2 419.34L158.2 417.81L158.7 417.81L158.7 407.14L159.2 407.14L159.2 409.82L159.8 409.82L159.8 406.96L160.3 406.96L160.3 408.98L160.8 408.98L160.8 407.59L161.3 407.59L161.3 407.44L161.8 407.44L161.8 414.04L162.3 414.04L162.3 406.32L162.8 406.32L162.8 409.49L163.3 409.49L163.3 407.09L163.9 407.09L163.9 405.42L164.4 405.42L164.4 409.00L164.9 409.00L164.9 409.97L165.4 409.97L165.4 409.82L165.9 409.82L165.9 408.08L166.4 408.08L166.4 409.35L166.9 409.35L166.9 405.82L167.4 405.82L167.4 404.74L167.9 404.74L167.9 404.88L168.5 404.88L168.5 407.10L169 407.10L169 408.41L169.5 408.41L169.5 407.70L170 407.70L170 400.49L170.5 400.49L170.5 408.41L171 408.41L171 404.93L171.5 404.93L171.5 404.48L172 404.48L172 408.81L172.6 408.81L172.6 402.61L173.1 402.61L173.1 403.52L173.6 403.52L173.6 401.84L174.1 401.84L174.1 402.35L174.6 402.35L174.6 443.4Z" fill="#f6821f"/>
<path d="M157.2 443.4L157.2 433.46L157.7 433.46L157.7 435.63L158.2 435.63L158.2 432.98L158.7 432.98L158.7 433.67L159.2 433.67L159.2 435.09L159.8 435.09L159.8 431.46L160.3 431.46L160.3 431.56L160.8 431.56L160.8 430.92L161.3 430.92L161.3 431.36L161.8 431.36L161.8 431.16L162.3 431.16L162.3 430.83L162.8 430.83L162.8 431.88L163.3 431.88L163.3 428.75L163.9 428.75L163.9 430.42L164.4 430.42L164.4 429.69L164.9 429.69L164.9 429.63L165.4 429.63L165.4 427.89L165.9 427.89L165.9 430.02L166.4 430.02L166.4 427.22L166.9 427.22L166.9 427.95L167.4 427.95L167.4 429.92L167.9 429.92L167.9 430.65L168.5 430.65L168.5 427.68L169 427.68L169 426.94L169.5 426.94L169.5 424.37L170 424.37L170 426.51L170.5 426.51L170.5 425.03L171 425.03L171 427.07L171.5 427.07L171.5 425.56L172 425.56L172 426.90L172.6 426.90L172.6 424.66L173.1 424.66L173.1 424.02L173.6 424.02L173.6 425.52L174.1 425.52L174.1 425.63L174.6 425.63L174.6 443.4Z" fill="#1f6bb6"/>
<path d="M174.6 443.4L174.6 391.60L175.1 391.60L175.1 393.12L175.6 393.12L175.6 394.75L176.1 394.75L176.1 391.01L176.6 391.01L176.6 390.33L177.1 390.33L177.1 393.84L177.6 393.84L177.6 390.80L178.1 390.80L178.1 393.32L178.6 393.32L178.6 391.77L179.1 391.77L179.1 392.45L179.6 392.45L179.6 393.15L180.1 393.15L180.1 392.43L180.7 392.43L180.7 391.66L181.2 391.66L181.2 396.01L181.7 396.01L181.7 391.19L182.2 391.19L182.2 391.67L182.7 391.67L182.7 391.34L183.2 391.34L183.2 392.12L183.7 392.12L183.7 392.42L184.2 392.42L184.2 389.56L184.7 389.56L184.7 392.93L185.2 392.93L185.2 393.11L185.7 393.11L185.7 389.46L186.2 389.46L186.2 443.4Z" fill="#7c5545"/>
<path d="M174.6 443.4L174.6 414.49L175.1 414.49L175.1 413.37L175.6 413.37L175.6 412.92L176.1 412.92L176.1 408.89L176.6 408.89L176.6 412.25L177.1 412.25L177.1 411.43L177.6 411.43L177.6 410.12L178.1 410.12L178.1 410.62L178.6 410.62L178.6 410.11L179.1 410.11L179.1 409.98L179.6 409.98L179.6 407.98L180.1 407.98L180.1 404.89L180.7 404.89L180.7 405.93L181.2 405.93L181.2 406.71L181.7 406.71L181.7 402.07L182.2 402.07L182.2 401.75L182.7 401.75L182.7 404.00L183.2 404.00L183.2 402.40L183.7 402.40L183.7 400.54L184.2 400.54L184.2 398.76L184.7 398.76L184.7 400.11L185.2 400.11L185.2 399.33L185.7 399.33L185.7 399.34L186.2 399.34L186.2 443.4Z" fill="#f6821f"/>
<path d="M174.6 443.4L174.6 432.54L175.1 432.54L175.1 433.88L175.6 433.88L175.6 434.99L176.1 434.99L176.1 433.76L176.6 433.76L176.6 435.27L177.1 435.27L177.1 435.63L177.6 435.63L177.6 437.03L178.1 437.03L178.1 435.82L178.6 435.82L178.6 434.98L179.1 434.98L179.1 435.47L179.6 435.47L179.6 436.89L180.1 436.89L180.1 436.69L180.7 436.69L180.7 436.46L181.2 436.46L181.2 438.08L181.7 438.08L181.7 440.50L182.2 440.50L182.2 438.62L182.7 438.62L182.7 439.28L183.2 439.28L183.2 440.35L183.7 440.35L183.7 440.74L184.2 440.74L184.2 441.58L184.7 441.58L184.7 441.27L185.2 441.27L185.2 442.41L185.7 442.41L185.7 440.68L186.2 440.68L186.2 443.4Z" fill="#1f6bb6"/>
<path d="M186.2 443.4L186.2 396.10L186.7 396.10L186.7 397.02L187.2 397.02L187.2 398.86L187.7 398.86L187.7 399.29L188.2 399.29L188.2 396.10L188.7 396.10L188.7 398.09L189.2 398.09L189.2 400.67L189.7 400.67L189.7 398.59L190.2 398.59L190.2 398.73L190.7 398.73L190.7 395.57L191.2 395.57L191.2 400.37L191.7 400.37L191.7 396.45L192.2 396.45L192.2 400.98L192.7 400.98L192.7 396.01L193.2 396.01L193.2 397.87L193.7 397.87L193.7 400.95L194.2 400.95L194.2 398.28L194.7 398.28L194.7 401.70L195.2 401.70L195.2 397.96L195.7 397.96L195.7 403.70L196.3 403.70L196.3 401.79L196.8 401.79L196.8 400.27L197.3 400.27L197.3 395.89L197.8 395.89L197.8 398.76L198.3 398.76L198.3 403.46L198.8 403.46L198.8 398.27L199.3 398.27L199.3 395.67L199.8 395.67L199.8 403.63L200.3 403.63L200.3 396.73L200.8 396.73L200.8 402.53L201.3 402.53L201.3 407.41L201.8 407.41L201.8 399.77L202.3 399.77L202.3 397.35L202.8 397.35L202.8 402.05L203.3 402.05L203.3 401.60L203.8 401.60L203.8 401.26L204.3 401.26L204.3 399.79L204.8 399.79L204.8 402.51L205.3 402.51L205.3 399.07L205.8 399.07L205.8 443.4Z" fill="#7c5545"/>
<path d="M186.2 443.4L186.2 419.17L186.7 419.17L186.7 420.49L187.2 420.49L187.2 422.81L187.7 422.81L187.7 414.25L188.2 414.25L188.2 420.04L188.7 420.04L188.7 415.55L189.2 415.55L189.2 415.47L189.7 415.47L189.7 421.24L190.2 421.24L190.2 419.29L190.7 419.29L190.7 418.18L191.2 418.18L191.2 416.34L191.7 416.34L191.7 416.20L192.2 416.20L192.2 414.83L192.7 414.83L192.7 418.54L193.2 418.54L193.2 416.78L193.7 416.78L193.7 414.57L194.2 414.57L194.2 412.93L194.7 412.93L194.7 413.61L195.2 413.61L195.2 414.21L195.7 414.21L195.7 414.05L196.3 414.05L196.3 416.76L196.8 416.76L196.8 413.57L197.3 413.57L197.3 412.34L197.8 412.34L197.8 417.11L198.3 417.11L198.3 414.87L198.8 414.87L198.8 412.55L199.3 412.55L199.3 413.13L199.8 413.13L199.8 414.98L200.3 414.98L200.3 411.10L200.8 411.10L200.8 412.32L201.3 412.32L201.3 411.87L201.8 411.87L201.8 411.31L202.3 411.31L202.3 416.12L202.8 416.12L202.8 413.46L203.3 413.46L203.3 409.36L203.8 409.36L203.8 410.25L204.3 410.25L204.3 411.37L204.8 411.37L204.8 409.47L205.3 409.47L205.3 410.70L205.8 410.70L205.8 443.4Z" fill="#f6821f"/>
<path d="M186.2 443.4L186.2 430.15L186.7 430.15L186.7 431.59L187.2 431.59L187.2 431.75L187.7 431.75L187.7 428.17L188.2 428.17L188.2 432.11L188.7 432.11L188.7 431.82L189.2 431.82L189.2 430.72L189.7 430.72L189.7 431.03L190.2 431.03L190.2 430.72L190.7 430.72L190.7 428.22L191.2 428.22L191.2 428.58L191.7 428.58L191.7 431.84L192.2 431.84L192.2 430.00L192.7 430.00L192.7 430.21L193.2 430.21L193.2 425.43L193.7 425.43L193.7 427.65L194.2 427.65L194.2 426.85L194.7 426.85L194.7 425.84L195.2 425.84L195.2 426.65L195.7 426.65L195.7 429.40L196.3 429.40L196.3 429.44L196.8 429.44L196.8 428.41L197.3 428.41L197.3 425.25L197.8 425.25L197.8 426.67L198.3 426.67L198.3 425.68L198.8 425.68L198.8 425.47L199.3 425.47L199.3 423.50L199.8 423.50L199.8 427.98L200.3 427.98L200.3 430.40L200.8 430.40L200.8 424.34L201.3 424.34L201.3 426.01L201.8 426.01L201.8 424.50L202.3 424.50L202.3 425.31L202.8 425.31L202.8 422.79L203.3 422.79L203.3 424.64L203.8 424.64L203.8 426.05L204.3 426.05L204.3 424.91L204.8 424.91L204.8 426.12L205.3 426.12L205.3 423.63L205.8 423.63L205.8 443.4Z" fill="#1f6bb6"/>
<path d="M205.8 443.4L205.8 392.58L206.3 392.58L206.3 392.46L206.8 392.46L206.8 390.44L207.3 390.44L207.3 391.01L207.8 391.01L207.8 391.82L208.3 391.82L208.3 391.58L208.8 391.58L208.8 392.29L209.4 392.29L209.4 391.51L209.9 391.51L209.9 391.58L210.4 391.58L210.4 391.96L210.9 391.96L210.9 390.91L211.4 390.91L211.4 390.61L211.9 390.61L211.9 391.95L212.4 391.95L212.4 391.62L212.9 391.62L212.9 390.91L213.4 390.91L213.4 391.12L213.9 391.12L213.9 392.47L214.4 392.47L214.4 392.73L214.9 392.73L214.9 392.39L215.4 392.39L215.4 392.68L215.9 392.68L215.9 391.53L216.5 391.53L216.5 391.86L217 391.86L217 390.22L217.5 390.22L217.5 391.25L218 391.25L218 391.03L218.5 391.03L218.5 390.61L219 390.61L219 390.76L219.5 390.76L219.5 392.38L220 392.38L220 443.4Z" fill="#7c5545"/>
<path d="M205.8 443.4L205.8 420.91L206.3 420.91L206.3 417.58L206.8 417.58L206.8 417.27L207.3 417.27L207.3 415.32L207.8 415.32L207.8 413.74L208.3 413.74L208.3 413.22L208.8 413.22L208.8 411.00L209.4 411.00L209.4 409.68L209.9 409.68L209.9 409.18L210.4 409.18L210.4 408.70L210.9 408.70L210.9 407.14L211.4 407.14L211.4 405.69L211.9 405.69L211.9 404.91L212.4 404.91L212.4 403.32L212.9 403.32L212.9 402.20L213.4 402.20L213.4 401.27L213.9 401.27L213.9 400.31L214.4 400.31L214.4 400.09L214.9 400.09L214.9 400.39L215.4 400.39L215.4 398.23L215.9 398.23L215.9 396.46L216.5 396.46L216.5 395.51L217 395.51L217 394.87L217.5 394.87L217.5 395.76L218 395.76L218 393.55L218.5 393.55L218.5 390.84L219 390.84L219 392.56L219.5 392.56L219.5 391.94L220 391.94L220 443.4Z" fill="#f6821f"/>
<path d="M205.8 443.4L205.8 434.50L206.3 434.50L206.3 435.85L206.8 435.85L206.8 436.76L207.3 436.76L207.3 436.87L207.8 436.87L207.8 438.64L208.3 438.64L208.3 438.64L208.8 438.64L208.8 438.75L209.4 438.75L209.4 439.61L209.9 439.61L209.9 440.47L210.4 440.47L210.4 440.06L210.9 440.06L210.9 440.77L211.4 440.77L211.4 440.81L211.9 440.81L211.9 440.83L212.4 440.83L212.4 441.66L212.9 441.66L212.9 442.03L213.4 442.03L213.4 441.44L213.9 441.44L213.9 442.19L214.4 442.19L214.4 442.30L214.9 442.30L214.9 442.12L215.4 442.12L215.4 442.21L215.9 442.21L215.9 442.35L216.5 442.35L216.5 442.44L217 442.44L217 442.43L217.5 442.43L217.5 441.64L218 441.64L218 442.85L218.5 442.85L218.5 443.33L219 443.33L219 442.63L219.5 442.63L219.5 443.01L220 443.01L220 443.4Z" fill="#1f6bb6"/>
<path d="M220 443.4L220 412.88L220.5 412.88L220.5 412.72L221 412.72L221 413.09L221.5 413.09L221.5 412.78L222 412.78L222 412.74L222.5 412.74L222.5 413.05L223 413.05L223 413.36L223.5 413.36L223.5 413.06L224 413.06L224 413.04L224.5 413.04L224.5 412.98L225 412.98L225 412.93L225.5 412.93L225.5 412.52L226 412.52L226 412.88L226.5 412.88L226.5 413.17L227 413.17L227 412.67L227.5 412.67L227.5 413.09L228 413.09L228 412.72L228.5 412.72L228.5 413.52L229 413.52L229 413.07L229.5 413.07L229.5 413.23L230 413.23L230 412.98L230.6 412.98L230.6 412.99L231.1 412.99L231.1 413.47L231.6 413.47L231.6 412.75L232.1 412.75L232.1 413.17L232.6 413.17L232.6 413.52L233.1 413.52L233.1 413.53L233.6 413.53L233.6 413.28L234.1 413.28L234.1 413.14L234.6 413.14L234.6 413.76L235.1 413.76L235.1 414.03L235.6 414.03L235.6 414.31L236.1 414.31L236.1 414.08L236.6 414.08L236.6 414.25L237.1 414.25L237.1 414.28L237.6 414.28L237.6 414.11L238.1 414.11L238.1 413.75L238.6 413.75L238.6 414.04L239.1 414.04L239.1 414.31L239.6 414.31L239.6 414.39L240.1 414.39L240.1 414.57L240.6 414.57L240.6 443.4Z" fill="#a07ab4"/>
<path d="M220 443.4L220 418.22L220.5 418.22L220.5 418.31L221 418.31L221 418.18L221.5 418.18L221.5 418.23L222 418.23L222 418.36L222.5 418.36L222.5 418.28L223 418.28L223 417.24L223.5 417.24L223.5 418.21L224 418.21L224 418.07L224.5 418.07L224.5 418.17L225 418.17L225 417.90L225.5 417.90L225.5 417.47L226 417.47L226 418.05L226.5 418.05L226.5 417.16L227 417.16L227 417.40L227.5 417.40L227.5 417.09L228 417.09L228 416.90L228.5 416.90L228.5 417.47L229 417.47L229 417.28L229.5 417.28L229.5 417.47L230 417.47L230 417.15L230.6 417.15L230.6 416.30L231.1 416.30L231.1 416.83L231.6 416.83L231.6 417.12L232.1 417.12L232.1 417.18L232.6 417.18L232.6 417.10L233.1 417.10L233.1 417.22L233.6 417.22L233.6 416.55L234.1 416.55L234.1 416.63L234.6 416.63L234.6 416.57L235.1 416.57L235.1 416.64L235.6 416.64L235.6 416.87L236.1 416.87L236.1 416.90L236.6 416.90L236.6 416.67L237.1 416.67L237.1 416.01L237.6 416.01L237.6 416.43L238.1 416.43L238.1 416.55L238.6 416.55L238.6 416.37L239.1 416.37L239.1 416.54L239.6 416.54L239.6 416.33L240.1 416.33L240.1 416.53L240.6 416.53L240.6 443.4Z" fill="#1f6bb6"/>
<path d="M240.6 443.4L240.6 417.69L241.1 417.69L241.1 417.68L241.6 417.68L241.6 417.51L242.1 417.51L242.1 418.11L242.6 418.11L242.6 417.77L243.1 417.77L243.1 417.77L243.6 417.77L243.6 418.24L244.2 418.24L244.2 418.66L244.7 418.66L244.7 418.76L245.2 418.76L245.2 418.22L245.7 418.22L245.7 418.29L246.2 418.29L246.2 418.66L246.7 418.66L246.7 419.02L247.2 419.02L247.2 418.77L247.7 418.77L247.7 419.10L248.2 419.10L248.2 418.79L248.7 418.79L248.7 419.35L249.2 419.35L249.2 419.26L249.7 419.26L249.7 419.46L250.2 419.46L250.2 419.37L250.8 419.37L250.8 419.79L251.3 419.79L251.3 419.51L251.8 419.51L251.8 419.94L252.3 419.94L252.3 420.03L252.8 420.03L252.8 419.82L253.3 419.82L253.3 420.12L253.8 420.12L253.8 420.40L254.3 420.40L254.3 419.80L254.8 419.80L254.8 420.49L255.3 420.49L255.3 420.37L255.8 420.37L255.8 420.64L256.3 420.64L256.3 420.72L256.8 420.72L256.8 421.20L257.4 421.20L257.4 420.57L257.9 420.57L257.9 420.48L258.4 420.48L258.4 421.20L258.9 421.20L258.9 421.14L259.4 421.14L259.4 421.64L259.9 421.64L259.9 421.09L260.4 421.09L260.4 443.4Z" fill="#86aecb"/>
<path d="M240.6 443.4L240.6 418.55L241.1 418.55L241.1 418.48L241.6 418.48L241.6 418.84L242.1 418.84L242.1 418.71L242.6 418.71L242.6 419.57L243.1 419.57L243.1 419.27L243.6 419.27L243.6 419.22L244.2 419.22L244.2 418.85L244.7 418.85L244.7 419.67L245.2 419.67L245.2 418.84L245.7 418.84L245.7 419.88L246.2 419.88L246.2 419.78L246.7 419.78L246.7 420.09L247.2 420.09L247.2 420.04L247.7 420.04L247.7 420.00L248.2 420.00L248.2 419.87L248.7 419.87L248.7 420.21L249.2 420.21L249.2 420.12L249.7 420.12L249.7 420.40L250.2 420.40L250.2 420.78L250.8 420.78L250.8 420.82L251.3 420.82L251.3 420.53L251.8 420.53L251.8 420.91L252.3 420.91L252.3 420.73L252.8 420.73L252.8 420.88L253.3 420.88L253.3 421.06L253.8 421.06L253.8 420.99L254.3 420.99L254.3 421.19L254.8 421.19L254.8 421.63L255.3 421.63L255.3 421.50L255.8 421.50L255.8 421.39L256.3 421.39L256.3 421.62L256.8 421.62L256.8 421.69L257.4 421.69L257.4 421.90L257.9 421.90L257.9 421.73L258.4 421.73L258.4 422.06L258.9 422.06L258.9 422.41L259.4 422.41L259.4 422.40L259.9 422.40L259.9 422.34L260.4 422.34L260.4 443.4Z" fill="#1f6bb6"/>
<path d="M260.4 443.4L260.4 426.40L260.9 426.40L260.9 426.44L261.4 426.44L261.4 426.90L261.9 426.90L261.9 426.72L262.4 426.72L262.4 426.65L262.9 426.65L262.9 426.85L263.4 426.85L263.4 426.77L263.9 426.77L263.9 427.35L264.4 427.35L264.4 427.51L264.9 427.51L264.9 427.17L265.4 427.17L265.4 427.50L265.9 427.50L265.9 427.55L266.4 427.55L266.4 427.77L266.9 427.77L266.9 427.80L267.4 427.80L267.4 428.06L267.9 428.06L267.9 428.33L268.4 428.33L268.4 428.24L269 428.24L269 428.52L269.5 428.52L269.5 428.41L270 428.41L270 428.94L270.5 428.94L270.5 428.16L271 428.16L271 428.83L271.5 428.83L271.5 429.12L272 429.12L272 428.75L272.5 428.75L272.5 429.27L273 429.27L273 428.82L273.5 428.82L273.5 429.69L274 429.69L274 429.55L274.5 429.55L274.5 429.60L275 429.60L275 429.61L275.5 429.61L275.5 429.97L276 429.97L276 430.30L276.5 430.30L276.5 430.21L277 430.21L277 443.4Z" fill="#8aa0b8"/>
<path d="M260.4 443.4L260.4 427.23L260.9 427.23L260.9 427.45L261.4 427.45L261.4 427.79L261.9 427.79L261.9 427.44L262.4 427.44L262.4 427.93L262.9 427.93L262.9 427.99L263.4 427.99L263.4 427.94L263.9 427.94L263.9 427.96L264.4 427.96L264.4 428.44L264.9 428.44L264.9 428.05L265.4 428.05L265.4 428.53L265.9 428.53L265.9 428.75L266.4 428.75L266.4 428.64L266.9 428.64L266.9 429.04L267.4 429.04L267.4 429.11L267.9 429.11L267.9 428.79L268.4 428.79L268.4 429.08L269 429.08L269 429.20L269.5 429.20L269.5 429.05L270 429.05L270 429.56L270.5 429.56L270.5 429.40L271 429.40L271 429.65L271.5 429.65L271.5 429.91L272 429.91L272 429.65L272.5 429.65L272.5 429.65L273 429.65L273 430.30L273.5 430.30L273.5 430.22L274 430.22L274 430.59L274.5 430.59L274.5 430.27L275 430.27L275 430.60L275.5 430.60L275.5 430.63L276 430.63L276 430.66L276.5 430.66L276.5 431.07L277 431.07L277 443.4Z" fill="#1f6bb6"/>
<path d="M277 443.4L277 426.76L277.5 426.76L277.5 426.81L278 426.81L278 426.82L278.5 426.82L278.5 427.60L279 427.60L279 427.25L279.5 427.25L279.5 427.75L280 427.75L280 427.46L280.5 427.46L280.5 427.68L281 427.68L281 427.87L281.5 427.87L281.5 428.16L282.1 428.16L282.1 427.70L282.6 427.70L282.6 427.98L283.1 427.98L283.1 428.19L283.6 428.19L283.6 428.45L284.1 428.45L284.1 428.47L284.6 428.47L284.6 428.23L285.1 428.23L285.1 428.54L285.6 428.54L285.6 428.88L286.1 428.88L286.1 428.60L286.6 428.60L286.6 429.39L287.1 429.39L287.1 428.56L287.6 428.56L287.6 428.51L288.1 428.51L288.1 429.23L288.6 429.23L288.6 429.25L289.1 429.25L289.1 429.09L289.6 429.09L289.6 429.54L290.1 429.54L290.1 429.78L290.6 429.78L290.6 429.63L291.2 429.63L291.2 429.94L291.7 429.94L291.7 429.98L292.2 429.98L292.2 429.93L292.7 429.93L292.7 430.18L293.2 430.18L293.2 430.51L293.7 430.51L293.7 431.30L294.2 431.30L294.2 432.16L294.7 432.16L294.7 432.86L295.2 432.86L295.2 434.58L295.7 434.58L295.7 443.4Z" fill="#8aa0b8"/>
<path d="M277 443.4L277 427.65L277.5 427.65L277.5 427.48L278 427.48L278 427.93L278.5 427.93L278.5 428.05L279 428.05L279 428.22L279.5 428.22L279.5 428.53L280 428.53L280 428.44L280.5 428.44L280.5 428.51L281 428.51L281 428.28L281.5 428.28L281.5 428.40L282.1 428.40L282.1 429.02L282.6 429.02L282.6 428.59L283.1 428.59L283.1 429.23L283.6 429.23L283.6 429.01L284.1 429.01L284.1 429.06L284.6 429.06L284.6 429.65L285.1 429.65L285.1 429.55L285.6 429.55L285.6 429.62L286.1 429.62L286.1 429.54L286.6 429.54L286.6 429.65L287.1 429.65L287.1 429.73L287.6 429.73L287.6 430.24L288.1 430.24L288.1 430.20L288.6 430.20L288.6 429.89L289.1 429.89L289.1 430.18L289.6 430.18L289.6 430.45L290.1 430.45L290.1 430.40L290.6 430.40L290.6 430.30L291.2 430.30L291.2 430.70L291.7 430.70L291.7 430.73L292.2 430.73L292.2 430.74L292.7 430.74L292.7 431.17L293.2 431.17L293.2 431.46L293.7 431.46L293.7 432.31L294.2 432.31L294.2 433.03L294.7 433.03L294.7 433.96L295.2 433.96L295.2 435.28L295.7 435.28L295.7 443.4Z" fill="#1f6bb6"/>
<path d="M295.7 443.4L295.7 436.49L296.2 436.49L296.2 437.24L296.7 437.24L296.7 437.61L297.2 437.61L297.2 438.30L297.7 438.30L297.7 438.48L298.2 438.48L298.2 438.83L298.7 438.83L298.7 439.04L299.2 439.04L299.2 439.24L299.7 439.24L299.7 439.52L300.2 439.52L300.2 439.80L300.7 439.80L300.7 439.97L301.2 439.97L301.2 439.84L301.7 439.84L301.7 439.63L302.2 439.63L302.2 440.15L302.7 440.15L302.7 440.31L303.2 440.31L303.2 439.99L303.7 439.99L303.7 440.39L304.2 440.39L304.2 440.44L304.8 440.44L304.8 440.14L305.3 440.14L305.3 440.48L305.8 440.48L305.8 440.60L306.3 440.60L306.3 440.27L306.8 440.27L306.8 440.67L307.3 440.67L307.3 440.36L307.8 440.36L307.8 440.27L308.3 440.27L308.3 440.84L308.8 440.84L308.8 440.58L309.3 440.58L309.3 440.47L309.8 440.47L309.8 440.55L310.3 440.55L310.3 440.85L310.8 440.85L310.8 440.78L311.3 440.78L311.3 440.68L311.8 440.68L311.8 440.85L312.3 440.85L312.3 441.27L312.8 441.27L312.8 440.91L313.3 440.91L313.3 443.4Z" fill="#b6a64e"/>
<path d="M295.7 443.4L295.7 440.26L296.2 440.26L296.2 440.82L296.7 440.82L296.7 440.63L297.2 440.63L297.2 441.24L297.7 441.24L297.7 441.18L298.2 441.18L298.2 441.28L298.7 441.28L298.7 441.46L299.2 441.46L299.2 441.88L299.7 441.88L299.7 442.03L300.2 442.03L300.2 441.84L300.7 441.84L300.7 442.10L301.2 442.10L301.2 442.30L301.7 442.30L301.7 442.16L302.2 442.16L302.2 442.36L302.7 442.36L302.7 442.26L303.2 442.26L303.2 442.43L303.7 442.43L303.7 442.22L304.2 442.22L304.2 442.14L304.8 442.14L304.8 442.71L305.3 442.71L305.3 442.46L305.8 442.46L305.8 442.43L306.3 442.43L306.3 442.27L306.8 442.27L306.8 442.43L307.3 442.43L307.3 442.35L307.8 442.35L307.8 442.58L308.3 442.58L308.3 442.72L308.8 442.72L308.8 443.08L309.3 443.08L309.3 442.69L309.8 442.69L309.8 442.51L310.3 442.51L310.3 442.60L310.8 442.60L310.8 442.69L311.3 442.69L311.3 442.70L311.8 442.70L311.8 442.45L312.3 442.45L312.3 442.92L312.8 442.92L312.8 442.94L313.3 442.94L313.3 443.4Z" fill="#5f8f6a"/>
<path d="M313.3 443.4L313.3 405.65L313.8 405.65L313.8 403.89L314.3 403.89L314.3 400.96L314.8 400.96L314.8 400.43L315.3 400.43L315.3 400.20L315.8 400.20L315.8 398.68L316.3 398.68L316.3 398.23L316.8 398.23L316.8 398.21L317.3 398.21L317.3 397.74L317.8 397.74L317.8 396.72L318.3 396.72L318.3 396.60L318.8 396.60L318.8 396.96L319.3 396.96L319.3 396.32L319.8 396.32L319.8 395.58L320.3 395.58L320.3 394.82L320.8 394.82L320.8 395.43L321.3 395.43L321.3 395.34L321.8 395.34L321.8 394.86L322.4 394.86L322.4 394.78L322.9 394.78L322.9 394.49L323.4 394.49L323.4 394.10L323.9 394.10L323.9 394.17L324.4 394.17L324.4 393.95L324.9 393.95L324.9 394.07L325.4 394.07L325.4 393.76L325.9 393.76L325.9 393.84L326.4 393.84L326.4 393.02L326.9 393.02L326.9 393.30L327.4 393.30L327.4 393.12L327.9 393.12L327.9 393.78L328.4 393.78L328.4 393.07L328.9 393.07L328.9 392.97L329.4 392.97L329.4 393.12L329.9 393.12L329.9 392.52L330.4 392.52L330.4 393.09L330.9 393.09L330.9 392.77L331.4 392.77L331.4 443.4Z" fill="#8f69ab"/>
<path d="M313.3 443.4L313.3 434.57L313.8 434.57L313.8 435.28L314.3 435.28L314.3 435.89L314.8 435.89L314.8 435.89L315.3 435.89L315.3 436.33L315.8 436.33L315.8 437.14L316.3 437.14L316.3 437.67L316.8 437.67L316.8 437.55L317.3 437.55L317.3 438.30L317.8 438.30L317.8 438.91L318.3 438.91L318.3 438.90L318.8 438.90L318.8 438.81L319.3 438.81L319.3 439.09L319.8 439.09L319.8 439.27L320.3 439.27L320.3 440.72L320.8 440.72L320.8 440.91L321.3 440.91L321.3 440.45L321.8 440.45L321.8 441.86L322.4 441.86L322.4 441.34L322.9 441.34L322.9 441.34L323.4 441.34L323.4 441.42L323.9 441.42L323.9 441.55L324.4 441.55L324.4 442.03L324.9 442.03L324.9 442.77L325.4 442.77L325.4 441.95L325.9 441.95L325.9 442.89L326.4 442.89L326.4 441.73L326.9 441.73L326.9 442.41L327.4 442.41L327.4 443.05L327.9 443.05L327.9 442.38L328.4 442.38L328.4 442.40L328.9 442.40L328.9 442.88L329.4 442.88L329.4 442.84L329.9 442.84L329.9 442.91L330.4 442.91L330.4 443.07L330.9 443.07L330.9 442.87L331.4 442.87L331.4 443.4Z" fill="#8a7a6a"/>
<path d="M313.3 443.4L313.3 436.59L313.8 436.59L313.8 436.62L314.3 436.62L314.3 437.11L314.8 437.11L314.8 437.44L315.3 437.44L315.3 438.10L315.8 438.10L315.8 438.54L316.3 438.54L316.3 438.71L316.8 438.71L316.8 439.58L317.3 439.58L317.3 439.88L317.8 439.88L317.8 440.04L318.3 440.04L318.3 440.61L318.8 440.61L318.8 440.97L319.3 440.97L319.3 440.96L319.8 440.96L319.8 440.98L320.3 440.98L320.3 440.98L320.8 440.98L320.8 441.91L321.3 441.91L321.3 441.96L321.8 441.96L321.8 442.87L322.4 442.87L322.4 442.77L322.9 442.77L322.9 442.92L323.4 442.92L323.4 442.12L323.9 442.12L323.9 442.80L324.4 442.80L324.4 442.95L324.9 442.95L324.9 442.67L325.4 442.67L325.4 443.04L325.9 443.04L325.9 443.40L326.4 443.40L326.4 442.87L326.9 442.87L326.9 443.40L327.4 443.40L327.4 443.40L327.9 443.40L327.9 442.55L328.4 442.55L328.4 443.40L328.9 443.40L328.9 443.40L329.4 443.40L329.4 443.40L329.9 443.40L329.9 443.11L330.4 443.11L330.4 443.40L330.9 443.40L330.9 443.04L331.4 443.04L331.4 443.4Z" fill="#1f6bb6"/>
<path d="M331.4 443.4L331.4 401.41L331.9 401.41L331.9 399.81L332.4 399.81L332.4 399.33L332.9 399.33L332.9 398.30L333.4 398.30L333.4 397.82L333.9 397.82L333.9 397.36L334.4 397.36L334.4 396.94L335 396.94L335 396.24L335.5 396.24L335.5 395.91L336 395.91L336 396.12L336.5 396.12L336.5 395.31L337 395.31L337 395.29L337.5 395.29L337.5 395.22L338 395.22L338 394.46L338.5 394.46L338.5 394.17L339 394.17L339 394.14L339.5 394.14L339.5 394.46L340 394.46L340 393.61L340.5 393.61L340.5 393.63L341.1 393.63L341.1 393.65L341.6 393.65L341.6 393.22L342.1 393.22L342.1 393.42L342.6 393.42L342.6 393.21L343.1 393.21L343.1 393.15L343.6 393.15L343.6 392.90L344.1 392.90L344.1 393.11L344.6 393.11L344.6 392.69L345.1 392.69L345.1 392.67L345.6 392.67L345.6 392.09L346.1 392.09L346.1 392.60L346.6 392.60L346.6 392.55L347.2 392.55L347.2 392.23L347.7 392.23L347.7 392.23L348.2 392.23L348.2 391.95L348.7 391.95L348.7 391.73L349.2 391.73L349.2 391.73L349.7 391.73L349.7 443.4Z" fill="#8f69ab"/>
<path d="M331.4 443.4L331.4 438.60L331.9 438.60L331.9 439.41L332.4 439.41L332.4 439.68L332.9 439.68L332.9 439.99L333.4 439.99L333.4 440.62L333.9 440.62L333.9 440.63L334.4 440.63L334.4 440.55L335 440.55L335 441.06L335.5 441.06L335.5 441.53L336 441.53L336 441.77L336.5 441.77L336.5 441.58L337 441.58L337 442.04L337.5 442.04L337.5 442.17L338 442.17L338 442.04L338.5 442.04L338.5 442.45L339 442.45L339 442.42L339.5 442.42L339.5 442.55L340 442.55L340 442.85L340.5 442.85L340.5 442.48L341.1 442.48L341.1 443.25L341.6 443.25L341.6 443.10L342.1 443.10L342.1 442.71L342.6 442.71L342.6 442.94L343.1 442.94L343.1 443.04L343.6 443.04L343.6 443.15L344.1 443.15L344.1 443.06L344.6 443.06L344.6 442.82L345.1 442.82L345.1 442.98L345.6 442.98L345.6 443.21L346.1 443.21L346.1 443.05L346.6 443.05L346.6 442.93L347.2 442.93L347.2 443.14L347.7 443.14L347.7 443.10L348.2 443.10L348.2 443.03L348.7 443.03L348.7 443.15L349.2 443.15L349.2 443.40L349.7 443.40L349.7 443.4Z" fill="#9fb4d4"/>
<path d="M349.7 443.4L349.7 392.47L350.2 392.47L350.2 392.83L350.7 392.83L350.7 392.99L351.2 392.99L351.2 392.65L351.7 392.65L351.7 391.99L352.2 391.99L352.2 392.59L352.7 392.59L352.7 392.44L353.3 392.44L353.3 391.95L353.8 391.95L353.8 392.58L354.3 392.58L354.3 392.52L354.8 392.52L354.8 392.00L355.3 392.00L355.3 392.27L355.8 392.27L355.8 392.16L356.3 392.16L356.3 392.04L356.8 392.04L356.8 392.18L357.3 392.18L357.3 391.68L357.8 391.68L357.8 392.07L358.3 392.07L358.3 391.79L358.8 391.79L358.8 392.21L359.4 392.21L359.4 391.59L359.9 391.59L359.9 392.01L360.4 392.01L360.4 391.69L360.9 391.69L360.9 391.76L361.4 391.76L361.4 392.10L361.9 392.10L361.9 391.43L362.4 391.43L362.4 391.45L362.9 391.45L362.9 391.72L363.4 391.72L363.4 391.22L363.9 391.22L363.9 391.36L364.4 391.36L364.4 390.96L364.9 390.96L364.9 391.42L365.5 391.42L365.5 391.11L366 391.11L366 391.09L366.5 391.09L366.5 390.94L367 390.94L367 390.96L367.5 390.96L367.5 390.73L368 390.73L368 391.34L368.5 391.34L368.5 443.4Z" fill="#8f69ab"/>
<path d="M349.7 443.4L349.7 441.86L350.2 441.86L350.2 441.92L350.7 441.92L350.7 442.12L351.2 442.12L351.2 442.01L351.7 442.01L351.7 442.18L352.2 442.18L352.2 442.24L352.7 442.24L352.7 442.19L353.3 442.19L353.3 442.11L353.8 442.11L353.8 441.95L354.3 441.95L354.3 442.20L354.8 442.20L354.8 441.80L355.3 441.80L355.3 442.25L355.8 442.25L355.8 442.24L356.3 442.24L356.3 442.00L356.8 442.00L356.8 441.95L357.3 441.95L357.3 442.18L357.8 442.18L357.8 442.23L358.3 442.23L358.3 442.26L358.8 442.26L358.8 442.03L359.4 442.03L359.4 442.06L359.9 442.06L359.9 442.43L360.4 442.43L360.4 442.30L360.9 442.30L360.9 442.16L361.4 442.16L361.4 442.05L361.9 442.05L361.9 442.26L362.4 442.26L362.4 442.03L362.9 442.03L362.9 442.59L363.4 442.59L363.4 442.06L363.9 442.06L363.9 442.23L364.4 442.23L364.4 442.27L364.9 442.27L364.9 442.19L365.5 442.19L365.5 442.01L366 442.01L366 442.31L366.5 442.31L366.5 442.35L367 442.35L367 442.41L367.5 442.41L367.5 442.18L368 442.18L368 442.16L368.5 442.16L368.5 443.4Z" fill="#b0a4b4"/>
<path d="M368.5 443.4L368.5 391.44L369 391.44L369 391.27L369.5 391.27L369.5 391.27L370 391.27L370 391.11L370.5 391.11L370.5 391.40L371 391.40L371 391.27L371.5 391.27L371.5 391.08L372.1 391.08L372.1 391.46L372.6 391.46L372.6 391.41L373.1 391.41L373.1 391.25L373.6 391.25L373.6 391.42L374.1 391.42L374.1 390.98L374.6 390.98L374.6 391.24L375.1 391.24L375.1 391.13L375.6 391.13L375.6 390.93L376.1 390.93L376.1 391.02L376.6 391.02L376.6 391.16L377.1 391.16L377.1 391.02L377.6 391.02L377.6 391.38L378.2 391.38L378.2 391.01L378.7 391.01L378.7 391.10L379.2 391.10L379.2 391.17L379.7 391.17L379.7 391.07L380.2 391.07L380.2 391.34L380.7 391.34L380.7 390.81L381.2 390.81L381.2 391.41L381.7 391.41L381.7 391.06L382.2 391.06L382.2 391.25L382.7 391.25L382.7 391.15L383.2 391.15L383.2 390.95L383.7 390.95L383.7 391.36L384.3 391.36L384.3 391.31L384.8 391.31L384.8 391.28L385.3 391.28L385.3 391.39L385.8 391.39L385.8 391.07L386.3 391.07L386.3 390.87L386.8 390.87L386.8 391.56L387.3 391.56L387.3 443.4Z" fill="#8f69ab"/>
<path d="M368.5 443.4L368.5 441.78L369 441.78L369 441.81L369.5 441.81L369.5 441.89L370 441.89L370 441.95L370.5 441.95L370.5 442.03L371 442.03L371 441.97L371.5 441.97L371.5 441.78L372.1 441.78L372.1 442.15L372.6 442.15L372.6 441.98L373.1 441.98L373.1 442.13L373.6 442.13L373.6 441.90L374.1 441.90L374.1 442.19L374.6 442.19L374.6 441.97L375.1 441.97L375.1 442.14L375.6 442.14L375.6 442.16L376.1 442.16L376.1 442.19L376.6 442.19L376.6 442.04L377.1 442.04L377.1 442.32L377.6 442.32L377.6 442.07L378.2 442.07L378.2 442.15L378.7 442.15L378.7 442.37L379.2 442.37L379.2 441.95L379.7 441.95L379.7 442.39L380.2 442.39L380.2 442.21L380.7 442.21L380.7 442.24L381.2 442.24L381.2 442.17L381.7 442.17L381.7 442.26L382.2 442.26L382.2 442.26L382.7 442.26L382.7 442.28L383.2 442.28L383.2 442.44L383.7 442.44L383.7 442.40L384.3 442.40L384.3 442.37L384.8 442.37L384.8 442.25L385.3 442.25L385.3 442.20L385.8 442.20L385.8 442.26L386.3 442.26L386.3 442.46L386.8 442.46L386.8 442.10L387.3 442.10L387.3 443.4Z" fill="#b0a4b4"/>
<path d="M387.3 443.4L387.3 392.86L387.8 392.86L387.8 393.16L388.3 393.16L388.3 392.94L388.8 392.94L388.8 393.14L389.3 393.14L389.3 392.36L389.8 392.36L389.8 392.78L390.3 392.78L390.3 392.55L390.8 392.55L390.8 392.52L391.3 392.52L391.3 392.70L391.8 392.70L391.8 392.54L392.3 392.54L392.3 392.68L392.8 392.68L392.8 392.44L393.3 392.44L393.3 392.87L393.8 392.87L393.8 393.16L394.3 393.16L394.3 392.94L394.8 392.94L394.8 392.90L395.3 392.90L395.3 392.68L395.8 392.68L395.8 392.91L396.3 392.91L396.3 392.60L396.8 392.60L396.8 392.65L397.3 392.65L397.3 392.57L397.8 392.57L397.8 392.63L398.3 392.63L398.3 392.33L398.8 392.33L398.8 392.93L399.3 392.93L399.3 392.44L399.8 392.44L399.8 392.71L400.3 392.71L400.3 392.75L400.8 392.75L400.8 392.52L401.3 392.52L401.3 393.03L401.8 393.03L401.8 393.02L402.3 393.02L402.3 392.52L402.8 392.52L402.8 392.44L403.3 392.44L403.3 443.4Z" fill="#8f69ab"/>
<path d="M387.3 443.4L387.3 434.33L387.8 434.33L387.8 434.36L388.3 434.36L388.3 434.35L388.8 434.35L388.8 434.25L389.3 434.25L389.3 434.98L389.8 434.98L389.8 434.23L390.3 434.23L390.3 434.30L390.8 434.30L390.8 434.61L391.3 434.61L391.3 434.73L391.8 434.73L391.8 434.66L392.3 434.66L392.3 435.03L392.8 435.03L392.8 435.19L393.3 435.19L393.3 435.59L393.8 435.59L393.8 434.81L394.3 434.81L394.3 435.52L394.8 435.52L394.8 435.77L395.3 435.77L395.3 435.38L395.8 435.38L395.8 435.51L396.3 435.51L396.3 435.26L396.8 435.26L396.8 436.05L397.3 436.05L397.3 436.33L397.8 436.33L397.8 435.78L398.3 435.78L398.3 435.91L398.8 435.91L398.8 435.83L399.3 435.83L399.3 436.55L399.8 436.55L399.8 436.73L400.3 436.73L400.3 436.33L400.8 436.33L400.8 436.16L401.3 436.16L401.3 436.27L401.8 436.27L401.8 437.16L402.3 437.16L402.3 437.31L402.8 437.31L402.8 436.83L403.3 436.83L403.3 443.4Z" fill="#d8607a"/>
<path d="M387.3 443.4L387.3 435.30L387.8 435.30L387.8 435.54L388.3 435.54L388.3 435.25L388.8 435.25L388.8 435.10L389.3 435.10L389.3 435.78L389.8 435.78L389.8 435.47L390.3 435.47L390.3 436.08L390.8 436.08L390.8 436.33L391.3 436.33L391.3 435.55L391.8 435.55L391.8 436.12L392.3 436.12L392.3 435.92L392.8 435.92L392.8 435.98L393.3 435.98L393.3 436.06L393.8 436.06L393.8 435.97L394.3 435.97L394.3 436.59L394.8 436.59L394.8 436.52L395.3 436.52L395.3 436.57L395.8 436.57L395.8 437.10L396.3 437.10L396.3 436.53L396.8 436.53L396.8 436.77L397.3 436.77L397.3 437.10L397.8 437.10L397.8 436.95L398.3 436.95L398.3 437.10L398.8 437.10L398.8 437.71L399.3 437.71L399.3 436.93L399.8 436.93L399.8 437.24L400.3 437.24L400.3 437.72L400.8 437.72L400.8 437.56L401.3 437.56L401.3 437.89L401.8 437.89L401.8 437.69L402.3 437.69L402.3 437.73L402.8 437.73L402.8 437.66L403.3 437.66L403.3 443.4Z" fill="#2c9f45"/>
<path d="M420.8 390.1H432.2L427.2 392.1L420.8 392.5Z" fill="#94708a"/>
<path d="M438.4 443.4L438.4 399.61L438.9 399.61L438.9 399.07L439.4 399.07L439.4 399.70L439.9 399.70L439.9 399.43L440.4 399.43L440.4 399.19L441 399.19L441 399.24L441.5 399.24L441.5 399.64L442 399.64L442 399.38L442.5 399.38L442.5 398.84L443 398.84L443 399.33L443.5 399.33L443.5 399.25L444 399.25L444 398.84L444.5 398.84L444.5 398.93L445 398.93L445 398.74L445.6 398.74L445.6 398.78L446.1 398.78L446.1 399.41L446.6 399.41L446.6 398.88L447.1 398.88L447.1 398.81L447.6 398.81L447.6 398.78L448.1 398.78L448.1 398.67L448.6 398.67L448.6 398.37L449.1 398.37L449.1 398.19L449.6 398.19L449.6 398.04L450.1 398.04L450.1 397.74L450.7 397.74L450.7 397.31L451.2 397.31L451.2 397.54L451.7 397.54L451.7 397.19L452.2 397.19L452.2 396.80L452.7 396.80L452.7 396.78L453.2 396.78L453.2 396.13L453.7 396.13L453.7 396.02L454.2 396.02L454.2 395.34L454.7 395.34L454.7 395.25L455.3 395.25L455.3 395.25L455.8 395.25L455.8 395.01L456.3 395.01L456.3 394.20L456.8 394.20L456.8 393.89L457.3 393.89L457.3 443.4Z" fill="#2c9f45"/>
<path d="M457.3 443.4L457.3 408.16L457.8 408.16L457.8 408.27L458.3 408.27L458.3 407.56L458.8 407.56L458.8 408.08L459.3 408.08L459.3 408.03L459.8 408.03L459.8 407.87L460.3 407.87L460.3 407.74L460.8 407.74L460.8 407.85L461.3 407.85L461.3 407.76L461.8 407.76L461.8 407.34L462.3 407.34L462.3 407.23L462.8 407.23L462.8 406.93L463.3 406.93L463.3 407.38L463.8 407.38L463.8 407.41L464.3 407.41L464.3 407.14L464.8 407.14L464.8 406.74L465.3 406.74L465.3 406.51L465.8 406.51L465.8 406.35L466.3 406.35L466.3 406.26L466.8 406.26L466.8 405.95L467.3 405.95L467.3 405.46L467.8 405.46L467.8 405.62L468.3 405.62L468.3 405.14L468.8 405.14L468.8 404.26L469.3 404.26L469.3 403.95L469.8 403.95L469.8 403.32L470.3 403.32L470.3 402.70L470.8 402.70L470.8 402.39L471.3 402.39L471.3 402.08L471.8 402.08L471.8 401.36L472.3 401.36L472.3 401.64L472.8 401.64L472.8 400.43L473.3 400.43L473.3 400.14L473.8 400.14L473.8 399.92L474.3 399.92L474.3 398.83L474.8 398.83L474.8 398.97L475.3 398.97L475.3 398.03L475.8 398.03L475.8 397.77L476.3 397.77L476.3 443.4Z" fill="#2c9f45"/>
<path d="M476.3 443.4L476.3 421.63L476.8 421.63L476.8 422.61L477.3 422.61L477.3 423.62L477.8 423.62L477.8 424.28L478.3 424.28L478.3 425.14L478.8 425.14L478.8 425.19L479.3 425.19L479.3 425.48L479.8 425.48L479.8 425.63L480.3 425.63L480.3 426.81L480.8 426.81L480.8 426.59L481.3 426.59L481.3 427.07L481.8 427.07L481.8 426.87L482.3 426.87L482.3 427.23L482.8 427.23L482.8 427.60L483.3 427.60L483.3 427.47L483.8 427.47L483.8 427.11L484.3 427.11L484.3 427.77L484.8 427.77L484.8 427.73L485.3 427.73L485.3 428.00L485.8 428.00L485.8 427.89L486.3 427.89L486.3 427.83L486.8 427.83L486.8 428.26L487.3 428.26L487.3 428.64L487.8 428.64L487.8 428.58L488.3 428.58L488.3 428.39L488.8 428.39L488.8 428.45L489.3 428.45L489.3 428.86L489.8 428.86L489.8 428.72L490.3 428.72L490.3 428.76L490.8 428.76L490.8 429.63L491.3 429.63L491.3 429.51L491.8 429.51L491.8 429.74L492.3 429.74L492.3 429.04L492.8 429.04L492.8 429.82L493.3 429.82L493.3 430.01L493.8 430.01L493.8 429.64L494.3 429.64L494.3 430.17L494.8 430.17L494.8 430.38L495.3 430.38L495.3 443.4Z" fill="#2c9f45"/>
<rect x="53.5" y="390.1" width="0.6" height="53.3" fill="#2a1d22" fill-opacity="0.75"/>
<rect x="71.5" y="390.1" width="0.6" height="53.3" fill="#2a1d22" fill-opacity="0.75"/>
<rect x="91" y="390.1" width="0.6" height="53.3" fill="#2a1d22" fill-opacity="0.75"/>
<rect x="107.2" y="390.1" width="0.6" height="53.3" fill="#2a1d22" fill-opacity="0.75"/>
<rect x="127.4" y="390.1" width="0.6" height="53.3" fill="#2a1d22" fill-opacity="0.75"/>
<rect x="145.4" y="390.1" width="0.6" height="53.3" fill="#2a1d22" fill-opacity="0.75"/>
<rect x="156.9" y="390.1" width="0.6" height="53.3" fill="#2a1d22" fill-opacity="0.75"/>
<rect x="174.3" y="390.1" width="0.6" height="53.3" fill="#2a1d22" fill-opacity="0.75"/>
<rect x="185.9" y="390.1" width="0.6" height="53.3" fill="#2a1d22" fill-opacity="0.75"/>
<rect x="205.5" y="390.1" width="0.6" height="53.3" fill="#2a1d22" fill-opacity="0.75"/>
<rect x="219.7" y="390.1" width="0.6" height="53.3" fill="#2a1d22" fill-opacity="0.75"/>
<rect x="240.3" y="390.1" width="0.6" height="53.3" fill="#2a1d22" fill-opacity="0.75"/>
<rect x="260.1" y="390.1" width="0.6" height="53.3" fill="#2a1d22" fill-opacity="0.75"/>
<rect x="276.7" y="390.1" width="0.6" height="53.3" fill="#2a1d22" fill-opacity="0.75"/>
<rect x="295.4" y="390.1" width="0.6" height="53.3" fill="#2a1d22" fill-opacity="0.75"/>
<rect x="313" y="390.1" width="0.6" height="53.3" fill="#2a1d22" fill-opacity="0.75"/>
<rect x="331.1" y="390.1" width="0.6" height="53.3" fill="#2a1d22" fill-opacity="0.75"/>
<rect x="349.4" y="390.1" width="0.6" height="53.3" fill="#2a1d22" fill-opacity="0.75"/>
<rect x="368.2" y="390.1" width="0.6" height="53.3" fill="#2a1d22" fill-opacity="0.75"/>
<rect x="387" y="390.1" width="0.6" height="53.3" fill="#2a1d22" fill-opacity="0.75"/>
<rect x="403" y="390.1" width="0.6" height="53.3" fill="#2a1d22" fill-opacity="0.75"/>
<rect x="419.9" y="390.1" width="0.6" height="53.3" fill="#2a1d22" fill-opacity="0.75"/>
<rect x="438.1" y="390.1" width="0.6" height="53.3" fill="#2a1d22" fill-opacity="0.75"/>
<rect x="457" y="390.1" width="0.6" height="53.3" fill="#2a1d22" fill-opacity="0.75"/>
<rect x="476" y="390.1" width="0.6" height="53.3" fill="#2a1d22" fill-opacity="0.75"/>
</g>
<g id="popLabels">
<text x="38" y="451.4" font-size="6.5" fill="#c5d5dc" textLength="13.2" lengthAdjust="spacingAndGlyphs">LWK</text>
<text x="57" y="451.4" font-size="6.5" fill="#cc7ab3" textLength="11.4" lengthAdjust="spacingAndGlyphs">ESN</text>
<text x="76.8" y="451.4" font-size="6.5" fill="#2fa9a9" font-weight="700" textLength="9.4" lengthAdjust="spacingAndGlyphs">YRI</text>
<text x="93.7" y="451.4" font-size="6.5" fill="#7a7a7a" textLength="11.3" lengthAdjust="spacingAndGlyphs">MSL</text>
<text x="110.2" y="451.4" font-size="6.5" fill="#a89a8a" textLength="14.8" lengthAdjust="spacingAndGlyphs">GWD</text>
<text x="129.9" y="451.4" font-size="6.5" fill="#7a4a2a" font-weight="700" textLength="12.3" lengthAdjust="spacingAndGlyphs">ACB</text>
<text x="145.2" y="451.4" font-size="6.5" fill="#f0913a" font-weight="700" textLength="13" lengthAdjust="spacingAndGlyphs">ASW</text>
<text x="160.1" y="451.4" font-size="6.5" fill="#a3d485" font-weight="700" textLength="11.5" lengthAdjust="spacingAndGlyphs">CLM</text>
<text x="175" y="451.4" font-size="6.5" fill="#f2d2a0" textLength="10.8" lengthAdjust="spacingAndGlyphs">MXL</text>
<text x="189.8" y="451.4" font-size="6.5" fill="#f8c890" textLength="12.3" lengthAdjust="spacingAndGlyphs">PUR</text>
<text x="208" y="451.4" font-size="6.5" fill="#ea8c9c" font-weight="700" textLength="9.8" lengthAdjust="spacingAndGlyphs">PEL</text>
<text x="226" y="451.4" font-size="6.5" fill="#217a52" font-weight="700" textLength="8.7" lengthAdjust="spacingAndGlyphs">TSI</text>
<text x="246" y="451.4" font-size="6.5" fill="#d2444c" font-weight="700" textLength="9" lengthAdjust="spacingAndGlyphs">IBS</text>
<text x="263.2" y="451.4" font-size="6.5" fill="#4f7fa8" font-weight="700" textLength="10.9" lengthAdjust="spacingAndGlyphs">GBR</text>
<text x="280.6" y="451.4" font-size="6.5" fill="#e8e0a8" textLength="11.5" lengthAdjust="spacingAndGlyphs">CEU</text>
<text x="299.7" y="451.4" font-size="6.5" fill="#b5d5e8" textLength="9.6" lengthAdjust="spacingAndGlyphs">FIN</text>
<text x="317.7" y="451.4" font-size="6.5" fill="#4a3058" font-weight="700" textLength="9.4" lengthAdjust="spacingAndGlyphs">PJL</text>
<text x="335.4" y="451.4" font-size="6.5" fill="#a3d485" textLength="10.2" lengthAdjust="spacingAndGlyphs">GIH</text>
<text x="354.4" y="451.4" font-size="6.5" fill="#b3b440" font-weight="700" textLength="9.4" lengthAdjust="spacingAndGlyphs">ITU</text>
<text x="372.4" y="451.4" font-size="6.5" fill="#d0d0c0" textLength="10.9" lengthAdjust="spacingAndGlyphs">STU</text>
<text x="389.7" y="451.4" font-size="6.5" fill="#f3b5cc" textLength="11.2" lengthAdjust="spacingAndGlyphs">BEB</text>
<text x="405.6" y="451.4" font-size="6.5" fill="#2a8a50" font-weight="700" textLength="12.3" lengthAdjust="spacingAndGlyphs">CDX</text>
<text x="423" y="451.4" font-size="6.5" fill="#c0b8d0" textLength="12.5" lengthAdjust="spacingAndGlyphs">KHV</text>
<text x="441.9" y="451.4" font-size="6.5" fill="#e58a3a" font-weight="700" textLength="12" lengthAdjust="spacingAndGlyphs">CHS</text>
<text x="460.8" y="451.4" font-size="6.5" fill="#b5e0e5" textLength="12" lengthAdjust="spacingAndGlyphs">CHB</text>
<text x="480.8" y="451.4" font-size="6.5" fill="#2a5a9a" font-weight="700" textLength="10" lengthAdjust="spacingAndGlyphs">JPT</text>
</g>
<text x="515.2" y="471.3" font-size="6.6" fill="#55555c" text-anchor="end" textLength="143.5" lengthAdjust="spacingAndGlyphs">© 2018 American Association for Cancer Research</text>
<text x="6.2" y="485.9" font-size="9.4" fill="#111" font-weight="700" font-style="italic" textLength="98" lengthAdjust="spacingAndGlyphs" stroke="#111" stroke-width="0.35">Cancer Research Reviews</text>
<text x="486.9" y="486" font-size="10.0" fill="#111" font-weight="700" textLength="28.2" lengthAdjust="spacingAndGlyphs" stroke="#111" stroke-width="0.4">AACR</text>
</svg></body></html>
